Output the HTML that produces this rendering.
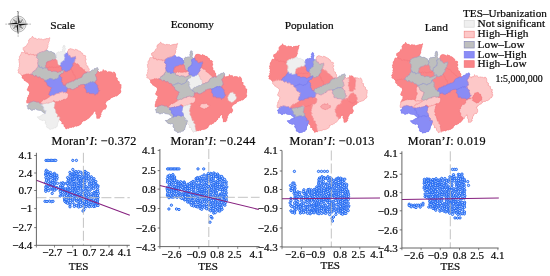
<!DOCTYPE html>
<html lang="en"><head><meta charset="utf-8"><title>Moran scatter and LISA cluster maps</title>
<style>html,body{margin:0;padding:0;background:#fff;}body{width:550px;height:276px;overflow:hidden;position:relative;}</style>
</head><body>
<svg width="550" height="276" viewBox="0 0 550 276" style="position:absolute;left:0;top:0;display:block">
<rect width="550" height="276" fill="#fff"/>
<g>
<path d="M52.8,106.4 54.4,109.6 53.9,110.1 54.8,110.6 54.9,113.7 55.5,113.5 57.0,115.1 56.3,115.8 56.6,117.8 58.8,118.5 57.7,123.3 58.2,121.7 59.0,121.4 59.4,119.6 62.0,122.0 61.7,124.0 63.6,124.0 63.9,126.3 65.5,127.8 65.8,128.9 66.4,129.1 67.4,128.2 68.5,128.2 68.8,128.8 69.2,127.6 71.9,127.5 72.4,126.8 73.0,127.6 75.4,126.1 76.4,126.5 77.0,125.7 77.9,126.1 81.2,124.1 81.9,122.0 82.3,122.1 83.3,120.9 84.8,120.9 86.3,119.8 86.7,120.0 87.8,118.5 89.0,118.3 89.9,116.8 91.3,115.8 91.7,114.2 92.8,114.4 93.5,112.5 94.5,111.2 95.8,111.4 95.6,113.6 97.0,115.9 96.5,115.8 96.7,118.3 99.7,118.2 100.0,116.7 100.9,116.6 100.3,115.8 101.6,113.9 101.0,114.0 101.1,112.9 102.3,111.3 102.4,110.3 104.4,109.1 105.1,109.5 106.5,107.1 106.6,105.6 105.0,102.8 105.8,102.9 106.4,101.3 109.5,99.5 109.8,99.9 111.2,97.6 111.6,97.9 114.2,96.7 114.5,97.1 115.2,96.0 116.4,96.2 120.3,93.2 121.2,91.1 120.3,89.8 121.2,87.4 121.3,84.7 119.4,84.0 119.4,81.7 117.2,80.3 117.4,78.0 115.5,77.2 116.0,76.0 115.8,74.2 114.6,72.2 113.4,71.8 113.5,73.9 111.9,72.1 110.6,71.8 107.9,71.8 106.7,72.7 106.7,71.0 105.1,70.6 104.0,71.0 103.1,69.3 102.6,71.4 100.3,71.7 99.3,72.3 97.7,70.4 98.4,69.7 97.2,67.5 96.8,71.3 95.4,73.6 93.9,74.1 94.5,75.4 93.6,77.2 94.6,77.9 95.2,77.1 95.8,79.3 94.8,81.0 93.0,82.1 96.8,85.9 96.5,86.6 97.9,91.2 97.0,93.0 95.1,93.7 94.3,92.9 90.2,92.7 90.2,92.3 88.6,91.3 87.3,91.7 87.1,91.0 87.6,90.5 85.5,87.6 86.1,87.0 85.6,84.8 84.6,83.4 80.3,84.0 79.2,84.7 77.8,84.7 77.4,86.4 76.5,86.3 74.7,88.0 73.6,87.7 72.9,88.8 70.1,87.5 68.4,87.8 67.6,84.7 66.6,88.4 65.6,88.3 66.2,90.6 65.5,92.0 61.6,94.8 61.9,95.4 66.7,93.7 67.5,94.4 67.0,97.3 66.1,97.3 65.9,98.4 63.6,98.3 60.2,100.2 58.9,99.4 58.2,100.7 55.7,100.9 53.8,99.7 51.2,101.2 54.4,103.1 53.7,106.3Z" fill="#FA8588" fill-rule="evenodd"/>
<path d="M28.7,103.8 30.9,103.5 31.1,102.7 33.5,102.0 36.5,102.9 38.4,102.9 40.3,104.9 42.2,101.9 43.1,101.7 43.6,100.5 45.3,100.7 46.1,99.6 47.4,99.3 48.7,98.0 49.8,98.0 51.0,95.3 49.7,94.3 52.9,87.2 49.6,85.7 49.9,85.2 48.3,85.0 47.5,82.2 46.8,82.0 45.2,80.3 45.2,79.4 43.3,78.0 42.0,77.9 39.0,75.7 38.0,76.3 36.8,74.8 34.0,74.3 34.3,75.2 33.9,74.9 33.6,74.5 34.2,73.1 33.2,73.4 35.1,70.6 28.2,70.9 27.3,69.9 26.1,71.3 24.0,70.4 23.1,71.6 22.0,71.7 20.7,73.1 20.7,74.5 21.7,75.2 22.1,76.5 21.9,77.6 23.8,79.3 24.3,80.1 23.9,80.5 25.8,81.2 27.1,82.5 27.7,82.2 29.0,84.1 29.0,85.7 27.2,89.3 27.5,90.6 29.8,91.9 29.1,93.5 29.6,93.9 28.3,95.5 28.1,97.6 27.3,97.2 27.3,99.3 26.5,101.0 26.9,103.2 28.9,102.8Z" fill="#FA8588" fill-rule="evenodd"/>
<path d="M24.4,53.6 25.3,54.6 26.9,54.0 27.8,55.7 30.8,55.2 31.3,55.6 33.0,55.5 32.9,56.0 34.2,56.4 35.8,55.9 35.5,60.8 35.9,60.9 38.0,54.7 40.1,53.3 41.8,53.2 42.2,52.6 42.8,53.0 46.5,51.5 46.5,50.4 48.2,46.5 47.8,45.0 49.1,43.4 47.4,44.7 49.1,41.7 49.3,39.7 50.1,38.1 49.8,37.6 48.6,38.5 45.8,38.4 45.7,39.2 44.0,38.9 42.9,40.0 41.2,38.7 39.9,39.2 39.1,38.7 39.2,38.2 37.0,39.5 36.0,38.2 33.6,37.8 32.4,36.0 31.8,37.5 29.7,38.7 29.3,39.8 28.5,40.1 28.7,42.1 28.0,44.8 27.5,43.2 26.1,46.3 24.2,47.1 23.4,47.9 23.1,47.4 23.0,49.8 23.7,50.6 24.9,50.9 23.9,51.9Z" fill="#FDC8C8" fill-rule="evenodd"/>
<path d="M22.9,76.6 23.6,75.9 25.7,75.4 26.0,76.4 28.2,74.9 29.0,75.4 33.6,75.2 37.2,70.6 37.2,69.5 40.1,69.6 39.6,66.7 38.6,64.6 38.9,60.4 39.4,59.7 37.4,57.0 37.7,54.3 35.0,54.2 35.1,53.4 31.9,53.8 29.8,52.9 29.5,53.8 28.9,53.8 27.1,50.9 25.9,52.5 25.5,51.1 24.1,50.4 23.8,50.7 24.9,50.9 23.3,52.4 21.5,52.3 20.4,55.4 19.3,56.6 19.8,59.3 18.6,59.3 19.2,61.2 18.8,62.1 19.5,63.1 19.4,65.0 18.9,65.3 19.5,66.0 18.5,68.0 20.3,67.1 17.8,70.2 18.5,71.7 17.9,72.7 19.4,73.5 20.2,73.3 20.4,74.3 21.7,75.2 22.1,76.4Z" fill="#FDC8C8" fill-rule="evenodd"/>
<path d="M34.9,59.7 36.5,58.6 37.2,59.6 36.6,63.3 37.3,67.8 38.0,67.2 40.0,68.5 41.3,68.2 41.8,69.8 46.7,68.6 47.2,63.3 48.7,63.5 48.7,62.2 52.0,61.3 52.6,60.6 53.2,61.0 56.2,60.2 56.6,58.6 57.5,57.4 56.8,56.1 58.0,55.8 56.5,54.5 56.7,55.8 55.1,54.4 54.6,53.1 51.5,51.5 48.5,51.6 47.8,50.2 46.5,50.4 46.9,49.4 43.0,50.9 41.9,50.0 40.9,51.3 39.5,51.5 37.6,53.0 36.7,53.1Z" fill="#BEBFBE" fill-rule="evenodd"/>
<path d="M55.8,61.2 56.5,62.3 56.6,64.6 59.3,66.8 61.6,65.1 61.9,63.0 62.9,63.0 63.3,61.8 65.3,61.1 65.3,59.1 66.1,56.9 65.4,56.5 65.1,55.2 66.2,54.4 66.5,52.9 65.6,52.9 65.7,52.4 64.7,51.3 65.6,48.4 64.9,47.4 65.2,46.1 64.1,45.3 63.7,45.1 62.4,47.6 63.4,48.9 62.1,49.2 63.0,51.4 60.5,51.4 59.1,52.2 58.1,51.4 57.8,52.5 56.4,53.1 56.7,55.8 55.3,54.6 54.5,54.7 55.4,57.2 54.7,58.5 54.9,59.5 56.1,61.0Z" fill="#EFEFEF" fill-rule="evenodd"/>
<path d="M44.8,67.4 46.4,69.1 47.7,68.5 50.3,68.8 49.9,68.0 51.0,68.6 52.2,67.8 53.0,68.7 56.9,67.8 59.3,68.1 60.2,67.2 64.2,69.3 64.6,68.7 60.2,64.8 58.6,64.0 58.1,61.6 58.7,61.1 56.6,58.7 55.9,55.1 54.8,58.7 53.5,59.1 52.2,58.2 51.2,59.4 50.0,60.0 44.7,60.8 46.1,61.6 45.4,62.6 45.2,64.9 43.7,65.9 44.9,66.5Z" fill="#FA8588" fill-rule="evenodd"/>
<path d="M42.0,66.7 46.2,69.2 46.8,68.8 46.7,69.6 47.6,71.1 49.8,71.3 51.2,72.5 53.9,71.9 55.6,72.1 56.2,72.4 56.4,73.3 59.8,72.6 61.4,74.1 61.4,71.6 67.1,71.9 67.3,71.0 62.4,69.6 62.4,68.7 63.7,68.4 61.2,65.7 59.6,64.9 58.6,66.3 57.0,66.0 53.4,66.5 53.0,66.1 51.5,66.0 50.9,66.5 49.3,65.6 47.9,66.7 46.4,67.1Z" fill="#FA8588" fill-rule="evenodd"/>
<path d="M67.5,52.9 66.5,53.3 67.3,54.5 67.3,56.0 69.2,56.3 69.4,57.2 70.9,58.4 73.8,59.1 73.7,58.4 73.9,58.6 74.6,58.0 73.8,61.0 73.0,61.8 72.9,63.7 74.3,63.6 78.1,66.1 77.2,67.8 78.8,67.4 81.2,68.8 81.4,69.4 83.6,71.1 85.8,73.6 87.7,72.7 90.4,73.8 90.7,71.3 89.7,72.1 89.8,71.1 89.1,71.0 89.0,70.2 89.4,68.9 88.0,67.3 88.0,65.9 87.0,65.9 86.1,64.3 86.5,63.3 85.0,60.6 86.0,60.3 86.3,59.0 85.2,58.0 86.1,56.8 85.1,55.3 83.5,55.3 82.2,52.8 81.2,52.9 81.2,52.2 80.0,51.0 78.0,50.7 78.0,50.1 75.8,49.4 75.3,48.8 74.7,50.3 72.7,49.0 70.3,48.6 68.6,49.2 67.5,51.4Z" fill="#FDC8C8" fill-rule="evenodd"/>
<path d="M58.9,76.2 60.9,78.1 60.3,80.2 60.9,80.6 60.0,81.8 61.6,82.9 62.8,86.1 64.1,86.0 64.2,89.2 67.5,83.9 68.2,84.5 69.3,83.2 70.5,82.8 71.6,83.1 72.1,81.9 73.8,81.9 74.3,81.4 74.7,82.1 76.5,78.5 75.7,74.8 74.0,73.5 74.0,71.1 73.1,70.9 72.4,69.7 74.5,69.1 70.8,67.6 69.3,69.4 67.1,70.0 66.8,69.7 66.0,70.7 64.0,68.6 62.4,72.5 61.3,72.4 59.4,74.0Z" fill="#FA8588" fill-rule="evenodd"/>
<path d="M70.7,70.5 71.3,71.2 71.1,72.4 72.0,72.5 72.9,75.7 74.2,75.8 74.7,78.4 74.0,80.5 77.1,79.9 78.3,80.2 78.9,79.0 82.7,77.7 83.8,74.9 85.0,74.1 86.2,73.6 88.2,73.9 86.4,68.8 87.8,66.9 86.5,65.9 83.9,69.1 83.0,68.4 82.7,67.2 80.2,66.1 80.4,65.6 78.0,62.8 76.7,63.1 74.9,61.7 72.3,62.0 72.6,62.7 71.6,63.3 72.0,65.6 67.2,72.7 68.1,73.3Z" fill="#FA8588" fill-rule="evenodd"/>
<path d="M31.2,75.5 32.0,75.4 33.9,77.3 36.1,77.1 40.0,79.4 39.6,78.1 40.3,78.7 39.9,80.2 42.6,79.8 43.4,80.3 43.4,81.5 44.9,82.5 45.8,81.3 46.1,81.5 48.3,80.3 49.0,81.3 50.1,79.4 53.4,80.7 55.3,80.8 55.5,80.0 56.6,80.0 59.9,77.7 60.1,75.6 61.3,75.2 62.1,74.3 63.9,74.2 65.3,70.6 65.2,68.6 64.0,68.8 62.8,68.2 62.2,69.7 60.6,69.9 57.9,71.4 56.0,70.4 53.7,70.0 51.8,70.6 51.3,69.7 48.7,69.4 48.7,67.6 46.7,66.8 45.3,67.1 44.7,66.7 43.0,67.6 42.3,65.6 40.3,66.6 40.4,65.2 38.4,64.5 37.8,65.1 35.7,64.9 37.0,66.3 36.2,67.0 35.3,69.0 33.8,69.6 33.5,70.5 33.0,70.3 31.1,73.2 27.1,73.6Z" fill="#BEBFBE" fill-rule="evenodd"/>
<path d="M44.6,82.2 45.3,83.5 45.9,83.7 47.0,86.5 50.3,88.3 49.3,89.6 49.7,90.3 48.8,91.4 47.7,94.1 47.7,95.3 50.7,96.8 52.8,96.0 53.9,96.5 54.4,96.2 54.0,98.9 55.5,99.1 56.4,94.6 58.6,94.2 60.7,95.3 60.2,93.3 62.6,92.7 63.1,94.5 65.2,93.1 66.5,93.9 68.1,90.9 68.6,87.9 66.5,85.7 65.9,85.7 65.9,84.6 64.0,84.2 62.5,81.3 62.7,81.0 66.1,82.2 66.6,80.7 62.5,79.1 62.9,77.8 61.7,76.0 60.9,75.6 61.4,73.1 58.8,74.2 58.0,76.8 56.2,78.1 55.4,78.0 53.8,78.9 50.8,77.6 49.0,77.6 46.1,79.5 45.3,79.0 42.3,82.8Z" fill="#898CF6" fill-rule="evenodd"/>
<path d="M59.0,63.9 59.9,66.9 60.8,67.9 60.3,69.2 61.5,70.6 63.6,70.7 64.8,72.6 66.9,72.3 67.7,73.1 68.4,71.4 70.5,70.8 74.1,66.1 73.6,64.2 74.7,63.6 76.0,59.4 78.8,58.8 76.5,57.6 76.2,55.0 71.5,56.6 69.5,53.5 69.1,54.2 67.7,51.0 67.5,52.9 65.6,52.9 65.7,52.5 64.6,53.4 63.2,53.7 63.8,57.8 63.5,59.6 61.6,61.2 60.8,61.1 59.7,63.3 59.8,64.2Z" fill="#898CF6" fill-rule="evenodd"/>
<path d="M44.4,114.6 46.3,114.4 46.5,111.9 48.3,109.7 45.4,109.9 44.6,109.0 45.3,108.6 42.8,104.8 43.9,102.1 40.5,102.6 39.7,101.3 36.9,101.2 33.6,100.0 31.5,100.9 30.1,100.1 29.6,101.7 28.0,102.4 27.9,103.0 28.9,102.8 28.5,105.0 26.4,105.8 27.5,106.1 27.8,109.0 28.9,109.2 29.5,108.8 31.6,110.4 32.9,110.2 33.2,109.4 34.5,109.8 35.4,108.9 36.3,109.1 36.7,109.9 41.0,110.4 44.7,113.4 43.8,114.0Z" fill="#BEBFBE" fill-rule="evenodd"/>
<path d="M38.6,104.3 43.3,105.1 44.1,104.4 47.0,104.0 47.6,104.4 52.5,102.8 53.4,104.1 53.8,101.9 54.5,102.3 54.8,105.5 56.6,102.7 59.3,102.5 59.6,102.0 60.7,102.2 62.0,101.1 64.6,100.8 64.3,100.2 67.0,100.0 67.6,99.1 68.2,99.0 69.3,94.8 70.0,94.0 65.5,91.1 63.9,91.5 63.0,90.8 59.0,91.6 58.1,92.4 56.6,92.7 56.7,91.8 53.7,94.4 52.7,94.0 48.8,96.3 48.4,95.6 47.1,97.5 46.1,98.2 45.4,98.0 44.7,98.9 43.7,98.4 42.2,99.3Z" fill="#FDC8C8" fill-rule="evenodd"/>
<path d="M59.9,119.8 61.0,118.5 60.6,116.0 58.9,115.6 59.4,115.1 57.1,112.6 56.8,109.7 55.1,107.6 55.8,104.2 56.5,103.4 55.8,101.9 54.0,100.7 52.4,99.7 52.2,100.7 51.3,101.3 49.3,101.8 47.8,101.4 47.8,102.4 46.2,101.3 45.7,102.6 43.3,102.7 42.9,103.1 41.1,102.7 41.0,105.0 37.8,106.8 42.1,106.6 42.8,107.8 41.9,108.2 44.7,111.8 44.7,112.8 44.1,113.0 44.7,113.4 42.6,114.7 42.0,114.3 41.9,115.2 39.6,116.6 37.1,116.7 39.8,119.7 42.4,120.7 43.3,120.2 45.1,120.5 45.6,122.5 44.9,122.4 45.2,123.5 46.9,125.2 46.4,126.6 47.1,127.8 49.1,128.4 49.8,129.6 52.5,128.8 52.7,129.3 53.9,128.1 56.2,127.7 56.6,126.2 57.3,126.5 58.2,121.7 59.0,121.4 59.4,119.6Z" fill="#EFEFEF" fill-rule="evenodd"/>
<path d="M64.1,87.3 65.6,87.4 66.8,88.6 67.0,89.6 68.1,89.9 69.3,89.4 68.9,89.8 73.4,91.0 74.3,89.8 75.9,89.5 77.1,88.2 78.6,88.5 79.2,86.5 81.0,85.7 83.0,86.3 83.1,85.3 83.9,85.3 86.1,86.1 86.3,85.0 87.4,85.3 88.3,84.0 89.0,83.8 90.3,84.3 90.7,83.0 94.6,83.2 98.5,79.9 97.6,79.1 97.6,76.2 96.7,76.1 96.4,75.2 98.5,71.9 97.7,70.4 98.4,69.8 98.4,69.3 97.5,67.5 95.7,68.5 94.1,68.6 93.8,69.9 92.3,69.7 89.7,72.1 89.8,71.1 89.3,71.4 87.9,70.8 85.4,71.4 85.6,71.9 82.9,73.3 81.7,75.0 81.2,74.7 81.0,76.5 79.4,77.2 78.4,77.0 77.3,78.0 75.1,78.8 74.6,77.8 73.1,80.1 70.9,80.0 70.5,80.9 68.0,81.9 67.4,81.4 65.9,82.9 62.6,84.1 64.8,84.8 64.2,85.9Z" fill="#BEBFBE" fill-rule="evenodd"/>
<path d="M82.3,82.7 84.1,86.4 82.2,88.5 84.3,88.9 85.2,90.4 85.6,93.6 88.4,93.4 88.5,94.3 93.5,94.6 94.0,95.1 94.7,98.6 96.0,95.3 98.5,94.7 98.8,92.9 102.6,88.7 99.2,89.6 99.3,87.8 98.5,86.7 99.4,84.8 97.4,84.2 96.7,83.0 98.7,79.0 98.2,78.6 95.3,81.9 93.5,81.2 91.8,78.4 91.7,81.4 90.3,80.6 89.1,81.9 84.9,83.7Z" fill="#898CF6" fill-rule="evenodd"/>
<path d="M84.9,86.6 83.7,87.9 84.4,88.0 86.1,90.4 85.9,90.7 86.2,91.8 86.3,92.9 87.9,92.8 88.5,92.5 89.1,92.9 89.2,93.7 93.8,94.0 94.6,94.7 94.9,96.1 95.5,94.8 96.6,94.1 97.9,94.0 98.2,92.7 100.4,90.1 98.8,90.5 98.5,89.8 98.6,88.3 98.2,88.1 97.7,86.6 98.4,85.4 98.0,85.3 96.9,84.7 95.8,83.1 96.6,81.7 96.4,81.6 95.5,82.6 95.0,82.7 94.5,82.1 93.1,81.9 92.4,80.8 92.4,82.2 91.3,82.1 90.4,81.5 89.8,82.0 89.6,82.8 89.0,82.6 87.8,83.0 86.9,83.9 86.3,83.7 85.4,84.3 85.3,84.6 83.7,84.0 84.3,85.3 84.6,85.5ZM61.6,67.8 61.1,69.0 61.9,69.9 63.2,70.1 64.0,69.8 64.2,70.5 65.2,71.9 66.5,71.8 66.9,71.3 67.5,71.9 68.0,70.7 69.2,70.7 70.0,70.2 72.0,67.1 73.3,65.9 72.8,63.9 74.0,63.2 74.0,62.3 74.8,61.5 75.1,60.2 75.0,60.0 75.5,58.8 76.7,58.6 75.7,58.0 75.8,57.3 75.6,56.0 74.4,56.6 73.9,57.1 73.3,56.5 72.3,57.0 72.4,57.6 71.4,57.3 70.4,56.6 70.1,55.5 69.6,54.8 69.3,55.2 68.4,55.1 68.4,54.1 67.9,53.4 68.1,53.2 67.5,52.1 67.5,52.9 66.3,52.9 64.7,54.2 64.4,54.1 63.9,54.3 64.4,57.3 64.7,57.4 64.2,59.0 64.2,60.2 63.3,60.3 62.3,61.1 62.1,61.9 61.2,61.9 60.4,63.4 60.6,65.2 60.1,65.0 60.5,66.6ZM48.0,86.2 49.4,86.8 50.4,87.6 51.3,87.9 50.2,89.6 50.5,90.3 49.4,91.7 49.1,93.2 48.4,94.3 48.4,94.6 48.7,94.7 49.1,95.2 50.8,96.1 52.8,95.2 53.8,95.7 55.3,94.6 55.1,95.5 55.5,95.6 55.8,94.1 58.7,93.4 59.6,93.9 59.3,92.7 59.4,92.7 60.8,92.5 62.7,92.0 63.2,92.3 63.5,93.3 64.4,92.5 65.3,92.3 66.3,92.9 67.4,90.8 67.2,89.6 67.4,89.6 67.8,88.1 66.2,86.4 65.2,86.3 65.2,85.1 64.6,84.9 63.5,85.0 62.5,82.1 61.5,81.5 62.0,80.9 62.0,80.1 63.0,80.4 63.1,80.1 61.7,79.5 62.1,77.9 61.3,76.6 60.8,76.5 60.1,75.9 60.5,74.3 59.3,74.8 58.7,76.1 58.7,77.1 56.3,78.8 55.5,78.7 54.5,79.2 54.4,79.7 53.7,79.6 52.8,79.0 50.6,78.3 49.4,78.3 48.9,79.2 48.5,78.8 47.6,79.5 46.1,80.3 45.5,79.9 44.2,81.6 44.8,81.5 45.9,82.7 46.0,83.0 46.6,83.1 46.7,84.6 47.6,86.0 48.1,86.1Z" fill="#898CF6" fill-rule="evenodd"/>
<path d="M81.8,75.9 81.7,77.0 79.4,77.9 78.6,77.8 77.9,78.4 77.6,78.9 77.3,78.7 75.9,79.1 74.8,79.9 74.5,79.3 74.1,80.2 73.4,80.8 71.4,80.7 70.9,81.8 70.5,81.6 68.7,82.2 68.1,82.9 67.4,82.4 66.3,83.5 64.9,84.1 65.7,84.3 65.7,84.6 64.8,86.1 64.8,86.7 66.0,86.8 67.4,88.3 67.6,89.0 68.1,89.2 69.0,88.7 70.0,88.6 70.6,88.9 70.2,89.3 72.5,89.8 73.2,90.1 74.1,89.0 74.8,89.2 75.5,88.9 75.9,88.3 76.8,87.4 78.1,87.7 78.7,85.8 79.5,85.8 80.7,85.0 81.6,84.9 82.4,85.3 82.4,84.7 82.6,84.7 84.0,84.6 85.6,85.2 85.7,84.5 86.4,84.1 87.1,84.4 87.4,83.9 88.0,83.4 89.0,83.0 89.8,83.4 90.2,82.2 90.4,82.0 91.2,82.5 92.8,82.6 92.8,82.2 94.5,82.5 95.6,81.8 96.3,80.4 96.7,80.5 97.4,79.9 97.0,79.4 96.6,77.8 96.8,76.8 96.2,76.7 95.4,74.8 96.0,74.6 96.6,73.9 97.0,72.9 97.8,71.7 97.9,70.8 97.7,70.4 98.4,69.8 98.4,69.3 97.5,67.5 96.9,67.5 95.7,68.5 94.7,68.4 94.1,68.6 94.1,69.2 93.8,69.9 92.3,69.7 89.6,72.2 87.8,71.5 86.3,71.9 86.6,72.6 86.0,72.5 84.5,73.1 83.3,73.9 82.6,74.7 82.0,76.0ZM33.1,75.6 34.2,76.6 35.8,76.4 35.6,75.7 36.1,75.8 36.9,77.0 38.8,78.0 38.6,77.2 39.0,76.9 39.9,77.4 41.1,78.5 40.9,79.3 42.1,79.0 42.9,79.1 44.1,80.0 44.1,81.2 44.7,81.6 45.6,80.4 46.1,80.7 47.8,79.8 48.5,79.4 48.9,80.0 49.6,78.7 50.6,78.7 52.6,79.4 53.6,80.0 54.7,80.1 54.8,79.5 55.6,79.1 56.4,79.2 59.2,77.4 59.1,76.2 59.6,75.1 61.0,74.5 61.8,73.6 62.8,73.6 63.2,73.3 63.4,73.3 63.7,71.8 64.3,71.4 64.6,70.1 64.4,69.5 63.0,69.6 62.7,70.4 62.0,70.4 60.9,70.6 60.2,70.9 60.3,71.5 60.0,71.2 59.0,71.7 57.3,72.2 57.2,71.6 55.8,71.1 54.8,71.0 53.8,70.7 52.8,71.2 51.6,71.3 50.7,70.6 50.7,70.3 48.3,70.0 47.9,69.4 48.0,68.1 46.7,67.6 46.2,67.9 46.0,67.8 46.1,66.2 45.8,65.8 46.2,65.6 46.6,63.9 46.5,62.9 46.7,62.6 48.0,62.7 47.9,61.6 50.4,61.1 51.6,60.6 52.4,59.7 53.3,60.3 55.6,59.6 55.9,58.9 55.8,58.6 56.7,57.3 56.0,56.1 55.9,55.6 56.3,55.5 55.1,54.4 54.6,53.1 54.3,53.2 52.2,52.1 51.5,51.5 50.9,51.3 49.5,51.7 48.5,51.6 48.3,50.9 47.8,50.2 46.5,50.4 46.6,50.2 45.5,50.5 45.3,50.7 44.3,51.0 42.9,51.7 42.0,51.0 41.2,52.0 39.7,52.2 38.2,53.2 38.0,53.6 37.2,53.7 36.7,54.8 36.8,55.6 36.0,58.1 36.6,57.7 38.1,59.6 37.7,60.1 37.9,61.2 37.8,62.2 37.6,62.0 37.3,63.3 37.8,64.4 37.9,65.8 37.4,65.7 37.8,66.1 37.6,67.2 36.7,67.6 36.0,68.7 36.1,69.7 35.4,69.8 34.8,70.2 34.3,70.3 34.0,71.4 33.2,71.2 32.3,72.1 32.0,73.1 31.5,73.8 29.7,74.0 31.4,74.8 32.3,74.7ZM37.1,101.9 33.5,100.8 31.5,101.7 30.5,101.1 30.1,102.4 29.6,102.4 28.8,102.8 28.5,105.0 27.5,105.7 26.4,105.8 27.5,106.1 27.9,107.9 27.8,109.0 28.9,109.2 29.5,108.8 29.7,109.0 30.0,108.8 30.0,109.2 31.6,110.4 32.9,110.2 33.2,109.4 34.5,109.8 35.4,108.9 36.3,109.1 36.7,109.9 39.6,110.5 39.5,110.3 41.0,110.4 41.9,111.5 44.7,113.4 44.4,113.6 44.7,113.9 45.7,113.8 45.8,111.6 46.7,110.5 45.1,110.7 43.5,108.7 44.3,108.3 42.7,105.5 42.0,105.5 42.1,103.9 42.6,103.1 41.2,103.4 40.2,103.3 39.6,102.8 39.2,101.9 38.6,101.7Z" fill="#BEBFBE" fill-rule="evenodd"/>
<path d="M60.9,64.8 60.8,63.5 61.4,62.3 62.4,62.3 62.6,61.3 63.4,60.7 64.6,60.5 64.6,59.0 65.2,57.2 64.8,57.0 64.4,54.6 64.7,54.7 65.6,54.0 65.8,52.9 65.6,52.9 65.7,52.4 64.7,51.3 65.6,48.4 64.9,47.4 65.2,46.1 64.1,45.3 63.9,45.4 63.7,45.1 62.4,47.6 63.4,48.9 62.1,49.2 63.0,51.4 61.3,51.6 60.5,51.4 59.1,52.2 58.1,51.4 58.1,52.0 57.8,52.5 56.6,52.8 56.4,53.1 56.7,55.8 55.9,55.1 55.4,55.2 55.7,56.3 56.2,57.3 55.6,58.0 55.5,58.6 55.5,59.1 56.3,60.3 57.1,61.1 56.7,61.4 57.2,62.2 57.0,63.3 57.5,63.9 57.4,64.3 59.1,65.8 59.4,65.4 60.1,65.6ZM42.5,105.9 43.8,108.1 42.9,108.5 43.9,110.0 45.0,111.1 45.8,111.0 45.4,111.5 45.3,113.4 44.4,113.6 42.6,114.7 42.0,114.3 41.9,115.2 41.4,115.6 40.8,115.5 39.6,116.6 38.2,116.9 37.1,116.7 38.0,118.0 39.1,119.1 39.9,119.5 39.8,119.7 42.1,120.3 42.4,120.7 43.0,120.7 43.3,120.2 45.1,120.5 45.6,122.5 44.9,122.4 45.2,123.5 46.1,124.8 46.9,125.2 46.4,126.6 47.1,127.8 48.0,127.9 49.1,128.4 49.3,129.1 49.8,129.6 52.5,128.8 52.7,129.3 53.9,128.1 55.2,128.1 56.2,127.7 56.0,127.1 56.6,126.2 57.3,126.5 57.6,124.2 58.0,123.0 58.2,121.7 58.7,121.8 59.0,121.4 59.2,119.9 59.0,120.0 60.2,118.3 60.0,116.6 58.3,116.2 57.6,116.7 57.5,116.2 58.5,115.1 57.5,113.9 56.5,113.0 56.3,112.2 56.1,112.2 56.1,111.4 55.8,109.8 55.7,109.8 55.9,109.6 54.6,108.1 54.3,107.4 54.5,107.4 54.8,106.6 55.1,104.0 55.7,103.2 55.3,102.3 52.9,100.9 52.8,101.3 52.7,101.2 51.7,102.0 49.3,102.5 48.5,102.3 48.5,103.1 47.8,103.2 46.5,102.4 46.2,103.2 44.8,103.2 43.7,103.4 43.0,103.9 41.7,103.6 41.6,105.4 40.6,106.0Z" fill="#EFEFEF" fill-rule="evenodd"/>
<path d="M68.0,55.4 69.5,55.7 69.6,55.5 70.0,56.8 71.2,57.7 72.9,58.1 72.7,57.2 73.2,57.0 73.9,57.6 74.7,56.9 75.3,56.6 75.4,57.3 75.2,58.2 75.6,58.4 75.2,58.5 74.5,60.1 74.7,60.3 74.5,61.3 73.6,62.1 73.6,62.9 74.5,62.8 75.3,63.5 77.6,65.0 77.8,64.7 77.1,64.2 77.5,64.1 79.1,65.8 78.6,66.7 79.0,66.6 81.3,68.1 81.8,68.2 82.0,69.0 84.1,70.5 86.0,72.8 86.9,72.4 86.8,72.2 87.8,72.0 89.8,72.8 89.9,71.9 89.7,72.1 89.8,71.1 89.1,71.0 89.0,70.2 89.4,68.9 88.4,68.0 88.0,67.3 88.0,65.9 87.0,65.9 86.1,64.3 86.5,63.3 86.1,63.1 85.9,62.1 85.0,60.6 86.0,60.3 86.3,59.0 85.2,58.0 85.5,57.2 86.1,56.8 85.9,56.2 85.1,55.3 83.5,55.3 83.0,55.0 83.0,53.8 82.2,52.8 81.2,52.9 81.2,52.2 80.0,51.0 78.0,50.7 78.0,50.1 75.8,49.4 75.3,48.8 74.7,50.3 72.7,49.0 72.1,49.2 71.7,48.9 70.3,48.6 69.0,49.1 68.8,49.4 68.6,49.2 67.9,50.7 67.5,51.4 67.5,52.9 67.6,53.1 67.4,53.4 68.0,54.3ZM41.6,104.0 43.1,104.4 43.8,103.7 46.4,103.6 46.7,103.0 47.7,103.6 49.0,103.4 48.9,102.9 49.2,102.9 51.8,102.3 52.6,101.8 53.0,102.3 53.2,101.3 53.7,101.0 55.2,101.9 55.3,103.4 56.3,101.9 57.4,102.0 58.9,101.8 59.3,101.0 59.9,101.3 60.5,101.4 61.7,100.4 63.3,100.5 63.6,100.4 63.4,99.9 63.9,99.5 65.4,99.6 66.6,99.4 67.1,98.4 67.7,98.3 68.3,96.9 68.6,94.5 69.0,94.1 67.3,92.8 66.4,92.5 65.4,91.9 64.2,92.2 63.7,92.6 63.5,92.1 62.8,91.5 60.7,92.1 59.3,92.3 58.8,92.6 59.0,93.1 58.7,93.0 55.4,93.7 55.4,94.0 53.8,95.2 52.7,94.8 50.8,95.7 50.0,96.5 48.5,97.2 48.4,96.9 47.6,98.1 46.7,98.5 46.4,99.0 45.7,98.8 44.8,99.8 43.8,99.2 42.7,99.8 42.3,100.7 41.5,100.9 39.8,103.7 41.2,103.8 41.8,103.7ZM22.0,75.6 22.7,75.8 23.4,75.1 23.8,75.2 25.2,74.8 26.2,74.3 26.4,75.1 27.1,74.5 28.4,74.2 29.1,74.7 31.7,74.2 32.4,73.2 32.7,72.3 33.3,71.6 34.2,71.9 34.6,70.6 34.9,70.6 35.5,70.1 36.5,70.0 36.4,68.8 37.0,67.9 38.0,67.5 38.1,66.2 38.4,66.2 38.1,65.8 38.0,65.1 37.7,63.0 37.8,62.8 38.1,63.0 38.3,61.2 38.1,60.2 38.6,59.7 37.3,57.9 36.7,57.2 37.2,55.7 37.1,54.9 37.5,54.1 38.2,54.0 38.5,53.5 39.9,52.6 41.4,52.5 42.1,51.5 42.9,52.2 44.5,51.3 45.7,51.0 46.0,49.9 46.8,49.5 47.6,47.6 48.2,46.5 47.8,45.0 49.1,43.4 47.4,44.7 49.1,41.7 49.5,40.2 49.3,39.7 50.1,38.1 49.8,37.6 48.6,38.5 45.8,38.4 45.7,39.2 44.0,38.9 42.9,40.0 42.1,39.1 41.2,38.7 39.9,39.2 39.1,38.7 39.2,38.2 37.0,39.5 36.4,38.9 36.0,38.2 34.1,38.1 33.6,37.8 32.4,36.0 31.8,37.5 30.5,38.4 29.7,38.7 29.3,39.8 28.5,40.1 28.7,42.1 28.0,44.8 27.5,43.2 27.3,44.2 26.3,45.4 26.1,46.3 24.2,47.1 23.4,47.9 23.1,47.4 23.0,49.8 23.7,50.6 24.9,50.9 24.6,51.5 24.4,51.3 23.3,52.4 21.9,52.1 21.5,52.3 20.4,55.4 20.2,55.4 19.3,56.6 19.4,58.0 19.8,59.3 18.6,59.3 18.9,60.6 19.2,61.2 18.8,61.8 18.8,62.1 19.5,63.1 19.4,65.0 18.9,65.3 19.5,66.0 19.2,67.0 18.5,68.0 20.3,67.1 17.8,70.2 18.5,71.7 17.9,72.7 19.4,73.5 20.2,73.3 20.4,74.3 21.7,75.2Z" fill="#FDC8C8" fill-rule="evenodd"/>
<path d="M54.7,103.8 54.4,106.5 54.2,107.0 53.8,107.0 54.2,108.3 55.3,109.6 55.1,109.9 55.5,110.1 55.7,111.5 55.7,112.8 56.0,112.7 56.2,113.2 57.2,114.2 57.9,115.1 57.1,116.0 57.3,117.3 58.3,116.6 59.6,116.9 59.8,118.2 59.5,118.6 59.2,120.1 59.3,120.1 59.4,119.6 62.0,122.0 61.7,124.0 62.3,124.1 63.6,124.0 64.0,125.2 63.9,126.3 65.5,127.8 65.8,128.9 66.4,129.1 66.4,129.0 67.4,128.2 68.5,128.2 68.8,128.8 69.2,127.6 71.1,127.4 71.9,127.5 72.4,126.8 73.0,127.6 73.8,126.9 75.4,126.1 76.4,126.5 77.0,125.7 77.9,126.1 79.3,125.2 80.2,124.9 80.5,124.4 81.2,124.1 81.9,122.0 82.3,122.1 83.3,120.9 84.8,120.9 86.3,119.8 86.7,120.0 87.0,119.4 87.8,118.5 89.0,118.3 89.6,117.6 89.9,116.8 91.3,115.8 91.3,114.8 91.7,114.2 92.8,114.4 93.5,112.5 94.5,111.2 95.8,111.4 95.6,113.6 97.0,115.9 96.5,115.8 96.8,116.9 96.7,118.3 97.3,118.6 98.1,118.3 98.7,118.4 99.7,118.2 100.0,116.7 100.9,116.6 101.0,116.3 100.3,115.8 101.1,114.2 101.6,113.9 101.0,114.0 101.1,112.9 102.1,111.3 102.3,111.3 102.4,110.3 104.4,109.1 105.1,109.5 106.5,107.1 106.6,105.6 106.2,105.5 105.0,102.8 105.8,102.9 106.2,102.3 106.2,101.7 106.4,101.3 107.4,101.1 108.5,100.1 109.5,99.5 109.8,99.9 109.8,99.5 111.2,97.6 111.6,97.9 112.4,97.2 114.2,96.7 114.5,97.1 115.2,96.0 116.4,96.2 118.2,95.0 118.3,94.4 120.1,93.1 120.3,93.2 121.2,91.1 120.7,90.2 120.3,89.8 120.8,89.1 121.2,87.4 121.0,87.2 120.9,85.8 121.3,84.7 121.0,84.5 119.4,84.0 119.4,81.7 118.8,81.6 118.0,80.6 117.2,80.3 117.4,78.0 115.5,77.2 116.0,76.0 115.7,75.2 115.8,74.2 115.2,73.3 114.6,72.2 113.4,71.8 113.5,73.9 111.9,72.1 110.6,71.8 110.1,72.0 109.4,71.6 107.9,71.8 106.7,72.7 106.7,71.0 105.1,70.6 104.0,71.0 103.1,69.3 102.6,71.4 101.5,71.8 100.3,71.7 99.8,72.0 99.9,72.5 99.5,72.2 99.3,72.3 98.3,71.5 97.7,70.4 97.9,70.3 97.6,69.8 97.5,71.5 96.1,73.9 95.7,74.3 94.9,74.5 95.9,77.1 96.3,77.1 96.2,77.8 96.6,79.6 96.8,79.8 96.6,80.0 96.0,80.0 95.3,81.5 94.1,82.2 94.9,83.1 95.4,83.1 96.7,85.0 97.7,85.7 97.3,86.6 97.8,88.0 97.7,88.3 98.1,88.5 98.1,89.8 98.6,91.0 99.1,90.8 97.8,92.5 97.6,93.6 96.5,93.7 95.1,94.5 95.0,94.8 95.0,94.5 94.0,93.6 92.4,93.4 92.2,93.6 91.2,93.4 89.5,93.4 89.5,92.7 88.6,92.1 87.9,92.4 86.6,92.5 86.3,90.8 86.7,90.5 86.0,89.7 85.2,88.2 84.5,87.6 85.3,86.8 85.0,85.2 84.6,85.0 84.2,84.2 82.5,84.3 82.1,84.7 81.7,84.5 80.5,84.6 79.4,85.4 78.4,85.4 77.8,87.2 76.7,87.0 75.6,88.0 75.2,88.6 74.8,88.8 73.9,88.5 73.1,89.6 71.0,89.1 71.3,88.7 70.0,88.2 68.9,88.3 67.9,88.7 67.6,87.4 67.1,89.2 66.6,89.1 67.0,90.7 66.0,92.5 64.8,93.4 64.9,93.5 66.5,92.9 67.1,93.1 68.4,94.2 68.2,94.5 67.9,96.8 67.4,98.0 66.7,98.0 66.7,98.3 66.3,99.0 65.4,99.2 63.8,99.1 62.9,99.7 63.1,100.1 61.6,100.0 60.4,101.0 60.0,101.0 59.2,100.4 58.6,101.4 57.4,101.6 56.1,101.5 55.6,102.2 55.6,101.7 53.8,100.5 52.6,101.2 55.0,102.6 55.2,103.1ZM61.6,80.8 61.0,81.6 62.1,82.4 63.2,85.4 64.5,85.3 64.8,85.4 64.9,86.8 66.2,84.7 66.0,84.1 66.5,83.9 67.5,82.9 68.1,83.5 68.9,82.6 70.5,82.0 71.2,82.3 71.6,81.2 73.6,81.2 74.5,80.2 74.7,80.7 75.4,79.5 77.1,79.2 77.8,79.4 78.2,78.7 78.7,78.2 79.5,78.3 81.0,77.8 82.1,77.2 82.1,76.6 83.0,74.9 83.5,74.2 84.7,73.4 86.1,72.9 87.2,73.1 86.4,71.0 86.2,71.1 86.4,72.2 86.2,72.3 84.4,70.3 85.2,69.3 84.9,69.0 84.1,70.0 82.4,68.8 82.2,67.8 81.5,67.7 79.5,66.5 79.3,66.3 79.5,65.7 77.7,63.6 76.6,63.9 74.7,62.4 73.6,62.5 73.6,62.9 72.4,63.7 72.8,65.8 71.7,66.8 69.7,69.9 69.1,70.3 67.7,70.4 67.3,71.2 66.9,70.7 66.3,71.4 65.4,71.5 64.3,70.1 64.0,71.1 63.4,71.5 63.1,72.9 62.7,73.2 61.6,73.1 60.8,74.2 60.0,74.5 59.7,76.0 60.6,76.9 61.0,77.0 61.7,78.0 61.2,79.7 61.6,79.9ZM46.2,68.4 46.8,68.0 47.5,68.3 47.4,69.5 48.0,70.4 50.3,70.7 51.4,71.8 52.9,71.6 53.8,71.2 54.8,71.4 55.8,71.5 56.8,71.9 57.0,72.6 57.6,72.6 59.9,71.7 60.7,72.4 60.7,71.1 62.0,70.8 63.8,70.9 63.8,70.7 61.8,70.1 61.5,69.0 61.8,68.1 62.4,68.0 59.9,65.5 59.2,65.3 57.8,64.2 57.9,63.8 57.5,63.2 57.6,62.1 57.2,61.5 57.7,61.1 56.6,60.0 55.9,58.9 55.8,57.8 55.3,59.3 53.4,59.8 52.4,59.1 51.5,60.2 50.2,60.7 48.4,61.1 46.9,61.3 47.5,61.7 47.6,62.2 46.5,62.1 46.1,62.8 46.2,63.9 45.8,65.3 45.1,65.8 45.7,66.1 45.5,67.2 46.1,67.8 45.0,67.7ZM28.8,103.1 29.7,102.8 30.4,102.8 30.8,101.7 31.5,102.1 33.4,101.2 35.9,101.9 36.0,102.1 36.6,102.3 38.9,102.2 39.2,103.0 40.2,103.8 41.8,101.3 42.6,101.1 43.1,99.9 43.8,99.6 45.0,99.9 45.7,98.9 47.0,98.7 48.3,97.4 49.3,97.2 50.1,95.5 48.8,94.4 49.5,93.3 49.8,91.9 50.7,90.8 51.0,90.3 50.6,89.7 51.8,87.6 50.6,87.2 49.6,86.5 48.6,86.0 48.7,85.8 47.8,85.6 47.1,84.5 46.9,82.8 46.3,82.6 44.9,81.0 44.5,80.9 44.5,79.8 43.1,78.7 42.1,78.6 41.4,78.7 41.5,78.4 40.1,77.1 39.0,76.5 38.1,77.0 38.1,77.2 37.2,76.7 36.4,75.4 35.0,75.2 35.3,76.0 34.3,76.1 32.8,74.6 32.9,74.2 31.4,74.3 30.5,73.9 29.8,74.2 29.2,74.2 28.5,73.7 27.0,74.1 26.6,74.4 26.5,73.6 25.1,74.5 23.8,74.8 23.3,74.7 22.6,75.4 21.3,74.7 21.4,75.0 21.7,75.2 22.1,76.5 21.9,77.6 22.5,78.6 23.8,79.3 24.3,80.1 23.9,80.5 24.6,80.5 25.8,81.2 27.1,82.5 27.7,82.2 29.0,84.1 29.0,85.7 28.4,86.6 27.8,87.9 27.9,88.5 27.2,89.3 27.5,90.6 28.6,91.1 29.8,91.9 29.4,93.4 29.1,93.5 29.6,93.9 29.3,94.5 28.3,95.5 28.1,97.6 27.3,97.2 27.3,99.3 26.5,101.0 26.7,101.2 26.6,102.4 26.9,103.2 28.9,102.8Z" fill="#FA8588" fill-rule="evenodd"/>
<path d="M59.6,119.1 59.7,119.8 62.0,122.0 61.8,124.0 63.7,124.0 64.1,125.2 64.0,126.3 65.5,127.8 65.8,128.9 66.3,129.0 67.4,128.2 68.5,128.2 68.8,128.7 69.2,127.6 71.9,127.4 72.4,126.7 73.0,127.5 74.6,126.4 75.4,126.1 76.4,126.5 76.9,125.7 77.9,126.1 79.3,125.1 80.2,124.8 80.5,124.3 81.2,124.0 81.6,122.7 81.6,121.8 82.3,122.1 83.3,120.9 84.8,120.9 86.3,119.8 86.7,120.0 86.9,119.4 87.8,118.5 89.0,118.3 89.6,117.6 89.8,116.8 91.3,115.8 91.3,114.7 91.7,114.2 92.8,114.3 93.4,112.5 94.5,111.2 95.1,111.2 95.2,110.5 95.8,111.9 95.6,113.6 97.1,115.9 96.5,115.9 96.9,116.9 96.7,118.3 97.3,118.5 98.1,118.2 98.7,118.4 99.6,118.2 100.0,116.6 100.9,116.6 100.9,116.4 100.3,115.8 101.0,114.2 101.3,114.0 101.0,114.0 101.0,112.9 102.2,111.3 102.3,110.3 104.4,109.0 105.1,109.4 106.5,107.1 106.5,105.7 106.1,105.5 104.8,102.8 105.8,102.9 106.4,101.3 107.3,101.0 108.4,100.1 109.5,99.5 109.8,99.7 109.7,99.4 111.2,97.6 111.6,97.8 112.4,97.2 114.1,96.6 114.5,97.0 115.2,95.9 116.4,96.2 118.2,95.0 118.3,94.3 120.1,93.0 120.3,93.1 121.1,91.1 120.3,89.8 120.8,89.1 121.1,87.4 120.8,87.0 121.0,86.9 120.9,85.8 121.2,84.8 120.9,84.5 119.4,84.0 119.3,81.8 118.7,81.6 117.9,80.7 116.7,80.1 117.1,80.1 117.3,78.0 115.5,77.2 115.9,76.0 115.7,75.2 115.7,74.2 114.6,72.2 113.5,71.9 113.5,72.6 112.7,73.1 111.8,72.2 110.6,71.8 109.6,72.3 109.7,71.9 109.4,71.6 107.9,71.9 107.3,72.3 106.6,71.9 106.6,71.0 105.1,70.7 103.7,71.0 103.7,70.6 103.1,69.4 102.6,71.4 101.5,71.8 100.3,71.7 100.0,71.9 100.2,72.9 98.3,71.6 97.8,70.7 97.7,71.6 96.5,73.8 95.9,74.5 95.2,74.7 96.1,76.8 96.6,76.9 96.5,77.8 96.8,79.5 97.2,79.9 96.7,80.3 96.2,80.3 95.5,81.7 94.5,82.3 95.0,82.8 95.6,82.8 96.0,82.5 95.7,83.1 96.8,84.8 98.1,85.5 97.5,86.6 98.0,88.2 98.4,88.4 98.3,89.8 98.7,90.7 99.8,90.5 98.0,92.6 97.8,93.9 96.5,94.0 95.3,94.7 95.0,95.5 94.8,94.6 93.9,93.8 89.3,93.6 89.3,92.8 88.5,92.4 87.9,92.7 86.4,92.7 86.0,90.8 86.3,90.5 85.0,88.4 84.5,87.8 84.1,87.8 85.0,86.7 84.7,85.4 84.4,85.2 84.0,84.4 82.5,84.5 82.3,84.7 82.2,85.0 81.6,84.7 80.6,84.9 79.5,85.7 78.6,85.6 78.0,87.5 76.8,87.3 75.4,88.8 74.8,89.0 74.0,88.8 73.2,89.9 70.6,89.2 70.8,88.8 70.0,88.4 69.0,88.5 68.0,89.0 67.7,88.9 67.6,88.4 67.3,89.4 66.9,89.4 67.2,90.8 66.1,92.8 66.5,92.6 67.2,92.9 68.7,94.1 68.4,94.6 68.1,96.9 67.6,98.2 67.0,98.2 66.5,99.2 65.4,99.4 63.9,99.3 63.2,99.8 63.4,100.3 61.7,100.3 60.4,101.3 59.9,101.2 59.3,100.7 58.8,101.7 57.4,101.9 56.2,101.8 55.5,102.8 55.4,101.8 53.7,100.8 53.1,101.2 55.2,102.4 55.5,103.2 55.0,103.9 54.7,106.5 54.4,107.2 54.1,107.3 54.5,108.2 55.6,109.6 55.5,109.8 55.7,109.9 55.9,112.4 56.2,112.4 56.4,113.1 58.2,115.1 57.3,116.1 57.4,116.9 58.3,116.4 59.8,116.7 60.1,118.3Z" fill="none" stroke="#F5777E" stroke-width="0.45" stroke-opacity="0.75" stroke-linejoin="round"/>
<path d="M21.8,75.3 22.2,76.5 21.9,77.6 22.6,78.5 23.9,79.3 24.3,80.1 24.0,80.5 24.6,80.4 25.8,81.2 27.1,82.5 27.5,82.2 28.0,82.5 29.0,84.1 29.0,85.8 28.4,86.7 27.9,87.9 27.9,88.6 27.2,89.3 27.5,90.6 28.6,91.1 29.8,91.9 29.5,93.4 29.2,93.5 29.7,93.9 28.3,95.5 28.2,97.6 27.4,97.3 27.4,99.3 26.6,100.9 26.7,101.2 26.6,102.4 26.9,103.1 30.2,102.6 30.6,101.4 31.5,101.8 33.5,100.9 36.0,101.7 36.2,101.9 36.7,102.0 38.6,101.9 39.1,102.0 39.4,102.9 40.1,103.4 41.6,101.1 42.4,100.9 42.9,99.7 43.8,99.4 44.9,99.6 45.6,98.6 46.9,98.4 48.2,97.1 49.2,97.0 49.8,95.6 48.8,94.8 48.5,94.4 49.3,93.2 49.6,91.8 50.7,90.3 50.4,89.6 51.5,87.8 50.4,87.4 49.5,86.7 48.3,86.1 48.3,85.9 47.7,85.8 46.9,84.6 46.7,83.0 46.1,82.8 44.9,81.3 44.3,81.1 44.3,79.9 43.0,78.9 42.1,78.8 41.1,79.1 41.2,78.5 40.0,77.3 39.0,76.8 38.4,77.2 38.4,77.6 37.0,76.9 36.2,75.7 35.4,75.5 35.6,76.3 34.2,76.4 33.2,75.5 32.4,74.5 31.4,74.6 30.5,74.2 29.2,74.5 28.4,74.0 27.1,74.3 26.5,74.8 26.3,74.0 25.2,74.7 23.8,75.1 23.4,75.0 22.7,75.7Z" fill="none" stroke="#F5777E" stroke-width="0.45" stroke-opacity="0.75" stroke-linejoin="round"/>
<path d="M45.8,49.8 47.0,49.2 47.6,47.5 48.2,46.5 47.8,45.0 48.8,43.7 48.4,42.8 49.0,41.7 49.5,40.2 49.3,39.8 49.1,39.8 50.0,38.1 49.8,37.6 48.6,38.5 45.8,38.5 45.7,39.4 44.0,38.9 43.1,39.8 43.1,40.2 42.1,39.2 41.2,38.8 39.8,39.2 39.1,38.7 39.2,38.3 36.9,39.5 36.3,38.9 36.0,38.2 34.1,38.1 33.5,37.9 32.4,36.1 31.8,37.5 30.5,38.5 29.7,38.7 29.4,39.6 29.5,39.9 28.5,40.2 28.7,42.1 28.5,42.9 27.7,43.7 27.5,43.4 27.3,44.2 26.4,45.4 26.1,46.3 24.2,47.1 23.4,47.9 23.1,47.6 23.2,48.1 23.0,48.6 23.1,49.7 23.8,50.6 25.1,50.9 24.8,51.7 25.2,53.1 25.6,53.5 27.0,53.0 27.2,52.7 28.4,54.7 30.0,54.6 30.4,53.9 30.8,54.0 31.6,54.6 34.0,54.4 34.0,55.3 34.2,55.4 35.7,54.9 36.8,55.0 36.7,56.1 36.9,55.6 36.9,54.8 37.3,53.9 38.0,53.7 38.4,53.3 39.8,52.4 41.3,52.2 42.0,51.2 42.9,51.9 44.4,51.1 45.4,50.8Z" fill="none" stroke="#F4888E" stroke-width="0.45" stroke-opacity="0.75" stroke-linejoin="round"/>
<path d="M24.2,51.6 23.3,52.5 21.9,52.2 21.5,52.3 20.5,55.3 20.8,55.5 20.2,55.4 19.3,56.7 19.4,58.0 19.7,59.0 19.1,59.3 18.7,59.3 18.9,60.6 19.2,61.2 18.8,62.1 19.6,63.0 19.4,65.1 19.0,65.3 19.5,66.0 19.2,67.0 18.6,67.9 19.0,67.8 18.7,69.1 17.8,70.2 18.7,71.6 18.0,72.6 19.4,73.4 20.2,73.3 20.4,74.2 22.1,75.4 22.7,75.5 23.3,74.9 23.8,75.0 25.1,74.6 26.3,73.9 26.6,74.6 27.0,74.2 28.4,73.9 29.2,74.4 31.5,74.0 32.2,73.1 32.5,72.1 33.2,71.3 34.1,71.6 34.5,70.4 34.8,70.4 35.4,69.9 36.2,69.8 36.2,68.8 36.8,67.7 37.7,67.3 37.9,66.1 37.5,62.9 37.7,62.4 37.9,62.5 38.0,61.2 37.8,60.2 38.3,59.7 37.1,58.0 36.6,57.5 36.3,57.6 36.6,56.4 36.7,55.1 35.7,55.0 34.2,55.5 33.9,55.4 34.0,54.5 31.6,54.7 30.8,54.1 30.4,54.0 30.1,54.7 28.3,54.8 27.2,52.8 27.1,53.1 25.5,53.6 25.1,53.2 24.7,51.8Z" fill="none" stroke="#F4888E" stroke-width="0.45" stroke-opacity="0.75" stroke-linejoin="round"/>
<path d="M36.4,57.5 36.6,57.4 37.2,58.0 38.4,59.7 37.9,60.2 38.1,61.2 38.0,62.6 37.8,62.5 37.6,63.3 38.0,64.4 38.1,65.9 38.6,65.5 39.3,65.7 39.1,66.8 40.2,67.5 41.9,66.9 42.5,68.6 43.6,68.3 44.7,67.7 45.2,68.1 45.7,67.9 45.8,66.3 45.4,65.8 46.0,65.4 46.3,63.9 46.3,62.8 46.6,62.3 47.7,62.4 47.7,61.6 47.5,61.4 48.5,61.3 51.5,60.4 52.4,59.3 53.4,60.0 55.4,59.4 55.5,58.6 56.4,57.3 55.8,56.2 55.6,55.4 56.0,55.3 55.1,54.4 54.6,53.1 53.9,53.4 53.8,53.0 52.2,52.2 51.5,51.5 50.9,51.4 49.5,51.7 48.4,51.6 48.3,50.9 47.8,50.2 45.6,50.7 45.5,50.9 44.4,51.2 42.9,52.0 42.0,51.3 41.4,52.3 39.8,52.4 38.4,53.4 38.1,53.8 37.4,53.9 37.0,54.9 37.0,55.7Z" fill="none" stroke="#9094D2" stroke-width="0.45" stroke-opacity="0.75" stroke-linejoin="round"/>
<path d="M59.3,65.2 60.1,65.3 60.7,64.7 60.6,63.4 61.3,62.0 62.2,62.1 62.4,61.2 63.3,60.5 64.4,60.3 64.4,59.0 64.9,57.4 64.5,57.2 64.1,54.5 64.5,54.3 64.7,54.4 65.4,53.8 65.7,52.4 64.7,51.4 65.6,48.4 65.2,47.9 64.8,47.8 65.2,46.1 64.1,45.3 63.9,45.4 63.7,45.2 63.3,46.1 63.8,46.6 63.1,46.5 62.4,47.6 63.0,48.4 63.0,49.0 62.2,49.2 63.0,51.4 61.3,51.7 60.5,51.4 59.1,52.3 58.2,51.6 58.2,52.1 57.9,52.5 56.7,52.8 56.5,53.1 56.6,54.3 56.2,55.3 55.7,55.4 56.5,57.3 55.8,58.1 55.8,59.0 56.5,60.1 57.4,61.1 57.0,61.4 57.4,62.1 57.3,63.2 57.8,63.8 57.7,64.3 59.1,65.5Z" fill="none" stroke="#DCDCDC" stroke-width="0.45" stroke-opacity="0.75" stroke-linejoin="round"/>
<path d="M46.4,62.8 46.4,63.9 46.1,65.5 45.6,65.8 45.9,66.0 45.8,67.1 46.6,67.9 47.5,67.5 48.7,67.6 48.6,67.3 49.4,66.6 50.9,67.5 51.8,66.9 52.6,66.9 53.2,67.6 53.9,67.2 55.4,67.3 55.9,67.0 56.9,66.9 58.1,67.2 58.9,67.1 59.8,66.0 60.3,66.2 59.7,65.7 59.1,65.6 57.6,64.3 57.7,63.8 57.2,63.2 57.3,62.1 56.9,61.4 57.3,61.1 56.4,60.2 55.6,59.0 55.5,59.5 53.4,60.1 52.4,59.5 51.6,60.5 50.3,60.9 47.7,61.5 47.8,62.5 46.7,62.4Z" fill="none" stroke="#F5777E" stroke-width="0.45" stroke-opacity="0.75" stroke-linejoin="round"/>
<path d="M47.7,69.4 48.2,70.2 50.5,70.4 51.5,71.5 52.8,71.4 53.8,70.9 54.8,71.2 55.8,71.2 57.0,71.7 57.2,72.4 59.1,71.9 59.9,71.4 60.4,71.8 60.4,71.0 62.3,70.5 61.6,70.3 61.3,69.2 61.6,67.9 61.9,67.8 60.6,66.5 59.9,66.1 59.0,67.2 58.1,67.3 56.9,67.0 55.9,67.1 55.4,67.4 53.9,67.3 53.2,67.7 52.6,67.0 51.8,67.0 50.9,67.6 49.4,66.7 48.7,67.3 48.8,67.8 47.5,67.6 47.0,67.8 47.8,68.2Z" fill="none" stroke="#F5777E" stroke-width="0.45" stroke-opacity="0.75" stroke-linejoin="round"/>
<path d="M67.9,53.1 67.7,53.4 68.2,54.2 68.3,55.2 69.4,55.4 69.6,55.1 69.9,55.5 70.3,56.7 71.3,57.5 72.6,57.8 72.5,57.1 73.3,56.7 73.9,57.3 74.5,56.7 75.5,56.3 75.7,57.3 75.5,58.1 76.2,58.5 75.3,58.7 74.8,60.0 75.0,60.2 74.7,61.4 73.9,62.2 73.9,62.7 74.6,62.6 76.6,64.0 77.6,63.8 79.3,65.7 79.1,66.3 81.4,67.8 82.0,68.0 82.2,68.9 83.7,70.0 84.1,70.2 84.4,69.9 84.2,70.3 86.1,72.5 86.6,72.3 86.6,72.0 87.8,71.7 89.6,72.4 89.7,71.1 89.1,71.1 89.0,70.2 89.4,68.9 88.6,68.3 88.5,68.3 88.0,67.3 88.0,65.9 86.9,65.8 86.1,64.3 86.4,63.4 86.1,63.1 85.9,62.2 85.1,60.6 85.9,60.3 86.2,59.0 85.2,58.0 85.4,57.2 86.0,56.8 85.9,56.2 85.0,55.4 83.5,55.4 83.0,55.0 82.9,53.8 82.1,52.9 81.1,53.1 81.2,52.2 80.0,51.1 78.0,50.8 77.9,50.1 75.8,49.4 75.3,48.9 74.6,50.3 72.7,49.1 72.1,49.3 71.6,49.0 70.3,48.7 69.3,49.0 68.8,50.0 68.6,49.5 68.3,50.0 68.5,50.1 67.5,51.4 67.5,52.5Z" fill="none" stroke="#F4888E" stroke-width="0.45" stroke-opacity="0.75" stroke-linejoin="round"/>
<path d="M60.0,75.9 60.7,76.7 61.2,76.8 62.0,77.9 61.5,79.6 62.1,79.9 61.8,79.8 61.8,80.8 61.3,81.6 62.3,82.2 63.4,85.1 64.5,85.0 65.0,85.2 65.1,86.0 65.9,84.7 65.8,84.2 65.5,84.0 66.4,83.7 67.4,82.6 68.1,83.1 68.8,82.3 70.5,81.8 71.0,82.0 71.5,80.9 73.5,80.9 74.2,80.3 74.5,79.7 74.8,80.1 75.3,79.3 75.5,78.4 75.0,76.7 75.2,76.3 74.9,75.3 74.4,74.9 73.5,74.8 72.8,72.4 72.9,71.8 72.1,71.7 72.1,70.9 71.1,69.6 71.1,69.1 71.5,68.9 71.1,68.7 69.9,70.1 69.1,70.5 67.8,70.6 67.4,71.6 66.9,71.1 66.4,71.6 65.3,71.7 64.4,70.6 64.2,71.3 63.6,71.7 63.3,73.1 62.8,73.5 61.7,73.4 60.9,74.4 60.2,74.6Z" fill="none" stroke="#F5777E" stroke-width="0.45" stroke-opacity="0.75" stroke-linejoin="round"/>
<path d="M70.8,68.9 71.0,68.6 71.7,68.9 71.2,69.1 71.2,69.6 72.2,70.9 72.2,71.6 73.0,71.8 72.9,72.3 73.6,74.7 74.4,74.8 75.0,75.3 75.3,76.3 75.2,76.7 75.6,78.4 75.4,79.3 77.1,78.9 77.7,79.1 78.6,78.0 79.4,78.1 81.8,77.1 81.9,76.2 82.1,76.3 83.1,74.2 84.6,73.2 86.0,72.7 86.8,72.8 86.7,72.4 86.1,72.6 84.1,70.3 82.2,68.9 81.9,68.0 81.3,67.9 78.9,66.4 79.2,65.8 77.6,63.9 76.7,64.1 76.8,64.3 74.6,62.7 73.9,62.8 73.9,63.1 72.7,63.8 73.1,65.9 71.9,67.0Z" fill="none" stroke="#F5777E" stroke-width="0.45" stroke-opacity="0.75" stroke-linejoin="round"/>
<path d="M31.4,74.5 32.6,74.4 32.6,74.6 33.3,75.4 34.3,76.3 35.5,76.2 35.3,75.4 36.3,75.6 37.1,76.8 38.4,77.5 38.3,77.1 39.1,76.7 40.1,77.2 41.3,78.4 41.2,78.9 42.1,78.7 43.0,78.8 44.3,79.8 44.4,81.0 44.7,81.2 45.5,80.1 46.1,80.4 48.5,79.0 48.9,79.5 49.5,78.5 50.6,78.4 52.7,79.1 53.7,79.8 54.5,79.8 54.6,79.3 55.5,78.9 56.4,79.0 58.9,77.2 58.8,76.1 59.4,74.9 60.8,74.3 61.7,73.3 62.7,73.4 63.2,73.0 63.5,71.6 64.1,71.2 64.3,70.2 64.2,69.7 63.6,69.7 63.2,69.9 62.8,70.7 62.0,70.6 60.5,71.0 60.5,72.0 59.9,71.6 57.6,72.5 57.1,72.4 57.0,71.8 55.8,71.3 54.8,71.3 53.8,71.0 52.8,71.5 51.5,71.6 50.4,70.5 48.1,70.3 47.6,69.4 47.7,68.3 46.8,67.9 46.2,68.2 45.8,68.0 45.2,68.2 44.7,67.8 43.6,68.4 42.4,68.7 41.8,67.0 40.1,67.6 39.0,66.8 39.2,65.8 38.6,65.6 38.0,66.0 37.8,67.4 36.9,67.8 36.3,68.8 36.3,69.9 35.5,70.0 34.9,70.5 34.5,70.5 34.1,71.7 33.3,71.4 32.6,72.2 32.2,73.2 31.6,74.1 30.7,74.2Z" fill="none" stroke="#9094D2" stroke-width="0.45" stroke-opacity="0.75" stroke-linejoin="round"/>
<path d="M53.8,95.4 55.6,93.8 58.7,93.2 59.2,93.4 59.0,92.7 59.3,92.4 60.7,92.3 62.8,91.7 63.4,92.2 63.6,92.8 64.2,92.3 65.4,92.1 66.2,92.6 67.1,90.7 66.8,89.4 67.2,89.4 67.5,88.2 66.0,86.6 65.0,86.5 65.0,85.3 64.5,85.1 63.3,85.2 62.3,82.3 61.2,81.6 61.7,80.8 61.7,79.8 61.4,79.6 61.9,77.9 61.1,76.9 60.7,76.7 59.9,75.9 60.1,74.7 59.5,75.0 58.9,76.1 59.0,77.3 56.4,79.1 55.6,79.0 54.7,79.4 54.6,79.9 53.7,79.9 52.7,79.2 50.6,78.5 49.5,78.5 48.9,79.7 48.5,79.1 46.1,80.5 45.6,80.2 44.8,81.2 46.2,82.8 46.8,82.9 47.0,84.5 47.7,85.8 48.4,85.9 48.4,86.1 49.6,86.6 50.5,87.3 51.6,87.7 50.5,89.7 50.8,90.3 49.7,91.8 49.4,93.3 48.6,94.4 50.9,95.8 52.7,95.0Z" fill="none" stroke="#7478EC" stroke-width="0.45" stroke-opacity="0.75" stroke-linejoin="round"/>
<path d="M64.2,54.6 64.6,57.1 65.0,57.3 64.5,59.0 64.5,60.4 63.4,60.6 62.5,61.3 62.3,62.1 61.3,62.1 60.7,63.4 60.9,65.5 60.4,65.4 60.7,66.4 62.0,67.9 61.7,68.0 61.4,69.0 62.0,69.7 63.1,69.8 64.2,69.4 64.5,70.3 65.3,71.6 66.4,71.5 66.9,71.0 67.4,71.5 67.8,70.5 69.1,70.4 69.8,70.1 71.8,66.9 73.0,65.8 72.6,63.8 73.8,63.0 73.8,62.2 74.6,61.4 74.9,60.2 74.7,60.0 75.3,58.6 76.0,58.5 75.4,58.1 75.5,57.3 75.4,56.4 74.6,56.8 73.9,57.4 73.3,56.8 72.6,57.1 72.7,57.9 71.3,57.6 70.2,56.7 69.8,55.6 69.6,55.2 69.4,55.5 68.2,55.3 68.1,54.2 67.6,53.4 67.8,53.2 67.5,52.6 67.4,53.0 66.6,53.0 64.7,54.5 64.5,54.4Z" fill="none" stroke="#7478EC" stroke-width="0.45" stroke-opacity="0.75" stroke-linejoin="round"/>
<path d="M39.4,102.9 39.0,102.1 36.7,102.1 36.1,102.0 36.0,101.8 33.5,101.1 31.5,102.0 30.7,101.5 30.3,102.7 29.6,102.7 28.9,103.0 28.6,105.0 27.5,105.7 26.7,105.9 27.5,106.1 27.9,107.9 27.8,109.0 28.9,109.2 30.2,108.5 30.2,109.3 31.6,110.4 32.9,110.1 33.2,109.3 34.5,109.7 35.4,108.9 36.5,109.1 36.7,109.9 39.5,110.4 39.5,110.2 41.0,110.4 41.9,111.5 44.8,113.6 45.4,113.5 45.6,111.5 46.1,110.8 45.0,110.9 44.1,109.9 43.2,108.6 44.0,108.2 42.5,105.8 41.3,105.8 41.8,105.5 41.9,103.8 42.1,103.4 41.2,103.6 40.1,103.6Z" fill="none" stroke="#9094D2" stroke-width="0.45" stroke-opacity="0.75" stroke-linejoin="round"/>
<path d="M41.2,103.5 42.2,103.3 42.0,103.8 43.1,104.1 43.7,103.5 46.3,103.4 46.6,102.6 47.8,103.4 48.7,103.2 48.7,102.5 49.3,102.7 50.7,102.4 51.7,102.1 52.6,101.4 52.9,101.7 53.0,101.1 53.7,100.7 55.4,101.7 55.5,102.6 56.2,101.7 57.4,101.8 58.7,101.6 59.3,100.6 60.4,101.2 61.7,100.2 63.3,100.3 63.1,99.8 63.9,99.2 65.4,99.3 66.4,99.2 66.9,98.1 67.5,98.1 68.0,96.9 68.3,94.6 68.6,94.1 67.1,93.0 66.5,92.7 65.7,93.0 66.1,92.6 65.4,92.2 64.3,92.4 63.6,93.0 63.3,92.3 62.8,91.8 60.7,92.4 59.4,92.5 59.1,92.7 59.3,93.6 58.7,93.3 55.6,93.9 55.5,94.6 55.5,94.2 53.8,95.5 52.8,95.1 50.9,95.9 50.2,96.7 48.5,97.5 48.4,97.4 47.7,98.3 46.9,98.7 46.5,99.3 45.7,99.1 44.9,100.1 43.8,99.5 42.9,100.0 42.4,101.0 41.7,101.1 40.2,103.5Z" fill="none" stroke="#F4888E" stroke-width="0.45" stroke-opacity="0.75" stroke-linejoin="round"/>
<path d="M41.9,105.5 41.6,105.7 42.6,105.7 43.5,107.0 44.1,108.2 43.3,108.6 44.1,109.8 45.1,110.8 46.3,110.7 45.7,111.6 45.5,113.6 43.8,114.0 42.6,114.7 42.0,114.4 41.9,115.2 41.4,115.7 40.8,115.6 39.6,116.6 38.2,116.9 37.2,116.8 38.1,118.0 39.2,119.1 39.9,119.5 39.9,119.7 42.1,120.2 42.5,120.7 43.0,120.7 43.3,120.1 45.2,120.5 45.8,122.5 45.0,122.5 45.2,123.5 46.2,124.8 46.9,125.4 46.4,126.6 47.1,127.8 48.0,127.8 49.1,128.3 49.4,129.1 49.9,129.5 52.5,128.8 52.7,129.2 53.9,128.0 55.2,128.0 56.1,127.7 56.0,127.1 56.5,126.2 57.3,126.4 57.5,124.2 58.0,123.0 58.1,122.0 58.9,121.3 58.9,120.3 58.5,120.3 59.2,119.2 60.0,118.2 59.7,116.8 58.3,116.5 57.4,117.0 57.2,116.1 58.1,115.1 56.3,113.1 56.1,112.5 55.8,112.5 55.6,110.0 55.3,109.8 55.5,109.6 54.4,108.2 54.0,107.2 54.3,107.2 54.6,106.5 54.9,103.9 55.4,103.2 55.1,102.5 53.1,101.2 52.9,101.9 52.6,101.5 51.8,102.2 49.3,102.8 48.8,102.7 48.8,103.3 47.8,103.5 46.6,102.7 46.3,103.5 43.8,103.6 43.1,104.2 42.0,103.9Z" fill="none" stroke="#DCDCDC" stroke-width="0.45" stroke-opacity="0.75" stroke-linejoin="round"/>
<path d="M95.4,81.6 96.1,80.2 96.6,80.2 97.1,79.9 96.7,79.6 96.4,77.8 96.5,77.0 96.0,76.9 95.1,74.6 95.8,74.4 96.4,73.7 97.6,71.6 97.6,70.1 98.4,69.8 98.3,69.3 97.5,67.6 96.9,67.6 95.7,68.5 94.7,68.4 94.2,68.7 94.2,69.3 93.8,70.0 92.4,69.8 90.3,71.5 89.7,72.5 87.8,71.8 86.7,72.1 86.9,72.9 86.1,72.8 84.6,73.3 83.2,74.3 82.2,76.4 82.0,76.3 81.9,77.1 81.0,77.6 79.5,78.2 78.7,78.1 77.7,79.2 77.3,79.0 76.0,79.3 74.8,80.3 74.5,79.9 74.3,80.4 73.5,81.0 71.5,81.0 71.1,82.1 70.5,81.9 68.8,82.4 68.1,83.3 67.5,82.7 66.4,83.8 65.7,84.0 65.9,84.1 66.0,84.7 65.1,86.1 65.1,86.4 66.1,86.5 67.6,88.1 67.8,88.9 68.0,88.9 69.0,88.4 70.0,88.3 71.0,88.7 70.7,89.2 73.1,89.8 74.0,88.7 74.8,88.9 75.3,88.7 76.8,87.2 78.0,87.4 78.5,85.5 79.5,85.6 80.6,84.8 81.6,84.6 82.2,84.9 82.2,84.6 82.5,84.4 84.1,84.3 85.4,84.9 85.5,84.4 86.3,83.9 87.0,84.1 87.9,83.2 89.0,82.8 89.7,83.1 89.9,82.1 90.4,81.7 91.3,82.2 92.6,82.3 92.6,81.5 93.0,82.0 94.4,82.2Z" fill="none" stroke="#9094D2" stroke-width="0.45" stroke-opacity="0.75" stroke-linejoin="round"/>
<path d="M84.1,84.5 84.5,85.1 84.8,85.3 85.1,86.7 84.2,87.7 84.5,87.7 85.1,88.3 86.4,90.4 86.1,90.8 86.5,92.6 87.9,92.6 88.5,92.3 89.4,92.8 89.4,93.5 93.9,93.7 94.8,94.6 95.0,95.3 95.3,94.6 96.5,93.9 97.7,93.8 97.9,92.6 99.6,90.6 98.6,90.8 98.2,89.8 98.3,88.4 97.9,88.2 97.4,86.6 98.0,85.6 96.8,84.9 95.6,83.1 95.7,82.8 94.9,82.9 94.4,82.3 92.9,82.1 92.7,81.7 92.6,82.4 91.3,82.3 90.4,81.8 90.0,82.2 89.7,83.2 89.0,82.9 87.9,83.3 87.0,84.2 86.4,84.0 85.6,84.4 85.5,85.0Z" fill="none" stroke="#7478EC" stroke-width="0.45" stroke-opacity="0.75" stroke-linejoin="round"/>
</g>
<g>
<path d="M180.4,110.2 182.0,113.3 181.5,113.8 182.4,114.3 182.5,117.3 183.1,117.2 184.5,118.7 183.9,119.4 184.1,121.3 186.3,122.0 185.2,126.7 185.7,125.1 186.4,124.8 186.9,123.1 189.3,125.4 189.1,127.4 191.0,127.4 191.2,129.6 192.7,131.1 193.0,132.1 193.7,132.3 194.6,131.5 195.7,131.5 196.0,132.0 196.6,130.9 199.0,130.7 199.5,130.0 200.1,130.8 202.4,129.4 203.4,129.8 204.0,129.1 204.8,129.4 208.1,127.4 208.7,125.4 209.1,125.5 210.1,124.3 211.6,124.4 213.0,123.3 213.4,123.5 214.5,122.0 215.6,121.9 216.5,120.4 217.9,119.4 218.3,117.8 219.3,118.0 220.0,116.2 221.0,114.9 222.3,115.1 222.0,117.2 223.4,119.5 222.9,119.4 223.1,121.9 226.0,121.7 226.4,120.2 227.3,120.2 226.6,119.3 227.9,117.6 227.4,117.6 227.4,116.6 228.5,115.0 228.6,114.0 230.7,112.8 231.3,113.2 232.7,110.9 232.7,109.5 231.2,106.8 232.0,106.8 232.6,105.3 235.6,103.5 235.9,103.9 237.3,101.7 237.6,101.9 240.1,100.8 240.4,101.2 241.2,100.1 242.3,100.3 246.1,97.4 247.0,95.3 246.1,94.1 246.9,91.7 247.1,89.2 245.3,88.4 245.2,86.2 243.0,84.8 243.3,82.6 241.5,81.8 241.9,80.7 241.7,78.9 240.6,76.9 239.4,76.5 239.4,78.6 237.9,76.9 236.6,76.5 234.0,76.6 232.9,77.5 232.8,75.7 231.3,75.4 230.3,75.8 229.3,74.2 228.8,76.2 226.6,76.4 225.6,77.0 224.2,75.2 224.8,74.6 223.6,72.4 223.2,76.1 221.8,78.4 220.4,78.8 221.0,80.1 220.1,81.9 221.1,82.5 221.7,81.7 222.3,83.9 221.3,85.5 219.5,86.6 223.3,90.3 222.9,90.9 224.3,95.4 223.4,97.2 221.6,97.9 220.8,97.1 216.8,96.9 216.8,96.5 215.3,95.5 214.0,96.0 213.8,95.3 214.3,94.8 212.3,91.9 212.8,91.3 212.3,89.2 211.4,87.9 207.1,88.4 206.1,89.1 204.8,89.1 204.3,90.8 203.5,90.6 201.8,92.3 200.7,92.0 199.9,93.1 197.3,91.8 195.6,92.1 194.8,89.1 193.8,92.7 192.8,92.6 193.5,94.8 192.8,96.2 189.0,98.9 189.3,99.5 194.0,97.9 194.7,98.5 194.2,101.3 193.3,101.4 193.2,102.4 191.0,102.4 187.6,104.2 186.4,103.4 185.7,104.7 183.2,104.9 181.4,103.7 178.9,105.1 182.0,107.0 181.3,110.2Z" fill="#FA8588" fill-rule="evenodd"/>
<path d="M157.0,107.7 159.1,107.4 159.4,106.7 161.6,105.9 164.6,106.9 166.4,106.8 168.3,108.8 170.1,105.8 170.9,105.6 171.5,104.4 173.1,104.7 173.9,103.6 175.1,103.3 176.5,102.1 177.5,102.1 178.7,99.5 177.4,98.5 180.5,91.6 177.3,90.1 177.6,89.6 176.0,89.4 175.3,86.7 174.6,86.5 173.0,84.8 173.0,84.0 171.2,82.6 169.9,82.5 167.0,80.3 166.0,80.9 164.8,79.5 162.2,79.0 162.4,79.9 162.0,79.5 161.7,79.1 162.4,77.9 161.3,78.1 163.2,75.3 156.5,75.7 155.7,74.7 154.4,76.1 152.4,75.2 151.6,76.3 150.5,76.4 149.2,77.8 149.2,79.2 150.1,79.8 150.6,81.2 150.3,82.2 152.2,83.9 152.7,84.6 152.3,85.0 154.2,85.7 155.4,87.0 156.0,86.6 157.2,88.6 157.3,90.1 155.5,93.6 155.8,94.8 158.0,96.2 157.4,97.7 157.9,98.1 156.6,99.6 156.4,101.6 155.7,101.3 155.6,103.3 154.9,104.9 155.2,107.1 157.1,106.7Z" fill="#FA8588" fill-rule="evenodd"/>
<path d="M152.8,58.9 153.6,59.9 155.3,59.3 156.1,60.9 159.0,60.4 159.5,60.8 161.2,60.7 161.1,61.2 162.3,61.5 163.9,61.1 163.6,65.8 164.0,65.9 166.0,59.9 168.1,58.5 169.7,58.5 170.1,57.8 170.7,58.3 174.3,56.8 174.3,55.7 176.0,51.9 175.6,50.5 176.8,48.9 175.2,50.2 176.8,47.3 177.0,45.3 177.8,43.8 177.5,43.2 176.3,44.1 173.6,44.1 173.5,44.8 171.9,44.5 170.8,45.6 169.1,44.4 167.8,44.8 167.1,44.4 167.2,43.9 165.0,45.1 164.1,43.9 161.7,43.5 160.6,41.7 160.0,43.2 157.9,44.3 157.6,45.4 156.8,45.8 157.0,47.6 156.3,50.3 155.8,48.7 154.4,51.8 152.6,52.5 151.8,53.3 151.5,52.8 151.5,55.1 152.1,56.0 153.3,56.2 152.3,57.2Z" fill="#FBBEBE" fill-rule="evenodd"/>
<path d="M151.4,81.2 152.1,80.6 154.1,80.0 154.3,81.0 156.5,79.6 157.3,80.1 161.7,79.9 165.2,75.4 165.2,74.3 168.0,74.4 167.5,71.6 166.6,69.5 166.9,65.5 167.4,64.8 165.5,62.2 165.7,59.5 163.1,59.5 163.2,58.7 160.1,59.0 158.1,58.1 157.7,59.0 157.1,59.1 155.5,56.3 154.3,57.8 153.9,56.4 152.5,55.8 152.2,56.0 153.3,56.2 151.7,57.7 149.9,57.6 148.9,60.6 147.8,61.8 148.3,64.4 147.2,64.4 147.7,66.2 147.3,67.1 148.0,68.0 147.9,70.0 147.4,70.2 148.0,70.9 147.1,72.9 148.8,72.0 146.3,75.0 147.1,76.5 146.5,77.4 147.9,78.2 148.7,78.0 148.9,79.0 150.1,79.8 150.5,81.0Z" fill="#FDC8C8" fill-rule="evenodd"/>
<path d="M163.0,64.8 164.6,63.7 165.2,64.7 164.7,68.3 165.3,72.7 166.0,72.1 168.0,73.4 169.3,73.0 169.7,74.6 174.5,73.5 175.0,68.3 176.5,68.5 176.4,67.2 179.7,66.3 180.2,65.6 180.9,66.1 183.7,65.3 184.1,63.7 185.0,62.5 184.3,61.3 185.5,61.0 184.1,59.7 184.2,61.0 182.7,59.6 182.2,58.3 179.2,56.8 176.2,56.9 175.5,55.5 174.3,55.7 174.7,54.8 170.9,56.2 169.8,55.3 168.8,56.6 167.5,56.9 165.6,58.2 164.7,58.4Z" fill="#898CF6" fill-rule="evenodd"/>
<path d="M183.4,66.3 184.0,67.3 184.1,69.5 186.7,71.7 189.0,70.0 189.2,68.0 190.3,68.0 190.6,66.8 192.6,66.2 192.6,64.2 193.4,62.0 192.6,61.7 192.4,60.4 193.5,59.6 193.8,58.2 192.9,58.2 193.0,57.6 192.0,56.6 192.9,53.7 192.2,52.8 192.5,51.5 191.4,50.7 191.0,50.6 189.8,53.1 190.7,54.3 189.5,54.5 190.3,56.7 187.9,56.7 186.6,57.5 185.6,56.8 185.3,57.8 183.9,58.4 184.2,61.0 182.9,59.8 182.1,59.9 182.9,62.4 182.3,63.6 182.4,64.6 183.6,66.1Z" fill="#BEBFBE" fill-rule="evenodd"/>
<path d="M172.7,72.3 174.2,74.0 175.4,73.3 178.0,73.7 177.6,72.8 178.7,73.4 179.8,72.7 180.6,73.6 184.4,72.7 186.8,72.9 187.6,72.1 191.5,74.1 191.9,73.6 187.6,69.8 186.1,68.9 185.6,66.7 186.2,66.2 184.1,63.8 183.5,60.4 182.3,63.8 181.1,64.2 179.9,63.3 178.8,64.5 177.7,65.1 172.6,65.8 173.9,66.6 173.2,67.6 173.0,69.8 171.6,70.8 172.7,71.4Z" fill="#FA8588" fill-rule="evenodd"/>
<path d="M169.9,71.6 174.0,74.1 174.6,73.7 174.5,74.4 175.4,75.9 177.5,76.1 178.9,77.2 181.5,76.7 183.2,76.9 183.8,77.2 184.0,78.0 187.2,77.3 188.8,78.8 188.8,76.4 194.4,76.6 194.5,75.8 189.7,74.4 189.8,73.5 191.0,73.2 188.6,70.7 187.0,69.8 186.0,71.2 184.5,70.9 181.0,71.4 180.6,71.0 179.2,70.9 178.6,71.4 177.0,70.5 175.7,71.6 174.2,72.0Z" fill="#FDC8C8" fill-rule="evenodd"/>
<path d="M194.7,58.2 193.8,58.6 194.5,59.7 194.6,61.2 196.4,61.5 196.6,62.4 198.0,63.5 200.9,64.2 200.7,63.5 201.0,63.7 201.6,63.1 200.9,66.0 200.0,66.8 200.0,68.7 201.3,68.6 205.0,71.0 204.1,72.7 205.7,72.2 208.1,73.6 208.2,74.2 210.4,75.8 212.6,78.3 214.4,77.4 217.0,78.5 217.3,76.0 216.3,76.9 216.4,75.8 215.7,75.8 215.7,75.0 216.1,73.7 214.7,72.1 214.7,70.8 213.7,70.8 212.9,69.3 213.2,68.3 211.8,65.7 212.7,65.4 213.0,64.1 212.0,63.1 212.8,62.0 211.8,60.5 210.3,60.6 209.0,58.1 208.0,58.2 208.1,57.5 206.9,56.3 205.0,56.0 204.9,55.5 202.8,54.7 202.3,54.2 201.7,55.6 199.8,54.4 197.5,54.0 195.8,54.6 194.7,56.7Z" fill="#FA8588" fill-rule="evenodd"/>
<path d="M186.4,80.9 188.3,82.7 187.8,84.7 188.3,85.1 187.4,86.3 189.0,87.3 190.1,90.5 191.5,90.4 191.5,93.5 194.7,88.3 195.4,88.9 196.5,87.6 197.6,87.3 198.7,87.6 199.2,86.4 200.9,86.4 201.4,85.9 201.7,86.6 203.5,83.1 202.7,79.5 201.0,78.2 201.1,75.9 200.2,75.7 199.5,74.5 201.5,73.9 197.9,72.5 196.5,74.2 194.3,74.8 194.1,74.5 193.2,75.5 191.3,73.5 189.8,77.2 188.7,77.2 186.8,78.7Z" fill="#EFEFEF" fill-rule="evenodd"/>
<path d="M197.8,75.3 198.4,76.0 198.3,77.1 199.1,77.3 200.0,80.3 201.2,80.5 201.7,83.0 201.1,85.1 204.0,84.4 205.3,84.8 205.8,83.5 209.5,82.3 210.6,79.6 211.7,78.8 212.9,78.4 214.9,78.6 213.1,73.7 214.5,71.8 213.2,70.8 210.7,73.9 209.8,73.2 209.6,72.1 207.0,71.0 207.3,70.5 204.9,67.8 203.7,68.1 201.9,66.7 199.4,67.0 199.7,67.7 198.8,68.3 199.1,70.5 194.5,77.4 195.4,78.1Z" fill="#FDC8C8" fill-rule="evenodd"/>
<path d="M159.5,80.1 160.2,80.1 162.1,81.9 164.2,81.7 167.9,84.0 167.5,82.7 168.2,83.3 167.8,84.8 170.5,84.3 171.3,84.9 171.3,86.0 172.7,87.0 173.6,85.8 174.0,86.0 176.1,84.9 176.8,85.8 177.8,83.9 181.0,85.3 182.8,85.3 183.0,84.5 184.1,84.5 187.3,82.3 187.6,80.3 188.7,79.9 189.5,79.0 191.2,78.9 192.6,75.4 192.5,73.4 191.3,73.7 190.2,73.1 189.6,74.5 188.1,74.7 185.3,76.1 183.5,75.2 181.3,74.8 179.5,75.4 178.9,74.5 176.4,74.2 176.5,72.5 174.5,71.7 173.2,72.0 172.5,71.6 170.9,72.5 170.2,70.6 168.3,71.5 168.3,70.1 166.4,69.5 165.8,70.0 163.7,69.9 165.1,71.3 164.3,71.9 163.4,73.9 162.0,74.4 161.7,75.3 161.1,75.1 159.3,77.9 155.4,78.3Z" fill="#BEBFBE" fill-rule="evenodd"/>
<path d="M172.4,86.7 173.2,88.0 173.7,88.1 174.8,90.8 178.0,92.6 177.0,93.9 177.4,94.5 176.5,95.7 175.4,98.3 175.5,99.4 178.4,100.9 180.4,100.1 181.5,100.6 181.9,100.3 181.6,102.9 183.1,103.2 183.9,98.8 186.0,98.3 188.1,99.4 187.6,97.5 189.9,96.9 190.5,98.6 192.5,97.3 193.8,98.1 195.3,95.2 195.8,92.2 193.7,90.1 193.2,90.0 193.2,89.1 191.3,88.7 189.9,85.8 190.0,85.5 193.3,86.6 193.8,85.2 189.9,83.7 190.3,82.4 189.1,80.7 188.3,80.3 188.8,77.8 186.3,78.9 185.5,81.4 183.7,82.7 183.0,82.6 181.4,83.4 178.4,82.2 176.7,82.2 173.9,84.0 173.1,83.6 170.3,87.3Z" fill="#BEBFBE" fill-rule="evenodd"/>
<path d="M186.5,68.9 187.3,71.8 188.2,72.8 187.7,74.0 188.9,75.4 190.9,75.5 192.1,77.4 194.2,77.1 194.9,77.9 195.6,76.2 197.6,75.6 201.1,71.0 200.6,69.2 201.8,68.6 203.0,64.5 205.7,63.9 203.4,62.8 203.2,60.2 198.7,61.7 196.6,58.8 196.3,59.4 194.9,56.4 194.7,58.2 192.9,58.2 193.0,57.8 191.9,58.6 190.5,58.9 191.1,62.9 190.9,64.7 188.9,66.2 188.2,66.2 187.1,68.2 187.2,69.1Z" fill="#898CF6" fill-rule="evenodd"/>
<path d="M172.3,118.2 174.1,118.0 174.3,115.5 176.0,113.4 173.2,113.7 172.4,112.7 173.1,112.4 170.7,108.7 171.8,106.0 168.4,106.6 167.7,105.3 164.9,105.2 161.7,104.0 159.7,104.9 158.4,104.1 157.8,105.7 156.3,106.3 156.2,106.9 157.1,106.7 156.8,108.8 154.7,109.7 155.8,110.0 156.1,112.8 157.2,113.0 157.8,112.6 159.8,114.1 161.1,113.9 161.4,113.1 162.6,113.5 163.5,112.7 164.4,112.8 164.8,113.6 169.0,114.2 172.6,117.1 171.7,117.6Z" fill="#BEBFBE" fill-rule="evenodd"/>
<path d="M166.6,108.2 171.2,109.0 172.0,108.3 174.8,107.9 175.4,108.3 180.1,106.7 181.0,108.0 181.4,105.8 182.1,106.2 182.3,109.3 184.2,106.6 186.8,106.4 187.0,105.9 188.1,106.1 189.3,105.1 191.9,104.8 191.6,104.2 194.3,104.0 194.8,103.1 195.4,103.1 196.4,99.0 197.2,98.2 192.8,95.4 191.2,95.7 190.3,95.0 186.5,95.8 185.6,96.6 184.1,96.9 184.3,96.1 181.3,98.6 180.4,98.2 176.5,100.4 176.1,99.8 174.9,101.6 173.9,102.3 173.2,102.1 172.5,102.9 171.6,102.5 170.1,103.4Z" fill="#FDC8C8" fill-rule="evenodd"/>
<path d="M187.3,123.3 188.4,122.0 188.0,119.6 186.4,119.2 186.9,118.7 184.6,116.3 184.3,113.4 182.7,111.4 183.3,108.1 184.1,107.3 183.4,105.8 181.6,104.7 180.0,103.7 179.8,104.7 179.0,105.3 177.0,105.8 175.6,105.3 175.6,106.3 174.0,105.3 173.5,106.5 171.2,106.6 170.7,107.0 169.0,106.6 168.9,108.8 165.8,110.6 170.0,110.4 170.7,111.6 169.8,112.0 172.6,115.5 172.5,116.5 171.9,116.6 172.6,117.1 170.5,118.3 169.9,118.0 169.8,118.8 167.6,120.1 165.1,120.3 167.8,123.2 170.3,124.2 171.2,123.6 173.0,123.9 173.4,125.9 172.8,125.8 173.0,126.9 174.7,128.5 174.2,129.8 174.9,131.1 176.8,131.6 177.5,132.8 180.1,132.0 180.3,132.5 181.5,131.3 183.7,131.0 184.1,129.5 184.8,129.8 185.7,125.1 186.4,124.8 186.9,123.1Z" fill="#BEBFBE" fill-rule="evenodd"/>
<path d="M191.4,91.6 192.9,91.8 194.0,92.9 194.3,93.9 195.3,94.2 196.4,93.7 196.1,94.1 200.5,95.2 201.4,94.0 202.9,93.8 204.0,92.5 205.5,92.8 206.1,90.9 207.8,90.1 209.8,90.7 209.9,89.7 210.7,89.7 212.8,90.5 213.1,89.4 214.1,89.7 215.0,88.4 215.6,88.2 216.9,88.8 217.3,87.4 221.1,87.7 224.9,84.4 224.0,83.6 224.0,80.8 223.2,80.7 222.8,79.9 224.9,76.7 224.2,75.2 224.8,74.7 224.8,74.1 223.9,72.4 222.2,73.3 220.6,73.5 220.3,74.7 218.9,74.6 216.3,76.9 216.4,75.8 215.9,76.1 214.6,75.6 212.1,76.2 212.3,76.7 209.7,78.1 208.6,79.7 208.1,79.4 207.9,81.2 206.3,81.8 205.3,81.7 204.3,82.6 202.1,83.4 201.6,82.4 200.2,84.6 198.1,84.5 197.7,85.4 195.2,86.4 194.6,85.9 193.2,87.4 189.9,88.6 192.1,89.2 191.5,90.3Z" fill="#BEBFBE" fill-rule="evenodd"/>
<path d="M209.1,87.2 210.9,90.8 209.1,92.8 211.1,93.2 212.0,94.7 212.3,97.8 215.1,97.5 215.1,98.4 220.0,98.8 220.5,99.2 221.2,102.6 222.5,99.4 224.9,98.8 225.2,97.1 228.9,93.0 225.6,93.9 225.7,92.2 224.8,91.0 225.8,89.2 223.8,88.6 223.1,87.5 225.1,83.5 224.6,83.2 221.8,86.4 220.0,85.7 218.4,82.9 218.3,85.9 216.9,85.1 215.8,86.4 211.7,88.2Z" fill="#898CF6" fill-rule="evenodd"/>
<path d="M180.4,110.2 182.0,113.3 181.5,113.8 182.4,114.3 182.5,117.3 183.1,117.2 184.5,118.7 183.9,119.4 184.1,121.3 186.3,122.0 185.2,126.7 185.7,125.1 186.4,124.8 186.9,123.1 189.3,125.4 189.1,127.4 191.0,127.4 191.2,129.6 192.7,131.1 193.0,132.1 193.7,132.3 194.6,131.5 195.7,131.5 196.0,132.0 196.6,130.9 197.7,130.7 198.6,129.1 196.8,129.9 196.0,126.1 197.2,125.5 194.7,122.5 194.7,119.6 193.1,119.8 192.9,118.8 193.5,117.1 192.3,117.2 192.0,115.3 190.8,114.0 191.8,113.1 190.5,110.9 190.8,109.1 192.2,105.6 191.4,101.3 190.1,103.4 188.8,103.3 187.6,104.2 186.4,103.4 185.7,104.7 183.3,104.8 181.7,106.5 181.3,110.2Z" fill="#EFEFEF" fill-rule="evenodd"/>
<path d="M168.9,108.8 165.8,110.6 170.0,110.4 170.6,111.3 169.8,112.0 172.6,115.5 172.6,117.1 171.7,119.8 174.6,117.2 177.5,117.4 177.6,116.3 178.3,116.2 181.4,117.1 182.6,116.5 183.8,120.4 184.4,114.7 184.0,113.7 184.3,113.4 182.7,111.4 183.3,108.1 184.1,107.3 183.4,105.8 180.0,103.7 179.8,104.7 179.0,105.3 177.0,105.8 175.6,105.3 175.6,106.3 174.0,105.3 173.5,106.5 171.2,106.6 170.7,107.0 169.0,106.6Z" fill="#898CF6" fill-rule="evenodd"/>
<path d="M187.3,123.3 188.4,122.0 188.0,119.6 186.4,119.2 186.9,118.7 185.1,116.7 186.5,116.5 184.1,115.4 183.7,114.0 181.2,115.2 180.7,115.1 180.8,114.4 178.3,114.5 176.0,114.9 176.0,115.3 173.9,115.5 171.9,116.6 172.6,117.1 170.5,118.3 169.9,118.0 169.3,119.2 168.7,119.1 167.6,120.1 165.1,120.3 167.8,123.2 170.3,124.2 171.2,123.6 173.0,123.9 173.4,125.9 172.8,125.8 173.0,126.9 174.7,128.5 174.2,129.8 174.9,131.1 176.8,131.6 177.5,132.8 180.1,132.0 180.3,132.5 181.5,131.3 183.7,131.0 184.1,129.5 184.8,129.8 185.7,125.1 186.4,124.8 186.9,123.1Z" fill="#BEBFBE" fill-rule="evenodd"/>
<path d="M226.3,96.4 226.9,98.8 223.3,97.7 223.0,98.5 231.6,103.7 232.5,103.1 233.4,103.3 236.5,100.4 237.2,101.8 238.4,101.3 236.2,93.4 234.6,92.9 232.9,91.0 230.7,91.7 231.2,88.8 230.0,88.5 228.5,93.7 227.4,94.6 227.2,96.0Z" fill="#EFEFEF" fill-rule="evenodd"/>
<path d="M198.3,105.0 198.9,107.3 201.2,109.0 203.8,109.8 204.1,110.9 205.9,109.2 206.9,109.6 208.4,108.0 209.6,108.8 210.5,105.6 209.8,103.2 208.4,104.2 206.4,100.5 205.6,102.5 205.0,102.9 202.6,101.2 202.7,102.8 200.8,103.3 200.6,101.2 199.3,104.9Z" fill="#FDC8C8" fill-rule="evenodd"/>
<path d="M198.1,74.5 199.1,75.8 199.0,76.6 199.8,76.7 199.7,77.1 200.0,78.5 200.5,79.7 201.4,79.7 201.8,80.1 202.1,80.9 201.9,81.3 202.4,83.0 202.0,84.2 204.1,83.7 204.7,83.9 205.1,83.3 205.6,82.8 206.4,82.9 208.9,81.8 209.0,81.2 209.8,79.6 210.3,78.9 211.4,78.2 212.8,77.7 213.9,77.8 213.2,75.8 212.9,75.9 213.2,76.9 212.9,77.1 211.2,75.1 211.9,74.1 211.6,73.9 210.8,74.8 210.6,74.7 209.2,73.6 209.0,72.7 208.3,72.6 206.4,71.4 206.2,71.2 206.4,70.7 204.6,68.6 203.6,68.9 201.7,67.4 200.7,67.5 200.7,67.9 199.5,68.7 199.9,70.7 198.8,71.7 196.9,74.9 197.1,75.1 198.1,73.9ZM199.5,106.8 201.5,108.3 202.0,108.3 202.0,108.4 203.3,109.0 204.3,109.2 204.5,109.6 205.7,108.4 206.7,108.8 207.4,107.8 208.3,107.2 209.2,107.7 209.8,105.6 209.5,104.5 209.0,104.9 208.1,104.8 207.2,103.7 206.5,102.2 206.2,103.0 204.9,103.7 203.3,102.5 203.4,103.4 201.6,103.6 200.4,104.3 200.3,104.7 200.2,104.4 199.8,105.5 199.1,105.6ZM171.0,108.2 171.7,107.6 174.2,107.5 174.5,106.9 175.5,107.5 176.7,107.3 176.7,106.8 177.0,106.9 179.5,106.3 180.2,105.7 180.6,106.3 180.8,105.3 181.3,105.0 182.8,105.8 182.9,107.3 183.8,105.9 184.9,106.0 186.3,105.8 186.8,104.9 187.3,105.3 187.9,105.4 189.1,104.4 190.6,104.5 190.9,104.2 190.7,103.9 191.3,103.5 192.7,103.6 193.8,103.4 194.4,102.4 194.9,102.4 195.5,101.0 195.8,98.6 196.2,98.3 194.5,97.0 193.6,96.7 192.7,96.1 191.5,96.4 191.0,96.8 190.9,96.3 190.2,95.8 188.1,96.4 186.7,96.5 186.3,96.8 186.4,97.3 186.2,97.2 183.0,97.9 182.9,98.1 181.4,99.4 180.4,98.9 178.4,99.8 177.7,100.6 176.3,101.3 176.1,101.0 175.3,102.1 174.5,102.6 174.2,103.0 173.5,102.9 172.7,103.8 171.6,103.2 170.6,103.8 170.2,104.7 169.5,104.9 167.7,107.6 169.2,107.7 169.7,107.6 169.5,107.9ZM174.0,73.3 174.6,72.9 175.3,73.2 175.2,74.3 175.8,75.2 178.0,75.4 179.1,76.5 180.5,76.4 181.4,75.9 182.3,76.2 183.3,76.2 184.4,76.7 184.5,77.3 185.1,77.3 187.4,76.5 188.1,77.2 188.1,75.9 189.4,75.6 191.1,75.7 191.1,75.5 189.2,74.9 188.9,73.8 189.2,73.0 189.7,72.8 188.2,71.2 187.2,70.7 186.3,71.9 185.6,71.9 184.5,71.6 183.4,71.8 182.9,72.1 181.5,71.9 180.9,72.3 180.3,71.7 179.4,71.6 178.6,72.2 177.1,71.3 176.1,72.1 176.2,72.3 175.2,72.2 174.4,72.7 172.8,72.5ZM150.5,80.3 151.2,80.5 151.8,79.8 152.2,79.9 153.6,79.5 154.5,79.0 154.7,79.8 155.5,79.1 156.7,78.9 157.4,79.4 159.9,78.9 160.6,78.0 160.9,77.0 161.5,76.4 162.3,76.7 162.8,75.4 163.0,75.4 163.6,74.9 164.5,74.8 164.5,73.7 165.0,72.8 166.0,72.4 166.2,71.1 166.4,71.1 166.2,70.8 166.0,70.0 165.8,68.0 165.8,67.8 166.1,68.0 166.3,66.2 166.1,65.3 166.6,64.8 165.4,63.0 164.7,62.4 164.9,61.6 165.0,60.1 163.7,60.0 162.3,60.4 162.4,59.4 159.9,59.7 159.1,59.1 158.5,58.9 158.2,59.7 156.7,59.8 155.5,57.6 155.2,58.1 154.0,58.6 153.7,58.3 153.3,56.9 152.8,56.7 151.7,57.7 150.3,57.4 149.9,57.6 148.9,60.6 148.7,60.6 147.8,61.8 147.9,63.2 148.3,64.4 147.2,64.4 147.4,65.7 147.7,66.2 147.3,66.8 147.3,67.1 148.0,68.0 147.9,70.0 147.4,70.2 148.0,70.9 147.7,71.8 147.1,72.9 148.8,72.0 146.3,75.0 147.1,76.5 146.5,77.4 147.9,78.2 148.7,78.0 148.9,79.0 150.1,79.8Z" fill="#FDC8C8" fill-rule="evenodd"/>
<path d="M226.3,99.3 226.3,99.5 228.0,100.4 228.6,101.3 229.7,101.6 231.6,102.9 232.4,102.4 233.2,102.6 234.4,101.1 236.1,99.9 236.6,99.1 236.9,99.8 237.2,99.7 236.7,98.2 236.9,97.5 236.5,96.1 235.6,95.8 235.9,95.1 235.6,93.9 235.1,93.5 234.1,93.5 233.6,92.4 232.8,91.8 230.3,92.5 229.9,92.8 230.0,92.0 229.7,91.9 229.1,94.1 228.1,95.0 227.9,96.4 227.1,96.8 227.8,99.5 227.6,99.7ZM188.4,81.6 189.1,82.6 188.6,84.3 189.0,84.4 189.0,85.3 188.4,86.1 189.5,86.9 190.6,89.8 191.8,89.7 192.1,89.8 192.2,91.2 193.4,89.1 193.3,88.5 193.8,88.3 194.7,87.4 195.3,87.9 196.1,87.0 197.6,86.5 198.3,86.8 198.7,85.7 200.6,85.7 201.6,84.8 201.8,85.2 202.5,84.0 202.8,83.0 202.3,81.3 202.5,80.9 202.2,79.9 201.5,79.3 200.7,79.3 200.1,77.1 200.3,76.4 199.4,76.3 199.5,75.7 198.5,74.4 198.5,74.1 199.4,73.8 198.1,73.3 196.9,74.7 196.3,75.1 194.9,75.2 194.6,76.0 194.1,75.5 193.6,76.1 192.7,76.2 191.6,74.9 191.3,75.9 190.7,76.3 190.4,77.6 190.0,77.9 189.0,77.9 188.2,78.9 187.4,79.2 187.1,80.6 188.0,81.5ZM182.0,110.3 181.8,110.8 181.4,110.8 181.8,112.1 182.9,113.3 182.3,114.0 183.0,113.8 183.3,114.8 183.2,116.2 183.5,116.3 183.7,116.7 185.4,118.7 184.6,119.6 184.8,120.9 185.8,120.2 187.0,120.5 187.3,121.7 186.9,122.1 186.6,123.5 186.7,123.6 186.9,123.1 189.3,125.4 189.1,127.4 189.7,127.5 191.0,127.4 191.3,128.6 191.2,129.6 192.7,131.1 193.0,132.1 193.7,132.3 193.6,132.2 194.6,131.5 195.7,131.5 196.0,132.0 196.6,130.9 196.8,130.8 197.0,130.5 196.5,130.7 196.1,130.1 195.9,128.5 195.1,125.7 196.1,125.3 195.5,124.6 194.9,123.4 193.9,122.8 194.2,121.7 194.1,120.4 192.9,120.5 192.5,120.2 192.2,118.8 192.5,117.8 191.9,117.9 191.5,117.1 191.3,115.7 190.5,115.1 190.0,113.9 190.9,113.0 190.2,112.1 189.7,110.7 189.9,110.6 190.2,110.0 190.1,109.1 191.0,106.6 190.5,106.7 190.5,106.6 191.4,105.2 191.0,103.2 190.5,104.1 189.0,104.0 187.8,105.0 187.5,104.9 186.6,104.4 186.1,105.4 184.9,105.6 183.6,105.5 182.9,106.6 182.6,106.7 182.8,107.0 182.3,107.7Z" fill="#EFEFEF" fill-rule="evenodd"/>
<path d="M161.3,80.3 162.3,81.2 163.9,81.0 163.7,80.4 164.2,80.4 165.0,81.6 166.8,82.6 166.6,81.8 167.0,81.6 167.9,82.0 169.0,83.1 168.8,83.8 170.0,83.6 170.8,83.7 172.0,84.5 172.0,85.7 172.5,86.0 172.7,86.0 173.7,87.2 173.8,87.4 174.3,87.6 174.5,89.0 175.4,90.4 175.8,90.4 175.8,90.5 177.1,91.2 178.1,91.9 178.9,92.2 177.9,93.9 178.2,94.5 177.1,96.0 176.9,97.3 176.1,98.5 176.1,98.8 176.5,98.8 176.9,99.3 178.5,100.2 180.4,99.4 181.4,99.8 182.8,98.8 182.7,99.7 183.0,99.7 183.3,98.2 186.2,97.6 187.1,98.1 186.7,96.9 186.9,96.9 188.2,96.7 190.1,96.2 190.5,96.6 190.8,97.5 191.7,96.7 192.6,96.5 193.5,97.1 194.6,95.0 194.4,93.9 194.6,93.9 194.8,93.2 195.3,93.5 196.2,93.0 197.1,92.9 197.7,93.2 197.4,93.6 199.6,94.1 200.3,94.4 201.1,93.3 201.9,93.5 202.5,93.2 202.9,92.6 203.8,91.8 205.1,92.0 205.6,90.2 206.5,90.2 207.6,89.4 208.4,89.3 209.2,89.7 209.3,89.2 209.4,89.1 210.8,89.0 212.3,89.6 212.5,89.0 213.1,88.6 213.8,88.9 214.1,88.3 214.7,87.8 215.6,87.5 216.5,87.8 216.8,86.7 217.0,86.5 217.8,87.0 219.3,87.0 219.4,86.7 221.0,87.0 222.1,86.3 222.8,85.0 223.2,85.0 223.8,84.4 223.4,84.0 223.1,82.4 223.2,81.4 222.7,81.3 221.9,79.4 222.4,79.3 223.1,78.6 223.5,77.7 224.3,76.4 224.3,75.6 224.2,75.2 224.8,74.7 224.8,74.1 223.9,72.4 223.4,72.4 222.2,73.3 221.2,73.2 220.6,73.5 220.6,74.1 220.3,74.7 218.9,74.6 216.2,77.0 214.5,76.3 213.1,76.7 213.3,77.3 212.8,77.3 211.2,77.8 209.8,78.8 208.9,80.7 208.7,80.6 208.5,81.6 206.3,82.5 205.5,82.4 204.8,83.0 204.5,83.5 204.3,83.3 202.9,83.6 201.9,84.5 201.6,83.9 201.1,84.7 200.5,85.3 198.5,85.3 198.1,86.3 197.6,86.1 195.9,86.7 195.3,87.4 194.7,86.9 193.6,88.0 192.2,88.5 192.9,88.7 193.0,89.1 192.5,89.8 192.5,89.5 191.9,89.3 190.8,89.4 189.8,86.6 188.9,86.0 189.3,85.4 189.3,84.6 190.3,84.9 190.4,84.6 189.1,84.1 189.5,82.5 188.7,81.3 188.2,81.2 187.6,80.5 187.8,79.4 188.4,79.2 189.2,78.3 190.2,78.3 190.6,78.0 190.7,78.0 191.1,76.5 191.6,76.2 191.9,75.3 191.7,74.3 190.3,74.5 190.0,75.2 189.4,75.2 188.3,75.4 187.7,75.7 187.7,76.3 187.4,76.0 186.5,76.5 185.1,77.0 184.8,77.0 184.7,76.4 183.4,75.8 182.4,75.8 181.4,75.5 180.4,76.0 179.2,76.1 178.4,75.4 178.3,75.1 176.0,74.9 175.6,74.2 175.7,73.0 174.5,72.5 174.0,72.8 173.6,72.6 173.1,72.8 172.5,72.4 171.4,73.0 170.5,73.3 169.9,71.5 169.0,72.0 168.1,72.2 167.2,71.6 167.5,70.6 166.6,70.3 166.0,70.7 165.4,70.7 165.8,71.0 165.6,72.1 164.7,72.5 164.1,73.6 164.1,74.5 163.5,74.6 162.9,75.0 162.5,75.1 162.1,76.2 161.3,75.9 160.5,76.8 160.2,77.8 159.7,78.5 158.0,78.7 159.6,79.4 160.5,79.4ZM188.8,67.3 189.8,67.3 190.0,66.4 190.8,65.8 191.9,65.6 191.9,64.1 192.5,62.4 192.1,62.2 191.7,59.9 192.0,59.9 192.9,59.2 193.1,58.2 192.9,58.2 193.0,57.6 192.0,56.6 192.9,53.7 192.2,52.8 192.5,51.5 191.4,50.7 191.2,50.9 191.0,50.6 189.8,53.1 190.7,54.3 189.5,54.5 190.3,56.7 188.7,57.0 187.9,56.7 186.6,57.5 185.6,56.8 185.6,57.3 185.3,57.8 184.2,58.0 183.9,58.4 184.2,61.0 183.5,60.3 182.9,60.5 183.2,61.5 183.7,62.4 183.2,63.1 183.0,63.7 183.1,64.2 183.9,65.4 184.6,66.1 184.2,66.4 184.7,67.2 184.6,68.3 185.0,68.8 184.9,69.3 186.6,70.7 186.8,70.4 187.6,70.5 188.3,69.8 188.2,68.5ZM164.3,105.7 164.2,105.5 161.6,104.8 159.7,105.6 158.8,105.1 158.3,106.4 157.8,106.3 157.1,106.7 156.8,108.8 155.8,109.5 154.7,109.7 155.8,110.0 156.2,111.7 156.1,112.8 157.2,113.0 157.8,112.6 157.9,112.7 158.2,112.6 158.2,112.9 159.8,114.1 161.1,113.9 161.4,113.1 162.6,113.5 163.5,112.7 164.4,112.8 164.8,113.6 167.5,114.2 167.4,114.0 169.0,114.2 169.8,115.2 172.6,117.1 170.5,118.3 169.9,118.0 169.8,118.8 169.3,119.2 168.7,119.1 167.6,120.1 166.2,120.4 165.1,120.3 166.1,121.5 167.1,122.6 167.9,123.0 167.8,123.2 170.0,123.7 170.3,124.2 170.9,124.1 171.2,123.6 173.0,123.9 173.4,125.9 172.8,125.8 173.0,126.9 173.9,128.1 174.7,128.5 174.2,129.8 174.9,131.1 175.8,131.1 176.8,131.6 177.0,132.3 177.5,132.8 180.1,132.0 180.3,132.5 181.5,131.3 182.8,131.3 183.7,131.0 183.6,130.3 184.1,129.5 184.8,129.8 185.1,127.6 185.5,126.4 185.7,125.1 186.2,125.2 186.4,124.8 186.6,123.4 186.4,123.5 187.7,121.8 187.4,120.1 185.7,119.8 185.1,120.2 185.0,119.7 185.9,118.7 184.0,116.5 183.8,115.9 183.6,115.9 183.7,114.2 183.5,114.2 183.3,113.5 184.0,112.8 183.7,112.6 182.9,113.3 182.6,113.2 182.7,113.5 182.1,114.0 182.9,113.8 183.3,114.8 183.3,115.0 181.3,116.0 180.0,115.6 180.1,115.2 177.3,115.2 176.7,115.4 176.6,116.1 175.8,116.0 174.1,116.1 173.6,116.6 173.6,115.3 174.5,114.2 173.0,114.4 171.4,112.4 172.2,112.1 170.6,109.4 169.9,109.4 170.0,107.8 170.5,107.0 169.1,107.3 168.1,107.2 167.5,106.7 167.2,105.8 166.6,105.7 165.1,105.9Z" fill="#BEBFBE" fill-rule="evenodd"/>
<path d="M210.5,92.2 211.2,92.3 212.9,94.7 212.6,95.0 212.9,96.0 213.0,97.1 214.6,97.0 215.2,96.7 215.8,97.1 215.8,97.9 220.3,98.1 221.1,98.9 221.4,100.3 221.9,98.9 223.0,98.3 224.3,98.2 224.6,96.9 226.7,94.3 225.2,94.8 224.9,94.0 224.9,92.6 224.6,92.4 224.1,91.0 224.7,89.8 224.4,89.7 223.4,89.1 222.3,87.5 223.0,86.2 222.9,86.1 222.0,87.1 221.5,87.1 221.0,86.6 219.6,86.4 219.0,85.3 219.0,86.6 217.9,86.6 217.0,86.0 216.4,86.5 216.2,87.3 215.6,87.1 214.5,87.5 213.6,88.4 213.1,88.1 212.1,88.7 212.0,89.1 210.4,88.4 211.0,89.7 211.4,89.9 211.6,91.0ZM189.0,72.6 188.5,73.9 189.2,74.7 190.5,74.9 191.4,74.6 191.5,75.3 192.5,76.6 193.8,76.5 194.1,76.1 194.7,76.7 195.2,75.5 196.4,75.5 197.2,75.1 199.1,72.0 200.3,70.8 199.9,68.9 201.1,68.2 201.1,67.3 201.9,66.6 202.1,65.3 202.0,65.1 202.5,63.9 203.7,63.7 202.7,63.1 202.8,62.4 202.6,61.2 201.5,61.7 201.0,62.2 200.4,61.7 199.4,62.2 199.5,62.7 198.5,62.5 197.5,61.8 197.2,60.7 196.7,60.0 196.5,60.4 195.6,60.3 195.6,59.4 195.1,58.7 195.4,58.5 194.7,57.4 194.7,58.2 193.5,58.2 192.0,59.4 191.8,59.3 191.3,59.6 191.7,62.4 192.0,62.6 191.5,64.1 191.5,65.3 190.6,65.4 189.7,66.2 189.5,66.9 188.6,66.9 187.8,68.4 188.0,70.1 187.5,69.9 187.9,71.5ZM166.1,64.7 165.7,65.2 165.9,66.2 165.8,67.2 165.7,67.0 165.4,68.3 165.8,69.4 165.9,71.3 166.7,70.7 167.0,70.8 166.8,71.8 168.1,72.6 169.7,72.1 170.2,73.8 171.6,73.4 172.5,72.9 173.0,73.2 173.8,72.9 173.9,71.1 173.6,70.8 174.0,70.5 174.4,68.9 174.3,67.9 174.5,67.6 175.8,67.7 175.7,66.6 178.1,66.1 179.3,65.7 180.1,64.7 181.0,65.3 183.2,64.7 183.4,64.0 183.3,63.7 184.2,62.5 183.6,61.3 183.4,60.8 183.8,60.7 182.7,59.6 182.2,58.3 181.9,58.5 179.8,57.4 179.2,56.8 178.6,56.7 177.2,57.0 176.2,56.9 176.1,56.2 175.5,55.5 174.3,55.7 174.3,55.6 173.3,55.8 173.1,56.0 172.2,56.3 170.8,57.0 169.9,56.3 169.2,57.3 167.7,57.5 166.3,58.5 166.0,58.9 165.2,59.0 164.8,60.0 164.8,60.8 164.1,63.2 164.6,62.8ZM180.3,105.1 179.3,105.9 178.3,106.2 177.0,106.5 176.3,106.3 176.3,107.0 175.6,107.1 174.3,106.3 174.0,107.1 172.6,107.1 171.5,107.3 170.9,107.8 169.7,107.5 169.6,109.2 168.5,109.8 170.4,109.8 171.6,111.9 170.8,112.3 171.8,113.7 172.8,114.8 173.6,114.7 173.3,115.2 173.2,116.8 173.0,117.6 174.3,116.5 175.7,116.4 176.9,116.6 177.0,115.7 178.3,115.5 179.6,115.6 179.6,115.9 181.3,116.4 183.0,115.5 183.5,117.0 183.7,114.7 183.2,113.6 183.4,113.4 182.2,111.9 181.9,111.2 182.1,111.2 182.4,110.4 182.7,107.9 183.2,107.1 182.8,106.3 180.5,104.8 180.4,105.3Z" fill="#898CF6" fill-rule="evenodd"/>
<path d="M189.6,104.5 189.7,104.8 190.6,104.5 190.6,104.6 190.8,104.3 191.0,105.2 190.1,106.4 190.0,107.3 190.4,107.2 189.7,109.0 189.8,109.9 189.6,110.3 189.2,110.5 189.9,112.2 190.4,113.0 189.6,113.8 190.2,115.4 191.0,115.9 191.1,117.2 191.6,118.3 191.9,118.3 191.8,118.7 192.1,120.5 192.7,120.9 193.7,120.8 193.8,121.7 193.4,122.9 194.6,123.7 195.5,125.2 194.7,125.5 195.3,127.8 195.2,128.1 195.5,128.6 195.7,130.3 196.4,131.3 196.6,130.9 198.3,130.7 199.0,130.7 199.5,130.0 200.1,130.8 200.9,130.2 202.4,129.4 203.4,129.8 204.0,129.1 204.8,129.4 206.2,128.5 207.1,128.2 207.4,127.7 208.1,127.4 208.7,125.4 209.1,125.5 210.1,124.3 211.6,124.4 213.0,123.3 213.4,123.5 213.7,122.9 214.5,122.0 215.6,121.9 216.3,121.1 216.5,120.4 217.9,119.4 217.9,118.4 218.3,117.8 219.3,118.0 220.0,116.2 221.0,114.9 222.3,115.1 222.0,117.2 223.4,119.5 222.9,119.4 223.2,120.5 223.1,121.9 223.8,122.1 224.5,121.8 225.1,122.0 226.0,121.7 226.4,120.2 227.3,120.2 227.3,119.9 226.6,119.3 227.4,117.9 227.9,117.6 227.4,117.6 227.4,116.6 228.4,115.0 228.5,115.0 228.6,114.0 230.7,112.8 231.3,113.2 232.7,110.9 232.7,109.5 232.4,109.4 231.2,106.8 232.0,106.8 232.3,106.2 232.4,105.7 232.6,105.3 233.5,105.0 234.6,104.1 235.6,103.5 235.9,103.9 235.9,103.5 237.3,101.7 237.6,101.9 238.4,101.3 240.1,100.8 240.4,101.2 241.2,100.1 242.3,100.3 244.1,99.2 244.2,98.5 245.9,97.3 246.1,97.4 247.0,95.3 246.5,94.5 246.1,94.1 246.6,93.4 246.9,91.7 246.8,91.6 246.7,90.2 247.1,89.2 246.7,88.9 245.3,88.4 245.2,86.2 244.6,86.1 243.8,85.1 243.0,84.8 243.3,82.6 241.5,81.8 241.9,80.7 241.6,79.9 241.7,78.9 241.1,78.1 240.6,76.9 239.4,76.5 239.4,78.6 237.9,76.9 236.6,76.5 236.1,76.8 235.5,76.4 234.0,76.6 232.9,77.5 232.8,75.7 231.3,75.4 230.3,75.8 229.3,74.2 228.8,76.2 227.8,76.5 226.6,76.4 226.1,76.7 226.3,77.2 225.8,76.9 225.6,77.0 224.7,76.3 224.2,75.2 224.3,75.1 224.1,74.6 223.9,76.3 222.5,78.6 222.2,79.0 221.4,79.2 222.4,81.7 222.8,81.7 222.7,82.4 223.0,84.2 223.3,84.4 223.0,84.6 222.5,84.6 221.8,86.0 220.6,86.7 221.4,87.5 221.9,87.5 223.1,89.4 224.2,90.0 223.7,91.0 224.2,92.3 224.2,92.7 224.5,92.8 224.5,94.1 225.0,95.2 225.5,95.1 224.2,96.7 224.0,97.8 222.9,97.9 221.6,98.7 221.5,98.9 221.5,98.7 220.5,97.8 218.9,97.6 218.8,97.7 217.8,97.6 216.2,97.6 216.1,96.9 215.2,96.3 214.5,96.6 213.3,96.7 213.0,95.1 213.4,94.7 212.7,93.9 212.0,92.6 211.3,91.9 212.0,91.1 211.7,89.6 211.3,89.4 210.9,88.6 209.3,88.7 208.9,89.1 208.5,88.9 207.4,89.1 206.3,89.8 205.3,89.8 204.8,91.6 203.7,91.4 202.6,92.3 202.2,92.9 201.8,93.1 201.0,92.8 200.2,93.9 198.1,93.3 198.4,93.0 197.2,92.5 196.1,92.6 195.1,93.0 194.8,91.7 194.3,93.5 193.8,93.4 194.2,95.0 193.3,96.7 192.1,97.6 192.2,97.7 193.8,97.1 194.3,97.3 195.6,98.3 195.4,98.7 195.1,100.9 194.7,102.0 194.0,102.0 194.0,102.3 193.6,103.0 192.6,103.2 191.2,103.1 190.2,103.7 190.4,104.2ZM228.2,99.5 227.5,97.0 228.2,96.7 228.4,95.2 229.4,94.3 229.7,93.5 230.4,92.8 232.7,92.2 233.3,92.6 233.6,93.3 233.7,93.9 235.0,93.9 235.3,94.1 235.5,95.1 235.1,96.1 236.2,96.4 236.5,97.5 236.2,98.2 236.4,98.6 235.8,99.6 234.1,100.8 233.0,102.2 232.3,102.0 231.6,102.4 230.2,101.5 230.3,101.4 228.9,100.9 228.2,100.1 227.9,99.9ZM200.1,106.6 200.7,104.6 201.7,104.0 203.2,103.8 203.8,104.5 203.8,103.3 204.9,104.1 206.5,103.2 206.9,103.9 207.9,105.2 209.1,105.3 209.3,105.2 209.4,105.6 208.9,107.1 208.2,106.7 207.1,107.5 206.5,108.3 205.6,108.0 204.7,108.9 203.4,108.7 202.5,108.2 202.6,107.9 201.6,107.9 199.8,106.6 199.6,105.9 200.0,105.9ZM195.2,60.6 196.7,60.9 196.8,60.7 197.2,62.0 198.3,62.9 200.0,63.3 199.8,62.4 200.3,62.2 201.0,62.8 201.7,62.1 202.3,61.8 202.4,62.4 202.3,63.4 202.6,63.5 202.2,63.6 201.6,65.1 201.7,65.3 201.5,66.4 200.7,67.1 200.7,67.9 201.6,67.8 202.3,68.5 204.5,69.9 204.7,69.6 204.0,69.2 204.5,69.0 206.0,70.7 205.5,71.6 205.9,71.5 208.1,72.9 208.7,73.0 208.9,73.8 210.9,75.3 212.8,77.5 213.6,77.2 213.6,76.9 214.5,76.7 216.5,77.5 216.5,76.7 216.3,76.9 216.4,75.8 215.7,75.8 215.7,75.0 216.1,73.7 215.0,72.9 214.7,72.1 214.7,70.8 213.7,70.8 212.9,69.3 213.2,68.3 212.8,68.1 212.6,67.2 211.8,65.7 212.7,65.4 213.0,64.1 212.0,63.1 212.2,62.3 212.8,62.0 212.6,61.4 211.8,60.5 210.3,60.6 209.8,60.2 209.8,59.1 209.0,58.1 208.0,58.2 208.1,57.5 206.9,56.3 205.0,56.0 204.9,55.5 202.8,54.7 202.3,54.2 201.7,55.6 199.8,54.4 199.2,54.6 198.8,54.3 197.5,54.0 196.2,54.5 196.0,54.8 195.8,54.6 195.2,56.0 194.7,56.7 194.7,58.2 194.9,58.4 194.6,58.7 195.2,59.5ZM173.5,71.1 173.4,72.0 174.3,73.1 175.3,72.6 176.9,72.8 176.6,72.2 177.1,71.8 178.6,72.6 179.5,72.0 180.2,72.0 180.8,72.7 181.6,72.3 183.0,72.5 183.5,72.2 184.4,72.0 185.5,72.3 186.5,72.3 187.4,71.2 188.8,72.0 188.9,71.9 187.3,70.4 186.6,70.3 185.3,69.2 185.4,68.7 185.0,68.2 185.1,67.1 184.7,66.5 185.2,66.1 184.2,65.1 183.4,64.0 183.3,63.0 182.9,64.4 181.0,64.9 180.0,64.2 179.1,65.2 177.9,65.7 176.2,66.2 174.7,66.3 175.3,66.7 175.3,67.3 174.3,67.2 173.9,67.8 174.0,68.9 173.6,70.3 172.9,70.7ZM182.5,106.5 182.8,107.1 183.2,106.8 183.1,105.6 181.3,104.5 180.2,105.1ZM157.1,107.0 157.9,106.7 158.6,106.7 159.0,105.7 159.7,106.1 161.6,105.2 164.0,105.8 164.1,106.0 164.7,106.2 166.9,106.2 167.2,106.9 168.1,107.7 169.7,105.2 170.5,105.1 171.0,103.9 171.7,103.7 172.8,103.9 173.6,102.9 174.8,102.7 176.1,101.4 177.1,101.3 177.8,99.7 176.5,98.5 177.2,97.5 177.5,96.1 178.4,95.0 178.7,94.5 178.3,93.9 179.5,92.0 178.2,91.5 177.3,90.9 176.3,90.4 176.5,90.1 175.6,90.0 174.9,88.9 174.7,87.3 174.1,87.1 172.8,85.5 172.4,85.5 172.3,84.3 170.9,83.3 170.0,83.2 169.4,83.3 169.5,83.0 168.1,81.7 167.0,81.1 166.1,81.7 166.1,81.8 165.3,81.3 164.4,80.1 163.1,79.9 163.4,80.7 162.4,80.8 160.9,79.3 161.1,78.9 159.6,79.0 158.8,78.6 158.0,78.9 157.5,78.9 156.7,78.4 155.3,78.8 155.0,79.1 154.8,78.3 153.4,79.2 152.2,79.5 151.7,79.4 151.0,80.0 149.8,79.4 149.9,79.7 150.1,79.8 150.6,81.2 150.3,82.2 151.0,83.1 152.2,83.9 152.7,84.6 152.3,85.0 152.9,85.0 154.2,85.7 155.4,87.0 156.0,86.6 157.2,88.6 157.3,90.1 156.7,91.0 156.1,92.3 156.2,92.8 155.5,93.6 155.8,94.8 156.9,95.3 158.0,96.2 157.7,97.5 157.4,97.7 157.9,98.1 157.5,98.7 156.6,99.6 156.4,101.6 155.7,101.3 155.6,103.3 154.9,104.9 155.0,105.2 154.9,106.3 155.2,107.1 157.1,106.7Z" fill="#FA8588" fill-rule="evenodd"/>
<path d="M155.5,58.4 156.5,60.2 158.4,60.0 158.7,59.4 159.7,60.1 161.9,59.9 161.8,60.7 162.3,60.8 163.8,60.4 164.6,60.5 164.6,62.6 165.2,60.9 165.2,60.1 165.5,59.3 166.2,59.2 166.5,58.7 167.9,57.9 169.4,57.8 170.0,56.9 170.8,57.5 172.3,56.6 173.5,56.3 173.8,55.3 174.6,54.9 175.4,53.0 176.0,51.9 175.6,50.5 176.8,48.9 175.2,50.2 176.8,47.3 177.2,45.8 177.0,45.3 177.8,43.8 177.5,43.2 176.3,44.1 173.6,44.1 173.5,44.8 171.9,44.5 170.8,45.6 170.0,44.8 169.1,44.4 167.8,44.8 167.1,44.4 167.2,43.9 165.0,45.1 164.4,44.6 164.1,43.9 162.3,43.8 161.7,43.5 160.6,41.7 160.0,43.2 158.8,44.1 157.9,44.3 157.6,45.4 156.8,45.8 157.0,47.6 156.3,50.3 155.8,48.7 155.6,49.7 154.7,50.9 154.4,51.8 152.6,52.5 151.8,53.3 151.5,52.8 151.5,55.1 152.1,56.0 153.3,56.2 152.9,57.0 153.4,58.5 153.8,59.1Z" fill="#FBBEBE" fill-rule="evenodd"/>
<path d="M193.3,97.0 193.8,96.8 194.4,97.1 195.9,98.3 195.7,98.6 195.3,101.0 194.8,102.2 194.2,102.3 193.7,103.3 192.7,103.4 191.2,103.3 190.5,103.8 190.7,104.1 191.0,103.7 191.3,105.2 190.3,106.5 190.3,106.9 190.8,106.9 189.9,109.0 190.0,110.0 189.8,110.5 189.5,110.6 190.1,112.1 190.7,113.0 189.9,113.9 190.4,115.2 191.2,115.8 191.3,117.1 191.8,118.1 192.3,118.0 192.0,118.8 192.3,120.3 192.8,120.7 193.9,120.6 194.1,121.7 193.7,122.9 194.8,123.5 195.8,125.2 195.0,125.7 195.7,128.5 196.0,130.2 196.4,130.8 199.0,130.7 199.5,130.0 200.1,130.8 201.6,129.7 202.4,129.4 203.3,129.7 203.9,129.0 204.8,129.4 206.2,128.4 207.1,128.2 207.4,127.7 208.0,127.4 208.4,126.1 208.4,125.2 209.1,125.5 210.1,124.3 211.6,124.3 213.0,123.2 213.4,123.4 213.6,122.9 214.5,122.0 215.6,121.8 216.2,121.1 216.5,120.4 217.8,119.3 217.9,118.4 218.3,117.8 219.3,117.9 219.9,116.1 221.0,114.9 221.6,114.9 221.7,114.2 222.3,115.6 222.1,117.2 223.5,119.5 223.0,119.4 223.3,120.5 223.2,121.8 223.8,122.0 224.5,121.7 225.1,121.9 226.0,121.7 226.3,120.2 227.2,120.1 227.2,119.9 226.6,119.3 227.4,117.8 227.6,117.6 227.3,117.7 227.3,116.5 228.5,115.0 228.6,114.0 230.6,112.8 231.3,113.2 232.7,110.9 232.7,109.5 232.3,109.4 231.1,106.7 232.0,106.8 232.6,105.2 233.5,105.0 234.6,104.1 235.6,103.5 235.9,103.7 235.8,103.4 237.2,101.7 237.6,101.9 238.4,101.2 240.1,100.7 240.4,101.1 241.2,100.0 242.3,100.3 244.0,99.1 244.1,98.5 245.0,97.8 245.9,97.2 246.1,97.3 246.9,95.3 246.1,94.1 246.6,93.4 246.9,91.7 246.5,91.4 246.7,91.3 246.7,90.2 247.0,89.2 246.7,88.9 245.2,88.5 245.2,86.3 244.6,86.1 243.8,85.2 242.6,84.7 243.0,84.6 243.2,82.6 241.4,81.9 241.9,80.7 241.6,79.9 241.7,78.9 240.6,77.0 239.5,76.6 239.5,77.4 238.7,77.8 237.9,76.9 236.6,76.6 235.7,77.1 235.8,76.6 235.5,76.4 234.0,76.6 233.4,77.1 232.8,76.7 232.8,75.8 231.3,75.5 230.0,75.8 230.0,75.4 229.3,74.3 228.9,76.2 227.8,76.6 226.6,76.5 226.4,76.6 226.6,77.7 224.7,76.3 224.2,75.4 224.1,76.4 222.9,78.5 222.3,79.2 221.7,79.3 222.5,81.5 223.0,81.5 222.9,82.4 223.3,84.1 223.6,84.4 223.1,84.8 222.7,84.8 221.9,86.2 221.0,86.8 221.5,87.3 222.1,87.3 222.4,86.9 222.1,87.6 223.3,89.2 224.5,89.9 223.9,91.0 224.4,92.5 224.8,92.7 224.7,94.1 225.1,94.9 226.1,94.7 224.4,96.8 224.2,98.0 223.0,98.1 221.8,98.8 221.5,99.6 221.2,98.8 220.4,98.0 216.0,97.8 215.9,97.0 215.2,96.6 214.6,96.9 213.1,96.9 212.8,95.0 213.0,94.7 211.8,92.7 211.3,92.2 210.9,92.1 211.8,91.1 211.5,89.8 211.1,89.6 210.8,88.8 209.4,88.9 209.1,89.1 209.1,89.4 208.5,89.1 207.5,89.3 206.4,90.1 205.5,90.0 205.0,91.8 203.8,91.6 202.4,93.1 201.9,93.3 201.1,93.1 200.2,94.2 197.7,93.5 198.0,93.1 197.2,92.7 196.2,92.9 195.3,93.3 194.9,93.2 194.8,92.7 194.5,93.7 194.2,93.7 194.4,95.0ZM236.7,98.8 236.6,98.8 236.0,99.8 234.3,101.0 233.1,102.4 232.3,102.3 231.6,102.7 229.9,101.5 228.7,101.1 228.1,100.3 227.2,99.8 227.7,99.8 227.9,99.5 227.3,96.9 228.0,96.5 228.2,95.1 229.2,94.2 229.6,92.9 229.6,93.2 230.3,92.6 232.8,91.9 233.5,92.5 233.9,93.7 235.0,93.7 235.5,94.0 235.7,95.1 235.4,95.9 236.4,96.2 236.8,97.5 236.5,98.2ZM209.3,104.8 209.6,105.6 209.1,107.5 208.3,107.0 207.3,107.7 206.6,108.6 205.6,108.2 204.6,109.3 204.5,109.0 203.4,108.9 202.2,108.4 202.2,108.2 201.5,108.1 199.6,106.8 199.3,105.8 200.0,105.7 200.5,104.4 201.7,103.7 203.2,103.5 203.5,103.8 203.5,102.9 204.9,103.8 206.3,103.1 206.5,102.7 207.1,103.8 208.0,105.0 209.0,105.1ZM182.9,105.8 181.3,104.8 180.7,105.1 182.7,106.4 182.9,106.7Z" fill="none" stroke="#F5777E" stroke-width="0.45" stroke-opacity="0.75" stroke-linejoin="round"/>
<path d="M150.2,79.9 150.6,81.2 150.4,82.2 151.0,83.1 152.3,83.8 152.7,84.6 152.4,85.0 153.0,85.0 154.2,85.7 155.4,87.0 155.8,86.7 156.3,87.0 157.3,88.5 157.3,90.2 156.7,91.0 156.2,92.3 156.2,92.9 155.5,93.6 155.9,94.8 156.9,95.3 158.1,96.1 157.7,97.6 157.5,97.7 157.9,98.1 156.6,99.6 156.4,101.6 155.7,101.3 155.7,103.3 154.9,104.9 155.1,105.2 155.0,106.3 155.2,107.1 158.4,106.5 158.8,105.3 159.7,105.8 161.6,104.9 164.1,105.6 164.2,105.8 164.7,106.0 166.6,105.8 167.1,106.0 167.4,106.8 168.1,107.4 169.6,105.0 170.3,104.9 170.8,103.7 171.7,103.4 172.7,103.6 173.4,102.7 174.7,102.5 175.9,101.2 176.9,101.1 177.5,99.7 176.5,99.0 176.3,98.5 177.0,97.4 177.3,96.0 178.4,94.5 178.0,93.9 179.1,92.1 178.1,91.8 177.2,91.1 176.0,90.5 176.1,90.3 175.4,90.2 174.7,89.0 174.5,87.5 173.9,87.3 172.7,85.8 172.1,85.6 172.1,84.4 170.8,83.5 170.0,83.4 169.1,83.6 169.2,83.0 168.0,81.9 167.0,81.4 166.4,81.8 166.4,82.2 165.1,81.5 164.3,80.3 163.5,80.2 163.7,80.9 162.4,81.0 161.4,80.2 160.6,79.2 159.6,79.3 158.8,78.9 157.4,79.2 156.7,78.7 155.4,79.0 154.9,79.5 154.6,78.7 153.5,79.4 152.2,79.7 151.8,79.6 151.1,80.3Z" fill="none" stroke="#F5777E" stroke-width="0.45" stroke-opacity="0.75" stroke-linejoin="round"/>
<path d="M173.6,55.1 174.8,54.6 175.3,53.0 175.9,51.9 175.5,50.5 176.6,49.2 176.2,48.4 176.8,47.3 177.2,45.8 177.0,45.4 176.9,45.4 177.7,43.8 177.5,43.3 176.3,44.2 173.7,44.2 173.5,45.0 171.9,44.6 171.0,45.5 171.0,45.8 170.0,44.8 169.1,44.5 167.8,44.8 167.1,44.4 167.2,44.0 165.0,45.1 164.4,44.6 164.0,43.9 162.2,43.8 161.7,43.6 160.6,41.9 160.0,43.2 158.8,44.1 157.9,44.3 157.7,45.2 157.8,45.5 156.8,45.8 157.0,47.6 156.8,48.5 156.0,49.2 155.8,48.9 155.6,49.7 154.7,50.9 154.4,51.8 152.6,52.5 151.8,53.3 151.6,53.0 151.6,53.5 151.4,54.0 151.5,55.1 152.2,55.9 153.4,56.2 153.2,57.0 153.6,58.4 153.9,58.8 155.3,58.3 155.5,58.0 156.7,59.9 158.3,59.8 158.6,59.1 159.0,59.2 159.8,59.9 162.2,59.6 162.1,60.5 162.3,60.6 163.7,60.1 164.8,60.2 164.8,61.3 165.0,60.8 164.9,60.1 165.3,59.1 166.1,59.0 166.4,58.6 167.8,57.6 169.2,57.5 169.9,56.5 170.8,57.2 172.2,56.4 173.3,56.1Z" fill="none" stroke="#F4888E" stroke-width="0.45" stroke-opacity="0.75" stroke-linejoin="round"/>
<path d="M152.6,56.9 151.7,57.8 150.3,57.5 150.0,57.6 149.0,60.5 149.3,60.7 148.7,60.6 147.9,61.8 148.0,63.2 148.3,64.1 147.7,64.4 147.2,64.4 147.5,65.7 147.8,66.2 147.4,67.1 148.1,68.0 148.0,70.0 147.5,70.2 148.1,70.9 147.8,71.9 147.2,72.8 147.5,72.7 147.3,73.9 146.4,75.0 147.2,76.3 146.6,77.4 147.9,78.1 148.7,78.0 148.9,78.9 150.6,80.1 151.1,80.2 151.8,79.5 152.2,79.6 153.5,79.3 154.7,78.6 154.9,79.3 155.4,78.9 156.7,78.6 157.4,79.1 159.7,78.7 160.3,77.9 160.7,76.9 161.4,76.1 162.2,76.4 162.6,75.2 162.9,75.2 163.5,74.7 164.3,74.6 164.3,73.6 164.8,72.6 165.8,72.2 165.9,71.0 165.5,67.9 165.8,67.4 165.9,67.5 166.1,66.2 165.9,65.2 166.3,64.7 165.2,63.1 164.7,62.6 164.4,62.8 164.7,61.6 164.7,60.3 163.8,60.2 162.3,60.7 162.0,60.6 162.1,59.7 159.8,60.0 159.0,59.3 158.6,59.2 158.3,59.9 156.6,60.0 155.5,58.1 155.4,58.3 153.9,58.9 153.5,58.5 153.1,57.1Z" fill="none" stroke="#F4888E" stroke-width="0.45" stroke-opacity="0.75" stroke-linejoin="round"/>
<path d="M164.5,62.6 164.7,62.5 165.3,63.1 166.4,64.7 166.0,65.3 166.2,66.2 166.0,67.6 165.8,67.5 165.6,68.3 166.1,69.3 166.1,70.8 166.6,70.4 167.3,70.6 167.1,71.7 168.1,72.4 169.8,71.8 170.4,73.5 171.5,73.2 172.5,72.6 173.1,72.9 173.6,72.8 173.6,71.2 173.2,70.7 173.8,70.3 174.1,68.9 174.1,67.8 174.4,67.3 175.5,67.4 175.4,66.6 175.3,66.4 176.2,66.3 179.2,65.4 180.0,64.4 181.0,65.1 183.0,64.5 183.1,63.7 183.9,62.4 183.4,61.4 183.1,60.6 183.5,60.5 182.6,59.7 182.2,58.4 181.4,58.6 181.4,58.3 179.8,57.4 179.2,56.8 178.6,56.7 177.2,57.0 176.2,56.9 176.0,56.2 175.5,55.6 173.4,56.0 173.3,56.2 172.3,56.5 170.8,57.3 170.0,56.6 169.3,57.6 167.8,57.7 166.4,58.6 166.1,59.1 165.4,59.2 165.0,60.1 165.1,60.9Z" fill="none" stroke="#7478EC" stroke-width="0.45" stroke-opacity="0.75" stroke-linejoin="round"/>
<path d="M186.7,70.1 187.5,70.3 188.1,69.7 188.0,68.4 188.7,67.1 189.6,67.1 189.8,66.2 190.7,65.6 191.7,65.4 191.7,64.1 192.2,62.5 191.8,62.3 191.4,59.7 191.8,59.5 192.0,59.6 192.6,59.1 192.9,57.7 192.0,56.7 192.8,53.8 192.5,53.3 192.1,53.2 192.5,51.6 191.4,50.8 191.2,50.9 191.0,50.7 190.6,51.5 191.2,52.0 190.4,51.9 189.8,53.0 190.4,53.8 190.3,54.4 189.5,54.6 190.4,56.7 188.7,57.0 187.9,56.8 186.6,57.5 185.7,56.9 185.7,57.4 185.4,57.8 184.2,58.1 184.0,58.4 184.1,59.6 183.7,60.5 183.2,60.6 184.0,62.5 183.4,63.3 183.3,64.1 184.0,65.2 184.9,66.1 184.6,66.5 184.9,67.1 184.8,68.2 185.2,68.8 185.1,69.2 186.5,70.4Z" fill="none" stroke="#9094D2" stroke-width="0.45" stroke-opacity="0.75" stroke-linejoin="round"/>
<path d="M174.2,67.8 174.2,68.9 173.9,70.4 173.4,70.7 173.7,70.9 173.6,72.0 174.3,72.7 175.3,72.4 176.5,72.5 176.3,72.1 177.1,71.5 178.6,72.3 179.4,71.8 180.3,71.8 180.8,72.4 181.5,72.1 182.9,72.2 183.4,71.9 184.5,71.8 185.5,72.0 186.4,72.0 187.3,70.9 187.8,71.2 187.2,70.6 186.5,70.5 185.1,69.3 185.1,68.8 184.7,68.2 184.8,67.1 184.4,66.5 184.8,66.1 184.0,65.3 183.2,64.1 183.0,64.6 181.0,65.2 180.0,64.6 179.2,65.5 178.0,66.0 175.4,66.5 175.6,67.5 174.5,67.4Z" fill="none" stroke="#F5777E" stroke-width="0.45" stroke-opacity="0.75" stroke-linejoin="round"/>
<path d="M175.5,74.2 175.9,75.0 178.2,75.2 179.2,76.3 180.4,76.1 181.4,75.7 182.4,76.0 183.3,76.0 184.6,76.5 184.7,77.1 186.6,76.6 187.4,76.2 187.8,76.6 187.8,75.8 189.7,75.3 189.0,75.1 188.7,74.1 189.0,72.8 189.3,72.7 188.1,71.4 187.3,71.0 186.4,72.1 185.5,72.1 184.5,71.8 183.5,72.0 183.0,72.3 181.5,72.2 180.8,72.5 180.2,71.9 179.4,71.9 178.6,72.4 177.1,71.6 176.4,72.2 176.6,72.6 175.3,72.5 174.8,72.7 175.6,73.1Z" fill="none" stroke="#F4888E" stroke-width="0.45" stroke-opacity="0.75" stroke-linejoin="round"/>
<path d="M195.2,58.4 194.9,58.7 195.4,59.4 195.5,60.4 196.5,60.6 196.8,60.3 197.1,60.7 197.4,61.8 198.4,62.6 199.7,62.9 199.6,62.2 200.4,61.9 201.0,62.4 201.6,61.9 202.5,61.5 202.7,62.4 202.5,63.2 203.2,63.6 202.4,63.8 201.8,65.1 202.0,65.3 201.7,66.5 201.0,67.2 200.9,67.7 201.6,67.6 203.6,69.0 204.6,68.8 206.2,70.7 206.0,71.2 208.2,72.7 208.9,72.8 209.1,73.7 210.5,74.8 210.9,75.0 211.2,74.7 211.0,75.1 212.8,77.2 213.3,77.0 213.3,76.7 214.5,76.5 216.2,77.2 216.4,75.9 215.7,75.9 215.6,75.0 216.0,73.8 215.3,73.1 215.2,73.2 214.7,72.2 214.6,70.8 213.6,70.7 212.8,69.3 213.1,68.4 212.8,68.1 212.6,67.2 211.9,65.6 212.7,65.3 212.9,64.1 211.9,63.1 212.2,62.3 212.8,61.9 212.6,61.4 211.8,60.6 210.3,60.6 209.8,60.2 209.7,59.1 209.0,58.1 208.0,58.4 208.0,57.5 206.9,56.4 204.9,56.1 204.9,55.5 202.8,54.8 202.3,54.3 201.6,55.7 199.7,54.5 199.2,54.6 198.8,54.3 197.5,54.1 196.5,54.4 196.0,55.3 195.8,54.8 195.5,55.4 195.7,55.4 194.7,56.7 194.8,57.8Z" fill="none" stroke="#F5777E" stroke-width="0.45" stroke-opacity="0.75" stroke-linejoin="round"/>
<path d="M187.4,80.6 188.1,81.3 188.6,81.4 189.4,82.5 188.9,84.1 189.5,84.4 189.2,84.4 189.2,85.4 188.7,86.1 189.7,86.7 190.8,89.5 191.9,89.4 192.3,89.6 192.4,90.3 193.2,89.1 193.1,88.6 192.8,88.4 193.6,88.1 194.7,87.1 195.3,87.6 195.9,86.8 197.6,86.3 198.2,86.5 198.6,85.4 200.5,85.5 201.3,84.8 201.6,84.3 201.8,84.7 202.3,83.9 202.5,83.0 202.1,81.3 202.2,80.9 201.9,80.0 201.4,79.6 200.6,79.5 199.9,77.1 200.0,76.6 199.2,76.4 199.2,75.7 198.2,74.4 198.2,73.9 198.7,73.8 198.2,73.6 197.1,74.9 196.3,75.3 195.1,75.4 194.6,76.4 194.1,75.9 193.7,76.4 192.6,76.5 191.7,75.4 191.5,76.1 190.9,76.4 190.6,77.8 190.1,78.2 189.1,78.1 188.3,79.1 187.7,79.3Z" fill="none" stroke="#DCDCDC" stroke-width="0.45" stroke-opacity="0.75" stroke-linejoin="round"/>
<path d="M197.9,73.7 198.2,73.5 198.8,73.8 198.3,74.0 198.3,74.4 199.3,75.7 199.3,76.4 200.1,76.5 200.0,77.1 200.6,79.4 201.5,79.5 202.0,80.0 202.3,80.9 202.2,81.3 202.6,83.0 202.4,83.8 204.1,83.5 204.6,83.6 205.5,82.6 206.4,82.7 208.7,81.7 208.8,80.9 208.9,80.9 209.9,78.9 211.3,77.9 212.8,77.4 213.5,77.5 213.4,77.1 212.8,77.3 210.9,75.1 209.0,73.8 208.8,72.9 208.2,72.8 205.8,71.3 206.1,70.7 204.5,68.9 203.7,69.1 203.8,69.3 201.6,67.7 200.9,67.8 200.9,68.1 199.7,68.8 200.2,70.8 199.0,71.9Z" fill="none" stroke="#F4888E" stroke-width="0.45" stroke-opacity="0.75" stroke-linejoin="round"/>
<path d="M159.6,79.2 160.8,79.1 160.7,79.2 161.4,80.1 162.4,80.9 163.6,80.8 163.4,80.1 164.3,80.2 165.2,81.4 166.4,82.1 166.3,81.7 167.1,81.3 168.0,81.9 169.3,83.0 169.1,83.5 170.0,83.3 170.9,83.4 172.2,84.4 172.2,85.5 172.5,85.7 173.3,84.7 173.9,85.0 176.2,83.6 176.6,84.1 177.2,83.0 178.3,83.0 180.3,83.7 181.3,84.3 182.1,84.4 182.2,83.9 183.1,83.5 183.9,83.6 186.4,81.8 186.3,80.8 186.9,79.6 188.2,79.0 189.1,78.0 190.1,78.1 190.5,77.7 190.9,76.4 191.4,76.0 191.6,75.0 191.5,74.6 191.0,74.5 190.5,74.7 190.2,75.5 189.4,75.4 187.9,75.8 187.9,76.8 187.4,76.3 185.1,77.2 184.6,77.2 184.5,76.6 183.3,76.1 182.4,76.1 181.4,75.8 180.5,76.2 179.2,76.4 178.1,75.3 175.9,75.1 175.4,74.3 175.5,73.1 174.6,72.7 174.0,73.1 173.6,72.9 173.0,73.0 172.5,72.7 171.5,73.3 170.3,73.6 169.8,71.9 168.1,72.5 167.0,71.7 167.2,70.7 166.6,70.5 166.0,71.0 165.9,72.3 164.9,72.7 164.4,73.6 164.4,74.7 163.6,74.8 163.0,75.3 162.6,75.3 162.2,76.5 161.4,76.2 160.7,76.9 160.4,77.9 159.8,78.8 158.9,78.9Z" fill="none" stroke="#9094D2" stroke-width="0.45" stroke-opacity="0.75" stroke-linejoin="round"/>
<path d="M181.4,99.5 183.1,98.0 186.2,97.4 186.7,97.6 186.5,96.8 186.8,96.6 188.1,96.5 190.1,95.9 190.7,96.4 190.9,97.0 191.6,96.5 192.7,96.3 193.4,96.8 194.3,95.0 194.1,93.6 194.4,93.6 194.7,92.5 193.3,91.0 192.3,90.9 192.3,89.7 191.8,89.5 190.7,89.6 189.6,86.8 188.6,86.1 189.1,85.3 189.1,84.3 188.8,84.2 189.3,82.5 188.5,81.5 188.1,81.4 187.3,80.6 187.6,79.4 186.9,79.6 186.4,80.8 186.4,81.9 183.9,83.7 183.1,83.6 182.3,83.9 182.1,84.5 181.3,84.4 180.3,83.8 178.3,83.1 177.2,83.1 176.7,84.2 176.2,83.7 174.0,85.1 173.4,84.8 172.6,85.7 174.0,87.2 174.6,87.4 174.8,88.9 175.5,90.1 176.2,90.2 176.1,90.4 177.3,91.0 178.2,91.7 179.3,92.1 178.2,93.9 178.5,94.6 177.4,96.1 177.1,97.5 176.4,98.6 178.5,99.9 180.4,99.1Z" fill="none" stroke="#9094D2" stroke-width="0.45" stroke-opacity="0.75" stroke-linejoin="round"/>
<path d="M191.5,59.8 191.9,62.3 192.3,62.5 191.8,64.1 191.8,65.4 190.7,65.6 189.9,66.3 189.6,67.2 188.7,67.1 188.1,68.4 188.3,70.4 187.8,70.3 188.1,71.3 189.4,72.7 189.1,72.9 188.8,73.8 189.4,74.5 190.5,74.6 191.5,74.3 191.8,75.1 192.6,76.4 193.6,76.3 194.1,75.8 194.6,76.2 195.0,75.3 196.3,75.2 197.0,74.9 199.0,71.8 200.1,70.8 199.6,68.7 200.8,68.0 200.9,67.2 201.6,66.4 201.9,65.3 201.7,65.1 202.3,63.8 203.0,63.6 202.4,63.3 202.6,62.4 202.4,61.6 201.6,61.9 201.0,62.6 200.3,62.0 199.6,62.3 199.8,63.0 198.4,62.7 197.3,61.9 197.0,60.8 196.8,60.4 196.6,60.7 195.4,60.5 195.3,59.5 194.8,58.7 195.1,58.4 194.7,57.9 194.6,58.2 193.9,58.2 192.0,59.7 191.8,59.6Z" fill="none" stroke="#7478EC" stroke-width="0.45" stroke-opacity="0.75" stroke-linejoin="round"/>
<path d="M167.3,106.9 167.0,106.0 164.7,106.1 164.2,105.9 164.1,105.7 161.6,105.0 159.7,105.9 158.9,105.4 158.5,106.6 157.9,106.6 157.1,106.9 156.8,108.9 155.8,109.6 155.0,109.7 155.9,110.0 156.2,111.7 156.1,112.7 157.2,112.9 158.5,112.2 158.4,113.1 159.8,114.1 161.1,113.9 161.4,113.1 162.6,113.5 163.5,112.6 164.6,112.8 164.8,113.6 167.5,114.1 167.4,114.0 169.0,114.1 169.8,115.2 172.6,117.2 173.2,117.2 173.4,115.2 173.9,114.5 172.9,114.6 171.9,113.6 171.1,112.4 171.8,112.0 170.4,109.6 169.3,109.6 169.7,109.3 169.8,107.7 170.0,107.4 169.2,107.5 168.1,107.5Z" fill="none" stroke="#9094D2" stroke-width="0.45" stroke-opacity="0.75" stroke-linejoin="round"/>
<path d="M169.2,107.4 170.1,107.2 169.9,107.7 171.0,108.0 171.6,107.4 174.1,107.3 174.4,106.6 175.5,107.3 176.4,107.1 176.5,106.5 177.0,106.6 178.3,106.4 179.4,106.1 180.3,105.4 180.5,105.7 180.6,105.1 181.3,104.7 183.0,105.7 183.1,106.6 183.7,105.6 184.9,105.7 186.2,105.5 186.7,104.6 187.8,105.1 189.1,104.2 190.6,104.3 190.4,103.8 191.2,103.2 192.7,103.3 193.7,103.2 194.2,102.2 194.8,102.2 195.2,101.0 195.5,98.7 195.8,98.3 194.4,97.2 193.8,96.9 193.0,97.2 193.4,96.8 192.7,96.4 191.6,96.6 190.9,97.2 190.7,96.5 190.1,96.0 188.1,96.6 186.8,96.7 186.6,96.9 186.8,97.8 186.2,97.5 183.2,98.1 183.1,98.8 183.0,98.4 181.4,99.6 180.4,99.2 178.5,100.0 177.9,100.8 176.2,101.6 176.1,101.4 175.5,102.3 174.7,102.8 174.3,103.3 173.6,103.1 172.7,104.1 171.6,103.5 170.8,104.0 170.3,104.9 169.6,105.1 168.2,107.4Z" fill="none" stroke="#F4888E" stroke-width="0.45" stroke-opacity="0.75" stroke-linejoin="round"/>
<path d="M221.9,86.1 222.6,84.7 223.1,84.7 223.5,84.4 223.2,84.1 222.8,82.4 222.9,81.6 222.5,81.5 221.6,79.3 222.3,79.1 222.8,78.5 224.0,76.3 224.0,74.9 224.8,74.6 224.7,74.1 223.9,72.5 223.4,72.5 222.2,73.4 221.2,73.3 220.7,73.5 220.7,74.1 220.4,74.8 218.9,74.6 216.9,76.3 216.3,77.3 214.5,76.6 213.4,76.8 213.6,77.6 212.8,77.5 211.4,78.0 210.0,79.0 209.0,81.0 208.9,81.0 208.8,81.7 207.8,82.2 206.4,82.8 205.6,82.6 204.6,83.8 204.2,83.6 203.0,83.9 201.8,84.8 201.6,84.4 201.3,84.9 200.6,85.5 198.7,85.5 198.2,86.6 197.6,86.4 196.0,86.9 195.3,87.7 194.7,87.2 193.7,88.2 193.0,88.5 193.1,88.5 193.3,89.1 192.4,90.5 192.4,90.8 193.4,90.9 194.8,92.5 195.0,93.2 195.3,93.2 196.2,92.8 197.2,92.6 198.1,93.1 197.8,93.5 200.2,94.1 201.0,93.0 201.9,93.2 202.3,93.0 203.7,91.5 204.9,91.7 205.4,89.9 206.4,90.0 207.5,89.2 208.5,89.0 209.0,89.3 209.0,89.0 209.3,88.8 210.8,88.7 212.1,89.3 212.3,88.8 213.1,88.3 213.7,88.5 214.5,87.6 215.6,87.2 216.3,87.5 216.6,86.6 217.0,86.2 217.9,86.7 219.1,86.8 219.2,86.0 219.5,86.5 220.9,86.7Z" fill="none" stroke="#9094D2" stroke-width="0.45" stroke-opacity="0.75" stroke-linejoin="round"/>
<path d="M211.2,89.5 211.6,89.7 211.9,91.1 211.0,92.0 211.3,92.1 211.8,92.6 213.2,94.7 212.9,95.0 213.2,96.8 214.6,96.8 215.2,96.5 216.0,97.0 216.0,97.7 220.4,97.9 221.3,98.7 221.5,99.4 221.7,98.8 222.9,98.1 224.1,97.9 224.3,96.8 225.9,94.8 225.1,95.0 224.6,94.1 224.7,92.7 224.3,92.6 223.8,91.0 224.4,90.0 223.2,89.3 222.0,87.6 222.2,87.3 221.4,87.4 220.9,86.8 219.5,86.6 219.2,86.2 219.2,86.9 217.9,86.8 217.0,86.3 216.6,86.6 216.4,87.6 215.6,87.3 214.6,87.7 213.7,88.7 213.1,88.4 212.3,88.9 212.2,89.4 210.9,88.9Z" fill="none" stroke="#7478EC" stroke-width="0.45" stroke-opacity="0.75" stroke-linejoin="round"/>
<path d="M183.0,107.2 182.5,107.8 182.2,110.3 182.0,111.0 181.7,111.1 182.0,112.0 183.2,113.3 183.0,113.5 183.3,113.7 183.5,114.8 183.5,116.0 183.7,116.1 183.9,116.6 185.7,118.7 184.8,119.7 184.9,120.5 185.8,119.9 187.3,120.3 187.5,121.8 187.2,122.2 187.1,123.3 189.4,125.4 189.2,127.4 191.0,127.4 191.4,128.6 191.3,129.5 192.8,131.1 193.1,132.1 193.6,132.2 194.6,131.4 195.7,131.4 196.0,131.9 196.5,131.0 195.9,130.2 195.6,128.5 194.9,125.6 195.7,125.2 194.7,123.6 193.6,122.9 194.0,121.7 193.9,120.7 192.8,120.8 192.2,120.4 191.9,118.8 192.1,118.1 191.7,118.1 191.2,117.1 191.1,115.8 190.3,115.3 189.8,113.9 190.6,113.0 190.0,112.2 189.4,110.6 189.7,110.4 189.9,109.9 189.8,109.0 190.6,106.9 190.2,107.0 190.3,106.5 191.2,105.2 190.9,103.9 190.6,104.4 189.1,104.3 187.9,105.2 187.4,105.2 186.7,104.7 186.2,105.6 184.9,105.8 183.7,105.7 182.9,106.8Z" fill="none" stroke="#DCDCDC" stroke-width="0.45" stroke-opacity="0.75" stroke-linejoin="round"/>
<path d="M173.4,117.0 174.2,116.3 175.7,116.1 176.7,116.3 176.8,115.5 177.3,115.4 179.9,115.3 179.9,115.7 181.3,116.1 183.1,115.2 183.3,115.8 183.4,114.8 182.9,113.6 183.1,113.4 181.9,112.0 181.6,111.0 181.9,111.0 182.1,110.3 182.4,107.8 182.9,107.1 182.7,106.4 180.7,105.2 180.5,105.8 180.3,105.5 179.4,106.1 177.0,106.7 176.5,106.6 176.5,107.2 175.5,107.4 174.4,106.7 174.1,107.4 171.6,107.5 171.0,108.1 169.9,107.8 169.8,109.4 169.5,109.5 170.5,109.5 172.0,112.0 171.2,112.4 172.9,114.5 174.1,114.4 173.5,115.2Z" fill="none" stroke="#7478EC" stroke-width="0.45" stroke-opacity="0.75" stroke-linejoin="round"/>
<path d="M165.2,120.4 167.2,122.6 167.9,122.9 167.9,123.1 170.0,123.7 170.4,124.1 170.9,124.1 171.2,123.6 173.0,123.9 173.6,125.9 172.8,125.9 173.1,126.8 174.0,128.1 174.7,128.7 174.2,129.8 174.9,131.0 175.8,131.1 176.9,131.6 177.1,132.3 177.6,132.7 180.1,132.0 180.4,132.4 181.5,131.3 182.8,131.2 183.7,130.9 183.5,130.3 184.1,129.5 184.8,129.7 185.0,127.5 185.5,126.4 185.6,125.4 186.4,124.8 186.4,123.7 186.0,123.8 186.6,122.6 187.4,121.8 187.2,120.3 185.8,120.0 184.9,120.6 184.7,119.6 185.6,118.7 183.4,116.2 183.1,115.3 181.3,116.2 179.8,115.8 179.8,115.4 178.3,115.4 176.9,115.6 176.7,116.4 175.7,116.2 174.3,116.4 173.1,117.3 171.7,117.6 170.5,118.3 169.9,118.0 169.8,118.8 169.3,119.2 168.8,119.2 167.6,120.2 166.2,120.5Z" fill="none" stroke="#9094D2" stroke-width="0.45" stroke-opacity="0.75" stroke-linejoin="round"/>
<path d="M227.4,96.9 228.0,99.5 227.6,99.9 228.1,100.2 228.8,101.0 230.0,101.5 231.6,102.6 232.3,102.2 233.1,102.3 234.2,100.9 235.9,99.7 236.6,98.6 236.4,98.2 236.7,97.5 236.3,96.3 235.3,96.0 235.6,95.1 235.4,94.0 235.0,93.8 233.9,93.8 233.4,92.5 232.8,92.0 230.4,92.7 229.6,93.3 229.3,94.2 228.3,95.1 228.1,96.6Z" fill="none" stroke="#DCDCDC" stroke-width="0.45" stroke-opacity="0.75" stroke-linejoin="round"/>
<path d="M200.1,105.5 200.0,105.7 199.5,105.8 199.7,106.7 201.6,108.1 202.3,108.1 202.3,108.3 203.4,108.8 204.5,108.9 204.6,109.2 205.6,108.1 206.6,108.5 207.2,107.6 208.3,106.9 209.0,107.3 209.5,105.6 209.3,104.9 209.0,105.2 207.9,105.0 207.0,103.8 206.5,102.8 206.4,103.2 204.9,104.0 203.6,103.0 203.6,104.0 203.2,103.6 201.7,103.8 200.6,104.5 200.2,105.7Z" fill="none" stroke="#F4888E" stroke-width="0.45" stroke-opacity="0.75" stroke-linejoin="round"/>
</g>
<g>
<path d="M302.0,110.8 303.5,113.8 303.0,114.3 303.9,114.8 304.0,117.8 304.6,117.6 306.0,119.1 305.3,119.8 305.6,121.7 307.7,122.4 306.7,127.0 307.2,125.4 307.9,125.1 308.3,123.4 310.7,125.7 310.5,127.7 312.3,127.7 312.6,129.8 314.1,131.3 314.4,132.3 315.0,132.5 315.9,131.7 316.9,131.7 317.3,132.2 317.8,131.1 320.2,130.9 320.7,130.3 321.3,131.0 323.6,129.7 324.5,130.0 325.1,129.3 325.9,129.6 329.1,127.7 329.8,125.7 330.1,125.8 331.1,124.7 332.5,124.7 334.0,123.6 334.3,123.8 335.4,122.4 336.5,122.2 337.4,120.8 338.7,119.8 339.1,118.3 340.2,118.4 340.8,116.6 341.8,115.4 343.1,115.6 342.8,117.7 344.2,119.9 343.7,119.8 343.9,122.2 346.7,122.1 347.1,120.6 348.0,120.6 347.3,119.8 348.5,118.0 348.1,118.1 348.1,117.0 349.2,115.5 349.3,114.6 351.3,113.4 352.0,113.8 353.3,111.5 353.3,110.1 351.8,107.4 352.6,107.5 353.2,106.0 356.1,104.2 356.4,104.6 357.8,102.4 358.1,102.7 360.6,101.5 360.9,101.9 361.6,100.9 362.7,101.1 366.4,98.2 367.3,96.2 366.4,95.0 367.3,92.6 367.4,90.1 365.6,89.4 365.6,87.3 363.4,85.9 363.7,83.6 361.9,82.9 362.3,81.8 362.1,80.1 361.0,78.1 359.9,77.8 359.9,79.7 358.4,78.1 357.1,77.7 354.6,77.8 353.8,78.4 353.4,77.0 352.6,76.0 351.2,75.8 350.4,76.1 350.0,75.4 349.6,75.6 349.2,77.5 347.3,77.7 346.4,78.2 344.9,76.5 345.5,75.8 344.4,73.7 344.0,77.3 342.6,79.5 341.3,79.9 341.8,81.2 340.9,83.0 341.9,83.6 342.4,82.8 343.1,85.0 342.1,86.5 340.4,87.6 344.0,91.2 343.7,91.9 345.0,96.3 344.2,98.0 342.4,98.7 341.6,97.9 337.7,97.8 337.7,97.3 336.2,96.4 334.9,96.8 334.7,96.1 335.2,95.6 333.2,92.8 333.7,92.3 333.3,90.1 332.3,88.9 328.2,89.4 327.2,90.1 325.9,90.0 325.4,91.7 324.6,91.6 322.9,93.3 321.9,92.9 321.1,94.0 318.5,92.7 316.9,93.0 316.1,90.1 315.1,93.6 314.2,93.5 314.8,95.7 314.1,97.1 310.3,99.7 310.6,100.3 315.3,98.7 316.0,99.3 315.5,102.1 314.6,102.1 314.5,103.1 312.3,103.1 309.1,104.9 307.8,104.1 307.2,105.4 304.7,105.5 302.9,104.4 300.5,105.8 303.5,107.6 302.9,110.7Z" fill="#FDC8C8" fill-rule="evenodd"/>
<path d="M279.0,108.3 281.0,108.1 281.3,107.3 283.5,106.6 286.4,107.5 288.2,107.4 290.1,109.4 291.9,106.5 292.7,106.3 293.2,105.1 294.8,105.4 295.6,104.3 296.8,104.0 298.1,102.8 299.1,102.8 300.2,100.2 299.0,99.3 302.0,92.5 298.9,91.0 299.2,90.6 297.6,90.4 297.0,87.7 296.3,87.6 294.7,85.9 294.7,85.0 292.9,83.7 291.7,83.6 288.8,81.5 287.8,82.1 286.7,80.6 284.1,80.2 284.3,81.0 283.9,80.7 283.6,80.3 284.2,79.0 283.2,79.3 285.1,76.6 278.5,76.9 277.7,75.9 276.5,77.3 274.5,76.4 273.6,77.6 272.6,77.6 271.3,79.0 271.3,80.3 272.3,81.0 272.7,82.3 272.4,83.3 274.3,84.9 274.7,85.7 274.4,86.1 276.2,86.8 277.4,88.0 278.0,87.7 279.2,89.5 279.2,91.1 277.5,94.5 277.8,95.7 280.0,97.0 279.4,98.5 279.8,98.9 278.6,100.4 278.4,102.4 277.7,102.0 277.7,104.0 276.9,105.6 277.2,107.8 279.1,107.3Z" fill="#FDC8C8" fill-rule="evenodd"/>
<path d="M274.8,60.4 275.7,61.4 277.3,60.8 278.1,62.4 281.0,61.9 281.4,62.3 283.1,62.2 283.0,62.7 284.2,63.0 285.7,62.6 285.5,67.2 285.9,67.3 287.8,61.4 289.9,60.1 291.4,60.0 291.9,59.4 292.4,59.8 295.9,58.4 295.9,57.3 297.6,53.6 297.2,52.2 298.5,50.7 296.8,51.9 298.4,49.1 298.6,47.1 299.4,45.6 299.1,45.1 297.9,45.9 295.3,45.9 295.2,46.6 293.6,46.3 292.5,47.4 290.9,46.2 289.6,46.6 288.9,46.2 289.0,45.7 286.8,46.9 285.9,45.7 283.6,45.3 282.5,43.6 281.9,45.0 279.9,46.1 279.6,47.2 278.8,47.5 279.0,49.4 278.3,52.0 277.8,50.4 276.4,53.4 274.7,54.1 273.9,54.9 273.6,54.5 273.5,56.7 274.2,57.6 275.3,57.8 274.3,58.7Z" fill="#FA8588" fill-rule="evenodd"/>
<path d="M273.4,82.4 274.1,81.7 276.1,81.2 276.4,82.1 278.5,80.7 279.3,81.2 283.6,81.0 287.0,76.6 287.0,75.6 289.8,75.6 289.3,72.9 288.4,70.9 288.7,66.9 289.2,66.2 287.3,63.6 287.5,61.0 284.9,61.0 285.0,60.2 282.0,60.5 280.0,59.7 279.7,60.5 279.1,60.6 277.5,57.8 276.3,59.3 275.9,58.0 274.5,57.4 274.3,57.6 275.3,57.8 273.8,59.3 272.1,59.2 271.1,62.1 270.0,63.3 270.5,65.8 269.3,65.8 269.9,67.6 269.5,68.5 270.2,69.4 270.1,71.3 269.6,71.5 270.2,72.2 269.2,74.2 270.9,73.3 268.5,76.3 269.3,77.7 268.7,78.6 270.1,79.4 270.8,79.2 271.0,80.1 272.3,81.0 272.6,82.1Z" fill="#FA8588" fill-rule="evenodd"/>
<path d="M284.8,66.2 286.4,65.2 287.1,66.1 286.5,69.7 287.1,74.0 287.9,73.4 289.7,74.6 291.0,74.3 291.5,75.8 296.1,74.7 296.7,69.7 298.1,69.8 298.0,68.6 301.2,67.7 301.8,67.1 302.4,67.5 305.2,66.7 305.6,65.2 306.5,64.0 305.8,62.8 307.0,62.5 305.6,61.2 305.7,62.5 304.2,61.1 303.7,59.9 300.8,58.4 297.8,58.5 297.2,57.1 295.9,57.3 296.3,56.4 292.6,57.8 291.5,56.9 290.6,58.2 289.2,58.4 287.4,59.8 286.6,59.9Z" fill="#EFEFEF" fill-rule="evenodd"/>
<path d="M304.8,67.7 305.5,68.7 305.6,70.9 308.2,73.0 310.4,71.4 310.6,69.4 311.7,69.4 312.0,68.2 314.0,67.6 313.9,65.6 314.7,63.5 314.0,63.2 313.8,61.9 314.8,61.1 315.1,59.7 314.2,59.7 314.3,59.2 313.4,58.2 314.2,55.4 313.6,54.5 313.8,53.2 312.7,52.4 312.3,52.3 311.1,54.7 312.1,55.9 310.8,56.1 311.7,58.3 309.3,58.3 308.0,59.1 307.1,58.3 306.8,59.3 305.4,59.9 305.7,62.5 304.4,61.3 303.6,61.5 304.4,63.8 303.8,65.1 304.0,66.0 305.1,67.5Z" fill="#898CF6" fill-rule="evenodd"/>
<path d="M294.3,73.6 295.9,75.2 297.1,74.6 299.6,74.9 299.2,74.1 300.2,74.7 301.4,74.0 302.1,74.8 305.9,74.0 308.2,74.2 309.0,73.4 312.8,75.4 313.2,74.8 309.0,71.1 307.5,70.3 307.1,68.1 307.6,67.6 305.6,65.2 305.0,61.9 303.8,65.3 302.7,65.6 301.4,64.8 300.4,66.0 299.3,66.5 294.3,67.2 295.5,68.0 294.9,69.0 294.7,71.2 293.3,72.1 294.4,72.7Z" fill="#FA8588" fill-rule="evenodd"/>
<path d="M291.7,72.9 295.7,75.3 296.2,75.0 296.2,75.7 297.0,77.1 299.1,77.3 300.4,78.4 303.0,77.9 304.7,78.1 305.3,78.4 305.5,79.2 308.7,78.5 310.2,79.9 310.2,77.6 315.7,77.8 315.8,77.0 311.1,75.6 311.2,74.8 312.3,74.5 310.0,72.0 308.4,71.2 307.5,72.5 306.0,72.2 302.6,72.7 302.2,72.3 300.7,72.3 300.1,72.7 298.6,71.8 297.3,72.9 295.9,73.3Z" fill="#FA8588" fill-rule="evenodd"/>
<path d="M316.0,59.8 315.1,60.1 315.8,61.2 315.9,62.7 317.6,63.0 317.9,63.9 319.3,64.9 322.0,65.6 321.9,65.0 322.1,65.2 322.8,64.6 322.1,67.4 321.2,68.2 321.2,70.1 322.5,69.9 326.1,72.3 325.3,73.9 326.8,73.5 329.1,74.9 329.3,75.5 331.4,77.1 333.5,79.5 335.3,78.6 337.9,79.7 338.2,77.2 337.2,78.1 337.3,77.1 336.6,77.1 336.6,76.3 337.0,75.0 335.6,73.4 335.6,72.1 334.7,72.1 333.8,70.6 334.1,69.7 332.8,67.1 333.7,66.8 333.9,65.6 332.9,64.6 333.8,63.4 332.8,62.0 331.3,62.1 330.0,59.6 329.1,59.7 329.1,59.0 327.9,57.9 326.1,57.6 326.0,57.1 323.9,56.3 323.5,55.8 322.9,57.2 321.0,56.0 318.7,55.6 317.1,56.2 316.0,58.2Z" fill="#FDC8C8" fill-rule="evenodd"/>
<path d="M307.8,82.0 309.7,83.8 309.2,85.8 309.7,86.1 308.8,87.4 310.4,88.3 311.5,91.4 312.8,91.4 312.9,94.4 316.0,89.3 316.7,89.9 317.7,88.6 318.9,88.3 319.9,88.6 320.4,87.4 322.1,87.4 322.5,87.0 322.9,87.6 324.6,84.1 323.9,80.6 322.2,79.4 322.2,77.1 321.4,76.9 320.7,75.7 322.7,75.2 319.2,73.8 317.7,75.5 315.6,76.0 315.4,75.8 314.5,76.7 312.7,74.7 311.2,78.4 310.1,78.4 308.3,79.9Z" fill="#FA8588" fill-rule="evenodd"/>
<path d="M319.0,76.5 319.6,77.2 319.5,78.3 320.3,78.5 321.2,81.5 322.4,81.6 322.8,84.0 322.2,86.1 325.2,85.5 326.4,85.8 326.9,84.6 330.6,83.4 331.6,80.7 332.7,79.9 333.8,79.5 335.8,79.7 334.0,74.9 335.4,73.1 334.2,72.1 331.7,75.2 330.8,74.5 330.6,73.4 328.1,72.3 328.3,71.9 326.0,69.2 324.8,69.5 323.1,68.1 320.6,68.4 320.9,69.1 320.0,69.7 320.3,71.8 315.8,78.6 316.6,79.2Z" fill="#FA8588" fill-rule="evenodd"/>
<path d="M281.4,81.3 282.1,81.2 284.0,83.0 286.1,82.8 289.7,85.0 289.3,83.7 290.0,84.4 289.6,85.8 292.3,85.4 293.0,85.9 293.0,87.1 294.4,88.0 295.3,86.9 295.6,87.1 297.7,85.9 298.4,86.8 299.4,85.0 302.5,86.3 304.3,86.4 304.5,85.6 305.6,85.6 308.7,83.4 309.0,81.4 310.1,81.0 310.9,80.1 312.5,80.1 313.9,76.6 313.8,74.7 312.6,74.9 311.5,74.3 311.0,75.7 309.5,76.0 306.8,77.4 305.0,76.4 302.9,76.0 301.1,76.6 300.5,75.7 298.0,75.4 298.1,73.8 296.1,73.0 294.9,73.3 294.2,72.9 292.7,73.7 292.0,71.9 290.0,72.8 290.1,71.4 288.2,70.8 287.6,71.3 285.6,71.2 286.9,72.6 286.1,73.2 285.3,75.1 283.8,75.7 283.6,76.6 283.0,76.4 281.2,79.1 277.4,79.5Z" fill="#898CF6" fill-rule="evenodd"/>
<path d="M294.1,87.7 294.8,89.0 295.4,89.1 296.4,91.8 299.6,93.5 298.7,94.7 299.0,95.4 298.1,96.5 297.1,99.1 297.1,100.2 300.0,101.7 302.0,100.9 303.0,101.3 303.5,101.0 303.1,103.6 304.6,103.9 305.4,99.6 307.5,99.1 309.5,100.2 309.0,98.3 311.3,97.8 311.8,99.4 313.8,98.1 315.1,98.9 316.6,96.0 317.0,93.2 315.0,91.1 314.5,91.0 314.5,90.0 312.7,89.6 311.3,86.9 311.4,86.6 314.6,87.7 315.1,86.3 311.3,84.7 311.6,83.5 310.5,81.8 309.7,81.4 310.2,79.0 307.7,80.1 307.0,82.5 305.2,83.8 304.5,83.7 303.0,84.5 300.0,83.3 298.3,83.3 295.6,85.1 294.8,84.7 292.0,88.3Z" fill="#898CF6" fill-rule="evenodd"/>
<path d="M307.9,70.3 308.7,73.1 309.6,74.0 309.1,75.3 310.3,76.6 312.3,76.7 313.5,78.5 315.5,78.3 316.2,79.0 316.9,77.4 318.8,76.8 322.3,72.3 321.8,70.5 322.9,69.9 324.1,66.0 326.8,65.4 324.6,64.2 324.3,61.7 319.9,63.2 317.9,60.3 317.5,61.0 316.2,57.9 316.0,59.8 314.2,59.7 314.3,59.3 313.2,60.2 311.9,60.4 312.5,64.4 312.2,66.1 310.3,67.6 309.6,67.6 308.6,69.6 308.6,70.5Z" fill="#BEBFBE" fill-rule="evenodd"/>
<path d="M294.0,118.6 295.8,118.5 296.0,116.0 297.6,113.9 294.9,114.2 294.1,113.3 294.8,113.0 292.4,109.3 293.5,106.7 290.2,107.2 289.5,105.9 286.8,105.8 283.6,104.7 281.6,105.5 280.3,104.8 279.8,106.3 278.3,107.0 278.2,107.5 279.1,107.3 278.8,109.5 276.8,110.3 277.8,110.6 278.1,113.3 279.2,113.5 279.7,113.1 281.7,114.7 283.0,114.4 283.3,113.6 284.5,114.0 285.4,113.2 286.2,113.4 286.6,114.2 290.7,114.7 294.3,117.5 293.4,118.0Z" fill="#898CF6" fill-rule="evenodd"/>
<path d="M288.4,108.9 292.9,109.6 293.7,108.9 296.5,108.5 297.0,108.9 301.6,107.3 302.6,108.6 302.9,106.5 303.6,106.9 303.9,109.9 305.6,107.2 308.2,107.1 308.5,106.6 309.5,106.8 310.7,105.8 313.3,105.5 313.0,104.9 315.6,104.7 316.1,103.8 316.7,103.8 317.7,99.8 318.4,99.0 314.1,96.2 312.6,96.6 311.7,95.9 307.9,96.7 307.0,97.5 305.6,97.8 305.7,96.9 302.8,99.4 301.9,99.0 298.1,101.1 297.7,100.5 296.5,102.4 295.6,103.0 294.9,102.8 294.2,103.7 293.3,103.2 291.8,104.1Z" fill="#FA8588" fill-rule="evenodd"/>
<path d="M308.7,123.6 309.8,122.4 309.4,120.0 307.8,119.6 308.3,119.2 306.1,116.7 305.8,113.9 304.2,112.0 304.8,108.7 305.5,108.0 304.9,106.5 303.1,105.4 301.6,104.5 301.4,105.4 300.6,106.0 298.6,106.4 297.2,106.0 297.2,107.0 295.6,106.0 295.2,107.1 292.9,107.3 292.5,107.7 290.8,107.3 290.7,109.4 287.6,111.2 291.7,111.0 292.4,112.1 291.5,112.6 294.3,116.0 294.2,117.0 293.6,117.1 294.3,117.5 292.2,118.7 291.7,118.4 291.6,119.2 289.4,120.5 287.0,120.7 289.6,123.5 292.1,124.5 292.9,124.0 294.6,124.3 295.1,126.2 294.5,126.1 294.7,127.1 296.4,128.8 295.9,130.1 296.5,131.3 298.4,131.8 299.1,132.9 301.7,132.2 301.9,132.7 303.0,131.5 305.2,131.2 305.6,129.8 306.3,130.0 307.2,125.4 307.9,125.1 308.3,123.4Z" fill="#898CF6" fill-rule="evenodd"/>
<path d="M312.8,92.6 314.2,92.7 315.3,93.8 315.5,94.8 316.6,95.1 317.7,94.5 317.3,95.0 321.7,96.1 322.5,94.9 324.1,94.6 325.1,93.4 326.6,93.7 327.2,91.8 328.9,91.0 330.8,91.7 330.9,90.7 331.7,90.6 333.8,91.5 334.0,90.4 335.0,90.7 335.9,89.4 336.5,89.2 337.8,89.7 338.1,88.4 341.9,88.7 345.6,85.5 344.8,84.7 344.7,81.9 343.9,81.8 343.6,81.0 345.6,77.9 344.9,76.5 345.5,75.9 345.5,75.4 344.7,73.7 343.0,74.6 341.4,74.7 341.1,76.0 339.7,75.8 337.2,78.1 337.3,77.1 336.8,77.4 335.5,76.8 333.1,77.4 333.3,77.9 330.7,79.2 329.6,80.8 329.1,80.6 328.9,82.3 327.3,82.9 326.4,82.8 325.4,83.7 323.2,84.5 322.7,83.5 321.4,85.7 319.3,85.6 318.9,86.5 316.5,87.4 315.9,87.0 314.5,88.4 311.3,89.6 313.5,90.2 312.8,91.2Z" fill="#BEBFBE" fill-rule="evenodd"/>
<path d="M330.1,88.2 331.9,91.8 330.1,93.7 332.1,94.1 332.9,95.5 333.3,98.6 336.0,98.4 336.0,99.2 340.8,99.6 341.3,100.0 342.0,103.4 343.2,100.2 345.6,99.6 345.9,98.0 349.5,93.9 346.3,94.8 346.4,93.1 345.6,92.0 346.5,90.2 344.6,89.6 343.9,88.5 345.9,84.6 345.3,84.3 342.5,87.4 340.8,86.8 339.2,84.0 339.1,86.9 337.8,86.2 336.6,87.4 332.6,89.2Z" fill="#BEBFBE" fill-rule="evenodd"/>
<path d="M302.0,110.8 303.5,113.8 303.0,114.3 303.9,114.8 304.0,117.8 304.6,117.6 306.0,119.1 305.3,119.8 305.6,121.7 307.7,122.4 306.7,127.0 307.2,125.4 307.9,125.1 308.3,123.4 310.7,125.7 310.5,127.7 312.3,127.7 312.6,129.8 314.1,131.3 314.4,132.3 315.0,132.5 315.9,131.7 316.9,131.7 317.3,132.2 317.8,131.1 318.9,130.9 319.8,129.3 318.0,130.1 317.2,126.4 318.4,125.8 316.0,122.9 316.0,120.0 314.4,120.2 314.2,119.3 314.8,117.5 313.6,117.6 313.3,115.8 312.2,114.6 313.1,113.6 311.9,111.5 312.1,109.8 313.5,106.3 312.7,102.0 311.5,104.1 310.2,104.0 309.1,104.9 307.8,104.1 307.2,105.4 304.8,105.4 303.3,107.1 302.9,110.7Z" fill="#FA8588" fill-rule="evenodd"/>
<path d="M290.7,109.4 287.6,111.2 291.7,111.0 292.3,111.9 291.5,112.6 294.3,116.0 294.3,117.5 293.4,120.2 296.3,117.6 299.1,117.8 299.2,116.7 299.9,116.7 302.9,117.6 304.1,117.0 305.3,120.8 305.8,115.2 305.5,114.3 305.8,114.0 304.2,112.0 304.8,108.7 305.5,108.0 304.9,106.5 301.6,104.5 301.4,105.4 300.6,106.0 298.6,106.4 297.2,106.0 297.2,107.0 295.6,106.0 295.2,107.1 292.9,107.3 292.5,107.7 290.8,107.3Z" fill="#BEBFBE" fill-rule="evenodd"/>
<path d="M308.7,123.6 309.8,122.4 309.4,120.0 307.8,119.6 308.3,119.2 306.6,117.2 307.9,116.9 305.6,115.9 305.2,114.5 302.7,115.7 302.3,115.6 302.3,114.9 299.9,115.0 297.7,115.3 297.6,115.8 295.5,116.0 293.6,117.1 294.3,117.5 292.2,118.7 291.7,118.4 291.1,119.6 290.5,119.5 289.4,120.5 287.0,120.7 289.6,123.5 292.1,124.5 292.9,124.0 294.6,124.3 295.1,126.2 294.5,126.1 294.7,127.1 296.4,128.8 295.9,130.1 296.5,131.3 298.4,131.8 299.1,132.9 301.7,132.2 301.9,132.7 303.0,131.5 305.2,131.2 305.6,129.8 306.3,130.0 307.2,125.4 307.9,125.1 308.3,123.4Z" fill="#898CF6" fill-rule="evenodd"/>
<path d="M333.9,109.0 334.6,110.6 334.2,111.9 335.6,114.0 335.7,116.8 337.6,117.9 338.2,120.1 339.1,118.3 340.2,118.4 340.8,116.6 341.8,115.4 343.1,115.6 342.8,117.7 344.2,119.9 343.7,119.8 343.9,122.2 346.7,122.1 347.1,120.6 348.0,120.6 347.3,119.8 348.5,118.0 348.1,118.1 348.1,117.0 349.2,115.5 349.3,114.6 351.3,113.4 352.0,113.8 353.3,111.5 353.3,110.1 351.8,107.4 352.6,107.5 353.2,106.0 356.1,104.2 356.4,104.6 357.8,102.4 358.1,102.7 358.9,102.1 358.1,101.7 356.7,99.3 353.3,102.2 352.3,102.4 352.0,101.8 349.6,100.7 348.8,96.9 347.0,97.7 345.5,97.1 345.3,98.3 342.1,99.0 340.7,100.5 340.5,102.7 339.6,102.6 339.2,103.9 337.4,104.2 335.5,106.9 335.4,108.2Z" fill="#FA8588" fill-rule="evenodd"/>
<path d="M347.0,97.2 347.6,99.5 344.0,98.6 343.8,99.3 352.2,104.4 353.1,103.9 354.0,104.0 357.0,101.2 357.7,102.5 358.9,102.0 356.7,94.3 355.2,93.8 353.5,91.9 351.3,92.6 351.8,89.8 350.6,89.5 349.2,94.6 348.1,95.5 347.9,96.8Z" fill="#FA8588" fill-rule="evenodd"/>
<path d="M348.5,81.4 347.0,82.4 348.0,83.7 347.1,86.9 348.3,87.0 348.4,88.3 348.0,88.7 348.7,89.8 348.2,90.8 349.3,92.1 350.7,92.4 352.1,92.0 353.7,92.5 354.2,90.3 356.3,90.8 355.7,87.4 356.6,85.5 356.0,85.2 356.0,84.7 356.9,79.4 356.2,79.5 356.1,77.7 354.6,77.8 353.8,78.4 353.4,77.0 352.6,76.0 351.3,75.7 350.4,76.1 350.0,75.4 349.6,75.6 349.2,77.5 347.8,78.1 348.5,79.5 347.9,79.8Z" fill="#FA8588" fill-rule="evenodd"/>
<path d="M319.5,105.7 320.1,107.9 322.4,109.6 324.9,110.4 325.2,111.4 327.0,109.8 327.9,110.2 329.4,108.7 330.6,109.4 331.5,106.3 330.8,103.9 329.5,104.9 327.5,101.3 326.7,103.2 326.1,103.6 323.7,101.9 323.8,103.5 322.0,104.0 321.8,102.0 320.5,105.6Z" fill="#FAA6A9" fill-rule="evenodd"/>
<path d="M321.0,106.2 320.3,106.3 320.7,107.5 322.6,108.9 323.2,108.9 323.2,109.0 324.5,109.7 325.5,109.8 325.6,110.2 326.8,109.0 327.7,109.4 328.5,108.4 329.3,107.8 330.2,108.3 330.8,106.3 330.5,105.1 330.0,105.6 329.1,105.5 328.2,104.4 327.5,102.9 327.3,103.7 326.0,104.4 324.5,103.2 324.5,104.1 322.8,104.3 321.6,105.0 321.5,105.4 321.4,105.1Z" fill="#FAA6A9" fill-rule="evenodd"/>
<path d="M336.3,114.0 336.1,114.9 336.4,116.4 337.5,117.0 338.1,117.5 338.6,119.0 339.1,118.3 340.2,118.4 340.8,116.6 341.8,115.4 343.1,115.6 342.8,117.7 344.2,119.9 343.7,119.8 344.0,120.9 343.9,122.2 344.5,122.4 345.2,122.2 345.8,122.3 346.7,122.1 347.1,120.6 348.0,120.6 348.0,120.3 347.3,119.8 348.1,118.3 348.5,118.0 348.1,118.1 348.1,117.0 349.0,115.5 349.2,115.5 349.3,114.6 351.3,113.4 352.0,113.8 353.3,111.5 353.3,110.1 353.0,110.0 351.8,107.4 352.6,107.5 352.9,106.9 352.9,106.3 353.2,106.0 354.1,105.7 355.1,104.8 356.1,104.2 356.4,104.6 356.4,104.2 357.8,102.4 357.9,102.5 358.0,102.4 357.4,102.1 357.4,101.6 356.7,100.5 357.1,99.9 357.4,100.6 357.7,100.5 357.2,99.0 357.4,98.4 357.0,97.0 356.2,96.7 356.4,96.0 356.1,94.7 355.6,94.4 354.6,94.4 354.2,93.3 353.4,92.7 350.9,93.4 350.5,93.7 350.6,92.9 350.4,92.9 349.8,95.0 348.7,95.9 348.5,97.3 347.8,97.6 347.9,98.0 347.0,98.4 346.0,98.0 345.9,99.1 344.8,98.9 343.3,99.2 342.8,99.5 342.6,100.2 342.2,99.9 341.3,100.8 341.1,101.5 341.2,103.1 340.3,103.6 340.0,103.5 339.7,104.6 338.7,104.5 337.7,104.8 337.3,105.2 337.2,106.1 336.9,105.9 336.2,107.1 336.1,108.8 335.8,108.8 334.7,109.3 335.2,110.5 335.3,111.2 335.0,111.8 335.4,112.2 335.7,113.1 336.4,114.0ZM348.0,86.3 348.7,86.3 349.0,86.7 349.0,88.0 349.2,88.5 348.9,88.8 349.4,89.7 349.0,90.7 349.6,91.4 350.6,91.3 350.9,91.6 352.2,91.3 353.2,91.6 353.7,89.7 354.4,89.5 355.5,89.8 355.0,87.3 355.3,86.2 355.6,85.7 355.4,85.6 355.4,83.3 356.1,80.2 355.5,80.3 355.5,78.2 354.4,77.9 353.8,78.4 353.4,77.0 353.3,76.9 352.6,76.0 351.3,75.7 350.4,76.1 350.2,75.7 349.9,75.6 349.8,75.8 349.6,75.6 349.8,76.9 349.6,77.0 349.2,77.5 349.0,77.6 348.6,78.1 349.0,78.8 349.3,79.9 348.8,80.1 349.2,81.5 348.6,82.3 348.0,82.6 348.7,83.6 348.6,84.4ZM310.3,86.3 309.8,87.2 310.9,87.9 311.9,90.7 313.2,90.7 313.5,90.8 313.5,92.1 314.7,90.1 314.6,89.5 315.1,89.3 316.0,88.4 316.6,88.9 317.3,88.0 318.9,87.6 319.5,87.8 320.0,86.7 321.8,86.7 322.7,85.8 322.9,86.2 323.6,85.1 325.2,84.8 325.8,85.0 326.2,84.3 326.7,83.9 327.4,84.0 328.9,83.5 329.9,83.0 330.0,82.3 330.8,80.7 331.3,80.1 332.4,79.3 333.7,78.8 334.8,79.0 334.1,77.0 333.9,77.1 334.1,78.1 333.8,78.3 332.2,76.3 332.9,75.3 332.6,75.1 331.8,76.1 330.2,74.9 330.0,74.0 329.3,73.8 327.5,72.7 327.2,72.5 327.5,72.0 325.7,70.0 324.7,70.2 322.8,68.8 321.9,68.9 321.9,69.3 320.7,70.0 321.1,72.0 320.0,73.0 318.1,76.0 317.5,76.3 316.2,76.4 315.9,77.2 315.4,76.7 314.9,77.4 314.0,77.4 312.9,76.2 312.7,77.1 312.1,77.5 311.8,78.8 311.4,79.1 310.4,79.0 309.6,80.0 308.9,80.3 308.6,81.8 309.4,82.6 309.8,82.7 310.5,83.7 310.0,85.4 310.3,85.5ZM293.4,108.3 295.9,108.1 296.1,107.5 297.1,108.2 298.3,107.9 298.3,107.4 298.6,107.5 301.1,106.9 301.8,106.4 302.2,106.9 302.4,105.9 302.9,105.6 304.3,106.5 304.3,107.3 304.1,107.4 304.3,107.7 303.8,108.4 303.5,110.9 303.3,111.4 302.9,111.4 303.3,112.6 304.4,113.9 303.8,114.5 304.5,114.3 304.8,115.3 304.7,116.6 305.0,116.8 305.1,117.2 306.9,119.1 306.1,120.0 306.2,121.3 307.3,120.6 308.5,120.8 308.7,122.1 308.4,122.4 308.1,123.9 308.2,123.9 308.3,123.4 310.7,125.7 310.5,127.7 311.1,127.8 312.3,127.7 312.7,128.8 312.6,129.8 314.1,131.3 314.4,132.3 315.0,132.5 314.9,132.4 315.9,131.7 316.9,131.7 317.3,132.2 317.8,131.1 318.1,131.0 318.3,130.7 317.7,130.9 317.4,130.4 317.1,128.7 316.4,126.0 317.3,125.6 316.8,124.9 316.2,123.8 315.2,123.2 315.5,122.1 315.4,120.8 314.2,120.9 313.8,120.6 313.5,119.2 313.8,118.3 313.2,118.3 312.8,117.5 312.7,116.2 311.9,115.6 311.4,114.4 312.2,113.5 311.6,112.6 311.1,111.3 311.3,111.2 311.5,110.5 311.4,109.7 312.4,107.2 311.8,107.4 311.8,107.3 312.8,105.9 312.5,104.3 312.6,104.2 314.0,104.3 315.1,104.1 315.7,103.1 316.2,103.1 316.7,101.8 317.1,99.4 317.4,99.1 315.8,97.8 314.9,97.6 314.0,97.0 312.8,97.2 312.4,97.6 312.2,97.2 311.5,96.6 309.5,97.2 308.2,97.3 307.7,97.6 307.9,98.1 307.7,98.0 304.5,98.7 304.4,98.9 302.9,100.1 301.9,99.7 300.0,100.6 299.3,101.4 297.9,102.0 297.7,101.7 297.0,102.9 296.2,103.3 295.8,103.8 295.1,103.6 294.4,104.5 293.3,104.0 292.3,104.5 291.9,105.4 291.2,105.6 289.5,108.2 290.9,108.3 291.5,108.2 291.3,108.5 292.8,108.9ZM295.7,74.5 296.2,74.2 297.0,74.5 296.9,75.5 297.4,76.5 299.6,76.7 300.7,77.7 302.0,77.6 302.9,77.2 303.8,77.4 304.8,77.4 305.8,77.9 306.0,78.5 306.6,78.5 308.8,77.7 309.5,78.4 309.5,77.1 310.8,76.8 312.4,76.9 312.5,76.7 310.6,76.2 310.3,75.1 310.6,74.2 311.1,74.1 308.7,71.7 308.1,71.6 306.8,70.5 306.9,70.1 306.4,69.5 306.6,68.5 306.2,67.9 306.6,67.5 305.6,66.5 304.9,65.5 304.8,64.4 304.4,65.8 302.6,66.3 301.5,65.7 300.7,66.7 299.5,67.2 297.8,67.6 296.3,67.7 296.9,68.1 297.0,68.6 296.0,68.5 295.6,69.1 295.6,70.2 295.3,71.6 294.6,72.1 295.2,72.4 295.0,73.3 295.6,73.9 294.5,73.8ZM272.6,81.4 273.3,81.6 273.9,81.0 274.3,81.0 275.6,80.7 276.6,80.1 276.8,80.9 277.5,80.3 278.6,80.0 279.4,80.5 281.8,80.1 282.5,79.1 282.8,78.2 283.4,77.6 284.2,77.9 284.6,76.7 284.9,76.6 285.5,76.2 286.4,76.0 286.4,74.9 286.9,74.0 287.8,73.7 288.0,72.4 288.2,72.4 288.0,72.1 287.8,71.3 287.6,69.3 287.7,69.1 287.9,69.4 288.1,67.6 287.9,66.7 288.4,66.2 287.2,64.4 286.6,63.8 287.0,62.4 287.0,61.6 287.3,60.8 288.0,60.7 288.4,60.3 289.6,59.4 291.1,59.3 291.7,58.4 292.5,59.0 294.0,58.2 295.2,57.9 295.5,56.9 296.3,56.5 297.0,54.6 297.6,53.6 297.2,52.2 298.5,50.7 296.8,51.9 298.4,49.1 298.8,47.6 298.6,47.1 299.4,45.6 299.1,45.1 297.9,45.9 295.3,45.9 295.2,46.6 293.6,46.3 292.5,47.4 291.8,46.6 290.9,46.2 289.6,46.6 288.9,46.2 289.0,45.7 286.8,46.9 286.3,46.4 285.9,45.7 284.1,45.6 283.6,45.3 282.5,43.6 281.9,45.0 280.7,45.9 279.9,46.1 279.6,47.2 278.8,47.5 279.0,49.4 278.3,52.0 277.8,50.4 277.6,51.4 276.7,52.6 276.4,53.4 274.7,54.1 273.9,54.9 273.6,54.5 273.5,56.7 274.2,57.6 275.3,57.8 275.1,58.3 274.8,58.2 273.8,59.3 272.4,59.0 272.1,59.2 271.1,62.1 270.8,62.1 270.0,63.3 270.1,64.6 270.5,65.8 269.3,65.8 269.6,67.1 269.9,67.6 269.5,68.2 269.5,68.5 270.2,69.4 270.1,71.3 269.6,71.5 270.2,72.2 269.9,73.1 269.2,74.2 270.9,73.3 268.5,76.3 269.3,77.7 268.7,78.6 270.1,79.4 270.8,79.2 271.0,80.1 272.3,81.0Z" fill="#FA8588" fill-rule="evenodd"/>
<path d="M283.2,81.4 284.2,82.3 285.7,82.2 285.5,81.5 286.0,81.6 286.8,82.7 288.6,83.7 288.4,82.9 288.8,82.7 289.7,83.2 290.8,84.2 290.6,84.9 291.8,84.6 292.5,84.7 293.7,85.6 293.7,86.7 294.2,87.0 294.4,87.0 295.4,88.2 295.4,88.4 296.0,88.6 296.2,90.0 297.0,91.3 297.5,91.4 297.4,91.5 298.8,92.1 299.7,92.8 300.5,93.1 299.5,94.8 299.8,95.4 298.7,96.8 298.5,98.2 297.7,99.3 297.8,99.6 298.1,99.6 298.5,100.1 300.1,101.0 301.9,100.1 303.0,100.6 304.3,99.6 304.2,100.4 304.5,100.5 304.8,99.0 307.6,98.4 308.5,98.9 308.2,97.8 308.3,97.7 309.6,97.6 311.4,97.0 311.9,97.4 312.2,98.3 313.0,97.6 313.9,97.4 314.8,97.9 315.9,95.9 315.7,94.8 315.9,94.8 316.3,93.3 314.7,91.7 313.9,91.6 313.8,90.5 313.2,90.3 312.2,90.3 311.2,87.6 310.3,87.1 310.7,86.5 310.7,85.7 311.7,86.0 311.8,85.7 310.4,85.1 310.9,83.6 310.1,82.4 309.6,82.3 309.0,81.6 309.2,80.6 309.8,80.4 310.6,79.4 311.5,79.5 311.9,79.2 312.1,79.2 312.4,77.7 313.0,77.4 313.2,76.6 313.0,75.5 311.7,75.7 311.4,76.5 310.8,76.4 309.7,76.6 309.1,76.9 309.1,77.5 308.8,77.2 307.9,77.7 306.5,78.2 306.3,78.2 306.2,77.6 304.9,77.1 303.9,77.0 302.9,76.8 301.9,77.2 300.8,77.3 300.0,76.6 299.9,76.3 297.6,76.1 297.2,75.4 297.4,74.2 296.2,73.7 295.7,74.1 295.3,73.9 294.8,74.0 294.2,73.7 293.1,74.3 292.2,74.6 291.6,72.8 290.8,73.3 289.9,73.5 289.0,72.9 289.3,71.9 288.4,71.6 287.8,72.0 287.3,72.0 287.6,72.3 287.5,73.4 286.6,73.7 286.0,74.8 286.0,75.7 285.3,75.8 284.8,76.3 284.3,76.3 284.0,77.4 283.2,77.2 282.4,78.0 282.1,79.0 281.6,79.7 279.9,79.9 281.5,80.6 282.4,80.5ZM311.1,68.7 311.4,67.8 312.1,67.2 313.3,67.0 313.3,65.6 313.8,63.9 313.4,63.6 313.0,61.4 313.3,61.4 314.2,60.7 314.4,59.7 314.2,59.7 314.3,59.2 313.4,58.2 314.2,55.4 313.6,54.5 313.8,53.2 312.7,52.4 312.6,52.6 312.3,52.3 311.1,54.7 312.1,55.9 310.8,56.1 311.7,58.3 310.1,58.5 309.3,58.3 308.0,59.1 307.1,58.3 307.1,58.9 306.8,59.3 305.6,59.6 305.4,59.9 305.7,62.5 305.0,61.9 304.4,62.0 304.7,63.0 305.2,63.9 304.7,64.6 304.5,65.1 304.6,65.7 305.3,66.8 306.1,67.5 305.7,67.8 306.2,68.6 306.0,69.6 306.5,70.2 306.3,70.7 308.0,72.0 308.3,71.7 309.0,71.9 309.7,71.1 309.6,69.8 310.2,68.7ZM286.6,106.5 286.2,106.4 286.1,106.2 283.5,105.4 281.6,106.3 280.7,105.8 280.3,107.0 279.8,107.0 279.1,107.4 278.8,109.5 277.8,110.1 276.8,110.3 277.8,110.6 278.2,112.3 278.1,113.3 279.2,113.5 279.7,113.1 279.9,113.3 280.2,113.1 280.2,113.5 281.7,114.7 283.0,114.4 283.3,113.6 284.5,114.0 285.4,113.2 286.2,113.4 286.6,114.2 289.3,114.7 289.2,114.5 290.7,114.7 291.5,115.7 294.3,117.5 292.2,118.7 291.7,118.4 291.6,119.2 291.1,119.6 290.5,119.5 289.4,120.5 288.0,120.8 287.0,120.7 287.9,121.9 288.9,123.0 289.7,123.3 289.6,123.5 291.7,124.1 292.1,124.5 292.6,124.5 292.9,124.0 294.6,124.3 295.1,126.2 294.5,126.1 294.7,127.1 295.6,128.4 296.4,128.8 295.9,130.1 296.5,131.3 297.4,131.3 298.4,131.8 298.7,132.5 299.1,132.9 301.7,132.2 301.9,132.7 303.0,131.5 304.3,131.5 305.2,131.2 305.1,130.5 305.6,129.8 306.3,130.0 306.6,127.8 307.0,126.7 307.2,125.4 307.6,125.5 307.9,125.1 308.1,123.7 307.9,123.8 309.1,122.2 308.8,120.5 307.2,120.2 306.5,120.6 306.5,120.1 307.4,119.1 305.5,117.0 305.3,116.3 305.1,116.4 305.1,114.7 305.0,114.7 304.8,114.0 305.4,113.3 305.2,113.1 304.4,113.8 304.2,113.7 304.3,114.0 303.6,114.5 304.4,114.3 304.8,115.3 304.8,115.5 302.8,116.4 301.6,116.1 301.6,115.7 298.9,115.7 298.3,115.9 298.2,116.6 297.4,116.5 295.8,116.6 295.3,117.1 295.3,115.8 296.1,114.7 294.6,114.9 293.1,113.0 293.9,112.6 292.3,110.0 291.7,110.0 291.8,108.4 292.2,107.6 290.9,107.9 289.9,107.9 289.3,107.4 289.0,106.5 288.5,106.4Z" fill="#898CF6" fill-rule="evenodd"/>
<path d="M329.7,81.7 329.6,82.7 327.4,83.6 326.6,83.5 325.9,84.1 325.7,84.5 325.4,84.4 324.0,84.7 323.0,85.5 322.7,85.0 322.3,85.8 321.6,86.4 319.7,86.3 319.3,87.3 318.9,87.2 317.1,87.7 316.6,88.4 316.0,87.9 314.9,89.0 313.5,89.5 314.3,89.7 314.3,90.0 313.5,91.4 313.5,92.0 314.5,92.1 315.9,93.5 316.1,94.2 316.6,94.4 317.5,93.9 318.4,93.8 319.0,94.1 318.6,94.5 320.8,95.0 321.5,95.3 322.3,94.2 323.0,94.4 323.6,94.1 324.0,93.5 324.9,92.7 326.2,92.9 326.7,91.1 327.5,91.2 328.6,90.4 329.5,90.3 330.3,90.6 330.3,90.1 330.4,90.1 331.7,90.0 332.0,90.7 332.4,90.8 332.6,91.9 331.5,93.2 332.2,93.2 333.8,95.6 333.6,95.8 333.8,96.9 333.9,97.9 335.5,97.8 336.1,97.6 336.7,97.9 336.7,98.7 341.1,98.9 341.9,99.7 342.1,100.6 342.2,100.4 342.4,100.5 342.7,99.7 343.8,99.1 345.1,99.0 345.3,97.7 347.4,95.2 345.9,95.6 345.6,94.9 345.7,93.5 345.3,93.3 344.8,91.9 345.5,90.7 345.1,90.7 344.1,90.1 343.1,88.6 343.8,87.2 343.6,87.2 342.8,88.1 342.3,88.1 342.0,87.8 342.8,87.3 343.5,86.0 343.9,86.0 344.6,85.5 344.2,85.1 343.8,83.5 344.0,82.5 343.4,82.4 342.7,80.6 343.2,80.5 343.8,79.7 344.2,78.8 345.0,77.6 345.1,76.8 344.9,76.5 345.5,75.9 345.5,75.4 344.7,73.7 344.1,73.7 343.0,74.6 342.0,74.5 341.4,74.7 341.4,75.3 341.1,76.0 339.7,75.8 337.1,78.2 335.4,77.5 334.0,77.9 334.2,78.5 333.7,78.5 332.2,79.0 331.1,79.8 330.5,80.6 329.9,81.8ZM310.4,73.9 309.9,75.1 310.6,76.0 311.9,76.1 312.7,75.8 312.9,76.5 313.8,77.8 315.1,77.7 315.4,77.3 316.0,77.9 316.4,76.8 317.6,76.7 318.4,76.3 320.3,73.3 321.5,72.1 321.1,70.2 322.2,69.5 322.3,68.7 323.0,68.0 323.3,66.7 323.2,66.5 323.6,65.4 324.8,65.1 323.8,64.6 323.9,63.9 323.8,62.7 322.6,63.2 322.1,63.7 321.6,63.2 320.6,63.6 320.7,64.2 319.7,64.0 318.8,63.2 318.5,62.2 318.0,61.5 317.7,62.0 316.9,61.8 316.9,60.9 316.4,60.2 316.6,60.0 316.0,58.9 316.0,59.8 314.9,59.7 313.3,61.0 313.1,60.8 312.6,61.1 313.1,63.9 313.3,64.0 312.9,65.5 312.9,66.7 312.0,66.8 311.0,67.6 310.9,68.3 310.0,68.3 309.2,69.7 309.4,71.4 308.9,71.3 309.3,72.8ZM301.9,105.8 300.9,106.6 299.9,106.9 298.6,107.1 297.9,106.9 297.9,107.6 297.2,107.8 296.0,107.0 295.6,107.8 294.3,107.7 293.2,107.9 292.7,108.4 291.4,108.1 291.3,109.8 290.3,110.4 292.1,110.3 293.4,112.5 292.5,112.8 293.5,114.2 294.5,115.3 295.3,115.2 294.9,115.6 294.9,117.3 294.7,118.0 296.0,117.0 297.4,116.8 298.5,117.1 298.6,116.2 299.9,116.0 301.2,116.1 301.2,116.4 302.8,116.8 304.5,116.0 305.0,117.4 305.2,115.3 304.7,114.1 304.9,113.9 303.7,112.4 303.4,111.8 303.6,111.8 303.9,111.0 304.2,108.5 304.7,107.8 304.3,106.9 302.0,105.5 302.0,106.0Z" fill="#BEBFBE" fill-rule="evenodd"/>
<path d="M311.0,105.1 311.1,105.5 312.0,105.2 312.0,105.3 312.2,105.0 312.4,105.8 311.5,107.1 311.3,107.9 311.7,107.8 311.1,109.6 311.1,110.5 311.0,110.9 310.6,111.1 311.3,112.8 311.7,113.5 311.0,114.3 311.6,115.9 312.3,116.4 312.5,117.6 313.0,118.7 313.3,118.7 313.1,119.2 313.4,120.9 314.1,121.3 315.0,121.2 315.1,122.1 314.7,123.3 315.9,124.0 316.7,125.5 316.0,125.8 316.6,128.1 316.5,128.3 316.8,128.8 317.0,130.5 317.6,131.5 317.8,131.1 319.5,130.9 320.2,130.9 320.7,130.3 321.3,131.0 322.0,130.4 323.6,129.7 324.5,130.0 325.1,129.3 325.9,129.6 327.3,128.7 328.1,128.4 328.5,128.0 329.1,127.7 329.8,125.7 330.1,125.8 331.1,124.7 332.5,124.7 334.0,123.6 334.3,123.8 334.6,123.3 335.4,122.4 336.5,122.2 337.1,121.5 337.4,120.8 338.7,119.8 338.8,118.8 339.1,118.3 339.4,118.3 339.9,117.6 339.8,117.5 338.8,118.3 338.5,117.3 337.7,116.7 336.7,116.1 336.5,114.9 336.6,114.4 337.2,114.4 336.1,112.9 335.7,112.0 335.4,111.7 335.6,111.3 335.6,110.4 335.2,109.5 335.8,109.2 336.5,109.3 336.5,107.2 337.0,106.4 337.6,106.7 337.7,105.3 337.9,105.1 338.7,104.9 340.0,105.0 340.3,104.0 341.6,103.3 341.5,101.6 341.6,101.0 342.2,100.4 342.9,100.8 343.1,99.8 343.5,99.6 344.9,99.3 346.3,99.5 346.4,98.6 347.0,98.8 348.0,98.4 348.2,99.6 348.8,101.2 349.0,101.1 348.2,97.8 348.9,97.5 349.1,96.1 350.1,95.2 350.3,94.4 351.1,93.7 353.3,93.1 353.9,93.5 354.2,94.2 354.3,94.8 355.5,94.8 355.8,95.0 356.0,96.0 355.7,96.9 356.7,97.3 357.0,98.3 356.8,99.0 356.9,99.4 356.2,100.5 357.0,101.7 357.0,102.3 357.4,102.6 356.9,103.2 357.0,103.4 357.8,102.4 358.1,102.7 358.9,102.0 360.6,101.5 360.9,101.9 361.6,100.9 362.7,101.1 364.5,99.9 364.6,99.3 366.2,98.1 366.4,98.2 367.3,96.2 366.9,95.4 366.4,95.0 366.9,94.3 367.3,92.6 367.1,92.5 367.0,91.2 367.4,90.1 367.1,89.9 365.6,89.4 365.6,87.3 365.0,87.1 364.2,86.2 363.4,85.9 363.7,83.6 361.9,82.9 362.3,81.8 362.1,81.0 362.1,80.1 361.5,79.2 361.0,78.1 359.9,77.8 359.9,79.7 358.4,78.1 357.1,77.7 356.7,78.0 356.0,77.6 354.6,77.8 353.9,78.3 354.2,78.2 355.1,78.5 355.1,80.7 355.6,80.6 355.0,83.0 355.1,83.9 355.0,85.8 355.1,85.9 354.6,87.3 355.0,89.3 354.4,89.1 353.5,89.4 353.2,89.8 352.9,91.1 352.2,90.9 351.0,91.2 350.7,90.9 349.8,91.0 349.5,90.6 349.9,89.7 349.4,88.9 349.6,88.6 349.4,87.9 349.4,86.5 348.8,86.0 348.5,85.9 348.9,84.5 349.1,83.4 348.6,82.8 348.8,82.6 349.7,81.6 349.2,80.3 349.8,80.1 349.3,78.6 349.0,78.1 349.5,77.4 350.3,77.1 349.9,76.0 350.9,76.7 350.6,76.1 350.4,76.1 350.0,75.4 349.8,75.8 349.6,75.6 349.7,76.1 349.6,77.0 349.2,77.5 348.5,77.7 347.3,77.7 346.8,77.9 347.0,78.4 346.5,78.1 346.4,78.2 345.4,77.5 344.9,76.5 345.0,76.3 344.8,75.9 344.6,77.5 343.3,79.8 343.0,80.1 342.2,80.4 343.1,82.8 343.5,82.8 343.4,83.5 343.8,85.3 344.0,85.5 343.8,85.6 343.3,85.6 342.6,87.0 341.4,87.7 342.2,88.5 342.7,88.5 343.9,90.4 344.9,91.0 344.4,91.9 344.9,93.2 344.9,93.6 345.3,93.7 345.2,95.0 345.7,96.1 346.2,96.0 344.9,97.5 344.7,98.6 343.7,98.7 342.4,99.5 342.3,99.7 342.3,99.5 341.3,98.6 339.8,98.4 339.6,98.6 338.7,98.4 337.1,98.4 337.0,97.7 336.1,97.1 335.4,97.5 334.3,97.5 334.0,95.9 334.3,95.6 333.7,94.8 332.9,93.5 332.3,92.8 333.0,92.1 332.7,90.6 332.3,90.4 331.9,89.6 330.3,89.7 329.9,90.0 329.5,89.9 328.5,90.0 327.4,90.8 326.4,90.7 325.9,92.5 324.8,92.3 323.7,93.3 323.4,93.8 323.0,94.0 322.1,93.7 321.3,94.8 319.3,94.2 319.6,93.9 318.4,93.4 317.4,93.5 316.4,93.9 316.1,92.7 315.6,94.4 315.1,94.3 315.5,95.8 314.6,97.5 313.4,98.4 313.5,98.5 315.1,97.9 315.6,98.1 316.8,99.1 316.7,99.5 316.4,101.7 316.0,102.7 315.3,102.8 315.3,103.1 314.9,103.8 314.0,103.9 312.5,103.8 311.6,104.4 311.8,104.9ZM321.2,107.2 321.9,105.2 322.9,104.7 324.3,104.5 324.9,105.2 324.9,104.0 326.0,104.8 327.6,103.9 327.9,104.6 328.9,105.9 330.1,106.0 330.3,105.8 330.4,106.3 329.9,107.8 329.3,107.4 328.2,108.1 327.6,108.9 326.6,108.6 325.8,109.5 324.6,109.3 323.6,108.8 323.7,108.6 322.8,108.5 321.0,107.3 320.8,106.6 321.2,106.6ZM352.8,76.6 353.6,77.7 353.4,77.6 353.6,78.4 353.8,78.3 353.4,77.0ZM317.9,62.4 318.0,62.2 318.1,62.3 318.4,63.5 319.6,64.3 321.2,64.7 321.0,63.9 321.5,63.6 322.1,64.2 322.8,63.5 323.5,63.3 323.6,63.9 323.4,64.8 323.7,65.0 323.3,65.1 322.7,66.6 322.9,66.8 322.7,67.8 321.9,68.5 321.9,69.3 322.7,69.2 323.5,69.9 325.6,71.2 325.8,71.0 325.2,70.5 325.6,70.4 327.0,72.0 326.6,72.9 327.0,72.8 329.2,74.2 329.7,74.3 329.9,75.1 331.9,76.6 333.7,78.7 334.5,78.4 334.5,78.1 335.4,77.9 337.3,78.7 337.4,77.9 337.2,78.1 337.3,77.1 336.6,77.1 336.6,76.3 337.0,75.0 336.0,74.1 335.6,73.4 335.6,72.1 334.7,72.1 333.8,70.6 334.1,69.7 333.8,69.5 333.6,68.5 332.8,67.1 333.7,66.8 333.9,65.6 332.9,64.6 333.2,63.8 333.8,63.4 333.6,62.8 332.8,62.0 331.3,62.1 330.8,61.7 330.8,60.6 330.0,59.6 329.1,59.7 329.1,59.0 327.9,57.9 326.1,57.6 326.0,57.1 323.9,56.3 323.5,55.8 322.9,57.2 321.0,56.0 320.4,56.2 320.0,55.9 318.7,55.6 317.4,56.1 317.3,56.4 317.1,56.2 316.4,57.6 316.0,58.2 316.0,59.7 316.2,60.0 315.9,60.2 316.5,61.0 316.5,62.1ZM304.3,107.7 304.7,107.5 304.6,106.3 302.9,105.2 301.8,105.8 304.0,107.2ZM279.1,107.7 279.9,107.4 280.6,107.4 280.9,106.3 281.6,106.7 283.5,105.9 285.8,106.5 285.9,106.7 286.5,106.9 288.7,106.8 289.0,107.6 289.9,108.4 291.5,105.9 292.2,105.7 292.7,104.6 293.4,104.4 294.5,104.6 295.2,103.6 296.4,103.4 297.7,102.2 298.7,102.1 299.4,100.4 298.1,99.3 298.8,98.3 299.1,97.0 300.0,95.9 300.2,95.4 299.9,94.8 301.1,92.9 299.8,92.5 299.0,91.8 297.9,91.3 298.1,91.1 297.2,91.0 296.6,89.9 296.4,88.3 295.8,88.1 294.5,86.6 294.1,86.5 294.0,85.4 292.7,84.4 291.8,84.2 291.1,84.4 291.2,84.1 289.9,82.8 288.8,82.2 287.9,82.8 288.0,82.9 287.1,82.4 286.3,81.2 285.0,81.0 285.2,81.8 284.3,81.9 282.9,80.4 283.0,80.1 281.6,80.2 280.7,79.8 280.0,80.1 279.4,80.1 278.7,79.6 277.3,80.0 277.0,80.2 276.8,79.5 275.5,80.3 274.3,80.7 273.8,80.5 273.1,81.2 271.9,80.5 272.0,80.8 272.3,81.0 272.7,82.3 272.4,83.3 273.1,84.2 274.3,84.9 274.7,85.7 274.4,86.1 275.0,86.0 276.2,86.8 277.4,88.0 278.0,87.7 279.2,89.5 279.2,91.1 278.7,91.9 278.1,93.2 278.2,93.7 277.5,94.5 277.8,95.7 278.9,96.2 280.0,97.0 279.7,98.4 279.4,98.5 279.8,98.9 279.5,99.5 278.6,100.4 278.4,102.4 277.7,102.0 277.7,104.0 276.9,105.6 277.0,105.9 276.9,107.0 277.2,107.8 279.1,107.3Z" fill="#FDC8C8" fill-rule="evenodd"/>
<path d="M286.5,64.3 287.9,66.2 287.5,66.6 287.7,67.6 287.6,68.6 287.5,68.4 287.2,69.6 287.6,70.7 287.7,72.6 288.5,72.0 288.8,72.1 288.6,73.1 289.9,73.9 291.4,73.4 291.9,75.0 293.3,74.7 294.2,74.1 294.7,74.4 295.5,74.2 295.5,72.4 295.2,72.1 295.7,71.8 296.0,70.2 296.0,69.3 296.2,68.9 297.4,69.1 297.3,68.0 299.7,67.5 300.9,67.1 301.6,66.2 302.5,66.7 304.7,66.1 304.9,65.4 304.8,65.2 305.7,63.9 305.1,62.8 304.9,62.3 305.3,62.2 304.2,61.1 303.7,59.9 303.4,60.0 301.4,59.0 300.8,58.4 300.1,58.2 298.8,58.5 297.8,58.5 297.7,57.8 297.2,57.1 295.9,57.3 296.0,57.2 295.0,57.4 294.8,57.6 293.9,57.9 292.5,58.6 291.7,57.9 290.9,58.9 289.5,59.1 288.1,60.0 287.8,60.4 287.1,60.5 286.6,61.6 286.7,62.3 286.0,64.7Z" fill="#EFEFEF" fill-rule="evenodd"/>
<path d="M344.9,77.6 343.7,79.7 343.1,80.3 342.5,80.5 343.3,82.6 343.8,82.7 343.7,83.5 344.0,85.1 344.4,85.5 343.9,85.9 343.4,85.9 342.7,87.2 341.8,87.8 342.3,88.3 342.8,88.3 343.2,88.0 342.9,88.6 344.0,90.2 345.2,90.9 344.7,91.9 345.1,93.4 345.5,93.6 345.5,95.0 345.8,95.8 346.8,95.6 345.2,97.6 344.9,98.8 343.7,99.0 342.6,99.6 342.4,100.2 342.7,100.4 342.9,99.6 343.4,99.4 344.9,99.1 346.0,99.2 346.2,98.3 347.0,98.6 348.0,98.1 347.9,97.7 348.7,97.4 348.9,96.0 349.9,95.1 350.2,93.8 350.3,94.1 351.0,93.5 353.3,92.9 354.1,93.4 354.5,94.6 355.6,94.6 356.0,94.8 356.2,96.0 356.0,96.8 356.9,97.1 357.3,98.4 357.0,99.0 357.2,99.6 357.1,99.6 356.5,100.5 357.2,101.7 357.2,102.2 358.1,102.6 358.9,102.0 360.6,101.5 360.9,101.8 361.6,100.8 362.7,101.0 364.4,99.9 364.5,99.3 365.4,98.6 366.2,98.0 366.4,98.1 367.2,96.2 366.4,94.9 366.9,94.3 367.2,92.7 366.9,92.3 367.1,92.2 367.0,91.2 367.3,90.1 367.0,89.9 365.6,89.5 365.5,87.3 364.9,87.1 364.2,86.2 363.0,85.7 363.4,85.7 363.6,83.7 361.8,83.0 362.3,81.8 362.0,81.0 362.1,80.1 361.0,78.2 359.9,77.8 359.9,78.6 359.2,79.0 358.4,78.1 357.1,77.8 356.2,78.3 356.3,77.8 356.0,77.6 354.6,77.8 354.3,78.0 355.3,78.3 355.4,80.4 355.9,80.4 355.3,83.2 355.2,85.7 355.4,85.8 354.8,87.3 355.3,89.6 354.4,89.3 353.6,89.6 353.1,91.4 352.2,91.1 350.9,91.4 350.6,91.2 349.7,91.2 349.2,90.7 349.6,89.7 349.1,88.8 349.4,88.6 349.1,86.6 348.7,86.2 348.2,86.1 348.8,83.5 348.2,82.7 348.7,82.5 349.4,81.5 349.0,80.2 349.5,80.0 348.7,78.1 349.1,77.6 348.5,77.8 347.3,77.7 347.1,77.9 347.2,78.8 345.4,77.6 345.0,76.7ZM349.6,77.1 350.0,77.0 349.8,76.3ZM314.6,97.8 315.1,97.7 315.7,97.9 317.2,99.1 316.9,99.4 316.6,101.7 316.1,103.0 315.5,103.0 315.0,104.0 314.0,104.1 312.6,104.0 311.9,104.5 312.0,104.8 312.3,104.4 312.6,105.9 311.7,107.2 311.6,107.6 312.1,107.5 311.3,109.7 311.4,110.5 311.2,111.1 310.9,111.2 311.5,112.7 312.0,113.5 311.3,114.4 311.8,115.7 312.5,116.3 312.7,117.6 313.1,118.5 313.6,118.5 313.4,119.2 313.7,120.7 314.1,121.1 315.2,121.0 315.4,122.1 315.0,123.2 316.1,123.9 317.1,125.5 316.2,126.0 317.0,128.7 317.2,130.4 317.6,131.0 320.2,130.9 320.7,130.2 321.3,131.0 322.8,129.9 323.6,129.6 324.5,130.0 325.0,129.2 325.9,129.6 327.2,128.7 328.1,128.4 328.4,127.9 329.1,127.7 329.5,126.3 329.4,125.5 330.1,125.8 331.1,124.6 332.5,124.7 334.0,123.6 334.3,123.8 334.6,123.2 335.4,122.3 336.5,122.2 337.1,121.5 337.3,120.8 338.7,119.8 338.7,118.8 338.9,118.5 338.6,118.7 338.3,117.4 337.6,116.9 336.5,116.3 336.2,114.9 336.4,114.1 336.7,114.1 335.2,111.7 335.4,111.2 335.4,110.4 334.9,109.4 335.8,108.9 336.3,109.0 336.3,107.2 336.9,106.1 337.4,106.3 337.5,105.2 337.8,104.9 338.7,104.6 339.8,104.7 340.1,103.7 341.3,103.1 341.2,101.5 341.4,100.9 342.2,100.2 342.0,99.6 341.2,98.8 336.9,98.6 336.8,97.8 336.1,97.4 335.5,97.7 334.1,97.7 333.7,95.9 334.0,95.6 332.7,93.6 332.2,93.1 331.8,93.0 332.7,92.0 332.5,90.7 332.1,90.5 331.8,89.8 330.4,89.9 330.2,90.0 330.1,90.4 329.5,90.1 328.6,90.3 327.5,91.0 326.6,91.0 326.1,92.7 324.9,92.5 323.5,94.0 323.0,94.2 322.2,94.0 321.4,95.1 318.9,94.4 319.2,94.0 318.4,93.7 317.4,93.8 316.5,94.2 316.2,94.1 316.1,93.6 315.8,94.6 315.5,94.6 315.7,95.9ZM329.0,105.6 330.0,105.7 330.4,105.5 330.6,106.3 330.1,108.1 329.3,107.7 328.4,108.3 327.7,109.2 326.7,108.9 325.7,109.9 325.6,109.6 324.5,109.5 323.4,109.0 323.4,108.8 322.7,108.8 320.8,107.4 320.5,106.4 321.1,106.3 321.7,105.1 322.8,104.4 324.4,104.2 324.7,104.5 324.7,103.6 326.0,104.6 327.4,103.8 327.6,103.4 328.1,104.5ZM304.4,106.4 302.9,105.5 302.3,105.8 304.2,107.0 304.4,107.4Z" fill="none" stroke="#F4888E" stroke-width="0.45" stroke-opacity="0.75" stroke-linejoin="round"/>
<path d="M272.3,81.1 272.7,82.3 272.5,83.3 273.1,84.2 274.3,84.9 274.8,85.7 274.5,86.0 275.0,86.0 276.2,86.7 277.4,88.0 277.8,87.7 278.3,88.0 279.3,89.5 279.3,91.1 278.7,92.0 278.2,93.2 278.2,93.8 277.5,94.5 277.9,95.7 278.9,96.2 280.0,97.0 279.7,98.4 279.4,98.5 279.9,98.9 278.6,100.4 278.4,102.4 277.7,102.1 277.7,104.1 276.9,105.6 277.1,105.9 277.0,106.9 277.2,107.7 280.4,107.2 280.8,106.0 281.6,106.5 283.5,105.6 286.0,106.3 286.1,106.5 286.6,106.6 288.4,106.5 288.9,106.6 289.2,107.4 289.8,108.0 291.3,105.7 292.0,105.5 292.5,104.4 293.4,104.1 294.4,104.3 295.1,103.4 296.3,103.2 297.6,101.9 298.5,101.9 299.1,100.5 298.1,99.7 297.9,99.3 298.6,98.2 298.9,96.9 300.0,95.4 299.6,94.8 300.7,93.0 299.7,92.7 298.8,92.0 297.6,91.5 297.7,91.3 297.1,91.2 296.3,89.9 296.1,88.5 295.6,88.3 294.4,86.8 293.8,86.6 293.8,85.5 292.6,84.6 291.8,84.5 290.8,84.7 290.9,84.1 289.7,83.0 288.8,82.5 288.2,82.9 288.3,83.3 286.9,82.6 286.1,81.5 285.3,81.3 285.5,82.0 284.2,82.2 283.3,81.3 282.5,80.4 281.5,80.4 280.7,80.1 279.4,80.4 278.7,79.9 277.4,80.2 276.9,80.6 276.7,79.9 275.6,80.5 274.3,80.9 273.9,80.8 273.2,81.4Z" fill="none" stroke="#F4888E" stroke-width="0.45" stroke-opacity="0.75" stroke-linejoin="round"/>
<path d="M295.3,56.7 296.4,56.2 297.0,54.6 297.6,53.6 297.2,52.2 298.2,50.9 297.8,50.1 298.4,49.1 298.8,47.6 298.6,47.2 298.5,47.2 299.3,45.6 299.1,45.1 297.9,46.0 295.3,46.0 295.2,46.8 293.6,46.4 292.7,47.3 292.7,47.6 291.7,46.6 290.9,46.3 289.6,46.6 288.9,46.2 289.0,45.8 286.8,46.9 286.3,46.4 285.9,45.7 284.1,45.6 283.6,45.4 282.5,43.7 282.0,45.0 280.7,45.9 279.9,46.2 279.7,47.0 279.8,47.3 278.8,47.6 279.0,49.4 278.8,50.2 278.0,50.9 277.8,50.6 277.6,51.4 276.7,52.6 276.5,53.5 274.7,54.2 273.9,55.0 273.6,54.7 273.7,55.2 273.5,55.6 273.6,56.7 274.2,57.5 275.5,57.8 275.2,58.6 275.6,60.0 276.0,60.3 277.3,59.8 277.5,59.5 278.6,61.5 280.2,61.3 280.5,60.7 281.0,60.8 281.7,61.4 284.1,61.1 284.0,62.0 284.2,62.1 285.6,61.7 286.7,61.8 286.6,62.8 286.8,62.3 286.8,61.6 287.2,60.6 287.9,60.5 288.2,60.1 289.6,59.2 291.0,59.1 291.7,58.1 292.5,58.8 293.9,58.0 295.0,57.7Z" fill="none" stroke="#F5777E" stroke-width="0.45" stroke-opacity="0.75" stroke-linejoin="round"/>
<path d="M274.7,58.4 273.8,59.3 272.4,59.0 272.1,59.2 271.1,62.0 271.4,62.2 270.9,62.1 270.0,63.3 270.1,64.6 270.4,65.5 269.8,65.8 269.4,65.8 269.6,67.1 269.9,67.6 269.5,68.5 270.2,69.4 270.1,71.3 269.7,71.5 270.2,72.2 269.9,73.2 269.4,74.0 269.7,73.9 269.4,75.2 268.6,76.3 269.4,77.5 268.8,78.6 270.1,79.3 270.9,79.2 271.1,80.1 272.7,81.2 273.2,81.3 273.8,80.7 274.3,80.8 275.5,80.5 276.7,79.8 276.9,80.5 277.4,80.1 278.7,79.8 279.4,80.3 281.7,79.8 282.3,79.0 282.6,78.1 283.3,77.3 284.1,77.6 284.5,76.4 284.8,76.4 285.4,76.0 286.1,75.8 286.1,74.9 286.7,73.9 287.6,73.5 287.8,72.3 287.3,69.3 287.6,68.8 287.7,68.9 287.9,67.6 287.7,66.7 288.1,66.2 287.0,64.6 286.5,64.1 286.2,64.2 286.5,63.1 286.6,61.8 285.6,61.7 284.2,62.2 283.9,62.1 284.0,61.2 281.7,61.5 280.9,60.8 280.6,60.8 280.3,61.4 278.6,61.6 277.5,59.6 277.4,59.9 275.9,60.4 275.6,60.0 275.1,58.6Z" fill="none" stroke="#F5777E" stroke-width="0.45" stroke-opacity="0.75" stroke-linejoin="round"/>
<path d="M286.4,64.1 286.5,64.0 287.1,64.5 288.2,66.2 287.8,66.7 288.0,67.6 287.8,69.0 287.6,68.9 287.5,69.6 287.9,70.7 287.9,72.1 288.4,71.8 289.1,72.0 288.9,73.0 289.9,73.6 291.6,73.1 292.1,74.7 293.2,74.4 294.2,73.9 294.7,74.2 295.2,74.0 295.3,72.5 294.9,72.0 295.4,71.7 295.8,70.2 295.7,69.2 296.1,68.7 297.1,68.8 297.1,68.0 296.9,67.8 297.8,67.7 300.7,66.8 301.6,65.9 302.5,66.5 304.5,65.9 304.6,65.2 305.4,63.9 304.8,62.9 304.6,62.1 305.0,62.0 304.2,61.2 303.7,59.9 303.0,60.2 303.0,59.8 301.4,59.0 300.7,58.4 300.2,58.3 298.8,58.6 297.8,58.5 297.6,57.8 297.2,57.2 295.1,57.6 295.0,57.8 294.0,58.1 292.5,58.9 291.7,58.2 291.0,59.1 289.6,59.3 288.3,60.2 287.9,60.6 287.2,60.7 286.9,61.6 286.9,62.4Z" fill="none" stroke="#DCDCDC" stroke-width="0.45" stroke-opacity="0.75" stroke-linejoin="round"/>
<path d="M308.1,71.4 308.9,71.6 309.5,71.0 309.4,69.8 310.1,68.4 311.0,68.5 311.2,67.6 312.0,67.0 313.0,66.8 313.0,65.5 313.5,64.0 313.2,63.8 312.8,61.2 313.1,61.0 313.3,61.1 314.0,60.6 314.3,59.2 313.3,58.2 314.2,55.4 313.8,54.9 313.4,54.8 313.8,53.2 312.7,52.5 312.6,52.6 312.4,52.4 312.0,53.2 312.5,53.7 311.8,53.6 311.2,54.7 311.7,55.4 311.7,56.0 310.9,56.2 311.7,58.3 310.1,58.6 309.3,58.3 308.0,59.1 307.1,58.4 307.1,58.9 306.8,59.4 305.7,59.6 305.5,59.9 305.6,61.1 305.2,62.0 304.7,62.1 305.5,63.9 304.9,64.7 304.8,65.6 305.5,66.6 306.4,67.5 306.0,67.9 306.4,68.5 306.3,69.6 306.7,70.1 306.6,70.6 308.0,71.7Z" fill="none" stroke="#7478EC" stroke-width="0.45" stroke-opacity="0.75" stroke-linejoin="round"/>
<path d="M295.8,69.2 295.9,70.2 295.5,71.7 295.1,72.0 295.4,72.3 295.3,73.3 296.0,74.0 296.9,73.6 298.1,73.8 297.9,73.4 298.7,72.8 300.2,73.6 301.0,73.1 301.8,73.1 302.4,73.7 303.1,73.4 304.4,73.5 304.9,73.2 305.9,73.0 307.0,73.3 307.8,73.3 308.7,72.2 309.2,72.5 308.6,71.9 308.0,71.8 306.5,70.6 306.6,70.1 306.2,69.6 306.3,68.5 305.9,67.9 306.3,67.5 305.5,66.7 304.7,65.6 304.5,66.0 302.5,66.6 301.6,66.0 300.8,66.9 299.6,67.4 297.1,67.9 297.2,68.9 296.1,68.8Z" fill="none" stroke="#F5777E" stroke-width="0.45" stroke-opacity="0.75" stroke-linejoin="round"/>
<path d="M297.1,75.5 297.5,76.2 299.8,76.5 300.8,77.5 302.0,77.3 302.9,76.9 303.9,77.2 304.8,77.2 306.0,77.7 306.2,78.3 308.0,77.8 308.8,77.4 309.3,77.8 309.3,77.0 311.1,76.6 310.4,76.4 310.0,75.3 310.4,74.1 310.6,74.0 309.5,72.7 308.7,72.3 307.9,73.4 307.0,73.4 305.9,73.1 304.9,73.3 304.5,73.6 303.1,73.5 302.3,73.8 301.8,73.2 301.0,73.2 300.2,73.7 298.7,72.9 298.0,73.5 298.2,73.9 296.9,73.7 296.4,74.0 297.2,74.3Z" fill="none" stroke="#F5777E" stroke-width="0.45" stroke-opacity="0.75" stroke-linejoin="round"/>
<path d="M316.4,60.0 316.2,60.2 316.7,60.9 316.7,61.9 317.8,62.1 318.0,61.8 318.3,62.2 318.7,63.3 319.7,64.1 320.9,64.4 320.8,63.7 321.5,63.3 322.1,63.9 322.7,63.3 323.7,63.0 323.8,63.9 323.7,64.7 324.3,65.1 323.5,65.3 323.0,66.5 323.1,66.7 322.9,67.9 322.1,68.6 322.1,69.0 322.8,69.0 324.7,70.4 325.7,70.1 327.3,72.0 327.1,72.5 329.3,74.0 329.9,74.1 330.1,75.0 331.5,76.0 331.9,76.3 332.2,76.0 332.0,76.3 333.8,78.4 334.3,78.2 334.2,78.0 335.4,77.7 337.1,78.4 337.3,77.1 336.6,77.1 336.5,76.3 336.9,75.0 336.2,74.4 336.1,74.5 335.6,73.4 335.6,72.2 334.6,72.1 333.8,70.6 334.1,69.7 333.7,69.5 333.5,68.6 332.8,67.0 333.6,66.7 333.9,65.6 332.9,64.6 333.1,63.8 333.7,63.4 333.5,62.9 332.8,62.1 331.3,62.1 330.8,61.7 330.7,60.6 330.0,59.7 329.0,59.9 329.1,59.1 327.9,58.0 326.0,57.7 326.0,57.1 323.9,56.4 323.5,55.9 322.8,57.3 320.9,56.1 320.4,56.3 320.0,56.0 318.7,55.7 317.7,56.0 317.3,56.9 317.0,56.5 316.8,57.0 316.9,57.0 316.0,58.3 316.1,59.3Z" fill="none" stroke="#F4888E" stroke-width="0.45" stroke-opacity="0.75" stroke-linejoin="round"/>
<path d="M308.8,81.7 309.5,82.4 310.0,82.5 310.7,83.6 310.3,85.2 310.9,85.5 310.6,85.5 310.6,86.4 310.1,87.1 311.1,87.7 312.1,90.5 313.2,90.4 313.7,90.6 313.7,91.3 314.5,90.1 314.4,89.6 314.1,89.4 315.0,89.1 316.0,88.1 316.6,88.6 317.2,87.8 318.8,87.3 319.4,87.5 319.8,86.5 321.7,86.5 322.4,85.9 322.7,85.3 323.0,85.7 323.4,85.0 323.7,84.1 323.2,82.4 323.4,82.0 323.1,81.1 322.6,80.7 321.7,80.7 321.1,78.3 321.2,77.8 320.4,77.6 320.4,77.0 319.5,75.7 319.5,75.1 319.9,75.0 319.4,74.8 318.3,76.2 317.6,76.5 316.3,76.6 315.9,77.6 315.4,77.1 315.0,77.6 313.9,77.7 313.0,76.7 312.9,77.3 312.3,77.7 312.0,79.0 311.5,79.4 310.5,79.3 309.7,80.2 309.1,80.5Z" fill="none" stroke="#F5777E" stroke-width="0.45" stroke-opacity="0.75" stroke-linejoin="round"/>
<path d="M319.2,75.0 319.4,74.7 320.1,75.0 319.5,75.2 319.5,75.7 320.5,76.9 320.5,77.6 321.3,77.7 321.2,78.3 321.8,80.6 322.6,80.6 323.2,81.1 323.5,82.0 323.3,82.4 323.8,84.1 323.5,84.9 325.2,84.6 325.7,84.7 326.6,83.6 327.4,83.8 329.7,82.8 329.8,82.0 329.9,82.0 330.9,80.1 332.3,79.1 333.7,78.6 334.5,78.7 334.3,78.3 333.7,78.5 331.9,76.4 330.0,75.0 329.8,74.2 329.2,74.1 326.9,72.6 327.2,72.0 325.7,70.2 324.8,70.4 324.9,70.6 322.8,69.1 322.1,69.1 322.1,69.4 320.9,70.1 321.3,72.1 320.2,73.2Z" fill="none" stroke="#F5777E" stroke-width="0.45" stroke-opacity="0.75" stroke-linejoin="round"/>
<path d="M281.6,80.3 282.7,80.3 282.6,80.4 283.3,81.2 284.3,82.1 285.4,81.9 285.3,81.2 286.2,81.4 287.0,82.5 288.2,83.2 288.1,82.8 288.9,82.4 289.8,83.0 291.0,84.1 290.9,84.6 291.8,84.4 292.6,84.5 293.9,85.4 293.9,86.6 294.2,86.8 295.0,85.7 295.6,86.0 297.9,84.7 298.3,85.1 298.8,84.1 299.9,84.1 301.9,84.8 302.8,85.4 303.6,85.4 303.7,84.9 304.6,84.5 305.4,84.6 307.8,82.9 307.7,81.9 308.3,80.7 309.6,80.2 310.5,79.2 311.5,79.3 311.9,78.9 312.2,77.6 312.8,77.2 313.0,76.2 312.9,75.8 312.3,75.8 311.9,76.0 311.5,76.7 310.8,76.6 309.3,77.0 309.3,78.0 308.8,77.5 306.6,78.4 306.1,78.4 306.0,77.8 304.8,77.3 303.9,77.3 302.9,77.0 302.0,77.4 300.7,77.6 299.7,76.5 297.5,76.3 297.0,75.5 297.1,74.4 296.2,74.0 295.7,74.3 295.3,74.1 294.7,74.3 294.2,74.0 293.2,74.5 292.0,74.8 291.5,73.2 289.9,73.7 288.8,73.0 289.0,72.0 288.4,71.9 287.9,72.3 287.7,73.5 286.8,73.9 286.2,74.9 286.2,75.9 285.4,76.0 284.8,76.5 284.5,76.5 284.1,77.7 283.3,77.4 282.7,78.1 282.3,79.1 281.7,79.9 280.8,80.0Z" fill="none" stroke="#7478EC" stroke-width="0.45" stroke-opacity="0.75" stroke-linejoin="round"/>
<path d="M302.9,100.3 304.6,98.8 307.6,98.2 308.1,98.4 307.9,97.7 308.2,97.5 309.5,97.3 311.5,96.8 312.1,97.2 312.3,97.9 312.9,97.4 314.0,97.1 314.7,97.6 315.6,95.9 315.4,94.5 315.7,94.5 316.0,93.4 314.6,91.9 313.6,91.8 313.6,90.7 313.2,90.5 312.0,90.6 311.0,87.8 310.0,87.1 310.5,86.4 310.5,85.4 310.2,85.2 310.6,83.6 309.9,82.6 309.5,82.5 308.7,81.7 309.0,80.5 308.4,80.8 307.8,81.9 307.9,83.0 305.4,84.7 304.6,84.6 303.8,85.0 303.7,85.5 302.8,85.5 301.8,84.9 299.9,84.2 298.9,84.2 298.3,85.3 297.9,84.8 295.6,86.1 295.1,85.8 294.3,86.7 295.6,88.2 296.2,88.4 296.4,89.9 297.1,91.1 297.8,91.2 297.7,91.4 298.9,91.9 299.8,92.6 300.8,93.0 299.7,94.8 300.1,95.4 299.0,96.9 298.7,98.3 298.0,99.4 300.1,100.7 301.9,99.9Z" fill="none" stroke="#7478EC" stroke-width="0.45" stroke-opacity="0.75" stroke-linejoin="round"/>
<path d="M312.9,61.3 313.3,63.7 313.6,63.9 313.1,65.6 313.1,66.9 312.1,67.1 311.2,67.7 311.0,68.5 310.1,68.5 309.5,69.8 309.8,71.7 309.3,71.6 309.5,72.7 310.8,74.0 310.5,74.1 310.2,75.1 310.7,75.8 311.8,75.9 312.8,75.5 313.1,76.4 313.9,77.6 315.0,77.5 315.4,77.0 315.9,77.4 316.3,76.5 317.6,76.5 318.2,76.1 320.2,73.1 321.2,72.1 320.8,70.1 322.0,69.4 322.0,68.6 322.8,67.8 323.0,66.7 322.9,66.5 323.4,65.2 324.1,65.0 323.6,64.7 323.7,63.9 323.6,63.1 322.8,63.4 322.1,64.0 321.5,63.5 320.8,63.8 320.9,64.5 319.6,64.2 318.6,63.4 318.3,62.3 318.0,61.9 317.8,62.2 316.7,62.0 316.6,61.0 316.1,60.2 316.3,60.0 316.0,59.4 315.9,59.8 315.2,59.8 313.4,61.2 313.1,61.1Z" fill="none" stroke="#9094D2" stroke-width="0.45" stroke-opacity="0.75" stroke-linejoin="round"/>
<path d="M289.1,107.5 288.8,106.7 286.6,106.7 286.0,106.6 285.9,106.4 283.5,105.7 281.6,106.6 280.8,106.1 280.5,107.2 279.9,107.2 279.1,107.6 278.8,109.5 277.8,110.2 277.0,110.3 277.9,110.6 278.2,112.3 278.1,113.3 279.2,113.5 280.4,112.8 280.4,113.6 281.7,114.6 283.0,114.4 283.3,113.6 284.5,114.0 285.4,113.2 286.4,113.4 286.6,114.1 289.2,114.7 289.2,114.5 290.7,114.6 291.6,115.7 294.3,117.7 294.9,117.6 295.1,115.7 295.6,115.0 294.5,115.1 293.6,114.1 292.8,112.9 293.5,112.5 292.2,110.2 291.0,110.2 291.4,109.9 291.5,108.4 291.7,108.0 290.9,108.2 289.8,108.1Z" fill="none" stroke="#7478EC" stroke-width="0.45" stroke-opacity="0.75" stroke-linejoin="round"/>
<path d="M290.9,108.1 291.8,107.9 291.7,108.3 292.7,108.6 293.3,108.0 295.7,107.9 296.0,107.2 297.2,107.9 298.1,107.7 298.1,107.1 298.6,107.3 299.9,107.0 301.0,106.7 301.8,106.1 302.0,106.3 302.2,105.8 302.9,105.4 304.5,106.4 304.6,107.2 305.2,106.3 306.4,106.4 307.6,106.2 308.1,105.3 309.2,105.8 310.4,104.9 311.9,105.0 311.8,104.5 312.5,103.9 314.0,104.0 315.0,103.9 315.4,102.9 316.1,102.9 316.5,101.7 316.8,99.5 317.1,99.1 315.7,98.0 315.1,97.8 314.3,98.0 314.7,97.7 314.0,97.2 312.9,97.4 312.3,98.0 312.0,97.3 311.5,96.9 309.5,97.4 308.2,97.6 308.0,97.7 308.2,98.6 307.6,98.3 304.7,98.9 304.6,99.6 304.5,99.2 303.0,100.4 301.9,100.0 300.1,100.8 299.5,101.6 297.9,102.3 297.7,102.2 297.1,103.0 296.3,103.5 295.9,104.0 295.2,103.9 294.4,104.8 293.3,104.2 292.5,104.7 292.1,105.6 291.4,105.8 289.9,108.0Z" fill="none" stroke="#F5777E" stroke-width="0.45" stroke-opacity="0.75" stroke-linejoin="round"/>
<path d="M342.7,87.1 343.4,85.8 343.8,85.8 344.2,85.5 343.9,85.2 343.6,83.5 343.7,82.7 343.2,82.6 342.4,80.5 343.1,80.2 343.6,79.6 344.8,77.6 344.8,76.1 345.5,75.9 345.5,75.4 344.6,73.7 344.1,73.7 343.0,74.6 342.0,74.5 341.5,74.8 341.5,75.3 341.2,76.0 339.8,75.9 337.8,77.5 337.2,78.5 335.4,77.8 334.3,78.0 334.5,78.8 333.7,78.7 332.3,79.2 331.0,80.2 330.0,82.1 329.9,82.1 329.8,82.9 328.9,83.3 327.4,83.9 326.7,83.7 325.7,84.8 325.3,84.6 324.1,84.9 323.0,85.9 322.7,85.5 322.5,86.0 321.7,86.6 319.9,86.6 319.4,87.6 318.9,87.4 317.3,87.9 316.6,88.7 316.0,88.2 315.0,89.2 314.3,89.5 314.5,89.5 314.6,90.1 313.7,91.5 313.7,91.7 314.7,91.8 316.1,93.4 316.3,94.1 316.5,94.1 317.4,93.7 318.4,93.6 319.3,94.0 319.0,94.3 321.4,95.0 322.2,93.9 323.0,94.1 323.5,93.9 324.9,92.5 326.0,92.6 326.5,90.9 327.4,90.9 328.5,90.2 329.5,90.0 330.0,90.3 330.1,90.0 330.3,89.8 331.8,89.7 333.1,90.2 333.2,89.8 334.0,89.3 334.6,89.5 335.5,88.6 336.5,88.3 337.2,88.5 337.4,87.6 337.9,87.2 338.7,87.7 339.9,87.8 340.0,87.0 340.3,87.5 341.7,87.7Z" fill="none" stroke="#9094D2" stroke-width="0.45" stroke-opacity="0.75" stroke-linejoin="round"/>
<path d="M342.3,100.1 342.5,99.6 343.7,98.9 344.9,98.8 345.1,97.6 346.6,95.7 345.8,95.9 345.4,95.0 345.4,93.6 345.1,93.5 344.6,91.9 345.1,90.9 344.0,90.2 342.8,88.6 342.9,88.3 342.2,88.4 341.7,87.8 340.3,87.6 340.0,87.2 340.0,87.9 338.7,87.8 337.9,87.3 337.5,87.7 337.2,88.6 336.5,88.4 335.5,88.7 334.7,89.6 334.0,89.4 333.3,89.8 333.2,90.3 331.9,89.9 332.2,90.5 332.6,90.7 332.8,92.0 332.0,93.0 332.3,93.0 332.8,93.6 334.1,95.6 333.8,95.9 334.1,97.6 335.5,97.6 336.1,97.3 336.9,97.8 336.9,98.5 341.2,98.7 342.1,99.5Z" fill="none" stroke="#9094D2" stroke-width="0.45" stroke-opacity="0.75" stroke-linejoin="round"/>
<path d="M304.5,107.8 304.0,108.4 303.8,110.9 303.5,111.6 303.2,111.6 303.5,112.5 304.7,113.9 304.5,114.1 304.8,114.2 305.0,115.3 305.0,116.5 305.2,116.5 305.4,117.1 307.2,119.1 306.3,120.1 306.4,120.9 307.2,120.3 308.7,120.7 308.9,122.1 308.6,122.5 308.6,123.7 310.8,125.7 310.6,127.6 312.4,127.6 312.7,128.8 312.6,129.8 314.1,131.3 314.4,132.3 314.9,132.4 315.9,131.6 317.0,131.6 317.3,132.1 317.7,131.2 317.1,130.4 316.9,128.8 316.1,125.9 317.0,125.5 316.0,123.9 314.9,123.2 315.3,122.1 315.2,121.0 314.1,121.2 313.6,120.8 313.3,119.2 313.5,118.6 313.0,118.6 312.6,117.6 312.4,116.3 311.7,115.8 311.1,114.4 311.9,113.5 311.4,112.7 310.8,111.2 311.1,111.0 311.3,110.5 311.2,109.6 312.0,107.6 311.5,107.7 311.6,107.2 312.5,105.9 312.3,104.6 311.9,105.1 310.5,105.0 309.3,105.9 308.8,105.8 308.2,105.4 307.7,106.3 306.4,106.5 305.2,106.4 304.4,107.5Z" fill="none" stroke="#F5777E" stroke-width="0.45" stroke-opacity="0.75" stroke-linejoin="round"/>
<path d="M295.1,117.5 295.9,116.8 297.4,116.6 298.3,116.8 298.4,116.0 298.9,115.8 301.4,115.8 301.4,116.2 302.8,116.6 304.6,115.7 304.8,116.2 304.9,115.3 304.4,114.1 304.6,113.9 303.5,112.6 303.1,111.6 303.4,111.5 303.7,110.9 303.9,108.4 304.4,107.7 304.2,107.1 302.2,105.9 302.1,106.5 301.8,106.2 301.0,106.8 298.6,107.4 298.2,107.2 298.1,107.8 297.2,108.0 296.1,107.3 295.8,108.0 293.3,108.1 292.7,108.7 291.6,108.4 291.5,110.0 291.3,110.1 292.2,110.1 293.7,112.5 292.9,112.9 294.6,115.0 295.8,115.0 295.2,115.7Z" fill="none" stroke="#9094D2" stroke-width="0.45" stroke-opacity="0.75" stroke-linejoin="round"/>
<path d="M287.1,120.8 289.0,122.9 289.7,123.3 289.6,123.5 291.8,124.0 292.1,124.4 292.6,124.4 292.9,123.9 294.7,124.2 295.3,126.2 294.5,126.2 294.8,127.1 295.6,128.4 296.4,128.9 295.9,130.1 296.5,131.2 297.4,131.3 298.5,131.8 298.7,132.5 299.2,132.9 301.7,132.2 301.9,132.6 303.0,131.5 304.3,131.4 305.1,131.1 305.0,130.5 305.5,129.7 306.3,130.0 306.5,127.8 306.9,126.7 307.1,125.7 307.8,125.1 307.8,124.1 307.4,124.1 308.1,123.0 308.8,122.1 308.6,120.7 307.2,120.4 306.3,121.0 306.2,120.1 307.1,119.1 304.9,116.7 304.6,115.8 302.8,116.7 301.4,116.3 301.4,115.9 299.9,115.9 298.5,116.1 298.3,116.9 297.4,116.7 295.9,116.8 294.8,117.8 293.4,118.1 292.2,118.8 291.7,118.5 291.6,119.2 291.1,119.7 290.5,119.6 289.4,120.6 288.1,120.9Z" fill="none" stroke="#7478EC" stroke-width="0.45" stroke-opacity="0.75" stroke-linejoin="round"/>
<path d="M339.1,118.2 340.1,118.4 340.8,116.6 341.8,115.4 342.4,115.4 342.5,114.7 343.1,116.0 342.9,117.7 344.2,119.9 343.7,119.9 344.0,120.9 343.9,122.2 344.5,122.4 345.2,122.1 345.8,122.3 346.7,122.0 347.0,120.6 347.9,120.5 347.9,120.3 347.3,119.7 348.1,118.3 348.3,118.1 348.0,118.1 348.0,117.0 349.2,115.5 349.3,114.5 351.3,113.3 351.9,113.7 353.2,111.5 353.3,110.1 352.9,110.0 351.7,107.4 352.6,107.4 353.2,105.9 354.1,105.7 355.1,104.8 356.1,104.2 356.4,104.4 356.4,104.2 357.7,102.5 357.1,102.2 357.1,101.7 356.5,100.6 354.8,101.7 353.7,103.1 352.9,103.0 352.2,103.4 350.6,102.3 349.4,101.9 348.7,101.0 347.9,100.6 348.4,100.6 348.6,100.3 348.1,98.2 347.0,98.7 346.2,98.4 346.1,99.3 344.9,99.2 343.4,99.4 343.0,99.7 342.8,100.6 342.2,100.2 341.5,101.0 341.3,101.6 341.4,103.2 340.2,103.8 339.9,104.8 338.7,104.7 337.9,105.0 337.6,105.3 337.4,106.4 337.0,106.2 336.4,107.2 336.4,109.1 335.8,109.0 335.0,109.4 335.5,110.4 335.5,111.2 335.3,111.7 336.8,114.2 336.5,114.2 336.3,114.9 336.6,116.2 337.6,116.8 338.3,117.4 338.7,118.6Z" fill="none" stroke="#F5777E" stroke-width="0.45" stroke-opacity="0.75" stroke-linejoin="round"/>
<path d="M348.0,97.7 348.7,100.3 348.3,100.7 348.8,101.0 349.4,101.8 350.7,102.2 352.2,103.3 352.9,102.9 353.6,103.0 354.8,101.7 356.4,100.5 357.1,99.4 356.9,99.0 357.2,98.4 356.8,97.1 355.9,96.8 356.1,96.0 355.9,94.9 355.6,94.7 354.4,94.7 354.0,93.4 353.3,93.0 351.0,93.6 350.2,94.2 350.0,95.1 348.9,96.0 348.8,97.4Z" fill="none" stroke="#F5777E" stroke-width="0.45" stroke-opacity="0.75" stroke-linejoin="round"/>
<path d="M349.5,81.5 348.7,82.5 348.3,82.7 348.9,83.5 348.3,86.1 348.8,86.1 349.2,86.6 349.5,88.6 349.2,88.8 349.7,89.7 349.3,90.7 349.7,91.2 350.6,91.1 350.9,91.3 352.2,91.0 353.1,91.3 353.6,89.5 354.4,89.3 355.2,89.5 354.7,87.3 355.3,85.8 355.1,85.7 355.2,83.1 355.7,80.5 355.3,80.5 355.2,78.4 354.2,78.1 353.7,78.2 353.5,77.4 352.5,76.0 351.4,75.8 350.6,76.3 349.7,75.7 350.1,77.0 349.4,77.3 348.8,78.1 349.6,80.0 349.1,80.3Z" fill="none" stroke="#F5777E" stroke-width="0.45" stroke-opacity="0.75" stroke-linejoin="round"/>
<path d="M321.3,106.2 321.2,106.4 320.7,106.5 320.9,107.3 322.7,108.7 323.5,108.7 323.4,108.9 324.5,109.4 325.6,109.6 325.7,109.8 326.7,108.8 327.6,109.1 328.3,108.2 329.3,107.6 330.0,108.0 330.5,106.3 330.3,105.6 330.1,105.8 329.0,105.7 328.0,104.5 327.6,103.5 327.4,103.9 326.0,104.7 324.7,103.7 324.7,104.7 324.3,104.3 322.9,104.5 321.8,105.1 321.4,106.3Z" fill="none" stroke="#F47C84" stroke-width="0.45" stroke-opacity="0.75" stroke-linejoin="round"/>
</g>
<g>
<path d="M425.5,110.6 427.1,113.7 426.6,114.2 427.5,114.7 427.6,117.8 428.2,117.6 429.6,119.1 429.0,119.8 429.2,121.8 431.4,122.4 430.3,127.1 430.8,125.5 431.5,125.2 432.0,123.5 434.5,125.9 434.2,127.8 436.1,127.8 436.4,130.0 437.9,131.5 438.2,132.6 438.8,132.7 439.7,131.9 440.8,131.9 441.1,132.4 441.7,131.3 444.1,131.1 444.6,130.5 445.2,131.3 447.6,129.9 448.5,130.2 449.1,129.5 450.0,129.8 453.2,127.8 453.9,125.8 454.2,126.0 455.3,124.8 456.7,124.8 458.2,123.7 458.5,123.9 459.6,122.4 460.8,122.3 461.6,120.8 463.0,119.8 463.4,118.2 464.5,118.4 465.1,116.6 466.2,115.3 467.4,115.5 467.2,117.6 468.6,119.9 468.1,119.8 468.3,122.3 471.2,122.1 471.5,120.6 472.4,120.6 471.8,119.8 473.0,118.0 472.5,118.1 472.5,117.0 473.7,115.4 473.8,114.5 475.8,113.2 476.5,113.7 477.9,111.3 477.9,109.9 476.3,107.2 477.1,107.2 477.8,105.7 480.8,103.9 481.1,104.3 482.4,102.1 482.8,102.3 485.3,101.2 485.6,101.6 486.3,100.5 487.5,100.7 489.3,99.6 490.2,98.2 491.5,97.6 491.7,97.9 492.8,95.1 492.4,94.4 491.8,94.4 492.5,92.4 492.0,92.0 492.3,89.6 490.4,88.8 490.4,86.6 488.2,85.2 488.4,82.9 486.6,82.2 487.1,81.0 486.9,79.3 485.8,77.3 484.6,76.9 484.6,78.9 483.1,77.3 481.8,76.9 479.1,76.9 478.0,77.8 478.0,76.1 476.4,75.8 475.4,76.2 474.5,74.5 474.0,76.5 471.8,76.8 470.8,77.4 469.3,75.6 470.0,74.9 468.8,72.8 468.4,76.4 467.0,78.7 465.6,79.1 466.2,80.4 465.2,82.2 466.3,82.8 466.8,82.1 467.4,84.3 466.4,85.9 464.7,86.9 468.4,90.7 468.1,91.3 469.4,95.8 468.6,97.6 466.8,98.3 465.9,97.5 462.0,97.3 461.9,96.9 460.4,95.9 459.1,96.3 458.9,95.7 459.4,95.1 457.4,92.3 457.9,91.7 457.5,89.6 456.5,88.3 452.3,88.8 451.3,89.5 449.9,89.5 449.4,91.2 448.6,91.0 446.9,92.7 445.8,92.4 445.1,93.4 442.4,92.2 440.7,92.5 439.9,89.5 438.9,93.1 438.0,93.0 438.6,95.2 437.9,96.6 434.1,99.3 434.4,99.9 439.1,98.3 439.9,98.9 439.3,101.7 438.5,101.8 438.3,102.8 436.1,102.8 432.8,104.6 431.5,103.8 430.8,105.1 428.3,105.3 426.5,104.1 424.0,105.5 427.1,107.4 426.4,110.6Z" fill="#FA8588" fill-rule="evenodd"/>
<path d="M402.1,108.1 404.2,107.8 404.4,107.1 406.7,106.3 409.6,107.3 411.5,107.2 413.4,109.2 415.2,106.2 416.0,106.0 416.5,104.8 418.2,105.1 419.0,104.0 420.2,103.7 421.6,102.5 422.6,102.5 423.8,99.9 422.5,98.9 425.6,91.9 422.4,90.5 422.7,90.0 421.1,89.8 420.4,87.1 419.7,86.9 418.1,85.2 418.1,84.3 416.3,83.0 415.0,82.9 412.1,80.7 411.1,81.3 409.9,79.8 407.3,79.4 407.5,80.2 407.1,79.9 406.8,79.5 407.4,78.2 406.4,78.5 408.3,75.7 401.6,76.0 400.7,75.1 399.5,76.4 397.5,75.5 396.6,76.7 395.5,76.8 394.3,78.2 394.2,79.5 395.2,80.2 395.7,81.5 395.4,82.6 397.3,84.2 397.8,85.0 397.4,85.4 399.2,86.1 400.5,87.4 401.1,87.0 402.3,88.9 402.3,90.5 400.5,94.0 400.9,95.2 403.1,96.6 402.5,98.1 402.9,98.5 401.7,100.0 401.5,101.9 400.8,101.5 400.4,102.0 400.7,103.7 399.9,105.3 400.3,107.5 402.2,107.1Z" fill="#FA8588" fill-rule="evenodd"/>
<path d="M397.8,59.2 398.7,60.2 400.3,59.6 401.2,61.3 404.1,60.8 404.6,61.2 406.2,61.0 406.2,61.6 407.4,61.9 409.0,61.4 408.7,66.2 409.1,66.3 411.1,60.3 413.2,58.9 414.8,58.8 415.2,58.2 415.8,58.6 419.3,57.2 419.4,56.1 421.1,52.3 420.7,50.9 421.9,49.3 420.3,50.5 421.9,47.7 422.1,45.6 422.9,44.1 422.6,43.6 421.4,44.5 418.7,44.4 418.6,45.2 416.9,44.9 415.9,45.9 414.2,44.7 412.9,45.1 412.2,44.7 412.3,44.2 410.1,45.4 409.2,44.2 406.8,43.9 405.6,42.1 405.1,43.5 403.0,44.6 402.7,45.7 401.8,46.1 402.1,48.0 401.4,50.6 400.9,49.1 399.5,52.1 397.7,52.8 396.9,53.7 396.6,53.2 396.5,55.5 397.2,56.3 398.3,56.6 397.3,57.5Z" fill="#FA8588" fill-rule="evenodd"/>
<path d="M396.4,81.6 397.1,80.9 399.2,80.4 399.4,81.4 401.6,80.0 402.4,80.5 406.8,80.3 410.3,75.8 410.3,74.7 413.1,74.8 412.6,72.0 411.7,69.9 411.9,65.8 412.5,65.2 410.6,62.5 410.8,59.9 408.1,59.8 408.2,59.0 405.2,59.4 403.2,58.5 402.8,59.4 402.2,59.4 400.5,56.6 399.3,58.1 398.9,56.8 397.5,56.1 397.3,56.3 398.3,56.6 396.8,58.1 395.0,57.9 394.0,61.0 392.9,62.2 393.4,64.7 392.2,64.7 392.8,66.6 392.4,67.5 393.1,68.4 393.0,70.4 392.5,70.6 393.1,71.3 392.1,73.3 393.9,72.3 391.4,75.4 392.2,76.9 391.6,77.8 393.0,78.5 393.8,78.4 394.0,79.3 395.2,80.2 395.6,81.4Z" fill="#FA8588" fill-rule="evenodd"/>
<path d="M408.1,65.2 409.7,64.1 410.3,65.1 409.8,68.7 410.4,73.1 411.1,72.5 413.0,73.7 414.4,73.4 414.8,75.0 419.6,73.8 420.1,68.7 421.6,68.8 421.5,67.6 424.8,66.7 425.3,66.0 426.0,66.4 428.8,65.6 429.2,64.1 430.1,62.9 429.4,61.6 430.6,61.4 429.2,60.1 429.3,61.4 427.8,60.0 427.3,58.7 424.3,57.1 421.3,57.2 420.6,55.9 419.4,56.1 419.8,55.1 416.0,56.6 414.9,55.7 413.9,57.0 412.5,57.2 410.7,58.6 409.8,58.7Z" fill="#BEBFBE" fill-rule="evenodd"/>
<path d="M428.5,66.6 429.1,67.7 429.2,69.9 431.8,72.1 434.1,70.4 434.3,68.3 435.4,68.4 435.7,67.1 437.7,66.5 437.7,64.6 438.5,62.4 437.8,62.0 437.6,60.8 438.6,59.9 438.9,58.5 438.0,58.5 438.1,58.0 437.2,57.0 438.0,54.1 437.4,53.2 437.6,51.9 436.5,51.1 436.1,51.0 434.9,53.4 435.8,54.7 434.6,54.9 435.4,57.1 433.0,57.1 431.7,57.8 430.7,57.1 430.4,58.1 429.1,58.7 429.3,61.4 428.0,60.1 427.2,60.3 428.0,62.7 427.4,64.0 427.6,65.0 428.7,66.4Z" fill="#BEBFBE" fill-rule="evenodd"/>
<path d="M417.7,72.7 419.3,74.3 420.5,73.7 423.1,74.0 422.7,73.2 423.8,73.8 424.9,73.1 425.7,73.9 429.5,73.1 431.9,73.3 432.7,72.5 436.6,74.5 437.0,74.0 432.7,70.1 431.2,69.3 430.7,67.0 431.3,66.5 429.2,64.1 428.6,60.7 427.4,64.2 426.2,64.5 425.0,63.7 424.0,64.9 422.8,65.5 417.7,66.2 419.0,67.0 418.3,67.9 418.1,70.2 416.7,71.2 417.8,71.8Z" fill="#FA8588" fill-rule="evenodd"/>
<path d="M415.0,72.0 419.1,74.4 419.7,74.1 419.6,74.8 420.5,76.3 422.6,76.4 424.0,77.6 426.6,77.0 428.3,77.3 428.9,77.5 429.1,78.4 432.4,77.7 433.9,79.1 433.9,76.8 439.5,77.0 439.7,76.2 434.8,74.8 434.9,73.9 436.1,73.6 433.7,71.0 432.1,70.2 431.1,71.6 429.6,71.3 426.1,71.8 425.8,71.3 424.3,71.3 423.7,71.7 422.1,70.9 420.8,71.9 419.3,72.3Z" fill="#FA8588" fill-rule="evenodd"/>
<path d="M439.9,58.6 438.9,58.9 439.6,60.1 439.7,61.6 441.5,61.9 441.7,62.8 443.2,63.8 446.0,64.5 445.9,63.9 446.1,64.1 446.7,63.5 446.0,66.4 445.2,67.2 445.1,69.1 446.5,68.9 450.2,71.4 449.3,73.0 450.9,72.6 453.2,74.0 453.4,74.6 455.6,76.2 457.7,78.7 459.6,77.8 462.2,78.9 462.4,76.4 461.5,77.3 461.6,76.2 460.9,76.2 460.8,75.4 461.2,74.1 459.8,72.5 459.8,71.2 458.9,71.2 458.0,69.7 458.3,68.7 456.9,66.0 457.8,65.7 458.1,64.5 457.1,63.5 458.0,62.3 457.0,60.9 455.4,60.9 454.1,58.4 453.2,58.5 453.2,57.8 452.0,56.7 450.1,56.4 450.1,55.8 447.9,55.1 447.5,54.5 446.8,56.0 444.9,54.8 442.6,54.4 441.0,54.9 439.8,57.0Z" fill="#FA8588" fill-rule="evenodd"/>
<path d="M431.5,81.2 433.5,83.1 432.9,85.1 433.4,85.5 432.5,86.7 434.1,87.7 435.2,90.9 436.6,90.8 436.6,93.9 439.9,88.7 440.5,89.3 441.6,88.0 442.7,87.6 443.8,88.0 444.3,86.8 446.0,86.7 446.5,86.3 446.8,87.0 448.6,83.4 447.9,79.8 446.2,78.6 446.2,76.2 445.3,76.1 444.6,74.9 446.6,74.3 443.0,72.8 441.6,74.6 439.4,75.1 439.2,74.9 438.3,75.9 436.4,73.8 434.9,77.6 433.8,77.5 432.0,79.1Z" fill="#FA8588" fill-rule="evenodd"/>
<path d="M442.9,75.6 443.5,76.3 443.4,77.5 444.2,77.6 445.1,80.7 446.4,80.9 446.8,83.3 446.2,85.4 449.2,84.8 450.4,85.1 451.0,83.9 454.7,82.7 455.7,79.9 456.9,79.1 458.0,78.7 460.0,78.9 458.2,74.0 459.6,72.1 458.4,71.2 455.9,74.3 454.9,73.6 454.7,72.5 452.2,71.3 452.4,70.9 450.0,68.2 448.9,68.5 447.0,67.1 444.5,67.4 444.9,68.1 443.9,68.7 444.2,70.9 439.6,77.8 440.5,78.4Z" fill="#FA8588" fill-rule="evenodd"/>
<path d="M404.5,80.5 405.3,80.4 407.2,82.3 409.3,82.1 413.0,84.3 412.6,83.0 413.3,83.7 412.9,85.2 415.6,84.7 416.4,85.2 416.4,86.4 417.8,87.4 418.7,86.2 419.0,86.4 421.2,85.3 421.9,86.2 422.9,84.3 426.1,85.6 427.9,85.7 428.1,84.9 429.2,84.9 432.4,82.7 432.7,80.6 433.8,80.3 434.6,79.3 436.3,79.3 437.7,75.8 437.6,73.8 436.4,74.0 435.3,73.4 434.7,74.9 433.2,75.1 430.4,76.5 428.6,75.5 426.4,75.2 424.6,75.8 424.0,74.9 421.5,74.6 421.5,72.9 419.6,72.1 418.3,72.4 417.6,72.0 416.0,72.8 415.3,70.9 413.4,71.8 413.4,70.5 411.5,69.9 410.9,70.4 408.8,70.2 410.2,71.6 409.4,72.3 408.5,74.3 407.0,74.8 406.7,75.7 406.2,75.5 404.4,78.3 400.5,78.7Z" fill="#BEBFBE" fill-rule="evenodd"/>
<path d="M417.5,87.1 418.3,88.4 418.8,88.5 419.9,91.2 423.1,93.0 422.1,94.2 422.5,94.9 421.6,96.1 420.5,98.7 420.6,99.8 423.5,101.3 425.5,100.5 426.6,101.0 427.0,100.7 426.7,103.3 428.2,103.6 429.0,99.2 431.2,98.7 433.2,99.8 432.7,97.9 435.0,97.3 435.6,99.0 437.6,97.7 438.9,98.5 440.4,95.6 440.9,92.6 438.9,90.5 438.3,90.4 438.3,89.4 436.4,89.0 435.0,86.2 435.1,85.9 438.4,87.0 439.0,85.6 435.0,84.0 435.4,82.7 434.2,81.1 433.4,80.7 433.9,78.2 431.4,79.3 430.6,81.8 428.8,83.1 428.1,83.0 426.5,83.8 423.6,82.5 421.8,82.6 419.0,84.4 418.2,84.0 415.3,87.6Z" fill="#BEBFBE" fill-rule="evenodd"/>
<path d="M431.6,69.3 432.4,72.2 433.3,73.1 432.8,74.4 434.0,75.8 436.0,75.8 437.2,77.7 439.3,77.5 440.1,78.2 440.8,76.6 442.7,76.0 446.2,71.4 445.8,69.6 446.9,68.9 448.1,64.9 450.8,64.3 448.6,63.1 448.3,60.6 443.8,62.1 441.8,59.2 441.4,59.8 440.0,56.7 439.9,58.6 438.0,58.5 438.1,58.1 437.0,59.0 435.6,59.3 436.2,63.3 436.0,65.0 434.1,66.6 433.3,66.5 432.3,68.6 432.3,69.5Z" fill="#BEBFBE" fill-rule="evenodd"/>
<path d="M417.4,118.6 419.2,118.5 419.4,116.0 421.1,113.8 418.3,114.1 417.5,113.1 418.2,112.8 415.8,109.1 416.9,106.4 413.5,107.0 412.8,105.7 410.0,105.6 406.8,104.4 404.8,105.3 403.5,104.5 402.9,106.1 401.4,106.7 401.3,107.3 402.2,107.1 401.9,109.3 399.8,110.1 400.9,110.4 401.2,113.2 402.3,113.4 402.8,113.0 404.8,114.6 406.2,114.3 406.5,113.5 407.7,113.9 408.6,113.1 409.5,113.3 409.8,114.0 414.0,114.6 417.7,117.5 416.8,118.0Z" fill="#898CF6" fill-rule="evenodd"/>
<path d="M411.7,108.6 416.3,109.4 417.1,108.7 419.9,108.3 420.5,108.7 425.2,107.1 426.1,108.4 426.5,106.2 427.2,106.6 427.4,109.7 429.3,107.0 431.9,106.8 432.1,106.3 433.2,106.5 434.5,105.5 437.0,105.2 436.7,104.6 439.4,104.4 439.9,103.5 440.5,103.5 441.6,99.4 442.3,98.6 437.9,95.8 436.4,96.1 435.4,95.4 431.6,96.2 430.7,97.0 429.3,97.3 429.4,96.4 426.4,99.0 425.5,98.6 421.6,100.8 421.2,100.2 420.0,102.0 419.0,102.7 418.3,102.5 417.6,103.3 416.7,102.9 415.2,103.8Z" fill="#FDC8C8" fill-rule="evenodd"/>
<path d="M432.4,123.7 433.5,122.5 433.1,120.0 431.5,119.6 432.0,119.2 429.7,116.7 429.4,113.8 427.8,111.8 428.4,108.5 429.2,107.7 428.5,106.2 426.7,105.1 425.1,104.1 424.9,105.1 424.1,105.7 422.1,106.2 420.7,105.7 420.7,106.7 419.1,105.7 418.6,106.9 416.3,107.0 415.8,107.5 414.1,107.0 414.0,109.2 410.9,111.0 415.1,110.9 415.8,112.0 414.9,112.4 417.7,115.9 417.6,116.9 417.0,117.1 417.7,117.5 415.6,118.7 415.0,118.4 414.9,119.2 412.7,120.5 410.2,120.7 412.9,123.6 415.4,124.6 416.3,124.1 418.0,124.4 418.5,126.3 417.9,126.2 418.1,127.3 419.8,129.0 419.3,130.3 420.0,131.5 421.9,132.0 422.6,133.2 425.2,132.5 425.4,132.9 426.6,131.8 428.8,131.4 429.2,130.0 429.9,130.2 430.8,125.5 431.5,125.2 432.0,123.5Z" fill="#898CF6" fill-rule="evenodd"/>
<path d="M436.6,92.0 438.0,92.2 439.1,93.3 439.4,94.3 440.5,94.6 441.6,94.0 441.2,94.5 445.6,95.6 446.5,94.4 448.1,94.1 449.2,92.9 450.7,93.2 451.2,91.3 453.0,90.5 455.0,91.1 455.0,90.1 455.8,90.1 457.9,90.9 458.2,89.8 459.2,90.1 460.1,88.8 460.8,88.6 462.0,89.1 462.4,87.8 466.2,88.0 470.0,84.8 469.2,84.0 469.1,81.2 468.3,81.1 468.0,80.2 470.1,77.0 469.3,75.6 470.0,75.0 469.9,74.5 469.1,72.8 467.3,73.7 465.8,73.8 465.5,75.1 464.0,74.9 461.5,77.3 461.6,76.2 461.1,76.5 459.7,76.0 457.3,76.5 457.5,77.1 454.8,78.4 453.7,80.1 453.2,79.8 453.0,81.5 451.4,82.2 450.4,82.0 449.4,83.0 447.2,83.8 446.7,82.7 445.3,85.0 443.2,84.9 442.8,85.8 440.3,86.8 439.8,86.3 438.3,87.8 435.1,88.9 437.2,89.6 436.6,90.6Z" fill="#898CF6" fill-rule="evenodd"/>
<path d="M454.2,87.6 456.0,91.2 454.2,93.2 456.2,93.6 457.1,95.1 457.5,98.2 460.2,97.9 460.3,98.8 465.2,99.2 465.6,99.6 466.4,103.0 467.6,99.8 470.0,99.2 470.4,97.5 474.0,93.4 470.7,94.3 470.8,92.5 470.0,91.4 471.0,89.6 469.0,89.0 468.2,87.9 470.3,83.9 469.8,83.6 466.9,86.8 465.2,86.1 463.5,83.3 463.4,86.3 462.1,85.5 460.9,86.8 456.8,88.6Z" fill="#898CF6" fill-rule="evenodd"/>
<path d="M425.5,110.6 427.1,113.7 426.6,114.2 427.5,114.7 427.6,117.8 428.2,117.6 429.6,119.1 429.0,119.8 429.2,121.8 431.4,122.4 430.3,127.1 430.8,125.5 431.5,125.2 432.0,123.5 434.5,125.9 434.2,127.8 436.1,127.8 436.4,130.0 437.9,131.5 438.2,132.6 438.8,132.7 439.7,131.9 440.8,131.9 441.1,132.4 441.7,131.3 442.8,131.2 443.7,129.5 441.9,130.3 441.1,126.5 442.3,125.9 439.9,122.9 439.8,120.0 438.2,120.2 438.0,119.2 438.6,117.5 437.4,117.6 437.1,115.7 436.0,114.5 436.9,113.5 435.6,111.4 435.9,109.6 437.3,106.0 436.5,101.7 435.2,103.8 433.9,103.7 432.8,104.6 431.5,103.8 430.8,105.1 428.4,105.2 426.9,106.9 426.4,110.6Z" fill="#FDC8C8" fill-rule="evenodd"/>
<path d="M414.0,109.2 410.9,111.0 415.1,110.9 415.7,111.7 414.9,112.4 417.7,115.9 417.7,117.5 416.8,120.3 419.7,117.6 422.6,117.8 422.7,116.7 423.4,116.6 426.5,117.5 427.7,116.9 428.9,120.8 429.5,115.1 429.1,114.2 429.5,113.8 427.8,111.8 428.4,108.5 429.2,107.7 428.5,106.2 425.1,104.1 424.9,105.1 424.1,105.7 422.1,106.2 420.7,105.7 420.7,106.7 419.1,105.7 418.6,106.9 416.3,107.0 415.8,107.5 414.1,107.0Z" fill="#898CF6" fill-rule="evenodd"/>
<path d="M432.4,123.7 433.5,122.5 433.1,120.0 431.5,119.6 432.0,119.2 430.3,117.1 431.6,116.9 429.2,115.8 428.8,114.4 426.3,115.6 425.8,115.5 425.9,114.8 423.4,114.9 421.1,115.3 421.1,115.7 419.0,115.9 417.0,117.1 417.7,117.5 415.6,118.7 415.0,118.4 414.4,119.6 413.8,119.5 412.7,120.5 410.2,120.7 412.9,123.6 415.4,124.6 416.3,124.1 418.0,124.4 418.5,126.3 417.9,126.2 418.1,127.3 419.8,129.0 419.3,130.3 420.0,131.5 421.9,132.0 422.6,133.2 425.2,132.5 425.4,132.9 426.6,131.8 428.8,131.4 429.2,130.0 429.9,130.2 430.8,125.5 431.5,125.2 432.0,123.5Z" fill="#898CF6" fill-rule="evenodd"/>
<path d="M465.2,82.2 466.3,82.8 466.8,82.1 467.4,84.3 466.4,85.9 464.7,86.9 468.4,90.7 468.1,91.3 469.4,95.8 468.1,98.9 472.7,101.3 473.4,102.2 476.7,104.1 477.7,103.5 478.6,103.7 480.9,101.4 480.9,102.4 481.8,102.8 483.6,101.7 485.3,101.2 485.6,101.6 486.3,100.5 487.5,100.7 489.3,99.6 490.2,98.2 491.5,97.6 491.7,97.9 491.9,96.7 492.7,95.8 492.9,94.4 491.8,94.4 492.5,92.4 492.0,92.0 492.3,89.6 490.4,88.8 490.4,86.6 488.2,85.2 488.4,82.9 486.6,82.2 487.1,81.0 486.9,79.3 485.8,77.3 484.6,76.9 484.6,78.9 483.1,77.3 481.8,76.9 479.1,76.9 478.0,77.8 478.0,76.1 476.4,75.8 475.4,76.2 474.5,74.5 474.0,76.5 471.8,76.8 470.8,77.4 469.3,75.6 470.0,74.9 468.8,72.8 468.4,76.4 467.0,78.7 465.6,79.1 466.2,80.4ZM471.9,99.0 471.9,99.1 471.7,99.1Z" fill="#FDC8C8" fill-rule="evenodd"/>
<path d="M458.1,108.8 458.8,110.4 458.3,111.7 459.8,113.9 460.0,116.8 461.8,117.9 462.5,120.1 463.4,118.2 464.5,118.4 465.1,116.6 466.2,115.3 467.4,115.5 467.2,117.6 468.6,119.9 468.1,119.8 468.3,122.3 471.2,122.1 471.5,120.6 472.4,120.6 471.8,119.8 473.0,118.0 472.5,118.1 472.5,117.0 473.7,115.4 473.8,114.5 475.8,113.2 476.5,113.7 477.9,111.3 477.9,109.9 476.3,107.2 477.1,107.2 477.8,105.7 480.8,103.9 481.1,104.3 482.4,102.1 482.8,102.3 483.5,101.7 482.7,101.3 481.3,98.9 477.9,101.8 476.8,102.0 476.6,101.5 474.1,100.3 473.3,96.4 471.4,97.3 469.9,96.6 469.7,97.9 466.5,98.6 465.0,100.1 464.8,102.3 463.9,102.2 463.5,103.5 461.7,103.8 459.7,106.6 459.6,108.0Z" fill="#FDC8C8" fill-rule="evenodd"/>
<path d="M471.4,96.8 472.0,99.1 468.4,98.1 468.1,98.9 476.7,104.1 477.7,103.5 478.6,103.7 481.7,100.8 482.4,102.2 483.6,101.7 481.4,93.8 479.8,93.2 478.1,91.4 475.9,92.0 476.4,89.2 475.1,88.9 473.7,94.1 472.6,95.0 472.3,96.4Z" fill="#FA8588" fill-rule="evenodd"/>
<path d="M414.3,98.4 414.5,101.2 415.8,102.0 418.2,101.5 419.4,101.9 422.1,101.3 423.3,96.8 424.5,94.9 424.2,94.4 425.6,91.9 422.4,90.5 422.7,90.0 421.1,89.8 420.4,87.1 419.7,86.9 418.1,85.1 416.3,85.2 414.6,90.2 415.5,90.0 415.2,91.1 416.3,93.8 415.8,94.2 415.0,97.8Z" fill="#FDC8C8" fill-rule="evenodd"/>
<path d="M402.1,108.1 404.2,107.8 404.4,107.1 406.7,106.3 409.6,107.3 411.5,107.2 413.4,109.2 415.2,106.2 416.0,106.0 416.5,104.8 418.2,105.1 419.0,104.0 420.2,103.7 421.6,102.5 422.6,102.5 423.7,99.9 421.2,97.7 420.8,99.7 419.4,100.1 417.1,99.6 416.9,100.1 416.2,100.1 414.9,98.7 413.1,98.5 411.9,96.9 411.4,98.7 408.6,98.6 408.1,97.8 406.1,98.9 405.3,98.7 404.1,99.6 401.8,100.2 401.5,101.9 400.8,101.5 400.4,102.0 400.7,103.7 399.9,105.3 400.3,107.5 402.2,107.1Z" fill="#FDC8C8" fill-rule="evenodd"/>
<path d="M460.5,113.9 460.3,114.8 460.6,116.3 461.8,116.9 462.4,117.5 462.9,118.9 463.4,118.2 464.5,118.4 465.1,116.6 466.2,115.3 467.4,115.5 467.2,117.6 468.6,119.9 468.1,119.8 468.4,120.9 468.3,122.3 468.9,122.5 469.6,122.2 470.2,122.4 471.2,122.1 471.5,120.6 472.4,120.6 472.4,120.3 471.8,119.8 472.6,118.3 473.0,118.0 472.5,118.1 472.5,117.0 473.5,115.4 473.7,115.4 473.8,114.5 475.8,113.2 476.5,113.7 477.9,111.3 477.9,109.9 477.5,109.8 476.3,107.2 477.1,107.2 477.5,106.6 477.5,106.1 477.8,105.7 478.7,105.4 479.7,104.5 480.8,103.9 481.1,104.3 481.0,103.9 482.4,102.1 482.8,102.3 483.6,101.7 485.3,101.2 485.6,101.6 486.3,100.5 487.5,100.7 489.3,99.6 489.4,98.9 490.2,98.2 491.5,97.6 491.7,97.9 491.9,96.7 492.7,95.8 492.9,94.4 491.8,94.4 492.5,92.4 492.0,92.0 492.3,89.6 491.9,89.3 490.4,88.8 490.4,86.6 489.8,86.4 489.0,85.5 488.2,85.2 488.4,82.9 486.6,82.2 487.1,81.0 486.8,80.3 486.9,79.3 486.3,78.4 485.8,77.3 484.6,76.9 484.6,78.9 483.1,77.3 481.8,76.9 481.3,77.2 480.7,76.7 479.1,76.9 478.0,77.8 478.0,76.1 476.4,75.8 475.4,76.2 474.5,74.5 474.0,76.5 472.9,76.9 471.8,76.8 471.3,77.1 471.4,77.6 471.0,77.3 470.8,77.4 469.9,76.7 469.3,75.6 469.5,75.5 469.2,75.0 469.0,76.7 467.7,79.0 467.4,79.3 466.5,79.6 467.5,82.0 467.9,82.1 467.8,82.8 468.2,84.6 468.4,84.8 468.2,85.0 467.6,84.9 466.9,86.4 465.8,87.1 466.5,87.9 467.0,87.9 468.2,89.8 469.3,90.4 468.8,91.4 469.3,92.7 469.3,93.0 469.7,93.2 469.6,94.5 470.1,95.6 470.6,95.5 469.3,97.1 469.1,98.5 467.7,98.8 467.1,99.1 467.0,99.8 466.6,99.5 465.6,100.5 465.4,101.2 465.5,102.7 464.6,103.3 464.3,103.2 464.0,104.3 463.0,104.2 462.0,104.5 461.6,104.9 461.5,105.8 461.1,105.7 460.4,106.9 460.4,108.6 460.0,108.6 458.9,109.1 459.5,110.3 459.5,111.0 459.2,111.6 459.6,112.0 460.0,112.9 460.6,113.9ZM473.4,97.1 473.6,95.6 474.6,94.7 474.8,93.8 475.6,93.2 477.9,92.6 478.4,93.0 478.8,93.6 478.9,94.3 480.1,94.3 480.4,94.5 480.6,95.5 480.3,96.5 481.3,96.8 481.7,97.9 481.4,98.6 481.6,99.0 481.0,100.0 479.3,101.2 478.2,102.6 477.4,102.4 476.8,102.8 475.4,101.9 475.5,101.8 474.0,101.3 473.4,100.5 473.1,100.3 473.3,99.9 472.7,97.4ZM406.7,105.6 409.0,106.2 409.1,106.4 409.8,106.6 412.0,106.6 412.3,107.3 413.1,108.0 414.8,108.0 414.6,108.3 416.1,108.6 416.8,108.0 419.3,107.9 419.6,107.3 420.6,108.0 421.8,107.7 421.8,107.2 422.1,107.3 424.6,106.7 425.3,106.1 425.7,106.7 425.9,105.7 426.4,105.4 427.9,106.2 427.9,107.0 427.7,107.1 427.9,107.4 427.4,108.1 427.1,110.7 426.9,111.2 426.5,111.2 426.9,112.5 428.0,113.8 427.4,114.4 428.1,114.2 428.4,115.2 428.3,116.6 428.6,116.7 428.8,117.1 430.5,119.1 429.7,120.0 429.9,121.3 430.9,120.6 432.2,120.9 432.4,122.1 432.0,122.5 431.7,123.9 431.8,124.0 432.0,123.5 434.5,125.9 434.2,127.8 434.8,127.9 436.1,127.8 436.5,129.0 436.4,130.0 437.9,131.5 438.2,132.6 438.8,132.7 438.7,132.6 439.7,131.9 440.8,131.9 441.1,132.4 441.7,131.3 442.0,131.3 442.1,130.9 441.6,131.2 441.2,130.6 441.0,128.9 440.3,126.2 441.2,125.7 440.6,125.0 440.0,123.9 439.0,123.2 439.3,122.1 439.2,120.8 438.0,120.9 437.6,120.7 437.3,119.2 437.6,118.2 437.0,118.3 436.6,117.5 436.4,116.1 435.7,115.5 435.2,114.3 436.0,113.4 435.3,112.5 434.8,111.1 435.0,111.0 435.3,110.4 435.2,109.5 436.2,107.0 435.6,107.1 435.6,107.0 436.5,105.6 436.2,104.0 436.4,103.9 437.8,104.0 439.0,103.8 439.5,102.8 440.1,102.8 440.6,101.4 440.9,99.0 441.3,98.7 439.6,97.4 438.7,97.1 437.8,96.5 436.6,96.8 436.1,97.2 436.0,96.7 435.3,96.2 433.2,96.8 431.8,96.9 431.4,97.2 431.6,97.7 431.3,97.6 428.1,98.3 428.0,98.5 426.5,99.8 425.5,99.3 423.5,100.2 422.8,101.0 422.4,101.2 422.9,100.1 422.0,99.2 421.7,98.8 422.3,97.9 422.6,96.5 423.5,95.4 423.8,94.9 423.4,94.3 424.6,92.3 423.3,91.9 422.4,91.2 421.4,90.8 421.6,90.5 420.7,90.4 420.0,89.3 419.8,87.6 419.2,87.5 417.9,85.9 416.8,85.9 415.6,89.3 416.0,89.3 416.2,90.1 415.9,91.1 416.2,92.3 416.7,92.9 416.9,92.9 417.0,94.0 416.3,94.7 415.8,96.5 415.7,98.2 414.9,98.8 415.0,99.8 414.6,99.4 412.8,99.2 412.2,98.4 412.0,99.5 409.0,99.3 408.3,99.5 407.9,98.7 406.4,99.6 405.8,99.7 405.4,99.5 404.5,100.2 403.5,100.6 402.2,100.8 401.5,101.7 401.5,101.9 400.8,101.5 400.4,102.0 400.7,102.2 400.7,103.7 399.9,105.3 400.1,105.6 400.0,106.7 400.3,107.5 402.2,107.1 402.2,107.4 402.5,107.5 403.0,107.1 403.7,107.1 404.1,106.1 404.8,106.5ZM418.7,103.3 419.4,103.2 419.2,103.4Z" fill="#FDC8C8" fill-rule="evenodd"/>
<path d="M491.4,92.0 492.5,92.5 492.5,92.4 492.0,92.0 492.1,90.6 491.9,90.6 491.8,91.6ZM492.2,89.9 492.3,89.6 491.9,89.3 491.5,89.1ZM473.8,101.6 474.9,102.0 476.8,103.3 477.5,102.8 478.3,103.0 479.5,101.5 481.2,100.3 481.7,99.5 482.1,100.2 482.3,100.1 481.8,98.6 482.1,97.9 481.7,96.5 480.8,96.2 481.0,95.5 480.8,94.2 480.3,93.9 479.2,93.9 478.8,92.7 478.0,92.2 475.4,92.9 475.0,93.2 475.1,92.4 474.9,92.3 474.3,94.5 473.2,95.4 473.0,96.8 472.2,97.2 472.9,99.9 472.8,100.1 471.5,99.7 471.4,99.9 473.1,100.8ZM434.7,104.9 434.8,105.2 435.7,104.9 435.8,105.0 436.0,104.7 436.1,105.6 435.2,106.9 435.1,107.7 435.5,107.6 434.8,109.4 434.9,110.3 434.7,110.7 434.3,110.9 435.0,112.7 435.5,113.4 434.7,114.2 435.3,115.8 436.1,116.3 436.2,117.6 436.7,118.7 437.0,118.7 436.9,119.2 437.2,120.9 437.9,121.4 438.8,121.2 438.9,122.1 438.5,123.4 439.7,124.1 440.6,125.6 439.8,126.0 440.4,128.2 440.4,128.5 440.6,129.0 440.8,130.7 441.5,131.7 441.7,131.3 443.4,131.1 444.1,131.1 444.6,130.5 445.2,131.3 446.0,130.6 447.6,129.9 448.5,130.2 449.1,129.5 450.0,129.8 451.3,128.9 452.2,128.6 452.5,128.1 453.2,127.8 453.9,125.8 454.2,126.0 455.3,124.8 456.7,124.8 458.2,123.7 458.5,123.9 458.8,123.3 459.6,122.4 460.8,122.3 461.4,121.5 461.6,120.8 463.0,119.8 463.0,118.8 463.4,118.2 463.7,118.3 464.2,117.6 464.1,117.5 463.1,118.3 462.7,117.2 462.0,116.6 460.9,116.1 460.7,114.8 460.8,114.3 461.4,114.3 460.3,112.7 459.9,111.8 459.6,111.5 459.9,111.1 459.8,110.2 459.4,109.3 460.0,109.0 460.8,109.1 460.8,107.0 461.3,106.2 461.8,106.4 462.0,105.0 462.2,104.8 463.0,104.6 464.3,104.7 464.6,103.7 465.9,102.9 465.8,101.2 466.0,100.7 466.6,100.0 467.2,100.4 467.5,99.4 467.8,99.2 469.3,98.9 470.7,99.1 470.8,97.8 470.5,97.6 470.1,98.5 469.3,98.2 468.0,98.3 466.8,99.1 466.7,99.3 466.6,99.1 465.6,98.2 464.1,98.0 463.9,98.1 463.0,98.0 461.3,98.0 461.3,97.3 460.4,96.7 459.7,97.0 458.5,97.1 458.2,95.5 458.5,95.1 457.9,94.3 457.1,92.9 456.4,92.3 457.2,91.5 456.9,90.0 456.5,89.8 456.1,89.0 454.4,89.1 454.0,89.5 453.6,89.3 452.5,89.4 451.5,90.2 450.4,90.2 449.9,91.9 448.8,91.7 447.7,92.7 447.3,93.3 447.0,93.5 446.1,93.2 445.3,94.3 443.2,93.7 443.5,93.4 442.3,92.9 441.2,93.0 440.3,93.4 439.9,92.1 439.4,93.9 438.9,93.8 439.3,95.3 438.4,97.1 437.2,97.9 437.3,98.1 438.9,97.5 439.4,97.7 440.7,98.7 440.5,99.1 440.2,101.3 439.8,102.4 439.1,102.4 439.1,102.7 438.7,103.4 437.8,103.6 436.3,103.5 435.3,104.1 435.5,104.6ZM434.1,84.8 434.1,85.7 433.5,86.5 434.6,87.2 435.7,90.2 436.9,90.1 437.2,90.2 437.3,91.6 438.5,89.5 438.4,88.9 438.9,88.7 439.8,87.8 440.5,88.3 441.2,87.4 442.7,86.9 443.4,87.1 443.9,86.1 445.7,86.1 446.7,85.1 446.9,85.6 447.6,84.5 449.2,84.1 449.9,84.3 450.2,83.6 450.8,83.2 451.5,83.3 454.0,82.2 454.1,81.6 455.2,79.5 456.6,78.5 457.9,78.0 459.0,78.2 458.7,77.3 459.6,77.1 461.6,77.9 461.7,77.1 461.5,77.3 461.6,76.2 460.9,76.2 460.8,75.4 461.2,74.1 460.2,73.2 459.8,72.5 459.8,71.2 458.9,71.2 458.0,69.7 458.3,68.7 458.0,68.5 457.8,67.5 456.9,66.0 457.8,65.7 458.1,64.5 457.1,63.5 457.4,62.7 458.0,62.3 457.8,61.7 457.0,60.9 455.4,60.9 454.9,60.6 454.9,59.4 454.1,58.4 453.2,58.5 453.2,57.8 452.0,56.7 450.1,56.4 450.1,55.8 447.9,55.1 447.5,54.5 446.8,56.0 444.9,54.8 444.3,54.9 443.9,54.6 442.6,54.4 441.3,54.8 441.1,55.1 441.0,54.9 440.3,56.4 439.8,57.0 439.9,58.5 440.0,58.8 439.8,59.0 440.3,59.9 440.4,61.0 441.8,61.2 441.9,61.1 442.3,62.3 443.5,63.2 445.1,63.6 444.9,62.7 445.4,62.5 446.1,63.1 446.8,62.4 447.4,62.1 447.5,62.8 447.4,63.7 447.7,63.9 447.3,64.0 446.7,65.5 446.8,65.7 446.6,66.7 445.8,67.5 445.8,68.3 444.6,69.0 445.0,71.1 444.0,72.1 442.0,75.1 441.4,75.4 440.0,75.5 439.7,76.3 439.2,75.9 438.7,76.5 437.8,76.6 436.7,75.3 436.4,76.3 435.8,76.7 435.5,78.0 435.2,78.3 434.1,78.2 433.3,79.2 432.6,79.5 432.2,81.0 433.1,81.9 433.5,82.0 434.2,82.9 433.7,84.7ZM418.5,72.4 419.0,73.0 417.9,72.9 419.1,73.6 419.7,73.3 420.4,73.6 420.3,74.7 420.9,75.6 423.1,75.8 424.2,76.9 425.6,76.7 426.5,76.3 427.4,76.6 428.4,76.6 429.5,77.0 429.6,77.7 430.2,77.7 432.5,76.9 433.2,77.5 433.2,76.3 434.5,75.9 436.2,76.1 436.2,75.9 434.3,75.3 434.0,74.2 434.3,73.3 434.8,73.2 432.4,70.8 431.7,70.7 430.4,69.5 430.5,69.1 430.1,68.5 430.2,67.5 429.8,66.9 430.3,66.5 429.3,65.5 428.5,64.4 428.4,63.3 428.0,64.7 426.1,65.3 425.1,64.6 424.3,65.6 423.0,66.1 421.3,66.6 419.8,66.7 420.4,67.1 420.4,67.6 419.4,67.5 419.0,68.1 419.1,69.2 418.7,70.6 418.0,71.1 418.6,71.4ZM427.9,107.5 428.3,107.2 428.2,106.0 426.5,104.9 425.4,105.5 427.6,106.9ZM401.3,102.1 401.6,102.3 402.4,101.1 403.6,101.0 404.7,100.6 405.4,100.0 405.7,100.2 406.5,99.9 407.7,99.2 407.9,99.6 407.2,100.2 409.0,99.7 412.3,99.9 412.4,99.3 412.6,99.5 414.4,99.8 415.6,101.5 415.3,99.0 416.1,98.4 416.1,96.6 416.7,95.0 417.4,94.1 417.3,92.5 416.9,92.5 416.6,92.1 416.3,91.1 416.6,90.1 416.2,88.9 417.1,86.3 418.3,86.4 417.5,85.8 417.4,84.7 416.0,83.7 415.1,83.5 414.4,83.7 414.5,83.3 413.2,82.1 412.1,81.5 411.2,82.0 411.2,82.2 410.3,81.7 409.5,80.5 408.2,80.3 408.5,81.1 407.5,81.2 406.0,79.6 406.2,79.3 405.2,79.4 404.5,79.3 404.9,79.3 405.6,78.3 405.9,77.4 406.5,76.8 407.4,77.1 407.8,75.8 408.1,75.8 408.7,75.3 409.6,75.2 409.6,74.1 410.1,73.1 411.1,72.7 411.3,71.5 411.5,71.5 411.2,71.1 411.1,70.4 410.8,68.3 410.9,68.1 411.2,68.4 411.4,66.6 411.2,65.7 411.7,65.1 410.5,63.3 409.8,62.7 410.3,61.2 410.3,60.5 410.6,59.7 411.3,59.6 411.6,59.1 412.9,58.2 414.4,58.1 415.1,57.2 415.8,57.8 417.4,57.0 418.6,56.7 418.9,55.6 419.7,55.2 420.5,53.3 421.1,52.3 420.7,50.9 421.9,49.3 420.3,50.5 421.9,47.7 422.3,46.2 422.1,45.6 422.9,44.1 422.6,43.6 421.4,44.5 418.7,44.4 418.6,45.2 416.9,44.9 415.9,45.9 415.1,45.1 414.2,44.7 412.9,45.1 412.2,44.7 412.3,44.2 410.1,45.4 409.5,44.9 409.2,44.2 407.3,44.1 406.8,43.9 405.6,42.1 405.1,43.5 403.8,44.4 403.0,44.6 402.7,45.7 401.8,46.1 402.1,48.0 401.4,50.6 400.9,49.1 400.7,50.0 399.7,51.2 399.5,52.1 397.7,52.8 396.9,53.7 396.6,53.2 396.5,55.5 397.2,56.3 398.3,56.6 398.1,57.1 397.9,57.0 396.8,58.1 395.4,57.8 395.0,57.9 394.0,61.0 393.8,60.9 392.9,62.2 393.0,63.5 393.4,64.7 392.2,64.7 392.5,66.1 392.8,66.6 392.4,67.2 392.4,67.5 393.1,68.4 393.0,70.4 392.5,70.6 393.1,71.3 392.8,72.2 392.1,73.3 393.9,72.3 391.4,75.4 392.2,76.9 391.6,77.8 393.0,78.5 393.8,78.4 394.0,79.3 395.2,80.2 395.7,81.5 395.4,82.6 396.1,83.5 397.3,84.2 397.8,85.0 397.4,85.4 398.0,85.4 399.2,86.1 400.5,87.4 401.1,87.0 402.3,88.9 402.3,90.5 401.7,91.4 401.2,92.7 401.3,93.2 400.5,94.0 400.9,95.2 402.0,95.7 403.1,96.6 402.8,97.9 402.5,98.1 402.9,98.5 402.6,99.1 401.7,100.0 401.5,101.9 401.3,101.8Z" fill="#FA8588" fill-rule="evenodd"/>
<path d="M453.8,80.9 453.7,82.0 451.5,82.9 450.6,82.8 449.9,83.4 449.7,83.8 449.4,83.7 448.0,84.0 447.0,84.8 446.7,84.3 446.3,85.1 445.6,85.7 443.6,85.6 443.2,86.7 442.7,86.5 441.0,87.1 440.4,87.8 439.8,87.3 438.7,88.4 437.3,88.9 438.1,89.1 438.1,89.4 437.3,90.8 437.2,91.4 438.4,91.5 439.7,93.0 439.9,93.7 440.4,93.9 441.3,93.4 442.2,93.3 442.9,93.5 442.5,94.0 444.7,94.5 445.4,94.8 446.2,93.6 447.0,93.9 447.6,93.6 448.0,93.0 448.9,92.2 450.2,92.4 450.7,90.6 451.6,90.6 452.7,89.8 453.6,89.7 454.4,90.1 454.4,89.5 454.5,89.5 455.8,89.4 456.2,90.1 456.5,90.3 456.8,91.4 455.6,92.6 456.3,92.7 458.0,95.1 457.7,95.4 458.0,96.4 458.1,97.5 459.8,97.4 460.3,97.1 460.9,97.5 460.9,98.3 465.5,98.5 466.3,99.3 466.5,100.2 466.6,100.0 466.8,100.1 467.1,99.3 468.2,98.7 469.5,98.6 469.7,97.3 471.8,94.7 470.3,95.2 470.0,94.4 470.1,93.0 469.7,92.8 469.3,91.4 469.9,90.1 469.5,90.1 468.5,89.5 467.5,87.9 468.1,86.6 468.0,86.5 467.1,87.5 466.7,87.5 466.4,87.2 467.2,86.7 467.9,85.3 468.3,85.4 469.0,84.8 468.6,84.4 468.2,82.8 468.4,81.8 467.8,81.7 467.1,79.8 467.6,79.7 468.2,78.9 468.6,78.0 469.4,76.8 469.5,76.0 469.3,75.6 470.0,75.0 469.9,74.5 469.1,72.8 468.5,72.8 467.3,73.7 466.4,73.6 465.8,73.8 465.8,74.4 465.5,75.1 464.0,74.9 461.3,77.4 459.6,76.7 458.2,77.0 458.4,77.7 457.9,77.6 456.4,78.2 455.2,79.0 454.6,79.8 454.0,81.1ZM403.3,113.0 403.3,113.3 404.8,114.6 406.2,114.3 406.5,113.5 407.7,113.9 408.6,113.1 409.5,113.3 409.8,114.0 412.6,114.6 412.5,114.4 414.0,114.6 414.9,115.6 417.7,117.5 415.6,118.7 415.0,118.4 414.9,119.2 414.4,119.6 413.8,119.5 412.7,120.5 411.3,120.8 410.2,120.7 411.2,122.0 412.2,123.0 413.0,123.4 412.9,123.6 415.1,124.1 415.4,124.6 416.0,124.6 416.3,124.1 418.0,124.4 418.5,126.3 417.9,126.2 418.1,127.3 419.0,128.6 419.8,129.0 419.3,130.3 420.0,131.5 420.9,131.6 421.9,132.0 422.1,132.8 422.6,133.2 425.2,132.5 425.4,132.9 426.6,131.8 427.9,131.7 428.8,131.4 428.7,130.8 429.2,130.0 429.9,130.2 430.2,128.0 430.6,126.8 430.8,125.5 431.3,125.6 431.5,125.2 431.7,123.8 431.5,123.9 432.8,122.2 432.5,120.5 430.8,120.2 430.2,120.6 430.1,120.1 431.0,119.1 429.1,116.9 428.9,116.3 428.7,116.3 428.8,115.2 428.4,113.9 428.5,113.8 427.3,112.3 427.0,111.6 427.2,111.6 427.5,110.8 427.8,108.3 428.3,107.5 427.9,106.7 425.6,105.2 425.5,105.7 425.4,105.5 424.4,106.3 422.1,106.9 421.4,106.7 421.4,107.4 420.7,107.5 419.4,106.7 419.1,107.5 417.7,107.5 416.6,107.7 416.0,108.2 415.2,108.0 415.6,107.4 414.2,107.7 413.2,107.6 412.6,107.1 412.3,106.2 411.7,106.1 409.9,106.2 409.4,106.1 409.3,105.9 406.7,105.2 404.8,106.0 403.8,105.5 403.4,106.8 402.9,106.7 402.2,107.1 401.9,109.3 400.9,110.0 399.8,110.1 400.9,110.4 401.3,112.1 401.2,113.2 402.3,113.4 402.8,113.0 403.0,113.1Z" fill="#898CF6" fill-rule="evenodd"/>
<path d="M406.3,80.6 407.4,81.6 409.0,81.4 408.8,80.7 409.3,80.8 410.1,82.0 411.9,82.9 411.7,82.2 412.1,81.9 413.0,82.4 414.1,83.5 413.9,84.2 415.1,83.9 415.9,84.0 417.1,84.9 417.1,86.0 417.6,86.4 417.8,86.3 418.8,87.5 418.9,87.8 419.4,88.0 419.6,89.4 420.5,90.7 420.9,90.8 420.9,90.9 422.2,91.6 423.2,92.3 424.0,92.6 423.0,94.3 423.3,94.9 422.2,96.4 421.9,97.7 421.2,98.9 421.2,99.2 421.5,99.2 422.0,99.7 423.6,100.6 425.5,99.8 426.5,100.2 427.9,99.2 427.8,100.0 428.1,100.1 428.4,98.6 431.3,98.0 432.2,98.5 431.9,97.3 432.0,97.3 433.3,97.1 435.2,96.6 435.6,96.9 435.9,97.8 436.8,97.1 437.7,96.9 438.6,97.5 439.7,95.4 439.5,94.3 439.7,94.3 440.1,92.8 438.5,91.1 437.6,91.1 437.6,89.9 437.0,89.7 436.0,89.8 434.9,87.0 434.0,86.4 434.5,85.8 434.5,85.0 435.4,85.3 435.6,85.0 434.2,84.4 434.6,82.9 433.8,81.6 433.3,81.5 432.7,80.9 432.9,79.8 433.5,79.6 434.3,78.6 435.3,78.7 435.7,78.4 435.8,78.4 436.2,76.9 436.8,76.5 436.9,76.0 437.6,77.0 438.9,76.9 439.2,76.5 439.8,77.0 440.3,75.9 441.5,75.8 442.3,75.4 444.3,72.3 445.5,71.2 445.0,69.2 446.2,68.5 446.2,67.7 447.0,66.9 447.3,65.6 447.1,65.4 447.6,64.3 448.8,64.0 447.8,63.5 447.9,62.8 447.8,61.6 446.6,62.1 446.1,62.6 445.5,62.0 444.5,62.5 444.6,63.1 443.6,62.9 442.7,62.1 442.4,61.0 441.8,60.4 441.6,60.8 440.7,60.7 440.7,59.7 440.3,59.1 440.5,58.8 439.8,57.7 439.9,58.6 438.7,58.5 438.1,59.0 438.2,58.5 438.0,58.5 438.1,58.0 437.2,57.0 438.0,54.1 437.4,53.2 437.6,51.9 436.5,51.1 436.3,51.2 436.1,51.0 434.9,53.4 435.8,54.7 434.6,54.9 435.4,57.1 433.8,57.3 433.0,57.1 431.7,57.8 430.7,57.1 430.7,57.7 430.4,58.1 429.3,58.4 429.1,58.7 429.3,61.4 427.8,60.0 427.3,58.7 427.0,58.8 424.9,57.8 424.3,57.1 423.7,57.0 422.3,57.3 421.3,57.2 421.2,56.5 420.6,55.9 419.4,56.1 419.4,55.9 418.4,56.1 418.2,56.4 417.3,56.6 415.9,57.4 415.0,56.7 414.3,57.7 412.8,57.9 411.4,58.8 411.1,59.2 410.3,59.3 409.9,60.4 409.9,61.2 409.2,63.6 409.7,63.2 411.2,65.1 410.8,65.5 411.0,66.6 410.9,67.5 410.8,67.4 410.5,68.6 410.9,69.8 411.0,71.1 410.5,71.0 410.9,71.4 410.7,72.5 409.8,72.8 409.2,74.0 409.2,74.8 408.6,74.9 408.0,75.4 407.5,75.4 407.2,76.6 406.4,76.3 405.6,77.2 405.3,78.2 404.7,78.9 403.1,79.1 404.7,79.8 405.6,79.7ZM419.0,71.5 418.7,71.1 419.1,70.9 419.5,69.3 419.4,68.3 419.6,67.9 420.9,68.1 420.8,67.0 423.2,66.5 424.4,66.0 425.2,65.1 426.1,65.7 428.3,65.1 428.3,64.8 429.0,65.7 429.7,66.5 429.3,66.8 429.8,67.5 429.7,68.7 430.1,69.2 430.0,69.7 431.7,71.1 431.9,70.7 432.7,70.8 433.0,71.8 434.1,73.0 433.6,74.2 434.3,75.1 435.3,75.2 435.1,75.6 434.5,75.5 433.4,75.8 432.8,76.0 432.8,76.6 432.5,76.4 431.6,76.9 430.2,77.3 429.9,77.3 429.8,76.8 428.5,76.2 427.5,76.2 426.5,75.9 425.5,76.4 424.3,76.5 423.5,75.7 423.4,75.5 421.1,75.2 420.7,74.6 420.8,73.3 419.6,72.8 419.1,73.2 418.9,73.1ZM433.1,70.4 433.1,70.5 433.1,70.5Z" fill="#BEBFBE" fill-rule="evenodd"/>
<path d="M468.1,98.5 467.0,99.2 466.7,99.8 467.1,100.0 467.3,99.2 467.8,98.9 469.3,98.7 470.5,98.8 470.6,98.0 470.2,98.7 469.3,98.4ZM438.4,97.4 438.9,97.2 439.5,97.5 441.0,98.7 440.8,98.9 440.4,101.4 440.0,102.6 439.4,102.7 438.9,103.7 437.8,103.8 436.3,103.7 435.6,104.2 435.8,104.5 436.1,104.1 436.4,105.6 435.5,106.9 435.4,107.3 435.9,107.3 435.0,109.5 435.1,110.4 434.9,110.9 434.6,111.0 435.2,112.5 435.8,113.4 435.0,114.3 435.5,115.6 436.3,116.2 436.5,117.5 436.9,118.5 437.4,118.5 437.1,119.2 437.4,120.7 437.9,121.1 439.1,121.0 439.2,122.1 438.9,123.3 439.9,124.0 440.9,125.6 440.1,126.1 440.9,128.9 441.1,130.6 441.5,131.3 444.1,131.1 444.6,130.4 445.2,131.2 446.8,130.1 447.5,129.8 448.5,130.2 449.0,129.4 450.0,129.8 451.3,128.9 452.2,128.6 452.5,128.1 453.1,127.8 453.6,126.5 453.5,125.6 454.2,125.9 455.2,124.7 456.7,124.7 458.2,123.6 458.5,123.8 458.8,123.3 459.6,122.4 460.7,122.2 461.4,121.5 461.6,120.8 463.0,119.8 463.0,118.8 463.2,118.5 462.9,118.6 462.5,117.4 461.9,116.8 460.7,116.2 460.5,114.8 460.6,114.0 460.9,114.0 459.4,111.6 459.6,111.0 459.6,110.3 459.2,109.2 460.0,108.7 460.5,108.8 460.5,106.9 461.2,105.9 461.6,106.0 461.7,104.9 462.1,104.6 463.0,104.3 464.1,104.4 464.4,103.4 465.7,102.8 465.6,101.2 465.8,100.5 466.5,99.8 466.4,99.2 465.5,98.4 461.1,98.2 461.0,97.4 460.3,97.0 459.7,97.3 458.3,97.3 457.9,95.4 458.2,95.1 456.9,93.1 456.4,92.6 456.0,92.5 456.9,91.4 456.6,90.2 456.3,90.0 455.9,89.2 454.5,89.3 454.3,89.5 454.2,89.8 453.6,89.5 452.6,89.7 451.5,90.5 450.6,90.4 450.1,92.2 448.9,92.0 447.5,93.5 447.0,93.7 446.2,93.5 445.3,94.6 442.8,93.9 443.1,93.5 442.3,93.1 441.3,93.2 440.4,93.7 440.1,93.6 439.9,93.1 439.6,94.1 439.3,94.1 439.6,95.4ZM428.0,106.2 426.4,105.2 425.8,105.5 427.8,106.8 428.0,107.1Z" fill="none" stroke="#F5777E" stroke-width="0.45" stroke-opacity="0.75" stroke-linejoin="round"/>
<path d="M395.3,80.3 395.7,81.5 395.4,82.6 396.1,83.5 397.3,84.2 397.8,85.0 397.5,85.4 398.0,85.3 399.3,86.1 400.5,87.3 400.9,87.1 401.3,87.4 402.4,88.9 402.4,90.5 401.8,91.4 401.3,92.7 401.3,93.3 400.6,94.0 400.9,95.2 402.0,95.7 403.1,96.5 402.8,97.9 402.6,98.1 403.0,98.5 401.7,100.0 401.5,101.9 402.3,100.9 403.5,100.7 404.5,100.3 405.4,99.7 405.7,99.9 406.4,99.7 407.8,98.9 408.2,99.6 409.0,99.4 412.1,99.6 412.3,98.8 412.7,99.3 414.5,99.5 415.2,100.4 415.1,98.8 415.9,98.2 415.9,96.6 416.5,94.8 417.2,94.1 417.1,92.8 416.8,92.7 416.3,92.2 416.0,91.1 416.4,90.1 416.1,89.1 415.9,89.1 416.9,86.1 417.4,86.1 417.2,86.0 417.2,84.8 415.9,83.9 415.1,83.8 414.1,84.0 414.3,83.4 413.1,82.3 412.1,81.8 411.5,82.1 411.5,82.6 410.2,81.9 409.4,80.7 408.6,80.6 408.7,81.3 407.4,81.4 406.4,80.5 405.7,79.6 404.7,79.7 403.8,79.3 402.5,79.6 401.8,79.1 400.5,79.4 399.9,79.8 399.7,79.1 398.6,79.8 397.3,80.1 396.9,80.0 396.2,80.7Z" fill="none" stroke="#F5777E" stroke-width="0.45" stroke-opacity="0.75" stroke-linejoin="round"/>
<path d="M418.7,55.5 419.9,54.9 420.4,53.3 421.0,52.3 420.6,50.9 421.7,49.6 421.3,48.7 421.9,47.6 422.3,46.2 422.1,45.8 422.0,45.8 422.8,44.1 422.6,43.7 421.4,44.5 418.8,44.5 418.6,45.3 417.0,44.9 416.1,45.8 416.1,46.1 415.1,45.2 414.2,44.8 412.9,45.2 412.2,44.7 412.2,44.3 410.1,45.5 409.5,44.9 409.1,44.2 407.3,44.2 406.8,43.9 405.6,42.2 405.1,43.6 403.9,44.5 403.0,44.7 402.8,45.5 402.9,45.9 401.9,46.1 402.1,48.0 401.9,48.8 401.0,49.5 400.9,49.2 400.7,50.0 399.8,51.3 399.5,52.1 397.7,52.9 396.9,53.7 396.6,53.4 396.7,53.9 396.5,54.3 396.6,55.4 397.2,56.3 398.5,56.6 398.3,57.4 398.7,58.8 399.0,59.1 400.4,58.6 400.6,58.3 401.7,60.3 403.4,60.1 403.7,59.5 404.1,59.6 404.9,60.2 407.3,60.0 407.2,60.9 407.4,60.9 408.8,60.5 409.9,60.6 409.9,61.6 410.1,61.2 410.0,60.4 410.4,59.5 411.2,59.3 411.5,58.9 412.9,58.0 414.3,57.8 415.0,56.9 415.9,57.5 417.3,56.8 418.4,56.5Z" fill="none" stroke="#F5777E" stroke-width="0.45" stroke-opacity="0.75" stroke-linejoin="round"/>
<path d="M397.7,57.2 396.8,58.1 395.4,57.8 395.1,58.0 394.1,60.9 394.3,61.0 393.8,61.0 392.9,62.2 393.0,63.5 393.3,64.4 392.7,64.8 392.3,64.8 392.5,66.0 392.8,66.6 392.4,67.5 393.2,68.4 393.0,70.4 392.6,70.6 393.1,71.3 392.8,72.2 392.3,73.1 392.6,73.0 392.3,74.3 391.5,75.4 392.3,76.7 391.7,77.8 393.0,78.5 393.8,78.4 394.0,79.3 395.7,80.4 396.2,80.6 396.8,79.9 397.3,80.0 398.6,79.7 399.7,79.0 400.0,79.7 400.4,79.3 401.8,79.0 402.5,79.5 404.8,79.1 405.4,78.2 405.7,77.3 406.4,76.5 407.3,76.8 407.7,75.6 408.0,75.5 408.6,75.1 409.4,75.0 409.4,74.0 409.9,72.9 410.9,72.6 411.0,71.3 410.6,68.3 410.8,67.8 411.0,67.9 411.1,66.6 411.0,65.6 411.4,65.1 410.3,63.5 409.7,63.0 409.5,63.1 409.8,62.0 409.8,60.7 408.8,60.6 407.4,61.0 407.1,60.9 407.2,60.1 404.9,60.3 404.1,59.7 403.7,59.6 403.4,60.2 401.7,60.4 400.6,58.5 400.5,58.7 399.0,59.2 398.6,58.8 398.2,57.4Z" fill="none" stroke="#F5777E" stroke-width="0.45" stroke-opacity="0.75" stroke-linejoin="round"/>
<path d="M409.6,63.0 409.8,62.9 410.3,63.4 411.5,65.1 411.1,65.6 411.2,66.6 411.1,68.0 410.9,67.9 410.7,68.6 411.1,69.7 411.2,71.2 411.7,70.8 412.4,71.0 412.2,72.0 413.2,72.7 414.9,72.1 415.5,73.8 416.6,73.5 417.6,73.0 418.2,73.3 418.7,73.1 418.7,71.5 418.3,71.1 418.9,70.7 419.2,69.2 419.2,68.2 419.5,67.7 420.6,67.8 420.5,67.0 420.4,66.8 421.3,66.7 424.3,65.8 425.1,64.8 426.1,65.4 428.1,64.9 428.2,64.1 429.0,62.8 428.5,61.8 428.2,61.0 428.7,60.8 427.7,60.0 427.3,58.8 426.6,59.0 426.5,58.6 424.9,57.8 424.3,57.2 423.7,57.1 422.3,57.4 421.3,57.3 421.1,56.5 420.6,55.9 418.5,56.4 418.4,56.6 417.4,56.9 415.9,57.6 415.0,57.0 414.4,57.9 412.9,58.1 411.5,59.0 411.2,59.4 410.5,59.5 410.1,60.4 410.1,61.2Z" fill="none" stroke="#9094D2" stroke-width="0.45" stroke-opacity="0.75" stroke-linejoin="round"/>
<path d="M431.8,70.5 432.6,70.6 433.2,70.0 433.1,68.8 433.8,67.4 434.7,67.4 434.9,66.6 435.8,65.9 436.8,65.7 436.8,64.5 437.3,62.9 437.0,62.7 436.5,60.1 436.9,59.9 437.1,60.0 437.8,59.4 438.1,58.0 437.1,57.0 437.9,54.1 437.6,53.6 437.2,53.5 437.6,51.9 436.5,51.1 436.3,51.3 436.1,51.0 435.8,51.9 436.3,52.3 435.5,52.3 434.9,53.4 435.5,54.1 435.4,54.8 434.6,54.9 435.5,57.1 433.8,57.4 433.0,57.1 431.7,57.9 430.8,57.2 430.8,57.7 430.5,58.1 429.3,58.4 429.1,58.7 429.2,59.9 428.8,60.9 428.4,61.0 429.1,62.8 428.5,63.6 428.4,64.5 429.2,65.6 430.1,66.5 429.7,66.8 430.0,67.5 429.9,68.6 430.4,69.1 430.3,69.6 431.6,70.8Z" fill="none" stroke="#9094D2" stroke-width="0.45" stroke-opacity="0.75" stroke-linejoin="round"/>
<path d="M419.3,68.2 419.3,69.2 419.0,70.7 418.5,71.1 418.8,71.3 418.7,72.3 419.4,73.1 420.4,72.7 421.6,72.9 421.4,72.5 422.2,71.9 423.7,72.7 424.5,72.1 425.4,72.2 425.9,72.8 426.6,72.5 428.0,72.6 428.5,72.3 429.6,72.1 430.7,72.4 431.5,72.4 432.4,71.3 432.9,71.5 432.3,71.0 431.6,70.9 430.2,69.6 430.3,69.2 429.8,68.6 429.9,67.5 429.5,66.8 429.9,66.5 429.1,65.6 428.3,64.5 428.1,64.9 426.1,65.5 425.1,64.9 424.3,65.9 423.1,66.3 420.5,66.9 420.7,67.9 419.6,67.8Z" fill="none" stroke="#F5777E" stroke-width="0.45" stroke-opacity="0.75" stroke-linejoin="round"/>
<path d="M420.6,74.6 421.0,75.4 423.3,75.6 424.3,76.6 425.5,76.5 426.5,76.1 427.5,76.3 428.4,76.4 429.7,76.9 429.8,77.5 431.7,77.0 432.5,76.6 433.0,77.0 433.0,76.1 434.8,75.7 434.1,75.5 433.8,74.4 434.1,73.2 434.4,73.1 433.2,71.8 432.4,71.4 431.5,72.5 430.6,72.5 429.6,72.2 428.6,72.4 428.1,72.7 426.6,72.6 425.9,72.9 425.3,72.3 424.5,72.2 423.7,72.8 422.2,72.0 421.5,72.6 421.7,73.0 420.4,72.8 419.9,73.1 420.7,73.4Z" fill="none" stroke="#F5777E" stroke-width="0.45" stroke-opacity="0.75" stroke-linejoin="round"/>
<path d="M440.3,58.8 440.1,59.0 440.6,59.8 440.6,60.8 441.7,61.0 441.9,60.7 442.2,61.1 442.5,62.2 443.6,63.0 444.8,63.3 444.7,62.6 445.5,62.2 446.1,62.8 446.7,62.2 447.6,61.8 447.8,62.8 447.7,63.6 448.3,64.0 447.5,64.2 447.0,65.5 447.1,65.7 446.9,66.8 446.1,67.6 446.1,68.0 446.8,68.0 448.7,69.4 449.7,69.1 451.4,71.0 451.1,71.6 453.4,73.1 454.0,73.2 454.2,74.1 455.6,75.2 456.0,75.4 456.3,75.1 456.1,75.4 458.0,77.6 458.5,77.4 458.4,77.1 459.6,76.8 461.4,77.5 461.5,76.3 460.8,76.2 460.7,75.4 461.2,74.1 460.4,73.5 460.3,73.6 459.8,72.5 459.8,71.2 458.8,71.1 457.9,69.7 458.3,68.7 457.9,68.5 457.7,67.5 457.0,66.0 457.8,65.7 458.1,64.5 457.0,63.5 457.3,62.7 457.9,62.3 457.7,61.7 456.9,60.9 455.4,61.0 454.9,60.6 454.9,59.4 454.1,58.5 453.1,58.7 453.2,57.9 452.0,56.7 450.1,56.4 450.0,55.8 447.9,55.1 447.5,54.6 446.8,56.0 444.9,54.8 444.3,55.0 443.9,54.7 442.6,54.4 441.6,54.8 441.1,55.7 440.9,55.2 440.7,55.7 440.8,55.8 439.9,57.0 439.9,58.1Z" fill="none" stroke="#F5777E" stroke-width="0.45" stroke-opacity="0.75" stroke-linejoin="round"/>
<path d="M432.5,80.9 433.2,81.7 433.7,81.8 434.5,82.9 434.0,84.5 434.6,84.8 434.3,84.8 434.3,85.7 433.8,86.4 434.8,87.1 435.9,89.9 437.0,89.8 437.5,90.0 437.5,90.7 438.3,89.5 438.2,89.0 437.9,88.8 438.8,88.5 439.8,87.5 440.4,88.0 441.1,87.2 442.7,86.7 443.3,86.8 443.7,85.8 445.6,85.8 446.4,85.2 446.7,84.7 446.9,85.0 447.4,84.3 447.7,83.4 447.2,81.7 447.4,81.3 447.1,80.4 446.5,79.9 445.7,79.9 445.0,77.5 445.1,77.0 444.3,76.8 444.4,76.1 443.4,74.8 443.4,74.3 443.8,74.1 443.3,73.9 442.2,75.3 441.4,75.7 440.2,75.8 439.8,76.7 439.2,76.2 438.8,76.7 437.7,76.8 436.8,75.8 436.6,76.4 436.1,76.8 435.7,78.2 435.2,78.6 434.2,78.5 433.4,79.5 432.8,79.7Z" fill="none" stroke="#F5777E" stroke-width="0.45" stroke-opacity="0.75" stroke-linejoin="round"/>
<path d="M443.1,74.1 443.3,73.8 444.0,74.1 443.5,74.3 443.5,74.8 444.5,76.1 444.4,76.7 445.2,76.9 445.1,77.5 445.8,79.8 446.6,79.8 447.2,80.3 447.5,81.3 447.3,81.7 447.8,83.4 447.5,84.2 449.2,83.9 449.7,84.0 450.7,82.9 451.5,83.1 453.8,82.1 453.9,81.3 454.1,81.3 455.0,79.3 456.5,78.3 457.9,77.8 458.7,77.9 458.5,77.5 457.9,77.7 456.1,75.5 454.1,74.1 453.9,73.3 453.3,73.1 451.0,71.7 451.3,71.1 449.7,69.2 448.8,69.4 448.9,69.6 446.7,68.1 446.1,68.1 446.0,68.4 444.9,69.2 445.3,71.1 444.1,72.3Z" fill="none" stroke="#F5777E" stroke-width="0.45" stroke-opacity="0.75" stroke-linejoin="round"/>
<path d="M404.7,79.6 405.9,79.5 405.8,79.6 406.5,80.5 407.5,81.3 408.7,81.2 408.5,80.5 409.4,80.6 410.2,81.8 411.5,82.4 411.4,82.1 412.1,81.7 413.1,82.2 414.4,83.4 414.2,83.9 415.1,83.7 416.0,83.8 417.3,84.8 417.3,85.9 417.6,86.1 418.4,85.0 419.0,85.4 421.3,84.0 421.7,84.5 422.3,83.4 423.4,83.4 425.4,84.1 426.4,84.7 427.2,84.8 427.3,84.2 428.2,83.8 429.0,83.9 431.5,82.2 431.4,81.1 432.0,79.9 433.3,79.4 434.2,78.4 435.2,78.5 435.6,78.1 436.0,76.8 436.6,76.4 436.7,75.3 436.6,74.9 436.1,74.9 435.6,75.1 435.3,75.8 434.5,75.8 433.0,76.2 433.0,77.1 432.5,76.7 430.2,77.6 429.7,77.6 429.6,76.9 428.4,76.4 427.5,76.4 426.5,76.2 425.6,76.6 424.3,76.7 423.2,75.7 421.0,75.4 420.5,74.6 420.6,73.5 419.7,73.1 419.1,73.4 418.7,73.2 418.1,73.4 417.6,73.1 416.6,73.6 415.4,73.9 414.8,72.2 413.2,72.8 412.1,72.1 412.3,71.1 411.7,70.9 411.1,71.3 410.9,72.6 410.0,73.0 409.5,74.0 409.5,75.0 408.7,75.2 408.1,75.6 407.7,75.7 407.3,76.9 406.5,76.6 405.8,77.3 405.5,78.3 404.9,79.1 404.0,79.2Z" fill="none" stroke="#9094D2" stroke-width="0.45" stroke-opacity="0.75" stroke-linejoin="round"/>
<path d="M426.5,99.9 428.2,98.4 431.3,97.7 431.8,98.0 431.6,97.2 431.9,97.0 433.2,96.9 435.2,96.3 435.9,96.8 436.1,97.4 436.7,96.9 437.8,96.7 438.5,97.2 439.5,95.4 439.2,94.0 439.5,94.0 439.9,92.9 438.4,91.4 437.4,91.3 437.4,90.1 437.0,89.9 435.8,90.0 434.7,87.1 433.7,86.5 434.2,85.7 434.2,84.7 433.9,84.6 434.4,82.9 433.6,81.9 433.2,81.7 432.4,81.0 432.7,79.7 432.1,80.0 431.5,81.2 431.6,82.3 429.0,84.0 428.2,83.9 427.4,84.3 427.3,84.8 426.4,84.8 425.4,84.2 423.4,83.5 422.3,83.5 421.8,84.6 421.3,84.1 419.0,85.5 418.5,85.2 417.7,86.1 419.1,87.6 419.7,87.8 419.9,89.3 420.6,90.5 421.3,90.6 421.2,90.8 422.4,91.4 423.3,92.1 424.4,92.4 423.3,94.3 423.6,94.9 422.5,96.5 422.2,97.8 421.5,98.9 421.7,98.9 422.1,99.5 423.6,100.3 425.5,99.5Z" fill="none" stroke="#9094D2" stroke-width="0.45" stroke-opacity="0.75" stroke-linejoin="round"/>
<path d="M436.7,60.1 437.0,62.6 437.4,62.8 436.9,64.5 436.9,65.8 435.8,66.0 435.0,66.7 434.8,67.5 433.8,67.5 433.2,68.8 433.5,70.8 432.9,70.7 433.2,71.7 434.5,73.1 434.2,73.2 433.9,74.2 434.5,74.9 435.6,75.0 436.6,74.6 436.9,75.5 437.7,76.8 438.8,76.7 439.2,76.1 439.7,76.6 440.1,75.7 441.4,75.6 442.1,75.2 444.1,72.2 445.2,71.1 444.8,69.1 446.0,68.4 446.0,67.6 446.8,66.8 447.0,65.7 446.9,65.5 447.4,64.1 448.1,63.9 447.6,63.6 447.7,62.8 447.6,61.9 446.7,62.3 446.1,62.9 445.5,62.3 444.8,62.7 444.9,63.4 443.5,63.1 442.5,62.3 442.1,61.1 441.9,60.8 441.7,61.1 440.5,60.9 440.5,59.8 440.0,59.1 440.2,58.8 439.9,58.2 439.7,58.6 439.0,58.6 437.1,60.1 436.9,60.0Z" fill="none" stroke="#9094D2" stroke-width="0.45" stroke-opacity="0.75" stroke-linejoin="round"/>
<path d="M402.2,107.4 401.9,109.3 400.9,110.0 400.1,110.1 400.9,110.4 401.3,112.1 401.2,113.1 402.3,113.3 403.5,112.7 403.5,113.5 404.9,114.5 406.2,114.3 406.5,113.5 407.7,113.9 408.6,113.1 409.7,113.2 409.9,114.0 412.5,114.5 412.5,114.4 414.1,114.5 414.9,115.6 417.7,117.6 418.4,117.5 418.5,115.6 419.0,114.9 418.0,115.0 417.0,114.0 416.2,112.8 416.9,112.4 415.5,110.0 414.4,110.0 414.8,109.7 414.9,108.1 415.1,107.8 414.3,107.9 413.2,107.9 412.4,107.3 412.1,106.4 409.8,106.5 409.3,106.3 409.2,106.1 406.7,105.4 404.8,106.3 404.0,105.9 403.6,107.0 403.0,107.0Z" fill="none" stroke="#7478EC" stroke-width="0.45" stroke-opacity="0.75" stroke-linejoin="round"/>
<path d="M414.3,107.8 415.2,107.6 415.0,108.1 416.1,108.4 416.7,107.8 419.2,107.7 419.5,107.0 420.6,107.7 421.5,107.5 421.6,106.9 422.1,107.0 423.4,106.8 424.5,106.5 425.4,105.8 425.6,106.1 425.7,105.5 426.4,105.1 428.1,106.1 428.2,107.0 428.8,106.0 430.0,106.1 431.3,105.9 431.8,105.0 432.9,105.5 434.2,104.6 435.7,104.7 435.5,104.2 436.3,103.6 437.8,103.7 438.8,103.6 439.3,102.6 439.9,102.6 440.3,101.3 440.7,99.1 440.9,98.7 439.5,97.6 438.9,97.3 438.1,97.6 438.5,97.2 437.8,96.8 436.7,97.0 436.0,97.6 435.8,96.9 435.2,96.4 433.2,97.0 431.9,97.1 431.7,97.3 431.9,98.1 431.3,97.8 428.3,98.5 428.2,99.1 428.1,98.8 426.5,100.0 425.5,99.6 423.6,100.4 423.0,101.2 421.3,102.0 421.2,101.8 420.6,102.7 419.8,103.2 419.3,103.7 418.7,103.5 417.8,104.5 416.7,103.9 415.9,104.4 415.4,105.3 414.7,105.5 413.2,107.8Z" fill="none" stroke="#F4888E" stroke-width="0.45" stroke-opacity="0.75" stroke-linejoin="round"/>
<path d="M468.0,78.8 469.2,76.7 469.2,75.2 469.9,75.0 469.9,74.5 469.0,72.8 468.5,72.8 467.4,73.7 466.4,73.6 465.8,73.9 465.8,74.5 465.5,75.2 464.1,75.0 462.0,76.7 461.4,77.7 459.6,76.9 458.5,77.2 458.7,78.0 457.9,77.9 456.5,78.4 455.1,79.4 454.1,81.4 454.0,81.4 453.9,82.1 453.0,82.6 451.5,83.2 450.7,83.0 449.8,84.1 449.4,83.9 448.1,84.2 446.9,85.2 446.7,84.8 446.5,85.3 445.7,85.9 443.8,85.9 443.3,86.9 442.7,86.8 441.1,87.3 440.4,88.1 439.8,87.6 438.8,88.6 438.1,88.9 438.3,88.9 438.4,89.5 437.5,90.9 437.5,91.2 438.5,91.3 440.0,92.8 440.1,93.5 440.4,93.6 441.3,93.1 442.3,93.0 443.2,93.4 442.9,93.8 445.3,94.5 446.1,93.4 447.0,93.6 447.4,93.4 448.9,91.9 450.0,92.1 450.5,90.3 451.5,90.4 452.6,89.6 453.6,89.4 454.2,89.7 454.2,89.4 454.5,89.2 456.0,89.1 457.3,89.6 457.4,89.2 458.2,88.7 458.8,88.9 459.7,88.0 460.8,87.6 461.4,87.9 461.7,87.0 462.2,86.6 463.0,87.1 464.2,87.2 464.3,86.4 464.7,86.9 466.0,87.1 467.0,86.5 467.7,85.1 468.2,85.1 468.6,84.8 468.3,84.5 468.0,82.8 468.1,82.0 467.6,81.9 466.7,79.7 467.4,79.5Z" fill="none" stroke="#7478EC" stroke-width="0.45" stroke-opacity="0.75" stroke-linejoin="round"/>
<path d="M464.6,87.0 464.4,86.6 464.3,87.3 463.0,87.2 462.2,86.7 461.8,87.0 461.5,88.0 460.8,87.7 459.7,88.1 458.9,89.0 458.2,88.8 457.5,89.2 457.3,89.8 456.1,89.3 456.4,89.9 456.7,90.1 457.0,91.5 456.1,92.4 456.4,92.5 457.0,93.0 458.3,95.1 458.0,95.4 458.3,97.2 459.7,97.2 460.3,96.9 461.1,97.4 461.2,98.1 465.6,98.3 466.5,99.1 466.6,99.8 466.9,99.2 468.1,98.5 469.3,98.3 469.5,97.1 471.1,95.2 470.2,95.4 469.8,94.5 469.8,93.1 469.5,92.9 469.0,91.4 469.5,90.3 468.3,89.7 467.2,88.0 467.3,87.7 466.6,87.8 466.0,87.2Z" fill="none" stroke="#7478EC" stroke-width="0.45" stroke-opacity="0.75" stroke-linejoin="round"/>
<path d="M428.1,107.6 427.6,108.2 427.3,110.8 427.1,111.4 426.8,111.5 427.1,112.4 428.3,113.8 428.1,113.9 428.4,114.1 428.6,115.2 428.6,116.4 428.8,116.5 429.0,117.0 430.8,119.1 429.9,120.1 430.1,120.9 430.9,120.3 432.4,120.7 432.6,122.2 432.3,122.6 432.3,123.7 434.5,125.8 434.3,127.8 436.1,127.8 436.5,129.0 436.4,130.0 437.9,131.5 438.2,132.5 438.7,132.6 439.7,131.8 440.8,131.9 441.1,132.3 441.6,131.4 441.0,130.7 440.8,129.0 440.0,126.1 440.8,125.6 439.8,124.0 438.7,123.3 439.1,122.1 439.0,121.1 437.9,121.2 437.4,120.8 437.0,119.2 437.3,118.5 436.8,118.5 436.4,117.5 436.2,116.2 435.4,115.7 434.9,114.3 435.7,113.4 435.1,112.6 434.5,111.0 434.8,110.8 435.0,110.3 434.9,109.4 435.7,107.4 435.3,107.4 435.4,106.9 436.3,105.6 436.0,104.3 435.7,104.8 434.2,104.7 433.0,105.6 432.5,105.6 431.8,105.1 431.3,106.0 430.0,106.2 428.8,106.1 428.0,107.2Z" fill="none" stroke="#F4888E" stroke-width="0.45" stroke-opacity="0.75" stroke-linejoin="round"/>
<path d="M418.5,117.4 419.3,116.7 420.8,116.5 421.8,116.7 421.9,115.9 422.4,115.8 425.0,115.7 425.0,116.1 426.4,116.5 428.2,115.6 428.4,116.2 428.5,115.2 428.0,114.0 428.2,113.8 427.1,112.4 426.7,111.4 427.0,111.4 427.3,110.7 427.5,108.2 428.0,107.5 427.8,106.8 425.8,105.6 425.6,106.2 425.4,105.9 424.5,106.5 422.1,107.1 421.6,107.0 421.6,107.6 420.6,107.8 419.5,107.1 419.2,107.8 416.7,107.9 416.1,108.5 415.0,108.2 414.9,109.8 414.6,109.9 415.6,109.9 417.0,112.4 416.3,112.8 418.0,114.9 419.2,114.9 418.6,115.7Z" fill="none" stroke="#7478EC" stroke-width="0.45" stroke-opacity="0.75" stroke-linejoin="round"/>
<path d="M410.3,120.8 412.2,123.0 413.0,123.3 413.0,123.5 415.1,124.1 415.5,124.5 416.0,124.5 416.3,124.0 418.1,124.3 418.7,126.3 417.9,126.3 418.2,127.3 419.1,128.5 419.8,129.1 419.3,130.3 420.0,131.5 420.9,131.5 422.0,132.0 422.2,132.7 422.7,133.1 425.2,132.5 425.5,132.8 426.6,131.7 427.9,131.7 428.8,131.4 428.6,130.7 429.2,129.9 429.9,130.2 430.2,128.0 430.6,126.8 430.7,125.8 431.5,125.2 431.5,124.2 431.1,124.2 431.7,123.1 432.5,122.2 432.3,120.7 430.9,120.4 430.0,121.0 429.8,120.1 430.7,119.1 428.5,116.6 428.2,115.7 426.4,116.6 424.9,116.2 424.9,115.8 423.4,115.8 422.0,116.0 421.8,116.8 420.8,116.6 419.3,116.8 418.2,117.8 416.8,118.0 415.6,118.8 415.0,118.4 414.9,119.2 414.4,119.7 413.8,119.6 412.7,120.6 411.3,120.9Z" fill="none" stroke="#7478EC" stroke-width="0.45" stroke-opacity="0.75" stroke-linejoin="round"/>
<path d="M469.3,76.8 468.1,78.9 467.5,79.5 466.9,79.7 467.7,81.8 468.2,81.9 468.1,82.8 468.4,84.4 468.7,84.8 468.3,85.2 467.8,85.2 467.1,86.6 466.1,87.1 466.6,87.7 467.2,87.6 467.6,87.3 467.3,87.9 468.4,89.6 469.6,90.3 469.1,91.4 469.6,92.9 469.9,93.1 469.9,94.5 470.3,95.3 471.3,95.1 469.6,97.2 469.4,98.4 470.1,98.6 470.5,97.8 471.4,98.2 472.5,97.7 472.4,97.3 473.1,96.9 473.3,95.5 474.4,94.6 474.8,93.3 474.8,93.6 475.5,93.0 477.9,92.3 478.6,92.9 479.1,94.1 480.2,94.1 480.6,94.3 480.9,95.5 480.6,96.3 481.5,96.6 481.9,97.9 481.7,98.6 481.9,99.2 481.7,99.2 481.2,100.1 481.9,101.3 481.9,101.8 482.8,102.3 483.5,101.6 485.3,101.1 485.6,101.5 486.3,100.4 487.5,100.7 489.2,99.5 489.3,98.9 490.2,98.2 491.1,97.8 491.5,97.7 491.6,97.8 491.9,96.6 492.7,95.7 492.8,94.4 491.8,94.4 492.5,92.4 491.7,91.9 491.9,91.7 492.2,89.6 491.9,89.3 490.4,88.9 490.3,86.6 489.7,86.5 489.0,85.6 487.8,85.1 488.2,85.0 488.4,83.0 486.6,82.2 487.0,81.0 486.8,80.3 486.8,79.3 485.7,77.3 484.6,77.0 484.6,77.7 483.9,78.2 483.0,77.3 481.8,76.9 480.8,77.5 481.0,77.0 480.6,76.8 479.2,77.0 478.6,77.5 478.0,77.0 478.0,76.2 476.4,75.8 475.2,76.2 475.1,75.8 474.5,74.6 474.0,76.6 472.9,76.9 471.8,76.9 471.5,77.0 471.7,78.0 469.8,76.7 469.4,75.8Z" fill="none" stroke="#F4888E" stroke-width="0.45" stroke-opacity="0.75" stroke-linejoin="round"/>
<path d="M463.4,118.2 464.4,118.3 465.1,116.6 466.1,115.3 466.8,115.4 466.9,114.6 467.4,116.0 467.2,117.6 468.6,119.9 468.1,119.9 468.4,120.9 468.3,122.2 468.9,122.4 469.6,122.2 470.2,122.3 471.1,122.1 471.5,120.6 472.4,120.6 472.4,120.3 471.7,119.7 472.5,118.2 472.8,118.1 472.5,118.1 472.5,117.0 473.6,115.4 473.7,114.4 475.8,113.2 476.5,113.6 477.8,111.3 477.8,109.9 477.5,109.8 476.2,107.1 477.1,107.2 477.7,105.6 478.7,105.4 479.7,104.5 480.7,103.9 481.0,104.1 481.0,103.8 482.3,102.2 481.8,101.9 481.8,101.3 481.1,100.2 479.4,101.4 478.3,102.8 477.5,102.7 476.8,103.1 475.1,101.9 473.9,101.5 473.2,100.7 472.3,100.2 472.8,100.2 473.1,99.9 472.5,97.8 471.4,98.3 470.7,98.0 470.5,98.9 469.3,98.8 467.8,99.0 467.3,99.3 467.1,100.2 466.6,99.8 465.8,100.6 465.7,101.2 465.8,102.9 464.5,103.5 464.2,104.5 463.0,104.4 462.1,104.7 461.8,105.0 461.7,106.1 461.2,106.0 460.6,106.9 460.6,108.9 460.0,108.8 459.3,109.2 459.7,110.2 459.7,111.0 459.5,111.6 461.1,114.0 460.7,114.1 460.6,114.8 460.8,116.2 461.9,116.7 462.6,117.3 463.0,118.5Z" fill="none" stroke="#F4888E" stroke-width="0.45" stroke-opacity="0.75" stroke-linejoin="round"/>
<path d="M472.5,97.3 473.2,99.9 472.8,100.3 473.3,100.6 473.9,101.4 475.2,101.9 476.8,103.0 477.5,102.6 478.2,102.7 479.4,101.3 481.1,100.1 481.7,99.0 481.6,98.6 481.8,97.9 481.5,96.7 480.5,96.4 480.8,95.5 480.6,94.4 480.2,94.2 479.0,94.2 478.6,92.9 477.9,92.4 475.5,93.1 474.7,93.7 474.5,94.6 473.4,95.5 473.2,97.0Z" fill="none" stroke="#F5777E" stroke-width="0.45" stroke-opacity="0.75" stroke-linejoin="round"/>
<path d="M421.7,99.3 421.4,98.9 422.1,97.8 422.4,96.4 423.5,94.9 423.2,94.3 424.2,92.5 423.2,92.1 422.3,91.5 421.1,90.9 421.2,90.7 420.5,90.6 419.8,89.4 419.6,87.8 419.0,87.7 417.8,86.2 417.0,86.2 416.0,89.0 416.2,89.0 416.5,90.1 416.1,91.1 416.4,92.2 416.8,92.6 417.1,92.7 417.3,94.1 416.6,94.9 416.0,96.6 415.9,98.3 415.1,98.9 415.3,100.6 416.0,101.0 417.5,100.8 417.7,100.5 419.4,100.9 421.5,100.4Z" fill="none" stroke="#F4888E" stroke-width="0.45" stroke-opacity="0.75" stroke-linejoin="round"/>
<path d="M400.0,105.3 400.1,105.6 400.0,106.7 400.3,107.5 401.6,107.2 402.5,107.2 402.9,106.9 403.5,106.9 403.9,105.7 404.8,106.2 406.7,105.3 409.2,106.0 409.3,106.2 409.8,106.4 411.7,106.2 412.2,106.4 412.5,107.2 413.1,107.8 414.6,105.4 415.4,105.3 415.9,104.1 416.8,103.8 417.8,104.0 418.5,103.1 419.8,102.9 421.0,101.6 422.0,101.6 422.6,100.1 421.8,99.4 421.5,100.5 419.4,101.0 417.7,100.6 417.6,100.9 416.0,101.1 415.2,100.7 414.4,99.6 412.7,99.4 412.3,99.0 412.1,99.7 409.0,99.5 408.1,99.8 407.8,99.0 406.5,99.8 405.7,100.0 405.4,99.8 404.6,100.4 403.5,100.8 402.3,101.0 401.6,102.0 400.9,101.6 400.5,102.0 400.7,102.2 400.8,103.7Z" fill="none" stroke="#F4888E" stroke-width="0.45" stroke-opacity="0.75" stroke-linejoin="round"/>
</g>
<g transform="translate(18.1,24.1)">
<circle r="8.0" fill="#f1f1f1" stroke="#777" stroke-width="0.5"/>
<circle r="6.2" fill="#e4e4e4" stroke="#999" stroke-width="0.4"/>
<g transform="rotate(45)"><polygon points="0,-7 1.3,-1.3 0,0" fill="#333"/><polygon points="0,-7 -1.3,-1.3 0,0" fill="#bbb" stroke="#555" stroke-width="0.2"/></g>
<g transform="rotate(135)"><polygon points="0,-7 1.3,-1.3 0,0" fill="#333"/><polygon points="0,-7 -1.3,-1.3 0,0" fill="#bbb" stroke="#555" stroke-width="0.2"/></g>
<g transform="rotate(225)"><polygon points="0,-7 1.3,-1.3 0,0" fill="#333"/><polygon points="0,-7 -1.3,-1.3 0,0" fill="#bbb" stroke="#555" stroke-width="0.2"/></g>
<g transform="rotate(315)"><polygon points="0,-7 1.3,-1.3 0,0" fill="#333"/><polygon points="0,-7 -1.3,-1.3 0,0" fill="#bbb" stroke="#555" stroke-width="0.2"/></g>
<g transform="rotate(0)"><polygon points="0,-10.2 1.7,-1.7 0,0" fill="#111"/><polygon points="0,-10.2 -1.7,-1.7 0,0" fill="#ddd" stroke="#333" stroke-width="0.25"/></g>
<g transform="rotate(90)"><polygon points="0,-10.2 1.7,-1.7 0,0" fill="#111"/><polygon points="0,-10.2 -1.7,-1.7 0,0" fill="#ddd" stroke="#333" stroke-width="0.25"/></g>
<g transform="rotate(180)"><polygon points="0,-10.2 1.7,-1.7 0,0" fill="#111"/><polygon points="0,-10.2 -1.7,-1.7 0,0" fill="#ddd" stroke="#333" stroke-width="0.25"/></g>
<g transform="rotate(270)"><polygon points="0,-10.2 1.7,-1.7 0,0" fill="#111"/><polygon points="0,-10.2 -1.7,-1.7 0,0" fill="#ddd" stroke="#333" stroke-width="0.25"/></g>
<text x="0" y="-10.6" font-family="'Liberation Serif','Times New Roman',serif" font-size="3.6" text-anchor="middle" fill="#444">N</text>
<rect x="-12.6" y="-0.4" width="1.2" height="0.8" fill="#888"/><rect x="11.4" y="-0.4" width="1.2" height="0.8" fill="#888"/><rect x="-0.4" y="11.3" width="0.8" height="1.2" fill="#888"/>
</g>
<text x="50.3" y="28.5" font-family="'Liberation Serif','Times New Roman',serif" font-size="11.4" text-anchor="start" fill="#0a0a0a" stroke="#0a0a0a" stroke-width="0.22" >Scale</text>
<text x="170.7" y="27.8" font-family="'Liberation Serif','Times New Roman',serif" font-size="11.3" text-anchor="start" fill="#0a0a0a" stroke="#0a0a0a" stroke-width="0.22" >Economy</text>
<text x="284.7" y="28.7" font-family="'Liberation Serif','Times New Roman',serif" font-size="11.3" text-anchor="start" fill="#0a0a0a" stroke="#0a0a0a" stroke-width="0.22" >Population</text>
<text x="424.7" y="31.4" font-family="'Liberation Serif','Times New Roman',serif" font-size="11.3" text-anchor="start" fill="#0a0a0a" stroke="#0a0a0a" stroke-width="0.22" >Land</text>
<text x="463" y="16.6" font-family="'Liberation Serif','Times New Roman',serif" font-size="11.2" text-anchor="start" fill="#0a0a0a" stroke="#0a0a0a" stroke-width="0.22" >TES–Urbanization</text>
<rect x="464.2" y="20.6" width="10" height="6.6" fill="#EFEFEF" stroke="#D6D6D6" stroke-width="0.7"/>
<text x="477.6" y="26.7" font-family="'Liberation Serif','Times New Roman',serif" font-size="11.3" text-anchor="start" fill="#0a0a0a" stroke="#0a0a0a" stroke-width="0.22" >Not significant</text>
<rect x="464.2" y="31.2" width="10" height="6.6" fill="#FDC8C8" stroke="#F08A8A" stroke-width="0.7"/>
<text x="477.6" y="37.3" font-family="'Liberation Serif','Times New Roman',serif" font-size="11.3" text-anchor="start" fill="#0a0a0a" stroke="#0a0a0a" stroke-width="0.22" >High–High</text>
<rect x="464.2" y="41.4" width="10" height="6.6" fill="#BEBFBE" stroke="#8C8CB8" stroke-width="0.7"/>
<text x="477.6" y="47.5" font-family="'Liberation Serif','Times New Roman',serif" font-size="11.3" text-anchor="start" fill="#0a0a0a" stroke="#0a0a0a" stroke-width="0.22" >Low–Low</text>
<rect x="464.2" y="51.4" width="10" height="6.6" fill="#898CF6" stroke="#7A7AF0" stroke-width="0.7"/>
<text x="477.6" y="57.5" font-family="'Liberation Serif','Times New Roman',serif" font-size="11.3" text-anchor="start" fill="#0a0a0a" stroke="#0a0a0a" stroke-width="0.22" >Low–High</text>
<rect x="464.2" y="60.7" width="10" height="6.6" fill="#FA8588" stroke="#F07078" stroke-width="0.7"/>
<text x="477.6" y="66.8" font-family="'Liberation Serif','Times New Roman',serif" font-size="11.3" text-anchor="start" fill="#0a0a0a" stroke="#0a0a0a" stroke-width="0.22" >High–Low</text>
<text x="495.4" y="82" font-family="'Liberation Serif','Times New Roman',serif" font-size="9.9" text-anchor="start" fill="#0a0a0a" stroke="#0a0a0a" stroke-width="0.22" >1:5,000,000</text>
<text x="51.6" y="144.9" font-family="'Liberation Serif','Times New Roman',serif" font-size="12.2" letter-spacing="0.25" fill="#0a0a0a" stroke="#0a0a0a" stroke-width="0.22">Moran’<tspan font-style="italic">I</tspan>: −0.372</text>
<text x="170.5" y="144.5" font-family="'Liberation Serif','Times New Roman',serif" font-size="12.2" letter-spacing="0.25" fill="#0a0a0a" stroke="#0a0a0a" stroke-width="0.22">Moran’<tspan font-style="italic">I</tspan>: −0.244</text>
<text x="289.6" y="144.5" font-family="'Liberation Serif','Times New Roman',serif" font-size="12.2" letter-spacing="0.25" fill="#0a0a0a" stroke="#0a0a0a" stroke-width="0.22">Moran’<tspan font-style="italic">I</tspan>: −0.013</text>
<text x="407.8" y="144.5" font-family="'Liberation Serif','Times New Roman',serif" font-size="12.2" letter-spacing="0.25" fill="#0a0a0a" stroke="#0a0a0a" stroke-width="0.22">Moran’<tspan font-style="italic">I</tspan>: 0.019</text>
<g>
<g fill="#CFE2FF" stroke="#1560F0" stroke-width="0.95">
<circle cx="46.0" cy="160.4" r="1.15"/>
<circle cx="47.4" cy="160.4" r="1.15"/>
<circle cx="48.8" cy="160.4" r="1.15"/>
<circle cx="50.2" cy="160.4" r="1.15"/>
<circle cx="51.6" cy="160.4" r="1.15"/>
<circle cx="53.0" cy="160.4" r="1.15"/>
<circle cx="54.4" cy="160.4" r="1.15"/>
<circle cx="55.8" cy="160.4" r="1.15"/>
<circle cx="72.8" cy="160.4" r="1.15"/>
<circle cx="76.4" cy="160.4" r="1.15"/>
<circle cx="72.8" cy="169.5" r="1.15"/>
<circle cx="46.3" cy="170.3" r="1.15"/>
<circle cx="45.9" cy="171.8" r="1.15"/>
<circle cx="45.6" cy="174.1" r="1.15"/>
<circle cx="45.9" cy="175.3" r="1.15"/>
<circle cx="45.9" cy="177.7" r="1.15"/>
<circle cx="46.5" cy="180.1" r="1.15"/>
<circle cx="45.5" cy="182.8" r="1.15"/>
<circle cx="45.9" cy="186.6" r="1.15"/>
<circle cx="45.9" cy="187.8" r="1.15"/>
<circle cx="45.7" cy="189.8" r="1.15"/>
<circle cx="45.8" cy="191.3" r="1.15"/>
<circle cx="48.1" cy="171.7" r="1.15"/>
<circle cx="48.0" cy="174.5" r="1.15"/>
<circle cx="48.6" cy="176.2" r="1.15"/>
<circle cx="48.8" cy="178.9" r="1.15"/>
<circle cx="48.5" cy="181.2" r="1.15"/>
<circle cx="48.4" cy="183.9" r="1.15"/>
<circle cx="48.1" cy="186.0" r="1.15"/>
<circle cx="48.0" cy="188.5" r="1.15"/>
<circle cx="48.6" cy="190.6" r="1.15"/>
<circle cx="50.5" cy="172.5" r="1.15"/>
<circle cx="50.0" cy="174.3" r="1.15"/>
<circle cx="51.0" cy="175.5" r="1.15"/>
<circle cx="50.1" cy="177.7" r="1.15"/>
<circle cx="50.9" cy="182.1" r="1.15"/>
<circle cx="51.0" cy="183.6" r="1.15"/>
<circle cx="50.3" cy="185.8" r="1.15"/>
<circle cx="50.9" cy="189.0" r="1.15"/>
<circle cx="52.9" cy="174.7" r="1.15"/>
<circle cx="53.2" cy="176.5" r="1.15"/>
<circle cx="52.8" cy="178.6" r="1.15"/>
<circle cx="52.7" cy="180.6" r="1.15"/>
<circle cx="53.0" cy="182.7" r="1.15"/>
<circle cx="52.5" cy="184.6" r="1.15"/>
<circle cx="53.2" cy="186.0" r="1.15"/>
<circle cx="53.2" cy="188.5" r="1.15"/>
<circle cx="53.0" cy="190.1" r="1.15"/>
<circle cx="54.4" cy="173.4" r="1.15"/>
<circle cx="54.5" cy="174.7" r="1.15"/>
<circle cx="54.7" cy="176.0" r="1.15"/>
<circle cx="54.9" cy="177.4" r="1.15"/>
<circle cx="54.6" cy="179.3" r="1.15"/>
<circle cx="54.5" cy="180.5" r="1.15"/>
<circle cx="55.1" cy="182.0" r="1.15"/>
<circle cx="54.8" cy="184.0" r="1.15"/>
<circle cx="54.1" cy="186.5" r="1.15"/>
<circle cx="54.3" cy="187.9" r="1.15"/>
<circle cx="54.7" cy="190.2" r="1.15"/>
<circle cx="56.8" cy="175.2" r="1.15"/>
<circle cx="57.2" cy="177.5" r="1.15"/>
<circle cx="56.7" cy="179.2" r="1.15"/>
<circle cx="57.5" cy="183.4" r="1.15"/>
<circle cx="56.9" cy="187.5" r="1.15"/>
<circle cx="56.6" cy="188.7" r="1.15"/>
<circle cx="52.2" cy="193.4" r="1.15"/>
<circle cx="45.0" cy="201.3" r="1.15"/>
<circle cx="47.0" cy="201.5" r="1.15"/>
<circle cx="49.5" cy="201.2" r="1.15"/>
<circle cx="51.5" cy="201.6" r="1.15"/>
<circle cx="53.0" cy="201.3" r="1.15"/>
<circle cx="60.9" cy="183.2" r="1.15"/>
<circle cx="60.5" cy="186.0" r="1.15"/>
<circle cx="60.2" cy="187.8" r="1.15"/>
<circle cx="60.2" cy="190.1" r="1.15"/>
<circle cx="60.3" cy="191.4" r="1.15"/>
<circle cx="60.9" cy="193.4" r="1.15"/>
<circle cx="60.2" cy="196.0" r="1.15"/>
<circle cx="62.9" cy="182.8" r="1.15"/>
<circle cx="62.9" cy="185.6" r="1.15"/>
<circle cx="63.0" cy="187.9" r="1.15"/>
<circle cx="62.0" cy="189.4" r="1.15"/>
<circle cx="62.6" cy="192.3" r="1.15"/>
<circle cx="62.3" cy="194.9" r="1.15"/>
<circle cx="63.8" cy="183.8" r="1.15"/>
<circle cx="64.6" cy="189.2" r="1.15"/>
<circle cx="64.0" cy="191.0" r="1.15"/>
<circle cx="64.8" cy="192.3" r="1.15"/>
<circle cx="64.6" cy="196.3" r="1.15"/>
<circle cx="64.5" cy="198.9" r="1.15"/>
<circle cx="64.7" cy="200.2" r="1.15"/>
<circle cx="64.9" cy="201.4" r="1.15"/>
<circle cx="66.3" cy="183.3" r="1.15"/>
<circle cx="65.7" cy="189.1" r="1.15"/>
<circle cx="66.2" cy="191.1" r="1.15"/>
<circle cx="66.5" cy="192.3" r="1.15"/>
<circle cx="65.9" cy="193.9" r="1.15"/>
<circle cx="66.5" cy="195.6" r="1.15"/>
<circle cx="66.1" cy="199.7" r="1.15"/>
<circle cx="66.2" cy="202.5" r="1.15"/>
<circle cx="67.6" cy="177.6" r="1.15"/>
<circle cx="68.5" cy="178.9" r="1.15"/>
<circle cx="68.1" cy="180.8" r="1.15"/>
<circle cx="67.7" cy="183.5" r="1.15"/>
<circle cx="68.3" cy="185.2" r="1.15"/>
<circle cx="67.7" cy="187.9" r="1.15"/>
<circle cx="68.0" cy="190.0" r="1.15"/>
<circle cx="67.6" cy="191.5" r="1.15"/>
<circle cx="67.5" cy="192.8" r="1.15"/>
<circle cx="67.7" cy="194.1" r="1.15"/>
<circle cx="68.3" cy="196.6" r="1.15"/>
<circle cx="68.3" cy="198.0" r="1.15"/>
<circle cx="68.5" cy="200.7" r="1.15"/>
<circle cx="67.5" cy="203.2" r="1.15"/>
<circle cx="69.9" cy="172.4" r="1.15"/>
<circle cx="70.1" cy="175.1" r="1.15"/>
<circle cx="70.8" cy="177.8" r="1.15"/>
<circle cx="70.5" cy="180.4" r="1.15"/>
<circle cx="70.0" cy="181.9" r="1.15"/>
<circle cx="70.1" cy="184.2" r="1.15"/>
<circle cx="70.4" cy="188.0" r="1.15"/>
<circle cx="70.2" cy="190.6" r="1.15"/>
<circle cx="69.8" cy="192.3" r="1.15"/>
<circle cx="70.4" cy="194.5" r="1.15"/>
<circle cx="69.9" cy="195.8" r="1.15"/>
<circle cx="70.7" cy="197.1" r="1.15"/>
<circle cx="70.5" cy="199.0" r="1.15"/>
<circle cx="70.4" cy="200.5" r="1.15"/>
<circle cx="70.3" cy="202.5" r="1.15"/>
<circle cx="70.0" cy="204.8" r="1.15"/>
<circle cx="70.0" cy="206.8" r="1.15"/>
<circle cx="72.0" cy="173.9" r="1.15"/>
<circle cx="72.9" cy="175.1" r="1.15"/>
<circle cx="72.9" cy="176.5" r="1.15"/>
<circle cx="72.9" cy="178.2" r="1.15"/>
<circle cx="72.7" cy="180.0" r="1.15"/>
<circle cx="72.9" cy="182.1" r="1.15"/>
<circle cx="72.1" cy="184.9" r="1.15"/>
<circle cx="72.6" cy="186.5" r="1.15"/>
<circle cx="72.7" cy="188.9" r="1.15"/>
<circle cx="72.5" cy="191.3" r="1.15"/>
<circle cx="72.0" cy="192.7" r="1.15"/>
<circle cx="72.6" cy="195.5" r="1.15"/>
<circle cx="72.8" cy="199.9" r="1.15"/>
<circle cx="72.7" cy="202.5" r="1.15"/>
<circle cx="74.1" cy="172.2" r="1.15"/>
<circle cx="74.9" cy="173.9" r="1.15"/>
<circle cx="74.6" cy="176.7" r="1.15"/>
<circle cx="74.3" cy="178.5" r="1.15"/>
<circle cx="73.9" cy="180.1" r="1.15"/>
<circle cx="74.0" cy="181.5" r="1.15"/>
<circle cx="74.9" cy="183.7" r="1.15"/>
<circle cx="74.5" cy="185.2" r="1.15"/>
<circle cx="74.2" cy="186.8" r="1.15"/>
<circle cx="74.8" cy="189.1" r="1.15"/>
<circle cx="74.5" cy="192.0" r="1.15"/>
<circle cx="74.6" cy="194.6" r="1.15"/>
<circle cx="74.1" cy="196.4" r="1.15"/>
<circle cx="74.8" cy="198.9" r="1.15"/>
<circle cx="74.6" cy="204.8" r="1.15"/>
<circle cx="74.3" cy="206.4" r="1.15"/>
<circle cx="76.0" cy="171.6" r="1.15"/>
<circle cx="76.4" cy="173.4" r="1.15"/>
<circle cx="76.1" cy="175.4" r="1.15"/>
<circle cx="76.0" cy="176.9" r="1.15"/>
<circle cx="76.6" cy="179.1" r="1.15"/>
<circle cx="76.1" cy="183.0" r="1.15"/>
<circle cx="76.4" cy="187.1" r="1.15"/>
<circle cx="75.7" cy="189.1" r="1.15"/>
<circle cx="76.1" cy="190.9" r="1.15"/>
<circle cx="76.5" cy="193.5" r="1.15"/>
<circle cx="76.2" cy="196.2" r="1.15"/>
<circle cx="76.4" cy="198.6" r="1.15"/>
<circle cx="76.4" cy="200.9" r="1.15"/>
<circle cx="76.5" cy="205.6" r="1.15"/>
<circle cx="78.6" cy="171.6" r="1.15"/>
<circle cx="78.0" cy="174.2" r="1.15"/>
<circle cx="78.4" cy="176.8" r="1.15"/>
<circle cx="78.7" cy="178.0" r="1.15"/>
<circle cx="78.6" cy="179.8" r="1.15"/>
<circle cx="78.9" cy="181.0" r="1.15"/>
<circle cx="78.6" cy="183.3" r="1.15"/>
<circle cx="78.1" cy="185.5" r="1.15"/>
<circle cx="77.9" cy="188.2" r="1.15"/>
<circle cx="78.3" cy="190.7" r="1.15"/>
<circle cx="78.0" cy="192.7" r="1.15"/>
<circle cx="78.8" cy="195.0" r="1.15"/>
<circle cx="78.1" cy="196.6" r="1.15"/>
<circle cx="78.7" cy="198.7" r="1.15"/>
<circle cx="78.1" cy="201.3" r="1.15"/>
<circle cx="78.8" cy="204.1" r="1.15"/>
<circle cx="78.5" cy="205.3" r="1.15"/>
<circle cx="78.7" cy="207.0" r="1.15"/>
<circle cx="80.8" cy="172.2" r="1.15"/>
<circle cx="80.0" cy="176.5" r="1.15"/>
<circle cx="79.9" cy="178.5" r="1.15"/>
<circle cx="80.6" cy="180.9" r="1.15"/>
<circle cx="80.5" cy="182.4" r="1.15"/>
<circle cx="80.2" cy="184.1" r="1.15"/>
<circle cx="79.9" cy="186.1" r="1.15"/>
<circle cx="80.7" cy="187.3" r="1.15"/>
<circle cx="80.5" cy="188.8" r="1.15"/>
<circle cx="80.7" cy="193.6" r="1.15"/>
<circle cx="79.8" cy="194.9" r="1.15"/>
<circle cx="80.2" cy="196.7" r="1.15"/>
<circle cx="80.6" cy="198.2" r="1.15"/>
<circle cx="80.0" cy="200.1" r="1.15"/>
<circle cx="80.4" cy="202.4" r="1.15"/>
<circle cx="80.7" cy="206.4" r="1.15"/>
<circle cx="82.6" cy="174.1" r="1.15"/>
<circle cx="82.5" cy="176.6" r="1.15"/>
<circle cx="81.9" cy="177.9" r="1.15"/>
<circle cx="82.8" cy="179.8" r="1.15"/>
<circle cx="82.7" cy="181.0" r="1.15"/>
<circle cx="81.9" cy="182.2" r="1.15"/>
<circle cx="82.5" cy="183.5" r="1.15"/>
<circle cx="82.7" cy="185.9" r="1.15"/>
<circle cx="82.5" cy="188.2" r="1.15"/>
<circle cx="82.0" cy="191.0" r="1.15"/>
<circle cx="82.4" cy="194.4" r="1.15"/>
<circle cx="81.8" cy="196.5" r="1.15"/>
<circle cx="82.0" cy="198.2" r="1.15"/>
<circle cx="82.5" cy="200.9" r="1.15"/>
<circle cx="82.6" cy="203.2" r="1.15"/>
<circle cx="82.8" cy="205.7" r="1.15"/>
<circle cx="85.0" cy="171.4" r="1.15"/>
<circle cx="85.2" cy="173.3" r="1.15"/>
<circle cx="84.6" cy="174.5" r="1.15"/>
<circle cx="84.9" cy="175.9" r="1.15"/>
<circle cx="84.7" cy="178.6" r="1.15"/>
<circle cx="84.2" cy="179.8" r="1.15"/>
<circle cx="84.9" cy="181.0" r="1.15"/>
<circle cx="85.0" cy="182.7" r="1.15"/>
<circle cx="84.4" cy="185.2" r="1.15"/>
<circle cx="84.7" cy="187.1" r="1.15"/>
<circle cx="85.0" cy="188.8" r="1.15"/>
<circle cx="84.2" cy="191.6" r="1.15"/>
<circle cx="85.2" cy="193.8" r="1.15"/>
<circle cx="84.9" cy="196.2" r="1.15"/>
<circle cx="85.0" cy="198.3" r="1.15"/>
<circle cx="84.5" cy="199.9" r="1.15"/>
<circle cx="84.5" cy="201.9" r="1.15"/>
<circle cx="85.0" cy="204.1" r="1.15"/>
<circle cx="84.4" cy="206.3" r="1.15"/>
<circle cx="86.7" cy="172.8" r="1.15"/>
<circle cx="86.2" cy="175.9" r="1.15"/>
<circle cx="87.1" cy="178.7" r="1.15"/>
<circle cx="86.2" cy="186.7" r="1.15"/>
<circle cx="87.2" cy="188.8" r="1.15"/>
<circle cx="86.9" cy="191.2" r="1.15"/>
<circle cx="86.6" cy="195.2" r="1.15"/>
<circle cx="86.3" cy="198.1" r="1.15"/>
<circle cx="86.7" cy="199.4" r="1.15"/>
<circle cx="86.5" cy="202.1" r="1.15"/>
<circle cx="86.2" cy="204.5" r="1.15"/>
<circle cx="86.2" cy="206.6" r="1.15"/>
<circle cx="88.4" cy="173.6" r="1.15"/>
<circle cx="88.5" cy="176.2" r="1.15"/>
<circle cx="88.7" cy="178.8" r="1.15"/>
<circle cx="88.6" cy="181.4" r="1.15"/>
<circle cx="89.2" cy="184.1" r="1.15"/>
<circle cx="89.0" cy="186.7" r="1.15"/>
<circle cx="89.2" cy="191.3" r="1.15"/>
<circle cx="88.5" cy="194.2" r="1.15"/>
<circle cx="88.8" cy="196.6" r="1.15"/>
<circle cx="89.3" cy="198.6" r="1.15"/>
<circle cx="88.3" cy="201.1" r="1.15"/>
<circle cx="88.5" cy="203.7" r="1.15"/>
<circle cx="88.3" cy="205.3" r="1.15"/>
<circle cx="89.3" cy="206.6" r="1.15"/>
<circle cx="91.3" cy="176.8" r="1.15"/>
<circle cx="91.6" cy="178.8" r="1.15"/>
<circle cx="91.4" cy="181.6" r="1.15"/>
<circle cx="91.3" cy="183.3" r="1.15"/>
<circle cx="91.8" cy="185.4" r="1.15"/>
<circle cx="91.8" cy="186.8" r="1.15"/>
<circle cx="91.1" cy="189.2" r="1.15"/>
<circle cx="91.7" cy="193.7" r="1.15"/>
<circle cx="91.1" cy="196.5" r="1.15"/>
<circle cx="91.1" cy="198.4" r="1.15"/>
<circle cx="91.1" cy="200.8" r="1.15"/>
<circle cx="91.1" cy="202.7" r="1.15"/>
<circle cx="90.9" cy="204.6" r="1.15"/>
<circle cx="91.4" cy="206.2" r="1.15"/>
<circle cx="94.0" cy="178.7" r="1.15"/>
<circle cx="94.0" cy="181.0" r="1.15"/>
<circle cx="93.7" cy="183.0" r="1.15"/>
<circle cx="93.3" cy="185.8" r="1.15"/>
<circle cx="93.5" cy="188.7" r="1.15"/>
<circle cx="94.1" cy="192.5" r="1.15"/>
<circle cx="94.3" cy="193.8" r="1.15"/>
<circle cx="93.6" cy="195.9" r="1.15"/>
<circle cx="93.6" cy="199.9" r="1.15"/>
<circle cx="93.5" cy="202.2" r="1.15"/>
<circle cx="94.1" cy="203.8" r="1.15"/>
<circle cx="93.9" cy="206.5" r="1.15"/>
<circle cx="95.8" cy="181.5" r="1.15"/>
<circle cx="96.1" cy="184.2" r="1.15"/>
<circle cx="96.2" cy="185.5" r="1.15"/>
<circle cx="95.7" cy="187.0" r="1.15"/>
<circle cx="96.2" cy="191.3" r="1.15"/>
<circle cx="96.0" cy="193.4" r="1.15"/>
<circle cx="95.2" cy="195.1" r="1.15"/>
<circle cx="96.2" cy="197.9" r="1.15"/>
<circle cx="95.8" cy="200.7" r="1.15"/>
<circle cx="96.1" cy="202.6" r="1.15"/>
<circle cx="96.0" cy="204.1" r="1.15"/>
<circle cx="95.4" cy="206.0" r="1.15"/>
<circle cx="98.0" cy="185.9" r="1.15"/>
<circle cx="97.7" cy="187.2" r="1.15"/>
<circle cx="97.6" cy="189.6" r="1.15"/>
<circle cx="97.7" cy="191.3" r="1.15"/>
<circle cx="98.3" cy="193.5" r="1.15"/>
<circle cx="97.4" cy="195.8" r="1.15"/>
<circle cx="98.1" cy="197.5" r="1.15"/>
<circle cx="97.7" cy="200.1" r="1.15"/>
<circle cx="97.5" cy="202.1" r="1.15"/>
<circle cx="97.5" cy="203.4" r="1.15"/>
<circle cx="98.0" cy="205.5" r="1.15"/>
<circle cx="84.0" cy="209.5" r="1.15"/>
<circle cx="83.0" cy="211.0" r="1.15"/>
</g>
<line x1="83.4" y1="152.8" x2="83.4" y2="245.3" stroke="#B8B8B8" stroke-width="0.85" stroke-dasharray="10,3"/>
<line x1="36.4" y1="197.7" x2="129.8" y2="197.7" stroke="#B8B8B8" stroke-width="0.85" stroke-dasharray="10,3"/>
<line x1="36.4" y1="180.3" x2="129.8" y2="215.3" stroke="#86207F" stroke-width="1.05"/>
<path d="M36.4 152.8V245.3H129.8" fill="none" stroke="#555" stroke-width="0.9"/>
<line x1="34.199999999999996" y1="155.5" x2="36.4" y2="155.5" stroke="#555" stroke-width="0.8"/>
<text x="32.2" y="159.3" font-family="'Liberation Serif','Times New Roman',serif" font-size="11" text-anchor="end" fill="#0a0a0a" stroke="#0a0a0a" stroke-width="0.22" >4.1</text>
<line x1="34.199999999999996" y1="173.0" x2="36.4" y2="173.0" stroke="#555" stroke-width="0.8"/>
<text x="32.2" y="176.8" font-family="'Liberation Serif','Times New Roman',serif" font-size="11" text-anchor="end" fill="#0a0a0a" stroke="#0a0a0a" stroke-width="0.22" >2.4</text>
<line x1="34.199999999999996" y1="190.5" x2="36.4" y2="190.5" stroke="#555" stroke-width="0.8"/>
<text x="32.2" y="194.3" font-family="'Liberation Serif','Times New Roman',serif" font-size="11" text-anchor="end" fill="#0a0a0a" stroke="#0a0a0a" stroke-width="0.22" >0.7</text>
<line x1="34.199999999999996" y1="208.6" x2="36.4" y2="208.6" stroke="#555" stroke-width="0.8"/>
<text x="32.2" y="212.4" font-family="'Liberation Serif','Times New Roman',serif" font-size="11" text-anchor="end" fill="#0a0a0a" stroke="#0a0a0a" stroke-width="0.22" >−1</text>
<line x1="34.199999999999996" y1="227.6" x2="36.4" y2="227.6" stroke="#555" stroke-width="0.8"/>
<text x="32.2" y="231.4" font-family="'Liberation Serif','Times New Roman',serif" font-size="11" text-anchor="end" fill="#0a0a0a" stroke="#0a0a0a" stroke-width="0.22" >−2.7</text>
<line x1="34.199999999999996" y1="245.4" x2="36.4" y2="245.4" stroke="#555" stroke-width="0.8"/>
<text x="32.2" y="249.2" font-family="'Liberation Serif','Times New Roman',serif" font-size="11" text-anchor="end" fill="#0a0a0a" stroke="#0a0a0a" stroke-width="0.22" >−4.4</text>
<line x1="36.4" y1="245.3" x2="36.4" y2="247.5" stroke="#555" stroke-width="0.7"/>
<line x1="54.5" y1="245.3" x2="54.5" y2="247.5" stroke="#555" stroke-width="0.7"/>
<line x1="72.7" y1="245.3" x2="72.7" y2="247.5" stroke="#555" stroke-width="0.7"/>
<line x1="90.8" y1="245.3" x2="90.8" y2="247.5" stroke="#555" stroke-width="0.7"/>
<line x1="109.0" y1="245.3" x2="109.0" y2="247.5" stroke="#555" stroke-width="0.7"/>
<line x1="127.2" y1="245.3" x2="127.2" y2="247.5" stroke="#555" stroke-width="0.7"/>
<text x="52.2" y="256.4" font-family="'Liberation Serif','Times New Roman',serif" font-size="11" text-anchor="middle" fill="#0a0a0a" stroke="#0a0a0a" stroke-width="0.22" >−2.7</text>
<text x="72.2" y="256.4" font-family="'Liberation Serif','Times New Roman',serif" font-size="11" text-anchor="middle" fill="#0a0a0a" stroke="#0a0a0a" stroke-width="0.22" >−1</text>
<text x="89.4" y="256.4" font-family="'Liberation Serif','Times New Roman',serif" font-size="11" text-anchor="middle" fill="#0a0a0a" stroke="#0a0a0a" stroke-width="0.22" >0.7</text>
<text x="106.6" y="256.4" font-family="'Liberation Serif','Times New Roman',serif" font-size="11" text-anchor="middle" fill="#0a0a0a" stroke="#0a0a0a" stroke-width="0.22" >2.4</text>
<text x="124.6" y="256.4" font-family="'Liberation Serif','Times New Roman',serif" font-size="11" text-anchor="middle" fill="#0a0a0a" stroke="#0a0a0a" stroke-width="0.22" >4.1</text>
<text x="78.6" y="270.0" font-family="'Liberation Serif','Times New Roman',serif" font-size="11" text-anchor="middle" fill="#0a0a0a" stroke="#0a0a0a" stroke-width="0.22" >TES</text>
</g>
<g>
<g fill="#CFE2FF" stroke="#1560F0" stroke-width="0.95">
<circle cx="167.6" cy="168.9" r="1.15"/>
<circle cx="169.0" cy="168.9" r="1.15"/>
<circle cx="170.4" cy="168.9" r="1.15"/>
<circle cx="171.9" cy="168.9" r="1.15"/>
<circle cx="173.3" cy="168.9" r="1.15"/>
<circle cx="174.7" cy="168.9" r="1.15"/>
<circle cx="176.1" cy="168.9" r="1.15"/>
<circle cx="177.5" cy="168.9" r="1.15"/>
<circle cx="179.0" cy="168.9" r="1.15"/>
<circle cx="198.0" cy="168.9" r="1.15"/>
<circle cx="203.7" cy="168.9" r="1.15"/>
<circle cx="168.0" cy="176.2" r="1.15"/>
<circle cx="167.4" cy="178.6" r="1.15"/>
<circle cx="167.7" cy="180.8" r="1.15"/>
<circle cx="167.5" cy="182.2" r="1.15"/>
<circle cx="167.5" cy="187.3" r="1.15"/>
<circle cx="167.1" cy="188.9" r="1.15"/>
<circle cx="167.5" cy="190.9" r="1.15"/>
<circle cx="167.7" cy="193.5" r="1.15"/>
<circle cx="167.4" cy="195.1" r="1.15"/>
<circle cx="168.1" cy="196.4" r="1.15"/>
<circle cx="169.6" cy="175.3" r="1.15"/>
<circle cx="169.7" cy="178.0" r="1.15"/>
<circle cx="169.6" cy="182.5" r="1.15"/>
<circle cx="169.4" cy="184.9" r="1.15"/>
<circle cx="169.2" cy="188.8" r="1.15"/>
<circle cx="169.3" cy="191.5" r="1.15"/>
<circle cx="169.0" cy="196.0" r="1.15"/>
<circle cx="169.0" cy="197.7" r="1.15"/>
<circle cx="171.6" cy="175.8" r="1.15"/>
<circle cx="171.1" cy="178.1" r="1.15"/>
<circle cx="170.9" cy="180.4" r="1.15"/>
<circle cx="171.6" cy="181.9" r="1.15"/>
<circle cx="171.5" cy="184.1" r="1.15"/>
<circle cx="170.8" cy="186.4" r="1.15"/>
<circle cx="171.3" cy="188.9" r="1.15"/>
<circle cx="171.5" cy="190.5" r="1.15"/>
<circle cx="171.5" cy="191.8" r="1.15"/>
<circle cx="171.5" cy="193.3" r="1.15"/>
<circle cx="170.6" cy="195.2" r="1.15"/>
<circle cx="171.3" cy="197.0" r="1.15"/>
<circle cx="172.9" cy="174.6" r="1.15"/>
<circle cx="173.0" cy="176.2" r="1.15"/>
<circle cx="173.3" cy="177.7" r="1.15"/>
<circle cx="173.2" cy="180.3" r="1.15"/>
<circle cx="173.0" cy="182.5" r="1.15"/>
<circle cx="173.3" cy="184.2" r="1.15"/>
<circle cx="173.8" cy="186.6" r="1.15"/>
<circle cx="173.6" cy="189.1" r="1.15"/>
<circle cx="173.6" cy="191.0" r="1.15"/>
<circle cx="173.3" cy="192.7" r="1.15"/>
<circle cx="173.5" cy="195.3" r="1.15"/>
<circle cx="173.0" cy="197.2" r="1.15"/>
<circle cx="174.6" cy="177.0" r="1.15"/>
<circle cx="174.7" cy="179.1" r="1.15"/>
<circle cx="174.7" cy="180.3" r="1.15"/>
<circle cx="175.7" cy="182.5" r="1.15"/>
<circle cx="174.9" cy="186.8" r="1.15"/>
<circle cx="175.5" cy="188.9" r="1.15"/>
<circle cx="175.1" cy="191.3" r="1.15"/>
<circle cx="174.7" cy="193.3" r="1.15"/>
<circle cx="175.4" cy="195.2" r="1.15"/>
<circle cx="174.8" cy="196.7" r="1.15"/>
<circle cx="176.7" cy="181.1" r="1.15"/>
<circle cx="177.4" cy="183.3" r="1.15"/>
<circle cx="176.9" cy="186.1" r="1.15"/>
<circle cx="176.4" cy="188.1" r="1.15"/>
<circle cx="176.6" cy="190.0" r="1.15"/>
<circle cx="176.8" cy="191.3" r="1.15"/>
<circle cx="177.5" cy="195.5" r="1.15"/>
<circle cx="177.1" cy="197.3" r="1.15"/>
<circle cx="178.2" cy="181.9" r="1.15"/>
<circle cx="178.7" cy="183.8" r="1.15"/>
<circle cx="178.3" cy="185.3" r="1.15"/>
<circle cx="179.2" cy="186.9" r="1.15"/>
<circle cx="178.4" cy="188.2" r="1.15"/>
<circle cx="178.7" cy="190.3" r="1.15"/>
<circle cx="178.3" cy="192.7" r="1.15"/>
<circle cx="179.1" cy="194.1" r="1.15"/>
<circle cx="180.6" cy="181.7" r="1.15"/>
<circle cx="180.3" cy="183.7" r="1.15"/>
<circle cx="180.4" cy="186.2" r="1.15"/>
<circle cx="180.1" cy="193.3" r="1.15"/>
<circle cx="180.3" cy="195.2" r="1.15"/>
<circle cx="180.5" cy="197.5" r="1.15"/>
<circle cx="181.6" cy="182.7" r="1.15"/>
<circle cx="182.6" cy="184.0" r="1.15"/>
<circle cx="181.8" cy="186.2" r="1.15"/>
<circle cx="182.3" cy="187.8" r="1.15"/>
<circle cx="181.6" cy="189.7" r="1.15"/>
<circle cx="182.1" cy="194.2" r="1.15"/>
<circle cx="182.5" cy="196.5" r="1.15"/>
<circle cx="181.9" cy="198.5" r="1.15"/>
<circle cx="184.1" cy="182.0" r="1.15"/>
<circle cx="184.6" cy="183.2" r="1.15"/>
<circle cx="184.2" cy="184.6" r="1.15"/>
<circle cx="184.7" cy="186.4" r="1.15"/>
<circle cx="184.7" cy="188.8" r="1.15"/>
<circle cx="184.4" cy="190.5" r="1.15"/>
<circle cx="183.9" cy="192.9" r="1.15"/>
<circle cx="184.4" cy="195.1" r="1.15"/>
<circle cx="183.7" cy="197.9" r="1.15"/>
<circle cx="184.6" cy="199.9" r="1.15"/>
<circle cx="171.4" cy="205.2" r="1.15"/>
<circle cx="168.9" cy="209.0" r="1.15"/>
<circle cx="176.5" cy="209.0" r="1.15"/>
<circle cx="179.0" cy="209.5" r="1.15"/>
<circle cx="185.8" cy="186.4" r="1.15"/>
<circle cx="185.7" cy="189.1" r="1.15"/>
<circle cx="185.7" cy="191.5" r="1.15"/>
<circle cx="185.7" cy="193.7" r="1.15"/>
<circle cx="185.3" cy="195.0" r="1.15"/>
<circle cx="185.4" cy="196.6" r="1.15"/>
<circle cx="185.4" cy="199.4" r="1.15"/>
<circle cx="187.8" cy="184.4" r="1.15"/>
<circle cx="187.6" cy="186.1" r="1.15"/>
<circle cx="187.9" cy="187.3" r="1.15"/>
<circle cx="187.9" cy="188.7" r="1.15"/>
<circle cx="187.9" cy="190.6" r="1.15"/>
<circle cx="187.2" cy="193.2" r="1.15"/>
<circle cx="187.4" cy="195.0" r="1.15"/>
<circle cx="188.1" cy="196.1" r="1.15"/>
<circle cx="187.5" cy="197.9" r="1.15"/>
<circle cx="187.4" cy="199.8" r="1.15"/>
<circle cx="187.7" cy="202.0" r="1.15"/>
<circle cx="189.6" cy="183.7" r="1.15"/>
<circle cx="189.3" cy="186.2" r="1.15"/>
<circle cx="189.6" cy="188.8" r="1.15"/>
<circle cx="189.8" cy="190.6" r="1.15"/>
<circle cx="189.2" cy="193.1" r="1.15"/>
<circle cx="189.1" cy="194.6" r="1.15"/>
<circle cx="189.3" cy="197.6" r="1.15"/>
<circle cx="188.9" cy="199.3" r="1.15"/>
<circle cx="189.3" cy="201.2" r="1.15"/>
<circle cx="189.9" cy="202.9" r="1.15"/>
<circle cx="191.2" cy="182.6" r="1.15"/>
<circle cx="191.8" cy="184.2" r="1.15"/>
<circle cx="191.9" cy="185.9" r="1.15"/>
<circle cx="191.8" cy="187.5" r="1.15"/>
<circle cx="191.4" cy="189.3" r="1.15"/>
<circle cx="192.1" cy="193.9" r="1.15"/>
<circle cx="192.0" cy="196.3" r="1.15"/>
<circle cx="192.1" cy="199.1" r="1.15"/>
<circle cx="191.8" cy="200.7" r="1.15"/>
<circle cx="191.3" cy="202.5" r="1.15"/>
<circle cx="191.6" cy="205.3" r="1.15"/>
<circle cx="193.0" cy="181.4" r="1.15"/>
<circle cx="193.9" cy="183.1" r="1.15"/>
<circle cx="193.4" cy="185.8" r="1.15"/>
<circle cx="193.9" cy="187.9" r="1.15"/>
<circle cx="193.6" cy="189.7" r="1.15"/>
<circle cx="194.0" cy="191.1" r="1.15"/>
<circle cx="193.2" cy="192.4" r="1.15"/>
<circle cx="193.2" cy="193.9" r="1.15"/>
<circle cx="193.2" cy="195.7" r="1.15"/>
<circle cx="193.4" cy="197.8" r="1.15"/>
<circle cx="193.1" cy="200.3" r="1.15"/>
<circle cx="193.8" cy="202.9" r="1.15"/>
<circle cx="193.9" cy="204.3" r="1.15"/>
<circle cx="193.6" cy="206.0" r="1.15"/>
<circle cx="196.1" cy="178.6" r="1.15"/>
<circle cx="196.1" cy="180.3" r="1.15"/>
<circle cx="196.5" cy="182.5" r="1.15"/>
<circle cx="195.9" cy="185.3" r="1.15"/>
<circle cx="195.4" cy="187.1" r="1.15"/>
<circle cx="196.3" cy="193.4" r="1.15"/>
<circle cx="195.8" cy="194.6" r="1.15"/>
<circle cx="196.1" cy="196.0" r="1.15"/>
<circle cx="196.4" cy="199.5" r="1.15"/>
<circle cx="196.0" cy="201.1" r="1.15"/>
<circle cx="195.5" cy="202.5" r="1.15"/>
<circle cx="196.1" cy="206.5" r="1.15"/>
<circle cx="197.4" cy="177.6" r="1.15"/>
<circle cx="197.3" cy="178.9" r="1.15"/>
<circle cx="197.9" cy="180.4" r="1.15"/>
<circle cx="198.2" cy="185.4" r="1.15"/>
<circle cx="198.1" cy="186.8" r="1.15"/>
<circle cx="197.7" cy="189.0" r="1.15"/>
<circle cx="197.7" cy="190.7" r="1.15"/>
<circle cx="198.1" cy="192.5" r="1.15"/>
<circle cx="197.6" cy="194.6" r="1.15"/>
<circle cx="198.0" cy="198.6" r="1.15"/>
<circle cx="197.8" cy="200.8" r="1.15"/>
<circle cx="197.9" cy="202.3" r="1.15"/>
<circle cx="198.1" cy="204.6" r="1.15"/>
<circle cx="197.3" cy="206.9" r="1.15"/>
<circle cx="199.6" cy="177.5" r="1.15"/>
<circle cx="200.3" cy="178.9" r="1.15"/>
<circle cx="200.6" cy="181.0" r="1.15"/>
<circle cx="200.1" cy="183.8" r="1.15"/>
<circle cx="200.5" cy="185.5" r="1.15"/>
<circle cx="200.6" cy="187.8" r="1.15"/>
<circle cx="200.0" cy="189.9" r="1.15"/>
<circle cx="200.3" cy="192.3" r="1.15"/>
<circle cx="199.9" cy="193.6" r="1.15"/>
<circle cx="199.9" cy="196.3" r="1.15"/>
<circle cx="200.2" cy="198.4" r="1.15"/>
<circle cx="200.4" cy="201.1" r="1.15"/>
<circle cx="200.1" cy="203.4" r="1.15"/>
<circle cx="200.1" cy="205.3" r="1.15"/>
<circle cx="200.1" cy="206.9" r="1.15"/>
<circle cx="200.2" cy="208.4" r="1.15"/>
<circle cx="201.7" cy="176.5" r="1.15"/>
<circle cx="202.4" cy="178.7" r="1.15"/>
<circle cx="201.7" cy="181.0" r="1.15"/>
<circle cx="201.5" cy="183.5" r="1.15"/>
<circle cx="201.8" cy="186.2" r="1.15"/>
<circle cx="202.2" cy="187.8" r="1.15"/>
<circle cx="201.9" cy="189.6" r="1.15"/>
<circle cx="202.1" cy="192.1" r="1.15"/>
<circle cx="202.1" cy="193.5" r="1.15"/>
<circle cx="202.1" cy="195.3" r="1.15"/>
<circle cx="202.0" cy="198.0" r="1.15"/>
<circle cx="202.5" cy="201.9" r="1.15"/>
<circle cx="202.2" cy="204.6" r="1.15"/>
<circle cx="202.2" cy="207.3" r="1.15"/>
<circle cx="201.7" cy="209.3" r="1.15"/>
<circle cx="204.1" cy="174.9" r="1.15"/>
<circle cx="204.1" cy="178.6" r="1.15"/>
<circle cx="204.2" cy="180.1" r="1.15"/>
<circle cx="204.7" cy="182.7" r="1.15"/>
<circle cx="204.4" cy="185.0" r="1.15"/>
<circle cx="203.8" cy="186.8" r="1.15"/>
<circle cx="204.5" cy="188.8" r="1.15"/>
<circle cx="204.5" cy="190.9" r="1.15"/>
<circle cx="204.2" cy="192.4" r="1.15"/>
<circle cx="204.0" cy="193.8" r="1.15"/>
<circle cx="204.4" cy="195.9" r="1.15"/>
<circle cx="204.3" cy="198.6" r="1.15"/>
<circle cx="204.1" cy="199.9" r="1.15"/>
<circle cx="204.4" cy="201.3" r="1.15"/>
<circle cx="204.7" cy="205.0" r="1.15"/>
<circle cx="204.5" cy="207.2" r="1.15"/>
<circle cx="207.0" cy="175.7" r="1.15"/>
<circle cx="206.9" cy="176.9" r="1.15"/>
<circle cx="207.1" cy="178.0" r="1.15"/>
<circle cx="206.1" cy="180.4" r="1.15"/>
<circle cx="206.5" cy="182.4" r="1.15"/>
<circle cx="206.2" cy="184.3" r="1.15"/>
<circle cx="207.0" cy="185.5" r="1.15"/>
<circle cx="206.3" cy="188.1" r="1.15"/>
<circle cx="206.3" cy="190.8" r="1.15"/>
<circle cx="206.4" cy="193.2" r="1.15"/>
<circle cx="206.6" cy="195.9" r="1.15"/>
<circle cx="206.2" cy="197.2" r="1.15"/>
<circle cx="206.5" cy="198.3" r="1.15"/>
<circle cx="206.0" cy="200.0" r="1.15"/>
<circle cx="206.4" cy="202.0" r="1.15"/>
<circle cx="206.4" cy="204.7" r="1.15"/>
<circle cx="207.1" cy="206.6" r="1.15"/>
<circle cx="206.5" cy="208.7" r="1.15"/>
<circle cx="208.3" cy="173.6" r="1.15"/>
<circle cx="209.0" cy="175.4" r="1.15"/>
<circle cx="208.8" cy="178.2" r="1.15"/>
<circle cx="208.7" cy="179.7" r="1.15"/>
<circle cx="208.4" cy="181.6" r="1.15"/>
<circle cx="208.2" cy="186.6" r="1.15"/>
<circle cx="209.3" cy="188.2" r="1.15"/>
<circle cx="208.9" cy="190.3" r="1.15"/>
<circle cx="208.6" cy="191.9" r="1.15"/>
<circle cx="208.9" cy="194.5" r="1.15"/>
<circle cx="208.7" cy="196.5" r="1.15"/>
<circle cx="208.6" cy="199.3" r="1.15"/>
<circle cx="209.0" cy="201.3" r="1.15"/>
<circle cx="208.9" cy="204.9" r="1.15"/>
<circle cx="208.9" cy="209.6" r="1.15"/>
<circle cx="210.8" cy="173.4" r="1.15"/>
<circle cx="211.1" cy="174.8" r="1.15"/>
<circle cx="211.5" cy="176.6" r="1.15"/>
<circle cx="211.4" cy="179.1" r="1.15"/>
<circle cx="211.1" cy="181.3" r="1.15"/>
<circle cx="211.2" cy="183.7" r="1.15"/>
<circle cx="210.5" cy="186.0" r="1.15"/>
<circle cx="211.5" cy="187.9" r="1.15"/>
<circle cx="211.2" cy="189.7" r="1.15"/>
<circle cx="210.8" cy="191.1" r="1.15"/>
<circle cx="210.9" cy="192.4" r="1.15"/>
<circle cx="210.5" cy="195.1" r="1.15"/>
<circle cx="211.0" cy="196.3" r="1.15"/>
<circle cx="210.8" cy="198.7" r="1.15"/>
<circle cx="211.5" cy="200.6" r="1.15"/>
<circle cx="211.1" cy="203.3" r="1.15"/>
<circle cx="210.6" cy="204.8" r="1.15"/>
<circle cx="211.1" cy="206.4" r="1.15"/>
<circle cx="210.7" cy="208.8" r="1.15"/>
<circle cx="210.7" cy="210.8" r="1.15"/>
<circle cx="213.8" cy="173.0" r="1.15"/>
<circle cx="213.5" cy="175.4" r="1.15"/>
<circle cx="213.5" cy="177.0" r="1.15"/>
<circle cx="213.3" cy="179.0" r="1.15"/>
<circle cx="213.1" cy="180.9" r="1.15"/>
<circle cx="213.9" cy="182.4" r="1.15"/>
<circle cx="213.7" cy="185.0" r="1.15"/>
<circle cx="213.6" cy="186.4" r="1.15"/>
<circle cx="213.7" cy="187.5" r="1.15"/>
<circle cx="213.3" cy="189.0" r="1.15"/>
<circle cx="213.8" cy="191.5" r="1.15"/>
<circle cx="213.4" cy="193.2" r="1.15"/>
<circle cx="213.8" cy="196.0" r="1.15"/>
<circle cx="213.4" cy="199.2" r="1.15"/>
<circle cx="213.5" cy="200.4" r="1.15"/>
<circle cx="212.9" cy="202.9" r="1.15"/>
<circle cx="213.3" cy="205.6" r="1.15"/>
<circle cx="213.4" cy="207.0" r="1.15"/>
<circle cx="213.2" cy="208.4" r="1.15"/>
<circle cx="213.1" cy="210.9" r="1.15"/>
<circle cx="213.8" cy="213.1" r="1.15"/>
<circle cx="215.3" cy="174.2" r="1.15"/>
<circle cx="216.2" cy="176.6" r="1.15"/>
<circle cx="216.3" cy="181.6" r="1.15"/>
<circle cx="215.8" cy="184.0" r="1.15"/>
<circle cx="215.9" cy="185.2" r="1.15"/>
<circle cx="216.1" cy="187.6" r="1.15"/>
<circle cx="216.3" cy="189.0" r="1.15"/>
<circle cx="215.6" cy="191.3" r="1.15"/>
<circle cx="216.3" cy="192.5" r="1.15"/>
<circle cx="216.2" cy="193.8" r="1.15"/>
<circle cx="215.4" cy="195.6" r="1.15"/>
<circle cx="216.2" cy="197.2" r="1.15"/>
<circle cx="216.2" cy="199.3" r="1.15"/>
<circle cx="215.5" cy="201.4" r="1.15"/>
<circle cx="215.4" cy="203.1" r="1.15"/>
<circle cx="215.9" cy="205.0" r="1.15"/>
<circle cx="216.2" cy="207.6" r="1.15"/>
<circle cx="215.4" cy="209.8" r="1.15"/>
<circle cx="215.3" cy="212.6" r="1.15"/>
<circle cx="217.5" cy="174.1" r="1.15"/>
<circle cx="218.2" cy="175.7" r="1.15"/>
<circle cx="218.0" cy="177.0" r="1.15"/>
<circle cx="217.9" cy="178.4" r="1.15"/>
<circle cx="217.6" cy="180.8" r="1.15"/>
<circle cx="217.7" cy="182.8" r="1.15"/>
<circle cx="217.5" cy="184.6" r="1.15"/>
<circle cx="217.9" cy="186.3" r="1.15"/>
<circle cx="217.9" cy="188.7" r="1.15"/>
<circle cx="217.4" cy="190.5" r="1.15"/>
<circle cx="217.4" cy="195.8" r="1.15"/>
<circle cx="217.7" cy="197.1" r="1.15"/>
<circle cx="218.0" cy="198.3" r="1.15"/>
<circle cx="217.2" cy="200.8" r="1.15"/>
<circle cx="217.6" cy="203.3" r="1.15"/>
<circle cx="217.5" cy="204.7" r="1.15"/>
<circle cx="217.8" cy="206.3" r="1.15"/>
<circle cx="217.7" cy="208.9" r="1.15"/>
<circle cx="218.1" cy="210.8" r="1.15"/>
<circle cx="219.7" cy="176.2" r="1.15"/>
<circle cx="219.5" cy="178.2" r="1.15"/>
<circle cx="220.1" cy="179.5" r="1.15"/>
<circle cx="219.2" cy="182.1" r="1.15"/>
<circle cx="219.6" cy="184.7" r="1.15"/>
<circle cx="219.3" cy="186.9" r="1.15"/>
<circle cx="220.2" cy="189.5" r="1.15"/>
<circle cx="220.1" cy="194.0" r="1.15"/>
<circle cx="220.0" cy="195.4" r="1.15"/>
<circle cx="219.9" cy="196.8" r="1.15"/>
<circle cx="220.0" cy="199.1" r="1.15"/>
<circle cx="220.1" cy="200.3" r="1.15"/>
<circle cx="220.2" cy="202.4" r="1.15"/>
<circle cx="220.1" cy="204.8" r="1.15"/>
<circle cx="220.0" cy="207.5" r="1.15"/>
<circle cx="219.4" cy="209.5" r="1.15"/>
<circle cx="219.8" cy="211.1" r="1.15"/>
<circle cx="221.7" cy="176.5" r="1.15"/>
<circle cx="222.6" cy="178.2" r="1.15"/>
<circle cx="221.7" cy="180.4" r="1.15"/>
<circle cx="222.6" cy="181.6" r="1.15"/>
<circle cx="222.5" cy="183.5" r="1.15"/>
<circle cx="222.0" cy="184.8" r="1.15"/>
<circle cx="222.3" cy="186.3" r="1.15"/>
<circle cx="221.8" cy="187.7" r="1.15"/>
<circle cx="222.4" cy="189.9" r="1.15"/>
<circle cx="222.6" cy="191.8" r="1.15"/>
<circle cx="221.9" cy="193.9" r="1.15"/>
<circle cx="222.3" cy="196.7" r="1.15"/>
<circle cx="222.2" cy="201.4" r="1.15"/>
<circle cx="221.7" cy="202.7" r="1.15"/>
<circle cx="222.3" cy="205.1" r="1.15"/>
<circle cx="221.5" cy="207.7" r="1.15"/>
<circle cx="222.1" cy="209.3" r="1.15"/>
<circle cx="224.6" cy="179.4" r="1.15"/>
<circle cx="224.2" cy="181.6" r="1.15"/>
<circle cx="223.9" cy="186.6" r="1.15"/>
<circle cx="224.2" cy="188.3" r="1.15"/>
<circle cx="224.6" cy="189.8" r="1.15"/>
<circle cx="224.2" cy="194.5" r="1.15"/>
<circle cx="224.1" cy="196.8" r="1.15"/>
<circle cx="224.2" cy="198.2" r="1.15"/>
<circle cx="224.1" cy="199.5" r="1.15"/>
<circle cx="224.0" cy="201.0" r="1.15"/>
<circle cx="224.6" cy="203.5" r="1.15"/>
<circle cx="224.9" cy="205.2" r="1.15"/>
<circle cx="226.2" cy="181.9" r="1.15"/>
<circle cx="226.1" cy="184.1" r="1.15"/>
<circle cx="226.8" cy="186.9" r="1.15"/>
<circle cx="225.8" cy="188.8" r="1.15"/>
<circle cx="225.9" cy="190.8" r="1.15"/>
<circle cx="226.2" cy="193.0" r="1.15"/>
<circle cx="225.8" cy="195.2" r="1.15"/>
<circle cx="226.4" cy="196.7" r="1.15"/>
<circle cx="226.0" cy="198.6" r="1.15"/>
<circle cx="226.3" cy="200.2" r="1.15"/>
<circle cx="225.7" cy="202.2" r="1.15"/>
<circle cx="210.0" cy="222.2" r="1.15"/>
<circle cx="212.0" cy="218.0" r="1.15"/>
<circle cx="211.0" cy="216.5" r="1.15"/>
</g>
<line x1="208.8" y1="149.0" x2="208.8" y2="246.6" stroke="#B8B8B8" stroke-width="0.85" stroke-dasharray="10,3"/>
<line x1="159.9" y1="197.3" x2="259.6" y2="197.3" stroke="#B8B8B8" stroke-width="0.85" stroke-dasharray="10,3"/>
<line x1="159.9" y1="185.5" x2="258.8" y2="209.5" stroke="#86207F" stroke-width="1.05"/>
<path d="M159.9 149.0V246.6H259.6" fill="none" stroke="#555" stroke-width="0.9"/>
<line x1="157.70000000000002" y1="150.4" x2="159.9" y2="150.4" stroke="#555" stroke-width="0.8"/>
<text x="155.7" y="154.2" font-family="'Liberation Serif','Times New Roman',serif" font-size="11" text-anchor="end" fill="#0a0a0a" stroke="#0a0a0a" stroke-width="0.22" >4.1</text>
<line x1="157.70000000000002" y1="170.6" x2="159.9" y2="170.6" stroke="#555" stroke-width="0.8"/>
<text x="155.7" y="174.4" font-family="'Liberation Serif','Times New Roman',serif" font-size="11" text-anchor="end" fill="#0a0a0a" stroke="#0a0a0a" stroke-width="0.22" >2.5</text>
<line x1="157.70000000000002" y1="189.1" x2="159.9" y2="189.1" stroke="#555" stroke-width="0.8"/>
<text x="155.7" y="192.9" font-family="'Liberation Serif','Times New Roman',serif" font-size="11" text-anchor="end" fill="#0a0a0a" stroke="#0a0a0a" stroke-width="0.22" >0.8</text>
<line x1="157.70000000000002" y1="208.5" x2="159.9" y2="208.5" stroke="#555" stroke-width="0.8"/>
<text x="155.7" y="212.3" font-family="'Liberation Serif','Times New Roman',serif" font-size="11" text-anchor="end" fill="#0a0a0a" stroke="#0a0a0a" stroke-width="0.22" >−0.9</text>
<line x1="157.70000000000002" y1="228.0" x2="159.9" y2="228.0" stroke="#555" stroke-width="0.8"/>
<text x="155.7" y="231.8" font-family="'Liberation Serif','Times New Roman',serif" font-size="11" text-anchor="end" fill="#0a0a0a" stroke="#0a0a0a" stroke-width="0.22" >−2.6</text>
<line x1="157.70000000000002" y1="246.7" x2="159.9" y2="246.7" stroke="#555" stroke-width="0.8"/>
<text x="155.7" y="250.5" font-family="'Liberation Serif','Times New Roman',serif" font-size="11" text-anchor="end" fill="#0a0a0a" stroke="#0a0a0a" stroke-width="0.22" >−4.3</text>
<line x1="159.9" y1="246.6" x2="159.9" y2="248.8" stroke="#555" stroke-width="0.7"/>
<line x1="179.3" y1="246.6" x2="179.3" y2="248.8" stroke="#555" stroke-width="0.7"/>
<line x1="198.8" y1="246.6" x2="198.8" y2="248.8" stroke="#555" stroke-width="0.7"/>
<line x1="218.2" y1="246.6" x2="218.2" y2="248.8" stroke="#555" stroke-width="0.7"/>
<line x1="237.7" y1="246.6" x2="237.7" y2="248.8" stroke="#555" stroke-width="0.7"/>
<line x1="257.1" y1="246.6" x2="257.1" y2="248.8" stroke="#555" stroke-width="0.7"/>
<text x="171.5" y="257.8" font-family="'Liberation Serif','Times New Roman',serif" font-size="11" text-anchor="middle" fill="#0a0a0a" stroke="#0a0a0a" stroke-width="0.22" >−2.6</text>
<text x="196.4" y="257.8" font-family="'Liberation Serif','Times New Roman',serif" font-size="11" text-anchor="middle" fill="#0a0a0a" stroke="#0a0a0a" stroke-width="0.22" >−0.9</text>
<text x="217.0" y="257.8" font-family="'Liberation Serif','Times New Roman',serif" font-size="11" text-anchor="middle" fill="#0a0a0a" stroke="#0a0a0a" stroke-width="0.22" >0.8</text>
<text x="234.6" y="257.8" font-family="'Liberation Serif','Times New Roman',serif" font-size="11" text-anchor="middle" fill="#0a0a0a" stroke="#0a0a0a" stroke-width="0.22" >2.5</text>
<text x="256.4" y="257.8" font-family="'Liberation Serif','Times New Roman',serif" font-size="11" text-anchor="middle" fill="#0a0a0a" stroke="#0a0a0a" stroke-width="0.22" >4.1</text>
<text x="208.0" y="269.6" font-family="'Liberation Serif','Times New Roman',serif" font-size="11" text-anchor="middle" fill="#0a0a0a" stroke="#0a0a0a" stroke-width="0.22" >TES</text>
</g>
<g>
<g fill="#CFE2FF" stroke="#1560F0" stroke-width="0.95">
<circle cx="294.4" cy="171.4" r="1.15"/>
<circle cx="318.5" cy="171.4" r="1.15"/>
<circle cx="321.5" cy="171.4" r="1.15"/>
<circle cx="324.5" cy="171.4" r="1.15"/>
<circle cx="327.4" cy="171.4" r="1.15"/>
<circle cx="290.5" cy="185.5" r="1.15"/>
<circle cx="291.0" cy="188.9" r="1.15"/>
<circle cx="291.1" cy="190.5" r="1.15"/>
<circle cx="290.9" cy="198.4" r="1.15"/>
<circle cx="290.9" cy="200.7" r="1.15"/>
<circle cx="290.1" cy="202.9" r="1.15"/>
<circle cx="290.8" cy="205.5" r="1.15"/>
<circle cx="290.9" cy="210.8" r="1.15"/>
<circle cx="292.8" cy="183.1" r="1.15"/>
<circle cx="292.2" cy="186.6" r="1.15"/>
<circle cx="292.4" cy="188.4" r="1.15"/>
<circle cx="291.8" cy="206.6" r="1.15"/>
<circle cx="292.1" cy="212.3" r="1.15"/>
<circle cx="294.0" cy="183.1" r="1.15"/>
<circle cx="294.9" cy="185.5" r="1.15"/>
<circle cx="295.0" cy="188.3" r="1.15"/>
<circle cx="294.6" cy="189.9" r="1.15"/>
<circle cx="294.4" cy="191.1" r="1.15"/>
<circle cx="294.0" cy="193.3" r="1.15"/>
<circle cx="295.0" cy="195.9" r="1.15"/>
<circle cx="294.4" cy="198.6" r="1.15"/>
<circle cx="294.6" cy="202.8" r="1.15"/>
<circle cx="294.4" cy="205.5" r="1.15"/>
<circle cx="294.3" cy="207.9" r="1.15"/>
<circle cx="294.5" cy="210.7" r="1.15"/>
<circle cx="294.6" cy="211.9" r="1.15"/>
<circle cx="294.6" cy="213.1" r="1.15"/>
<circle cx="296.0" cy="193.3" r="1.15"/>
<circle cx="296.6" cy="197.2" r="1.15"/>
<circle cx="296.3" cy="198.9" r="1.15"/>
<circle cx="296.3" cy="200.6" r="1.15"/>
<circle cx="296.8" cy="203.6" r="1.15"/>
<circle cx="296.8" cy="205.3" r="1.15"/>
<circle cx="296.4" cy="206.8" r="1.15"/>
<circle cx="296.3" cy="209.2" r="1.15"/>
<circle cx="297.9" cy="191.8" r="1.15"/>
<circle cx="298.7" cy="193.8" r="1.15"/>
<circle cx="298.1" cy="196.4" r="1.15"/>
<circle cx="297.9" cy="201.4" r="1.15"/>
<circle cx="298.3" cy="204.7" r="1.15"/>
<circle cx="298.8" cy="206.5" r="1.15"/>
<circle cx="298.8" cy="207.9" r="1.15"/>
<circle cx="299.9" cy="192.6" r="1.15"/>
<circle cx="299.6" cy="194.4" r="1.15"/>
<circle cx="300.5" cy="196.5" r="1.15"/>
<circle cx="300.4" cy="204.8" r="1.15"/>
<circle cx="300.3" cy="206.3" r="1.15"/>
<circle cx="300.6" cy="208.3" r="1.15"/>
<circle cx="299.8" cy="210.5" r="1.15"/>
<circle cx="300.4" cy="213.1" r="1.15"/>
<circle cx="302.0" cy="197.0" r="1.15"/>
<circle cx="301.6" cy="199.6" r="1.15"/>
<circle cx="301.8" cy="201.2" r="1.15"/>
<circle cx="301.4" cy="204.3" r="1.15"/>
<circle cx="302.4" cy="205.6" r="1.15"/>
<circle cx="301.9" cy="208.2" r="1.15"/>
<circle cx="301.7" cy="209.9" r="1.15"/>
<circle cx="301.7" cy="212.2" r="1.15"/>
<circle cx="303.9" cy="189.8" r="1.15"/>
<circle cx="303.3" cy="191.6" r="1.15"/>
<circle cx="304.0" cy="193.4" r="1.15"/>
<circle cx="303.5" cy="197.4" r="1.15"/>
<circle cx="303.7" cy="203.2" r="1.15"/>
<circle cx="303.6" cy="205.5" r="1.15"/>
<circle cx="304.1" cy="210.1" r="1.15"/>
<circle cx="303.6" cy="212.6" r="1.15"/>
<circle cx="306.1" cy="192.9" r="1.15"/>
<circle cx="305.9" cy="194.7" r="1.15"/>
<circle cx="306.1" cy="195.8" r="1.15"/>
<circle cx="305.4" cy="196.9" r="1.15"/>
<circle cx="305.3" cy="199.2" r="1.15"/>
<circle cx="306.2" cy="201.5" r="1.15"/>
<circle cx="306.1" cy="206.1" r="1.15"/>
<circle cx="305.8" cy="207.1" r="1.15"/>
<circle cx="306.1" cy="209.2" r="1.15"/>
<circle cx="305.6" cy="211.7" r="1.15"/>
<circle cx="308.0" cy="189.7" r="1.15"/>
<circle cx="307.6" cy="191.3" r="1.15"/>
<circle cx="307.2" cy="192.9" r="1.15"/>
<circle cx="307.3" cy="196.3" r="1.15"/>
<circle cx="307.9" cy="198.4" r="1.15"/>
<circle cx="307.8" cy="200.2" r="1.15"/>
<circle cx="307.2" cy="202.6" r="1.15"/>
<circle cx="307.9" cy="206.6" r="1.15"/>
<circle cx="307.3" cy="207.9" r="1.15"/>
<circle cx="307.4" cy="209.8" r="1.15"/>
<circle cx="307.6" cy="213.3" r="1.15"/>
<circle cx="309.3" cy="189.4" r="1.15"/>
<circle cx="309.5" cy="191.2" r="1.15"/>
<circle cx="310.1" cy="192.8" r="1.15"/>
<circle cx="309.8" cy="195.7" r="1.15"/>
<circle cx="310.1" cy="199.9" r="1.15"/>
<circle cx="310.1" cy="202.2" r="1.15"/>
<circle cx="309.5" cy="204.7" r="1.15"/>
<circle cx="310.0" cy="206.1" r="1.15"/>
<circle cx="309.6" cy="210.0" r="1.15"/>
<circle cx="310.2" cy="211.3" r="1.15"/>
<circle cx="310.2" cy="213.7" r="1.15"/>
<circle cx="311.4" cy="189.9" r="1.15"/>
<circle cx="311.7" cy="192.2" r="1.15"/>
<circle cx="311.3" cy="194.2" r="1.15"/>
<circle cx="311.9" cy="195.7" r="1.15"/>
<circle cx="312.4" cy="197.0" r="1.15"/>
<circle cx="311.5" cy="198.6" r="1.15"/>
<circle cx="311.5" cy="200.1" r="1.15"/>
<circle cx="312.2" cy="205.2" r="1.15"/>
<circle cx="312.0" cy="206.7" r="1.15"/>
<circle cx="312.2" cy="208.9" r="1.15"/>
<circle cx="311.9" cy="211.4" r="1.15"/>
<circle cx="311.7" cy="212.6" r="1.15"/>
<circle cx="314.3" cy="189.4" r="1.15"/>
<circle cx="314.5" cy="191.4" r="1.15"/>
<circle cx="314.6" cy="193.4" r="1.15"/>
<circle cx="314.4" cy="194.6" r="1.15"/>
<circle cx="314.3" cy="196.6" r="1.15"/>
<circle cx="313.8" cy="198.3" r="1.15"/>
<circle cx="314.4" cy="199.4" r="1.15"/>
<circle cx="314.0" cy="201.3" r="1.15"/>
<circle cx="314.5" cy="202.7" r="1.15"/>
<circle cx="313.8" cy="203.8" r="1.15"/>
<circle cx="313.9" cy="206.0" r="1.15"/>
<circle cx="314.4" cy="207.6" r="1.15"/>
<circle cx="313.7" cy="210.3" r="1.15"/>
<circle cx="314.4" cy="211.5" r="1.15"/>
<circle cx="314.0" cy="212.8" r="1.15"/>
<circle cx="316.0" cy="189.4" r="1.15"/>
<circle cx="316.5" cy="191.0" r="1.15"/>
<circle cx="316.2" cy="192.9" r="1.15"/>
<circle cx="316.8" cy="195.1" r="1.15"/>
<circle cx="316.5" cy="199.1" r="1.15"/>
<circle cx="316.8" cy="203.2" r="1.15"/>
<circle cx="316.7" cy="204.9" r="1.15"/>
<circle cx="316.6" cy="206.0" r="1.15"/>
<circle cx="316.4" cy="207.7" r="1.15"/>
<circle cx="315.9" cy="209.0" r="1.15"/>
<circle cx="316.4" cy="210.8" r="1.15"/>
<circle cx="316.8" cy="186.9" r="1.15"/>
<circle cx="316.8" cy="188.7" r="1.15"/>
<circle cx="317.5" cy="192.4" r="1.15"/>
<circle cx="317.4" cy="193.8" r="1.15"/>
<circle cx="317.6" cy="196.5" r="1.15"/>
<circle cx="317.8" cy="198.2" r="1.15"/>
<circle cx="317.6" cy="200.9" r="1.15"/>
<circle cx="316.8" cy="202.8" r="1.15"/>
<circle cx="316.9" cy="204.1" r="1.15"/>
<circle cx="317.3" cy="206.1" r="1.15"/>
<circle cx="317.1" cy="207.9" r="1.15"/>
<circle cx="317.2" cy="209.9" r="1.15"/>
<circle cx="317.5" cy="211.3" r="1.15"/>
<circle cx="317.3" cy="213.1" r="1.15"/>
<circle cx="319.5" cy="178.1" r="1.15"/>
<circle cx="318.9" cy="179.5" r="1.15"/>
<circle cx="319.1" cy="181.0" r="1.15"/>
<circle cx="318.8" cy="182.4" r="1.15"/>
<circle cx="318.7" cy="183.9" r="1.15"/>
<circle cx="319.1" cy="185.1" r="1.15"/>
<circle cx="319.1" cy="187.4" r="1.15"/>
<circle cx="319.7" cy="189.2" r="1.15"/>
<circle cx="319.2" cy="190.7" r="1.15"/>
<circle cx="319.0" cy="192.2" r="1.15"/>
<circle cx="319.5" cy="193.5" r="1.15"/>
<circle cx="319.2" cy="195.1" r="1.15"/>
<circle cx="318.9" cy="197.9" r="1.15"/>
<circle cx="319.3" cy="199.4" r="1.15"/>
<circle cx="319.4" cy="201.2" r="1.15"/>
<circle cx="318.7" cy="204.0" r="1.15"/>
<circle cx="318.8" cy="205.2" r="1.15"/>
<circle cx="319.4" cy="206.4" r="1.15"/>
<circle cx="319.7" cy="209.0" r="1.15"/>
<circle cx="319.7" cy="211.0" r="1.15"/>
<circle cx="319.0" cy="213.7" r="1.15"/>
<circle cx="322.0" cy="176.7" r="1.15"/>
<circle cx="321.4" cy="178.0" r="1.15"/>
<circle cx="321.9" cy="181.7" r="1.15"/>
<circle cx="322.1" cy="184.3" r="1.15"/>
<circle cx="321.3" cy="186.1" r="1.15"/>
<circle cx="321.4" cy="188.5" r="1.15"/>
<circle cx="321.7" cy="190.0" r="1.15"/>
<circle cx="321.6" cy="192.3" r="1.15"/>
<circle cx="321.1" cy="193.7" r="1.15"/>
<circle cx="321.8" cy="195.7" r="1.15"/>
<circle cx="322.0" cy="197.0" r="1.15"/>
<circle cx="322.0" cy="199.2" r="1.15"/>
<circle cx="321.9" cy="201.1" r="1.15"/>
<circle cx="321.2" cy="202.8" r="1.15"/>
<circle cx="321.2" cy="206.0" r="1.15"/>
<circle cx="321.3" cy="207.3" r="1.15"/>
<circle cx="321.8" cy="208.5" r="1.15"/>
<circle cx="321.3" cy="210.6" r="1.15"/>
<circle cx="321.7" cy="213.4" r="1.15"/>
<circle cx="324.0" cy="177.6" r="1.15"/>
<circle cx="323.5" cy="179.1" r="1.15"/>
<circle cx="323.4" cy="181.7" r="1.15"/>
<circle cx="324.4" cy="184.5" r="1.15"/>
<circle cx="323.6" cy="185.7" r="1.15"/>
<circle cx="324.1" cy="188.3" r="1.15"/>
<circle cx="323.8" cy="190.7" r="1.15"/>
<circle cx="323.5" cy="192.9" r="1.15"/>
<circle cx="324.3" cy="195.5" r="1.15"/>
<circle cx="323.9" cy="197.0" r="1.15"/>
<circle cx="323.8" cy="199.4" r="1.15"/>
<circle cx="324.0" cy="201.3" r="1.15"/>
<circle cx="324.1" cy="203.7" r="1.15"/>
<circle cx="323.8" cy="205.9" r="1.15"/>
<circle cx="323.9" cy="208.7" r="1.15"/>
<circle cx="323.6" cy="210.0" r="1.15"/>
<circle cx="324.3" cy="212.8" r="1.15"/>
<circle cx="326.0" cy="178.3" r="1.15"/>
<circle cx="326.4" cy="183.8" r="1.15"/>
<circle cx="326.6" cy="188.3" r="1.15"/>
<circle cx="326.4" cy="189.8" r="1.15"/>
<circle cx="326.3" cy="191.4" r="1.15"/>
<circle cx="325.9" cy="192.7" r="1.15"/>
<circle cx="326.4" cy="194.5" r="1.15"/>
<circle cx="325.7" cy="196.9" r="1.15"/>
<circle cx="325.6" cy="198.6" r="1.15"/>
<circle cx="326.3" cy="200.0" r="1.15"/>
<circle cx="325.7" cy="205.5" r="1.15"/>
<circle cx="326.1" cy="207.1" r="1.15"/>
<circle cx="326.5" cy="209.2" r="1.15"/>
<circle cx="326.5" cy="210.8" r="1.15"/>
<circle cx="325.8" cy="213.3" r="1.15"/>
<circle cx="327.9" cy="176.7" r="1.15"/>
<circle cx="327.5" cy="178.2" r="1.15"/>
<circle cx="328.4" cy="180.6" r="1.15"/>
<circle cx="327.3" cy="184.3" r="1.15"/>
<circle cx="327.4" cy="186.2" r="1.15"/>
<circle cx="327.7" cy="188.3" r="1.15"/>
<circle cx="327.8" cy="189.8" r="1.15"/>
<circle cx="327.8" cy="191.4" r="1.15"/>
<circle cx="328.3" cy="193.6" r="1.15"/>
<circle cx="327.5" cy="196.1" r="1.15"/>
<circle cx="327.9" cy="198.6" r="1.15"/>
<circle cx="327.6" cy="201.1" r="1.15"/>
<circle cx="328.0" cy="202.6" r="1.15"/>
<circle cx="328.3" cy="207.2" r="1.15"/>
<circle cx="327.8" cy="209.7" r="1.15"/>
<circle cx="327.5" cy="211.7" r="1.15"/>
<circle cx="330.2" cy="177.8" r="1.15"/>
<circle cx="329.9" cy="181.1" r="1.15"/>
<circle cx="330.3" cy="182.9" r="1.15"/>
<circle cx="329.4" cy="185.6" r="1.15"/>
<circle cx="329.9" cy="187.8" r="1.15"/>
<circle cx="330.3" cy="189.4" r="1.15"/>
<circle cx="329.8" cy="190.7" r="1.15"/>
<circle cx="330.4" cy="192.7" r="1.15"/>
<circle cx="330.4" cy="195.0" r="1.15"/>
<circle cx="330.3" cy="196.4" r="1.15"/>
<circle cx="330.4" cy="198.1" r="1.15"/>
<circle cx="329.8" cy="200.8" r="1.15"/>
<circle cx="329.6" cy="202.5" r="1.15"/>
<circle cx="329.6" cy="205.3" r="1.15"/>
<circle cx="329.9" cy="206.8" r="1.15"/>
<circle cx="330.0" cy="209.2" r="1.15"/>
<circle cx="329.7" cy="211.7" r="1.15"/>
<circle cx="329.6" cy="214.5" r="1.15"/>
<circle cx="331.5" cy="178.8" r="1.15"/>
<circle cx="332.3" cy="181.6" r="1.15"/>
<circle cx="331.4" cy="185.4" r="1.15"/>
<circle cx="331.5" cy="186.6" r="1.15"/>
<circle cx="332.2" cy="188.1" r="1.15"/>
<circle cx="331.4" cy="191.3" r="1.15"/>
<circle cx="331.4" cy="194.8" r="1.15"/>
<circle cx="332.3" cy="196.1" r="1.15"/>
<circle cx="332.3" cy="197.4" r="1.15"/>
<circle cx="332.3" cy="201.8" r="1.15"/>
<circle cx="331.6" cy="203.8" r="1.15"/>
<circle cx="332.1" cy="204.9" r="1.15"/>
<circle cx="331.8" cy="207.4" r="1.15"/>
<circle cx="331.9" cy="209.5" r="1.15"/>
<circle cx="331.9" cy="212.0" r="1.15"/>
<circle cx="333.9" cy="180.7" r="1.15"/>
<circle cx="334.7" cy="182.2" r="1.15"/>
<circle cx="333.8" cy="184.0" r="1.15"/>
<circle cx="334.5" cy="185.2" r="1.15"/>
<circle cx="334.2" cy="188.0" r="1.15"/>
<circle cx="334.2" cy="190.5" r="1.15"/>
<circle cx="334.3" cy="192.4" r="1.15"/>
<circle cx="334.0" cy="194.1" r="1.15"/>
<circle cx="334.3" cy="195.8" r="1.15"/>
<circle cx="333.9" cy="201.2" r="1.15"/>
<circle cx="333.8" cy="204.0" r="1.15"/>
<circle cx="334.0" cy="206.0" r="1.15"/>
<circle cx="334.7" cy="208.2" r="1.15"/>
<circle cx="334.2" cy="210.2" r="1.15"/>
<circle cx="336.2" cy="179.0" r="1.15"/>
<circle cx="335.8" cy="181.6" r="1.15"/>
<circle cx="336.8" cy="184.2" r="1.15"/>
<circle cx="336.3" cy="185.9" r="1.15"/>
<circle cx="336.6" cy="188.6" r="1.15"/>
<circle cx="336.0" cy="190.9" r="1.15"/>
<circle cx="336.1" cy="192.9" r="1.15"/>
<circle cx="336.3" cy="195.2" r="1.15"/>
<circle cx="336.1" cy="196.6" r="1.15"/>
<circle cx="335.8" cy="198.8" r="1.15"/>
<circle cx="335.7" cy="200.5" r="1.15"/>
<circle cx="336.6" cy="204.6" r="1.15"/>
<circle cx="335.8" cy="209.0" r="1.15"/>
<circle cx="336.2" cy="211.7" r="1.15"/>
<circle cx="335.9" cy="214.4" r="1.15"/>
<circle cx="338.2" cy="178.0" r="1.15"/>
<circle cx="338.1" cy="179.1" r="1.15"/>
<circle cx="338.4" cy="180.7" r="1.15"/>
<circle cx="338.6" cy="182.6" r="1.15"/>
<circle cx="338.9" cy="184.5" r="1.15"/>
<circle cx="338.3" cy="186.8" r="1.15"/>
<circle cx="338.4" cy="190.5" r="1.15"/>
<circle cx="338.8" cy="192.4" r="1.15"/>
<circle cx="338.5" cy="194.1" r="1.15"/>
<circle cx="338.3" cy="196.7" r="1.15"/>
<circle cx="337.9" cy="198.0" r="1.15"/>
<circle cx="338.5" cy="200.7" r="1.15"/>
<circle cx="338.4" cy="202.0" r="1.15"/>
<circle cx="338.2" cy="204.6" r="1.15"/>
<circle cx="338.4" cy="207.5" r="1.15"/>
<circle cx="338.9" cy="208.9" r="1.15"/>
<circle cx="338.5" cy="210.3" r="1.15"/>
<circle cx="338.9" cy="212.1" r="1.15"/>
<circle cx="340.6" cy="178.2" r="1.15"/>
<circle cx="341.1" cy="179.9" r="1.15"/>
<circle cx="341.2" cy="181.4" r="1.15"/>
<circle cx="340.3" cy="184.5" r="1.15"/>
<circle cx="340.6" cy="185.7" r="1.15"/>
<circle cx="340.2" cy="188.3" r="1.15"/>
<circle cx="340.3" cy="190.2" r="1.15"/>
<circle cx="340.9" cy="191.7" r="1.15"/>
<circle cx="340.4" cy="193.5" r="1.15"/>
<circle cx="340.4" cy="195.3" r="1.15"/>
<circle cx="340.9" cy="197.7" r="1.15"/>
<circle cx="341.0" cy="199.9" r="1.15"/>
<circle cx="340.8" cy="201.7" r="1.15"/>
<circle cx="340.2" cy="203.9" r="1.15"/>
<circle cx="340.7" cy="206.4" r="1.15"/>
<circle cx="341.1" cy="208.5" r="1.15"/>
<circle cx="341.0" cy="210.8" r="1.15"/>
<circle cx="341.2" cy="213.6" r="1.15"/>
<circle cx="342.8" cy="179.2" r="1.15"/>
<circle cx="342.6" cy="181.3" r="1.15"/>
<circle cx="342.6" cy="183.9" r="1.15"/>
<circle cx="342.5" cy="186.5" r="1.15"/>
<circle cx="342.2" cy="188.6" r="1.15"/>
<circle cx="342.6" cy="189.9" r="1.15"/>
<circle cx="343.0" cy="191.6" r="1.15"/>
<circle cx="342.3" cy="196.2" r="1.15"/>
<circle cx="342.8" cy="197.4" r="1.15"/>
<circle cx="342.6" cy="199.1" r="1.15"/>
<circle cx="342.6" cy="200.7" r="1.15"/>
<circle cx="342.6" cy="202.5" r="1.15"/>
<circle cx="342.2" cy="204.2" r="1.15"/>
<circle cx="342.5" cy="206.0" r="1.15"/>
<circle cx="342.1" cy="208.1" r="1.15"/>
<circle cx="342.6" cy="210.1" r="1.15"/>
<circle cx="342.6" cy="211.5" r="1.15"/>
<circle cx="342.6" cy="214.2" r="1.15"/>
<circle cx="344.8" cy="179.2" r="1.15"/>
<circle cx="344.1" cy="182.5" r="1.15"/>
<circle cx="344.4" cy="185.3" r="1.15"/>
<circle cx="344.0" cy="187.3" r="1.15"/>
<circle cx="344.6" cy="190.1" r="1.15"/>
<circle cx="344.6" cy="192.8" r="1.15"/>
<circle cx="344.3" cy="195.2" r="1.15"/>
<circle cx="344.6" cy="198.1" r="1.15"/>
<circle cx="344.1" cy="199.5" r="1.15"/>
<circle cx="344.8" cy="201.5" r="1.15"/>
<circle cx="344.6" cy="203.9" r="1.15"/>
<circle cx="344.1" cy="205.8" r="1.15"/>
<circle cx="344.2" cy="207.8" r="1.15"/>
<circle cx="344.5" cy="209.1" r="1.15"/>
<circle cx="344.3" cy="210.6" r="1.15"/>
<circle cx="344.6" cy="213.3" r="1.15"/>
<circle cx="346.6" cy="184.4" r="1.15"/>
<circle cx="346.6" cy="185.9" r="1.15"/>
<circle cx="346.4" cy="188.3" r="1.15"/>
<circle cx="346.3" cy="189.7" r="1.15"/>
<circle cx="345.7" cy="191.9" r="1.15"/>
<circle cx="345.7" cy="194.1" r="1.15"/>
<circle cx="346.4" cy="195.2" r="1.15"/>
<circle cx="346.7" cy="197.0" r="1.15"/>
<circle cx="346.3" cy="199.2" r="1.15"/>
<circle cx="346.3" cy="200.4" r="1.15"/>
<circle cx="346.1" cy="201.8" r="1.15"/>
<circle cx="346.0" cy="204.8" r="1.15"/>
<circle cx="346.3" cy="207.3" r="1.15"/>
<circle cx="346.1" cy="209.0" r="1.15"/>
<circle cx="345.8" cy="211.5" r="1.15"/>
<circle cx="345.9" cy="213.4" r="1.15"/>
<circle cx="347.7" cy="190.9" r="1.15"/>
<circle cx="347.9" cy="192.1" r="1.15"/>
<circle cx="348.5" cy="194.2" r="1.15"/>
<circle cx="348.5" cy="196.4" r="1.15"/>
<circle cx="348.0" cy="198.4" r="1.15"/>
<circle cx="348.3" cy="199.6" r="1.15"/>
<circle cx="348.2" cy="203.1" r="1.15"/>
<circle cx="348.8" cy="205.9" r="1.15"/>
<circle cx="348.2" cy="207.2" r="1.15"/>
<circle cx="348.2" cy="210.6" r="1.15"/>
<circle cx="332.0" cy="218.4" r="1.15"/>
<circle cx="333.5" cy="217.0" r="1.15"/>
<circle cx="332.5" cy="221.0" r="1.15"/>
</g>
<line x1="331.3" y1="150.5" x2="331.3" y2="247.0" stroke="#B8B8B8" stroke-width="0.85" stroke-dasharray="10,3"/>
<line x1="282.0" y1="198.8" x2="380.0" y2="197.9" stroke="#86207F" stroke-width="1.05"/>
<path d="M282.0 150.5V247.0H380.2" fill="none" stroke="#555" stroke-width="0.9"/>
<line x1="279.8" y1="150.4" x2="282.0" y2="150.4" stroke="#555" stroke-width="0.8"/>
<text x="277.8" y="154.2" font-family="'Liberation Serif','Times New Roman',serif" font-size="11" text-anchor="end" fill="#0a0a0a" stroke="#0a0a0a" stroke-width="0.22" >4.1</text>
<line x1="279.8" y1="171.0" x2="282.0" y2="171.0" stroke="#555" stroke-width="0.8"/>
<text x="277.8" y="174.8" font-family="'Liberation Serif','Times New Roman',serif" font-size="11" text-anchor="end" fill="#0a0a0a" stroke="#0a0a0a" stroke-width="0.22" >2.5</text>
<line x1="279.8" y1="189.5" x2="282.0" y2="189.5" stroke="#555" stroke-width="0.8"/>
<text x="277.8" y="193.3" font-family="'Liberation Serif','Times New Roman',serif" font-size="11" text-anchor="end" fill="#0a0a0a" stroke="#0a0a0a" stroke-width="0.22" >0.8</text>
<line x1="279.8" y1="208.5" x2="282.0" y2="208.5" stroke="#555" stroke-width="0.8"/>
<text x="277.8" y="212.3" font-family="'Liberation Serif','Times New Roman',serif" font-size="11" text-anchor="end" fill="#0a0a0a" stroke="#0a0a0a" stroke-width="0.22" >−0.9</text>
<line x1="279.8" y1="228.0" x2="282.0" y2="228.0" stroke="#555" stroke-width="0.8"/>
<text x="277.8" y="231.8" font-family="'Liberation Serif','Times New Roman',serif" font-size="11" text-anchor="end" fill="#0a0a0a" stroke="#0a0a0a" stroke-width="0.22" >−2.6</text>
<line x1="279.8" y1="246.8" x2="282.0" y2="246.8" stroke="#555" stroke-width="0.8"/>
<text x="277.8" y="250.6" font-family="'Liberation Serif','Times New Roman',serif" font-size="11" text-anchor="end" fill="#0a0a0a" stroke="#0a0a0a" stroke-width="0.22" >−4.3</text>
<line x1="282.0" y1="247.0" x2="282.0" y2="249.2" stroke="#555" stroke-width="0.7"/>
<line x1="301.4" y1="247.0" x2="301.4" y2="249.2" stroke="#555" stroke-width="0.7"/>
<line x1="320.9" y1="247.0" x2="320.9" y2="249.2" stroke="#555" stroke-width="0.7"/>
<line x1="340.4" y1="247.0" x2="340.4" y2="249.2" stroke="#555" stroke-width="0.7"/>
<line x1="359.8" y1="247.0" x2="359.8" y2="249.2" stroke="#555" stroke-width="0.7"/>
<line x1="379.2" y1="247.0" x2="379.2" y2="249.2" stroke="#555" stroke-width="0.7"/>
<text x="295.0" y="257.8" font-family="'Liberation Serif','Times New Roman',serif" font-size="11" text-anchor="middle" fill="#0a0a0a" stroke="#0a0a0a" stroke-width="0.22" >−2.6</text>
<text x="315.4" y="257.8" font-family="'Liberation Serif','Times New Roman',serif" font-size="11" text-anchor="middle" fill="#0a0a0a" stroke="#0a0a0a" stroke-width="0.22" >−0.9</text>
<text x="340.2" y="257.8" font-family="'Liberation Serif','Times New Roman',serif" font-size="11" text-anchor="middle" fill="#0a0a0a" stroke="#0a0a0a" stroke-width="0.22" >0.8</text>
<text x="358.4" y="257.8" font-family="'Liberation Serif','Times New Roman',serif" font-size="11" text-anchor="middle" fill="#0a0a0a" stroke="#0a0a0a" stroke-width="0.22" >2.5</text>
<text x="377.0" y="257.8" font-family="'Liberation Serif','Times New Roman',serif" font-size="11" text-anchor="middle" fill="#0a0a0a" stroke="#0a0a0a" stroke-width="0.22" >4.1</text>
<text x="330.2" y="268.8" font-family="'Liberation Serif','Times New Roman',serif" font-size="11" text-anchor="middle" fill="#0a0a0a" stroke="#0a0a0a" stroke-width="0.22" >TES</text>
</g>
<g>
<g fill="#CFE2FF" stroke="#1560F0" stroke-width="0.95">
<circle cx="452.5" cy="169.4" r="1.15"/>
<circle cx="454.5" cy="169.4" r="1.15"/>
<circle cx="456.3" cy="169.4" r="1.15"/>
<circle cx="409.2" cy="204.2" r="1.15"/>
<circle cx="409.2" cy="205.6" r="1.15"/>
<circle cx="411.7" cy="205.2" r="1.15"/>
<circle cx="411.2" cy="206.8" r="1.15"/>
<circle cx="414.4" cy="205.2" r="1.15"/>
<circle cx="414.2" cy="206.7" r="1.15"/>
<circle cx="416.5" cy="205.2" r="1.15"/>
<circle cx="416.0" cy="207.5" r="1.15"/>
<circle cx="418.2" cy="205.2" r="1.15"/>
<circle cx="420.5" cy="205.0" r="1.15"/>
<circle cx="420.2" cy="207.1" r="1.15"/>
<circle cx="423.0" cy="203.3" r="1.15"/>
<circle cx="422.9" cy="205.0" r="1.15"/>
<circle cx="424.4" cy="179.4" r="1.15"/>
<circle cx="424.4" cy="181.1" r="1.15"/>
<circle cx="424.2" cy="183.2" r="1.15"/>
<circle cx="424.9" cy="184.5" r="1.15"/>
<circle cx="424.4" cy="186.7" r="1.15"/>
<circle cx="424.1" cy="188.1" r="1.15"/>
<circle cx="425.1" cy="190.4" r="1.15"/>
<circle cx="425.1" cy="194.0" r="1.15"/>
<circle cx="425.1" cy="196.5" r="1.15"/>
<circle cx="426.9" cy="178.9" r="1.15"/>
<circle cx="427.4" cy="180.2" r="1.15"/>
<circle cx="426.4" cy="181.9" r="1.15"/>
<circle cx="426.8" cy="183.4" r="1.15"/>
<circle cx="427.5" cy="185.0" r="1.15"/>
<circle cx="426.4" cy="186.9" r="1.15"/>
<circle cx="427.1" cy="188.1" r="1.15"/>
<circle cx="426.9" cy="189.5" r="1.15"/>
<circle cx="427.2" cy="192.4" r="1.15"/>
<circle cx="426.8" cy="196.2" r="1.15"/>
<circle cx="426.7" cy="197.4" r="1.15"/>
<circle cx="429.0" cy="179.2" r="1.15"/>
<circle cx="429.0" cy="180.8" r="1.15"/>
<circle cx="428.8" cy="183.4" r="1.15"/>
<circle cx="429.8" cy="186.2" r="1.15"/>
<circle cx="429.4" cy="188.0" r="1.15"/>
<circle cx="429.3" cy="190.5" r="1.15"/>
<circle cx="429.7" cy="191.8" r="1.15"/>
<circle cx="429.1" cy="194.5" r="1.15"/>
<circle cx="429.4" cy="196.7" r="1.15"/>
<circle cx="429.4" cy="199.3" r="1.15"/>
<circle cx="429.7" cy="201.6" r="1.15"/>
<circle cx="429.8" cy="204.3" r="1.15"/>
<circle cx="428.8" cy="207.1" r="1.15"/>
<circle cx="430.6" cy="180.1" r="1.15"/>
<circle cx="431.2" cy="181.6" r="1.15"/>
<circle cx="430.8" cy="184.0" r="1.15"/>
<circle cx="430.6" cy="185.1" r="1.15"/>
<circle cx="431.4" cy="187.8" r="1.15"/>
<circle cx="431.2" cy="190.2" r="1.15"/>
<circle cx="431.3" cy="192.9" r="1.15"/>
<circle cx="431.4" cy="194.6" r="1.15"/>
<circle cx="430.6" cy="196.5" r="1.15"/>
<circle cx="431.1" cy="197.7" r="1.15"/>
<circle cx="430.7" cy="200.4" r="1.15"/>
<circle cx="431.1" cy="202.1" r="1.15"/>
<circle cx="431.5" cy="203.3" r="1.15"/>
<circle cx="431.0" cy="204.6" r="1.15"/>
<circle cx="430.8" cy="207.0" r="1.15"/>
<circle cx="432.9" cy="179.5" r="1.15"/>
<circle cx="433.2" cy="181.4" r="1.15"/>
<circle cx="432.6" cy="182.6" r="1.15"/>
<circle cx="432.8" cy="184.3" r="1.15"/>
<circle cx="433.3" cy="186.8" r="1.15"/>
<circle cx="432.9" cy="188.2" r="1.15"/>
<circle cx="433.4" cy="189.9" r="1.15"/>
<circle cx="432.7" cy="192.3" r="1.15"/>
<circle cx="433.2" cy="194.4" r="1.15"/>
<circle cx="432.6" cy="196.3" r="1.15"/>
<circle cx="433.2" cy="198.9" r="1.15"/>
<circle cx="433.1" cy="201.7" r="1.15"/>
<circle cx="433.4" cy="203.9" r="1.15"/>
<circle cx="432.7" cy="205.9" r="1.15"/>
<circle cx="433.1" cy="208.5" r="1.15"/>
<circle cx="434.9" cy="179.8" r="1.15"/>
<circle cx="434.4" cy="181.1" r="1.15"/>
<circle cx="435.2" cy="183.7" r="1.15"/>
<circle cx="434.6" cy="185.4" r="1.15"/>
<circle cx="434.7" cy="187.6" r="1.15"/>
<circle cx="434.9" cy="190.4" r="1.15"/>
<circle cx="434.2" cy="192.1" r="1.15"/>
<circle cx="435.1" cy="193.2" r="1.15"/>
<circle cx="435.3" cy="195.8" r="1.15"/>
<circle cx="434.8" cy="197.2" r="1.15"/>
<circle cx="435.1" cy="199.3" r="1.15"/>
<circle cx="434.9" cy="202.1" r="1.15"/>
<circle cx="434.9" cy="204.4" r="1.15"/>
<circle cx="435.2" cy="206.9" r="1.15"/>
<circle cx="435.2" cy="208.8" r="1.15"/>
<circle cx="436.1" cy="178.7" r="1.15"/>
<circle cx="435.9" cy="181.6" r="1.15"/>
<circle cx="435.8" cy="183.4" r="1.15"/>
<circle cx="435.7" cy="185.3" r="1.15"/>
<circle cx="436.1" cy="187.3" r="1.15"/>
<circle cx="435.5" cy="191.3" r="1.15"/>
<circle cx="435.8" cy="196.8" r="1.15"/>
<circle cx="435.7" cy="198.1" r="1.15"/>
<circle cx="436.3" cy="200.8" r="1.15"/>
<circle cx="435.8" cy="202.2" r="1.15"/>
<circle cx="436.3" cy="205.0" r="1.15"/>
<circle cx="436.5" cy="207.3" r="1.15"/>
<circle cx="435.6" cy="208.9" r="1.15"/>
<circle cx="435.8" cy="210.2" r="1.15"/>
<circle cx="438.2" cy="180.2" r="1.15"/>
<circle cx="438.0" cy="182.5" r="1.15"/>
<circle cx="438.0" cy="185.3" r="1.15"/>
<circle cx="438.0" cy="187.4" r="1.15"/>
<circle cx="437.4" cy="189.5" r="1.15"/>
<circle cx="437.3" cy="192.1" r="1.15"/>
<circle cx="437.5" cy="193.5" r="1.15"/>
<circle cx="438.2" cy="195.3" r="1.15"/>
<circle cx="437.7" cy="197.0" r="1.15"/>
<circle cx="437.3" cy="198.2" r="1.15"/>
<circle cx="437.4" cy="201.0" r="1.15"/>
<circle cx="437.5" cy="203.6" r="1.15"/>
<circle cx="438.0" cy="205.6" r="1.15"/>
<circle cx="438.3" cy="207.1" r="1.15"/>
<circle cx="439.9" cy="179.9" r="1.15"/>
<circle cx="440.3" cy="181.2" r="1.15"/>
<circle cx="440.2" cy="182.9" r="1.15"/>
<circle cx="439.9" cy="185.1" r="1.15"/>
<circle cx="440.0" cy="186.6" r="1.15"/>
<circle cx="439.9" cy="188.3" r="1.15"/>
<circle cx="440.2" cy="190.0" r="1.15"/>
<circle cx="440.0" cy="192.7" r="1.15"/>
<circle cx="439.8" cy="195.0" r="1.15"/>
<circle cx="439.3" cy="197.9" r="1.15"/>
<circle cx="439.9" cy="200.2" r="1.15"/>
<circle cx="439.5" cy="202.4" r="1.15"/>
<circle cx="440.3" cy="203.6" r="1.15"/>
<circle cx="440.3" cy="206.0" r="1.15"/>
<circle cx="439.3" cy="208.5" r="1.15"/>
<circle cx="439.9" cy="211.1" r="1.15"/>
<circle cx="441.7" cy="178.4" r="1.15"/>
<circle cx="442.3" cy="180.1" r="1.15"/>
<circle cx="441.9" cy="182.7" r="1.15"/>
<circle cx="442.0" cy="184.8" r="1.15"/>
<circle cx="442.5" cy="187.6" r="1.15"/>
<circle cx="442.4" cy="189.3" r="1.15"/>
<circle cx="441.7" cy="191.6" r="1.15"/>
<circle cx="442.5" cy="192.8" r="1.15"/>
<circle cx="442.0" cy="194.4" r="1.15"/>
<circle cx="441.9" cy="196.6" r="1.15"/>
<circle cx="442.1" cy="198.8" r="1.15"/>
<circle cx="441.8" cy="200.0" r="1.15"/>
<circle cx="442.4" cy="202.7" r="1.15"/>
<circle cx="441.8" cy="205.4" r="1.15"/>
<circle cx="442.5" cy="208.2" r="1.15"/>
<circle cx="441.9" cy="210.2" r="1.15"/>
<circle cx="444.9" cy="178.6" r="1.15"/>
<circle cx="444.7" cy="181.6" r="1.15"/>
<circle cx="444.9" cy="184.3" r="1.15"/>
<circle cx="444.0" cy="185.7" r="1.15"/>
<circle cx="444.2" cy="188.2" r="1.15"/>
<circle cx="444.3" cy="189.4" r="1.15"/>
<circle cx="444.4" cy="192.2" r="1.15"/>
<circle cx="444.2" cy="195.0" r="1.15"/>
<circle cx="444.9" cy="203.7" r="1.15"/>
<circle cx="444.1" cy="205.0" r="1.15"/>
<circle cx="444.6" cy="207.0" r="1.15"/>
<circle cx="444.9" cy="208.7" r="1.15"/>
<circle cx="444.1" cy="211.2" r="1.15"/>
<circle cx="446.6" cy="180.6" r="1.15"/>
<circle cx="446.7" cy="182.3" r="1.15"/>
<circle cx="446.3" cy="185.1" r="1.15"/>
<circle cx="445.9" cy="187.9" r="1.15"/>
<circle cx="446.7" cy="189.4" r="1.15"/>
<circle cx="445.9" cy="192.1" r="1.15"/>
<circle cx="446.3" cy="193.8" r="1.15"/>
<circle cx="446.4" cy="195.2" r="1.15"/>
<circle cx="446.0" cy="196.9" r="1.15"/>
<circle cx="446.7" cy="198.1" r="1.15"/>
<circle cx="446.2" cy="200.0" r="1.15"/>
<circle cx="446.4" cy="202.1" r="1.15"/>
<circle cx="446.1" cy="204.9" r="1.15"/>
<circle cx="446.5" cy="207.1" r="1.15"/>
<circle cx="446.4" cy="209.4" r="1.15"/>
<circle cx="445.9" cy="211.9" r="1.15"/>
<circle cx="448.5" cy="179.9" r="1.15"/>
<circle cx="448.6" cy="181.3" r="1.15"/>
<circle cx="448.2" cy="186.1" r="1.15"/>
<circle cx="448.2" cy="188.2" r="1.15"/>
<circle cx="448.4" cy="190.8" r="1.15"/>
<circle cx="448.5" cy="192.2" r="1.15"/>
<circle cx="448.6" cy="195.0" r="1.15"/>
<circle cx="448.7" cy="197.2" r="1.15"/>
<circle cx="448.9" cy="199.8" r="1.15"/>
<circle cx="448.4" cy="202.3" r="1.15"/>
<circle cx="448.4" cy="203.9" r="1.15"/>
<circle cx="448.4" cy="206.5" r="1.15"/>
<circle cx="448.9" cy="208.1" r="1.15"/>
<circle cx="448.3" cy="210.8" r="1.15"/>
<circle cx="448.8" cy="211.9" r="1.15"/>
<circle cx="449.9" cy="176.8" r="1.15"/>
<circle cx="450.4" cy="179.5" r="1.15"/>
<circle cx="449.7" cy="182.3" r="1.15"/>
<circle cx="449.5" cy="187.9" r="1.15"/>
<circle cx="449.9" cy="189.5" r="1.15"/>
<circle cx="450.2" cy="190.8" r="1.15"/>
<circle cx="450.1" cy="193.0" r="1.15"/>
<circle cx="449.9" cy="195.3" r="1.15"/>
<circle cx="450.3" cy="196.7" r="1.15"/>
<circle cx="449.8" cy="198.4" r="1.15"/>
<circle cx="450.2" cy="200.5" r="1.15"/>
<circle cx="450.0" cy="203.2" r="1.15"/>
<circle cx="449.8" cy="205.1" r="1.15"/>
<circle cx="450.0" cy="207.5" r="1.15"/>
<circle cx="449.6" cy="209.1" r="1.15"/>
<circle cx="450.0" cy="211.0" r="1.15"/>
<circle cx="449.7" cy="213.2" r="1.15"/>
<circle cx="452.0" cy="177.3" r="1.15"/>
<circle cx="452.0" cy="179.0" r="1.15"/>
<circle cx="452.0" cy="180.5" r="1.15"/>
<circle cx="452.0" cy="182.2" r="1.15"/>
<circle cx="452.0" cy="184.9" r="1.15"/>
<circle cx="451.8" cy="187.4" r="1.15"/>
<circle cx="451.7" cy="190.3" r="1.15"/>
<circle cx="452.4" cy="192.9" r="1.15"/>
<circle cx="452.0" cy="195.0" r="1.15"/>
<circle cx="451.9" cy="197.8" r="1.15"/>
<circle cx="452.0" cy="199.7" r="1.15"/>
<circle cx="451.8" cy="201.0" r="1.15"/>
<circle cx="452.8" cy="202.2" r="1.15"/>
<circle cx="452.3" cy="204.1" r="1.15"/>
<circle cx="452.1" cy="206.9" r="1.15"/>
<circle cx="452.1" cy="209.2" r="1.15"/>
<circle cx="452.2" cy="211.6" r="1.15"/>
<circle cx="452.5" cy="214.4" r="1.15"/>
<circle cx="453.5" cy="174.7" r="1.15"/>
<circle cx="454.0" cy="176.4" r="1.15"/>
<circle cx="454.5" cy="178.8" r="1.15"/>
<circle cx="454.5" cy="180.5" r="1.15"/>
<circle cx="454.0" cy="188.8" r="1.15"/>
<circle cx="454.1" cy="191.2" r="1.15"/>
<circle cx="453.5" cy="195.0" r="1.15"/>
<circle cx="454.2" cy="197.6" r="1.15"/>
<circle cx="454.0" cy="199.2" r="1.15"/>
<circle cx="454.0" cy="201.8" r="1.15"/>
<circle cx="453.6" cy="203.7" r="1.15"/>
<circle cx="454.3" cy="206.3" r="1.15"/>
<circle cx="454.3" cy="208.7" r="1.15"/>
<circle cx="453.9" cy="210.4" r="1.15"/>
<circle cx="454.1" cy="211.9" r="1.15"/>
<circle cx="456.4" cy="178.3" r="1.15"/>
<circle cx="456.8" cy="180.7" r="1.15"/>
<circle cx="456.1" cy="183.1" r="1.15"/>
<circle cx="456.5" cy="185.3" r="1.15"/>
<circle cx="456.8" cy="186.7" r="1.15"/>
<circle cx="455.8" cy="189.4" r="1.15"/>
<circle cx="456.0" cy="191.9" r="1.15"/>
<circle cx="456.4" cy="194.4" r="1.15"/>
<circle cx="455.9" cy="196.0" r="1.15"/>
<circle cx="456.5" cy="197.9" r="1.15"/>
<circle cx="455.9" cy="199.5" r="1.15"/>
<circle cx="455.8" cy="201.7" r="1.15"/>
<circle cx="456.0" cy="203.1" r="1.15"/>
<circle cx="456.2" cy="204.3" r="1.15"/>
<circle cx="456.6" cy="206.4" r="1.15"/>
<circle cx="456.5" cy="209.1" r="1.15"/>
<circle cx="455.9" cy="210.5" r="1.15"/>
<circle cx="456.6" cy="213.1" r="1.15"/>
<circle cx="458.4" cy="174.4" r="1.15"/>
<circle cx="458.8" cy="176.2" r="1.15"/>
<circle cx="458.7" cy="178.4" r="1.15"/>
<circle cx="458.6" cy="180.8" r="1.15"/>
<circle cx="458.8" cy="182.7" r="1.15"/>
<circle cx="458.0" cy="184.0" r="1.15"/>
<circle cx="458.4" cy="185.9" r="1.15"/>
<circle cx="458.4" cy="188.5" r="1.15"/>
<circle cx="458.1" cy="190.1" r="1.15"/>
<circle cx="458.4" cy="191.2" r="1.15"/>
<circle cx="458.8" cy="193.9" r="1.15"/>
<circle cx="458.7" cy="196.4" r="1.15"/>
<circle cx="458.4" cy="201.5" r="1.15"/>
<circle cx="458.0" cy="203.7" r="1.15"/>
<circle cx="457.9" cy="206.4" r="1.15"/>
<circle cx="458.3" cy="208.0" r="1.15"/>
<circle cx="458.1" cy="209.3" r="1.15"/>
<circle cx="458.0" cy="211.9" r="1.15"/>
<circle cx="458.1" cy="214.4" r="1.15"/>
<circle cx="459.7" cy="174.8" r="1.15"/>
<circle cx="459.9" cy="176.7" r="1.15"/>
<circle cx="460.6" cy="179.1" r="1.15"/>
<circle cx="460.4" cy="181.9" r="1.15"/>
<circle cx="459.8" cy="183.6" r="1.15"/>
<circle cx="460.1" cy="186.0" r="1.15"/>
<circle cx="460.0" cy="187.3" r="1.15"/>
<circle cx="460.1" cy="189.4" r="1.15"/>
<circle cx="460.4" cy="193.4" r="1.15"/>
<circle cx="459.7" cy="195.3" r="1.15"/>
<circle cx="460.6" cy="197.6" r="1.15"/>
<circle cx="460.1" cy="200.3" r="1.15"/>
<circle cx="460.0" cy="203.1" r="1.15"/>
<circle cx="460.2" cy="205.2" r="1.15"/>
<circle cx="459.8" cy="206.6" r="1.15"/>
<circle cx="459.9" cy="208.4" r="1.15"/>
<circle cx="459.7" cy="210.6" r="1.15"/>
<circle cx="459.9" cy="212.5" r="1.15"/>
<circle cx="460.3" cy="214.1" r="1.15"/>
<circle cx="462.0" cy="174.1" r="1.15"/>
<circle cx="462.3" cy="176.7" r="1.15"/>
<circle cx="462.6" cy="178.2" r="1.15"/>
<circle cx="462.6" cy="179.6" r="1.15"/>
<circle cx="462.2" cy="181.4" r="1.15"/>
<circle cx="462.2" cy="183.2" r="1.15"/>
<circle cx="462.9" cy="184.6" r="1.15"/>
<circle cx="462.8" cy="187.0" r="1.15"/>
<circle cx="462.7" cy="188.9" r="1.15"/>
<circle cx="462.0" cy="190.2" r="1.15"/>
<circle cx="462.6" cy="192.4" r="1.15"/>
<circle cx="462.7" cy="193.7" r="1.15"/>
<circle cx="462.1" cy="194.9" r="1.15"/>
<circle cx="462.3" cy="198.5" r="1.15"/>
<circle cx="462.2" cy="202.5" r="1.15"/>
<circle cx="462.4" cy="205.0" r="1.15"/>
<circle cx="462.8" cy="207.7" r="1.15"/>
<circle cx="462.6" cy="209.9" r="1.15"/>
<circle cx="462.2" cy="213.7" r="1.15"/>
<circle cx="464.3" cy="179.4" r="1.15"/>
<circle cx="464.4" cy="181.0" r="1.15"/>
<circle cx="464.1" cy="182.3" r="1.15"/>
<circle cx="464.2" cy="185.0" r="1.15"/>
<circle cx="464.3" cy="187.4" r="1.15"/>
<circle cx="464.7" cy="190.1" r="1.15"/>
<circle cx="464.2" cy="192.1" r="1.15"/>
<circle cx="464.3" cy="193.7" r="1.15"/>
<circle cx="464.8" cy="195.8" r="1.15"/>
<circle cx="464.5" cy="198.1" r="1.15"/>
<circle cx="464.6" cy="202.2" r="1.15"/>
<circle cx="464.5" cy="203.9" r="1.15"/>
<circle cx="464.2" cy="205.7" r="1.15"/>
<circle cx="464.5" cy="207.2" r="1.15"/>
<circle cx="464.5" cy="211.9" r="1.15"/>
<circle cx="464.3" cy="213.9" r="1.15"/>
<circle cx="455.0" cy="217.9" r="1.15"/>
<circle cx="457.5" cy="218.0" r="1.15"/>
<circle cx="460.0" cy="217.9" r="1.15"/>
<circle cx="467.7" cy="181.6" r="1.15"/>
<circle cx="468.5" cy="185.4" r="1.15"/>
</g>
<line x1="450.3" y1="151.3" x2="450.3" y2="248.0" stroke="#B8B8B8" stroke-width="0.85" stroke-dasharray="10,3"/>
<line x1="401.9" y1="199.6" x2="498.8" y2="198.1" stroke="#86207F" stroke-width="1.05"/>
<path d="M401.9 151.3V248.0H498.6" fill="none" stroke="#555" stroke-width="0.9"/>
<line x1="399.7" y1="153.4" x2="401.9" y2="153.4" stroke="#555" stroke-width="0.8"/>
<text x="397.7" y="157.2" font-family="'Liberation Serif','Times New Roman',serif" font-size="11" text-anchor="end" fill="#0a0a0a" stroke="#0a0a0a" stroke-width="0.22" >4.1</text>
<line x1="399.7" y1="174.2" x2="401.9" y2="174.2" stroke="#555" stroke-width="0.8"/>
<text x="397.7" y="178.0" font-family="'Liberation Serif','Times New Roman',serif" font-size="11" text-anchor="end" fill="#0a0a0a" stroke="#0a0a0a" stroke-width="0.22" >2.5</text>
<line x1="399.7" y1="192.7" x2="401.9" y2="192.7" stroke="#555" stroke-width="0.8"/>
<text x="397.7" y="196.5" font-family="'Liberation Serif','Times New Roman',serif" font-size="11" text-anchor="end" fill="#0a0a0a" stroke="#0a0a0a" stroke-width="0.22" >0.8</text>
<line x1="399.7" y1="210.8" x2="401.9" y2="210.8" stroke="#555" stroke-width="0.8"/>
<text x="397.7" y="214.6" font-family="'Liberation Serif','Times New Roman',serif" font-size="11" text-anchor="end" fill="#0a0a0a" stroke="#0a0a0a" stroke-width="0.22" >−0.9</text>
<line x1="399.7" y1="229.9" x2="401.9" y2="229.9" stroke="#555" stroke-width="0.8"/>
<text x="397.7" y="233.7" font-family="'Liberation Serif','Times New Roman',serif" font-size="11" text-anchor="end" fill="#0a0a0a" stroke="#0a0a0a" stroke-width="0.22" >−2.6</text>
<line x1="399.7" y1="248.3" x2="401.9" y2="248.3" stroke="#555" stroke-width="0.8"/>
<text x="397.7" y="252.1" font-family="'Liberation Serif','Times New Roman',serif" font-size="11" text-anchor="end" fill="#0a0a0a" stroke="#0a0a0a" stroke-width="0.22" >−4.3</text>
<line x1="401.9" y1="248.0" x2="401.9" y2="250.2" stroke="#555" stroke-width="0.7"/>
<line x1="421.1" y1="248.0" x2="421.1" y2="250.2" stroke="#555" stroke-width="0.7"/>
<line x1="440.3" y1="248.0" x2="440.3" y2="250.2" stroke="#555" stroke-width="0.7"/>
<line x1="459.5" y1="248.0" x2="459.5" y2="250.2" stroke="#555" stroke-width="0.7"/>
<line x1="478.7" y1="248.0" x2="478.7" y2="250.2" stroke="#555" stroke-width="0.7"/>
<line x1="497.9" y1="248.0" x2="497.9" y2="250.2" stroke="#555" stroke-width="0.7"/>
<text x="413.8" y="258.6" font-family="'Liberation Serif','Times New Roman',serif" font-size="11" text-anchor="middle" fill="#0a0a0a" stroke="#0a0a0a" stroke-width="0.22" >−2.6</text>
<text x="437.7" y="258.6" font-family="'Liberation Serif','Times New Roman',serif" font-size="11" text-anchor="middle" fill="#0a0a0a" stroke="#0a0a0a" stroke-width="0.22" >−0.9</text>
<text x="459.7" y="258.6" font-family="'Liberation Serif','Times New Roman',serif" font-size="11" text-anchor="middle" fill="#0a0a0a" stroke="#0a0a0a" stroke-width="0.22" >0.8</text>
<text x="477.0" y="258.6" font-family="'Liberation Serif','Times New Roman',serif" font-size="11" text-anchor="middle" fill="#0a0a0a" stroke="#0a0a0a" stroke-width="0.22" >2.5</text>
<text x="497.5" y="258.6" font-family="'Liberation Serif','Times New Roman',serif" font-size="11" text-anchor="middle" fill="#0a0a0a" stroke="#0a0a0a" stroke-width="0.22" >4.1</text>
<text x="450.4" y="269.6" font-family="'Liberation Serif','Times New Roman',serif" font-size="11" text-anchor="middle" fill="#0a0a0a" stroke="#0a0a0a" stroke-width="0.22" >TES</text>
</g>
</svg>
</body></html>
